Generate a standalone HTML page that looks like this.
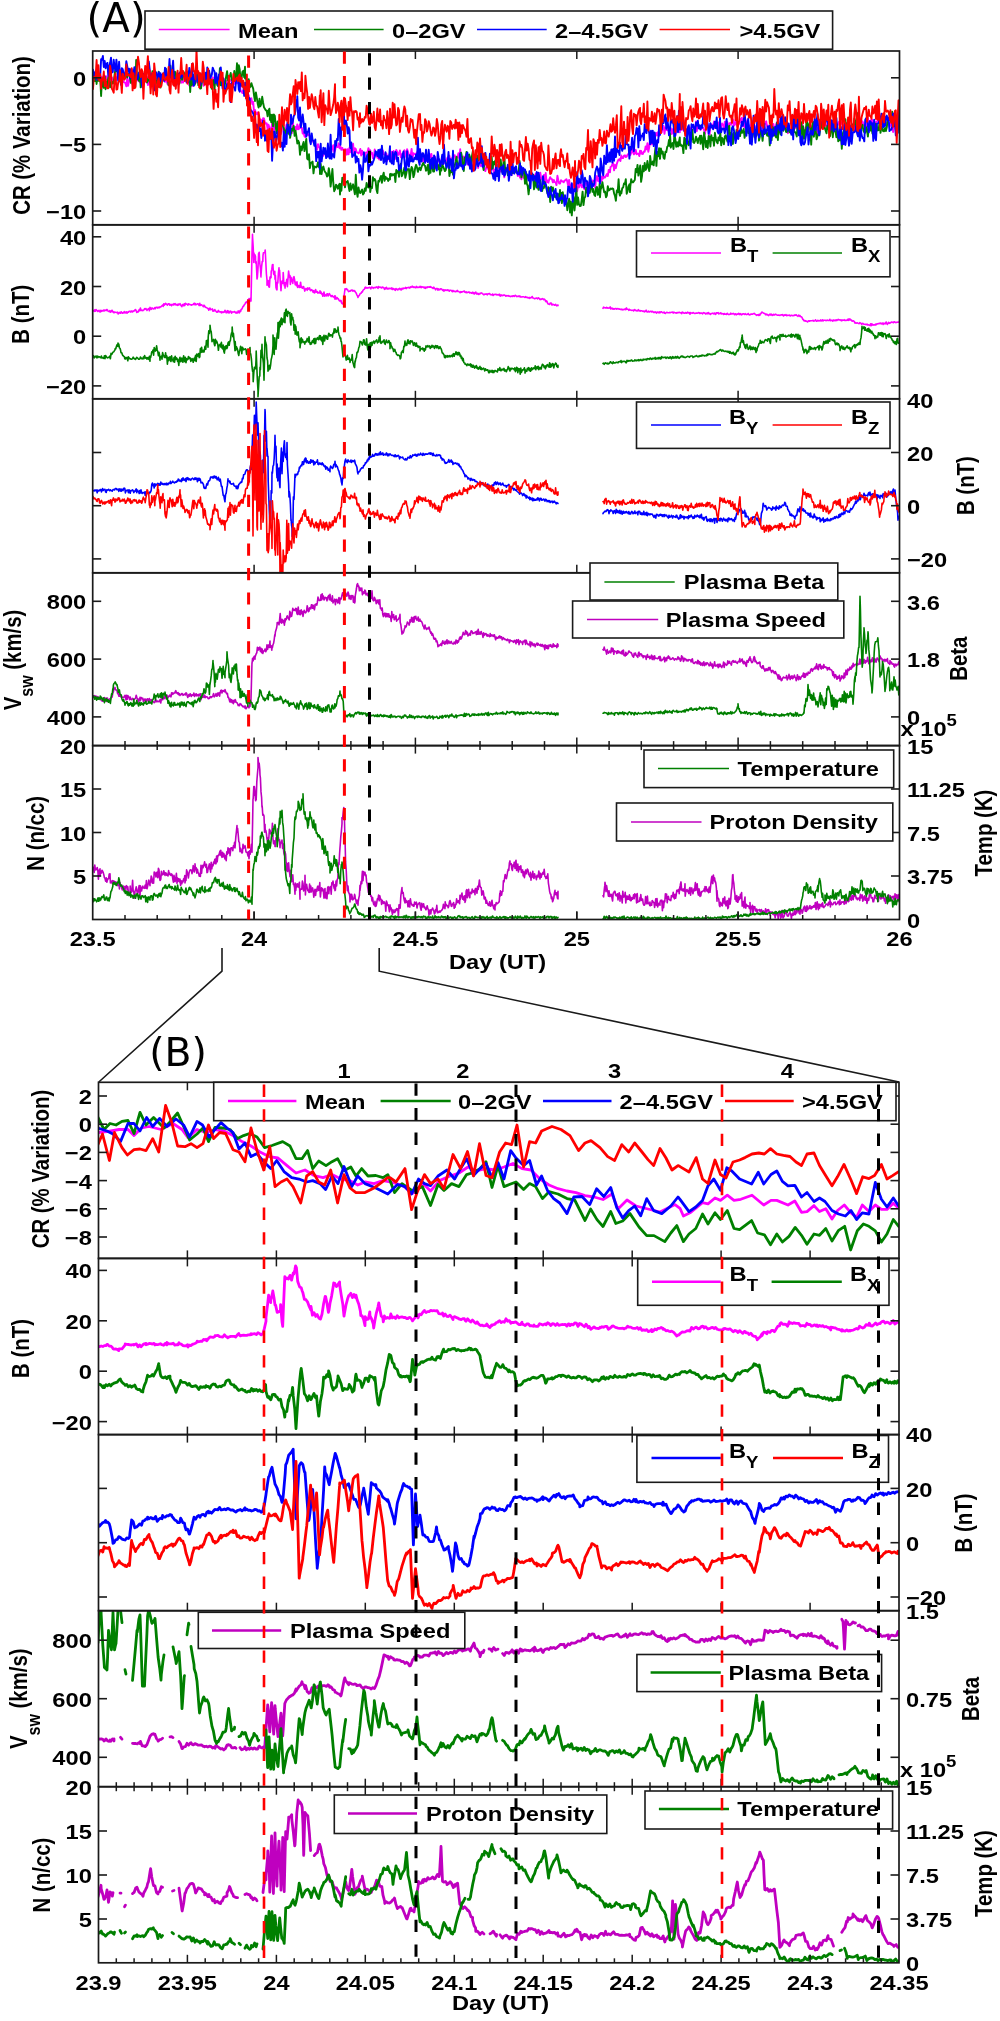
<!DOCTYPE html>
<html><head><meta charset="utf-8"><title>Figure</title><style>html,body{margin:0;padding:0;background:#fff;}svg{display:block;filter:blur(0.4px);}</style></head><body>
<svg width="1000" height="2021" viewBox="0 0 1000 2021">
<rect width="100%" height="100%" fill="#fff"/>
<defs>
<clipPath id="ca0"><rect x="92.7" y="51" width="806.8" height="173.8"/></clipPath>
<clipPath id="cb0"><rect x="98.5" y="1082.3" width="800.5" height="176.1"/></clipPath>
<clipPath id="ca1"><rect x="92.7" y="224.8" width="806.8" height="174"/></clipPath>
<clipPath id="cb1"><rect x="98.5" y="1258.4" width="800.5" height="176.2"/></clipPath>
<clipPath id="ca2"><rect x="92.7" y="398.8" width="806.8" height="174"/></clipPath>
<clipPath id="cb2"><rect x="98.5" y="1434.6" width="800.5" height="176.1"/></clipPath>
<clipPath id="ca3"><rect x="92.7" y="572.8" width="806.8" height="172.8"/></clipPath>
<clipPath id="cb3"><rect x="98.5" y="1610.7" width="800.5" height="176"/></clipPath>
<clipPath id="ca4"><rect x="92.7" y="745.6" width="806.8" height="173.9"/></clipPath>
<clipPath id="cb4"><rect x="98.5" y="1786.7" width="800.5" height="176.1"/></clipPath>
</defs>
<path d="M93 82.2 L93.9 76.8 L94.8 76.4 L95.7 70.6 L96.6 78.2 L97.5 77.8 L98.4 77.6 L99.3 80.2 L100.2 80.7 L101.1 76.6 L102 77.3 L102.9 78.5 L103.8 81.9 L104.7 81.6 L105.6 76.2 L106.5 76.7 L107.4 81.6 L108.3 83.8 L109.2 79 L110.1 76.8 L111 81.5 L111.9 77.4 L112.8 80.2 L113.7 82.4 L114.6 79.9 L115.5 78.2 L116.4 80.1 L117.3 76.6 L118.2 78.3 L119.1 77.7 L120 79 L120.9 78.7 L121.8 80.1 L122.7 80.2 L123.6 82.1 L124.5 82.3 L125.4 83.2 L126.3 86.3 L127.2 78 L128.1 85.9 L129 81.4 L129.9 78.3 L130.8 80.9 L131.7 81.2 L132.6 83.4 L133.5 77 L134.4 80.2 L135.3 79.6 L136.2 74.4 L137.1 75.6 L138 80.7 L138.9 81 L139.8 82.3 L140.7 80.9 L141.6 80.8 L142.5 80.4 L143.4 83.6 L144.3 78.2 L145.2 80.4 L146.1 82.1 L147 76.8 L147.9 85 L148.8 79.3 L149.7 81.5 L150.6 87.7 L151.5 79.3 L152.4 80.1 L153.3 86 L154.2 78.5 L155.1 80.4 L156 82.9 L156.9 82.8 L157.8 83 L158.7 82.3 L159.6 84.9 L160.5 83.8 L161.4 82.5 L162.3 78.7 L163.2 78.4 L164.1 74.8 L165 81.9 L165.9 74.7 L166.8 81.9 L167.7 84.3 L168.6 76 L169.5 76.7 L170.4 77.2 L171.3 80.7 L172.2 75.8 L173.1 77.8 L174 76.8 L174.9 77.6 L175.8 81.8 L176.7 75.9 L177.6 78.9 L178.5 79.8 L179.4 81.4 L180.3 75.9 L181.2 82.7 L182.1 81.1 L183 82.6 L183.9 80.5 L184.8 75.8 L185.7 78.6 L186.6 82.7 L187.5 80.7 L188.4 80.3 L189.3 85.5 L190.2 86.7 L191.1 80.5 L192 86.1 L192.9 75 L193.8 75 L194.7 83.2 L195.6 80.2 L196.5 82.5 L197.4 82.3 L198.3 80.6 L199.2 82.8 L200.1 81.3 L201 76.6 L201.9 81.6 L202.8 81.3 L203.7 85.7 L204.6 77.3 L205.5 80.4 L206.4 79.1 L207.3 79.9 L208.2 84.9 L209.1 81.3 L210 78.9 L210.9 80.7 L211.8 82.4 L212.7 77.2 L213.6 79.1 L214.5 84.2 L215.4 82.3 L216.3 79.8 L217.2 78.7 L218.1 79.8 L219 76 L219.9 83.2 L220.8 81.5 L221.7 81.1 L222.6 77.3 L223.5 79.2 L224.4 83 L225.3 82.6 L226.2 80.9 L227.1 83.9 L228 85.1 L228.9 80.8 L229.8 81.2 L230.7 80.3 L231.6 79.5 L232.5 85 L233.4 84.2 L234.3 83.9 L235.2 79.9 L236.1 80.4 L237 83.2 L237.9 82.5 L238.8 84.1 L239.7 82 L240 86.2 L240.6 90.7 L241.5 91.4 L242.4 93.1 L243.3 90.1 L244.2 93.8 L245.1 91.5 L246 96.4 L246.9 93.9 L247.8 94.7 L248.7 95.2 L249.6 100 L250 99 L250.5 99.8 L251.4 98.3 L252.3 104.2 L253.2 102 L254.1 112.3 L255 109.9 L255.9 113 L256.8 114.3 L257.7 112.5 L258.6 115.3 L259.5 121.3 L260 126.6 L260.4 119.2 L261.3 120.4 L262.2 122.5 L263.1 118.2 L264 118.4 L264.9 122.5 L265.8 123.8 L266.7 123.2 L267.6 129.2 L268.5 124.8 L269.4 126.9 L270.3 130.8 L271.2 131.7 L272.1 122.8 L273 126.6 L273.9 131.2 L274.8 124.2 L275.7 125.9 L276.6 125 L277.5 125.2 L278.4 126.1 L279.3 129.8 L280.2 133.1 L281.1 133.9 L282 129.8 L282.9 124.3 L283.8 129.9 L284.7 129.3 L285 131.2 L285.6 129.7 L286.5 124.7 L287.4 130.7 L288.3 123.5 L289.2 127.2 L290.1 129.9 L291 129.8 L291.9 133.1 L292.8 121.8 L293.7 129.2 L294.6 130.1 L295.5 126.9 L296.4 129.6 L297.3 124.5 L298.2 129.2 L299.1 128.7 L300 124.3 L300 125.5 L300.9 127.9 L301.8 127.7 L302.7 133.6 L303.6 132.3 L304.5 136.4 L305.4 137.1 L306.3 135 L307.2 135.3 L308.1 134.1 L309 135.4 L309.9 136.2 L310.8 140.2 L311.7 137.4 L312.6 140.9 L313.5 142.1 L314.4 141.1 L315.3 142.8 L316.2 148.2 L317.1 149.7 L318 144.1 L318.9 147 L319.8 147.9 L320 148.8 L320.7 154.3 L321.6 152.1 L322.5 154 L323.4 155.7 L324.3 149.6 L325.2 150.4 L326.1 151.2 L327 154 L327.9 150.8 L328.8 152.7 L329.7 154 L330.6 153.7 L331.5 151.4 L332.4 147.6 L333.3 145.2 L334.2 152.5 L335.1 150.2 L336 146 L336.9 147 L337.8 147 L338.7 143.3 L339.6 148.4 L340 145.3 L340.5 146.8 L341.4 149.9 L342.3 147.9 L343.2 150 L344.1 149.9 L345 149.1 L345.9 149.4 L346.8 154.7 L347.7 149.2 L348.6 154.3 L349.5 147.5 L350.4 152.3 L351.3 150.9 L352.2 148.7 L353.1 143.7 L354 155.8 L354.9 148.3 L355.8 149 L356.7 152.4 L357.6 152.6 L358.5 153.4 L359.4 152.1 L360.3 148.9 L361.2 155.6 L362.1 150.8 L363 154 L363.9 155 L364.8 156.6 L365.7 152.6 L366.6 152.4 L367.5 152.7 L368.4 148.1 L369.3 151.1 L370 150.6 L370.2 150.2 L371.1 153.9 L372 152.8 L372.9 158.4 L373.8 158.5 L374.7 149.5 L375.6 155.6 L376.5 152.9 L377.4 157.8 L378.3 157.1 L379.2 159.5 L380.1 158.1 L381 159.6 L381.9 156.6 L382.8 150.5 L383.7 154 L384.6 154.7 L385.5 155.4 L386.4 153.6 L387.3 160.7 L388.2 155.4 L389.1 159.2 L390 154.5 L390.9 159.9 L391.8 151.7 L392.7 156.4 L393.6 150.9 L394.5 155.6 L395.4 158.9 L396.3 149.9 L397.2 151.9 L398.1 155 L399 153.8 L399.9 150.4 L400.8 157.4 L401.7 154.1 L402.6 157.4 L403.5 154.5 L404.4 150.1 L405.3 152 L406.2 157.1 L407.1 149.2 L408 151.9 L408.9 154.8 L409.8 156 L410.7 155.4 L411.6 148.9 L412.5 159.1 L413.4 153.1 L414.3 153.9 L415.2 154.2 L416.1 154 L417 152.3 L417.9 154.4 L418.8 159.3 L419.7 152 L420 149.2 L420.6 157.7 L421.5 157.5 L422.4 158.9 L423.3 162 L424.2 155.3 L425.1 157.9 L426 158.9 L426.9 161.1 L427.8 160.6 L428.7 155.4 L429.6 154 L430.5 157.5 L431.4 153.9 L432.3 161.8 L433.2 157.9 L434.1 158.2 L435 156.7 L435.9 163.7 L436.8 160.5 L437.7 158.6 L438.6 161.5 L439.5 159.8 L440.4 161.8 L441.3 163.8 L442.2 159.5 L443.1 161.7 L444 161.4 L444.9 163 L445.8 161.2 L446.7 159.5 L447.6 157.4 L448.5 159.9 L449.4 155.7 L450.3 160.4 L451.2 158.6 L452.1 159.6 L453 156.3 L453.9 155.4 L454.8 155.2 L455.7 160.9 L456.6 157.3 L457.5 157.4 L458.4 153.3 L459.3 158.5 L460.2 149.3 L461.1 163.3 L462 159 L462.9 160.1 L463.8 156.4 L464.7 157.6 L465.6 162.7 L466.5 160.7 L467.4 162.8 L468.3 165.3 L469.2 163.6 L470 156.5 L470.1 158.9 L471 158.7 L471.9 159.4 L472.8 156.3 L473.7 156.6 L474.6 160.5 L475.5 161.2 L476.4 164.6 L477.3 162.6 L478.2 168 L479.1 159.4 L480 161.1 L480.9 166.2 L481.8 165.1 L482.7 163.5 L483.6 168.8 L484.5 170.2 L485.4 171.1 L486.3 166.6 L487.2 167.9 L488.1 168.7 L489 168.4 L489.9 171.3 L490.8 167.2 L491.7 169.6 L492.6 162.6 L493.5 170.9 L494.4 173.5 L495.3 169.1 L496.2 172.2 L497.1 165 L498 168.8 L498.9 165.6 L499.8 170.9 L500.7 171.6 L501.6 166.4 L502.5 168 L503.4 168.8 L504.3 177.3 L505.2 170.3 L506.1 170.8 L507 171.3 L507.9 171.2 L508.8 169.7 L509.7 166.7 L510.6 168.6 L511.5 175.2 L512.4 171.5 L513.3 170.1 L514.2 167.8 L515.1 171.8 L516 172.6 L516.9 171.2 L517.8 176.1 L518.7 172.6 L519.6 174.3 L520 177.6 L520.5 176.3 L521.4 179.3 L522.3 175.9 L523.2 175.6 L524.1 178.2 L525 177.6 L525.9 180.4 L526.8 178.2 L527.7 176.9 L528.6 178.1 L529.5 178.4 L530.4 173.1 L531.3 175.9 L532.2 175.5 L533.1 179.9 L534 175.3 L534.9 179.7 L535.8 173.4 L536.7 176.9 L537.6 180.3 L538.5 176.9 L539.4 181.2 L540.3 172.6 L541.2 178.6 L542.1 179.2 L543 178.7 L543.9 174.9 L544.8 181.2 L545.7 173 L546.6 182.4 L547.5 180.6 L548.4 182.7 L549.3 179.3 L550.2 177.2 L551.1 178.8 L552 179.2 L552.9 182.4 L553.8 179.9 L554.7 182.1 L555.6 182.4 L556.5 185.1 L557.4 175.8 L558.3 180.3 L559.2 183.5 L560.1 183.6 L561 180.2 L561.9 181 L562.8 181.6 L563.7 182.3 L564.6 180.4 L565.5 180.3 L566.4 179.2 L567.3 181.3 L568.2 186.3 L569.1 179.9 L570 185.6 L570.9 188.7 L571.8 184.2 L572.7 190.7 L573.6 184.2 L574.5 189.7 L575 185.3 L575.4 182.4 L576.3 186.7 L577.2 191.2 L578.1 184.3 L579 187.4 L579.9 183.3 L580.8 183.5 L581.7 187.3 L582.6 185.3 L583.5 187.3 L584.4 189.2 L585.3 181.9 L586.2 182.8 L587.1 184.4 L588 190.4 L588.9 182.7 L589.8 181.8 L590.7 184 L591.6 188.3 L592.5 180.4 L593.4 180.8 L594.3 181.7 L595 183.7 L595.2 187.9 L596.1 177.7 L597 176 L597.9 180.7 L598.8 181.4 L599.7 173.2 L600.6 177.3 L601.5 181.2 L602.4 176.4 L603.3 178.5 L604.2 176.9 L605.1 177.4 L606 175.7 L606.9 174.1 L607.8 176 L608.7 169.9 L609.6 170.5 L610 172.4 L610.5 167 L611.4 166.5 L612.3 164.4 L613.2 163 L614.1 170.3 L615 165 L615.9 168 L616.8 163.9 L617.7 161.2 L618.6 159.5 L619.5 160.1 L620 158.7 L620.4 161.1 L621.3 155.5 L622.2 158 L623.1 158.1 L624 155.6 L624.9 155.3 L625.8 157 L626.7 156.7 L627.6 154.5 L628.5 154.2 L629.4 152.3 L630.3 155.1 L631.2 153 L632.1 148.6 L633 151.9 L633.9 154.3 L634.8 153.2 L635.7 149.8 L636.6 154.2 L637.5 153.7 L638.4 153.7 L639.3 156 L640 150.8 L640.2 153.7 L641.1 151 L642 153.9 L642.9 154 L643.8 151.5 L644.7 151.8 L645.6 146.5 L646.5 149.4 L647.4 143.3 L648.3 151.7 L649.2 147.6 L650.1 138.9 L651 134.5 L651.9 144.3 L652.8 137 L653.7 139.7 L654.6 133.2 L655.5 136 L656.4 132.9 L657.3 135.4 L658.2 131.9 L659.1 136.2 L660 129.1 L660 134.9 L660.9 131 L661.8 132.3 L662.7 126.3 L663.6 125.9 L664.5 133.8 L665.4 127.5 L666.3 129.9 L667.2 130.2 L668.1 128.7 L669 131.9 L669.9 127.3 L670.8 128.1 L671.7 134.1 L672.6 129.1 L673.5 133.1 L674.4 132.7 L675.3 134.9 L676.2 131.7 L677.1 125 L678 127.9 L678.9 128.1 L679.8 132.4 L680 129.7 L680.7 127.4 L681.6 129.8 L682.5 127.5 L683.4 129.9 L684.3 128.8 L685.2 131.4 L686.1 129.3 L687 130.9 L687.9 128 L688.8 129.9 L689.7 127.3 L690.6 129.5 L691.5 128.3 L692.4 127.3 L693.3 126.5 L694.2 127 L695.1 129.1 L696 121.4 L696.9 131.1 L697.8 121.1 L698.7 127.3 L699.6 126.9 L700.5 129.9 L701.4 128.4 L702.3 127.6 L703.2 127.9 L704.1 130.2 L705 133.8 L705.9 128.1 L706.8 120.8 L707.7 125.2 L708.6 127.3 L709.5 135.4 L710.4 123.7 L711.3 124.5 L712.2 127.1 L713.1 126.3 L714 121.5 L714.9 128 L715.8 121.8 L716.7 124.9 L717.6 129.6 L718.5 122.4 L719.4 125.2 L720.3 130.9 L721.2 125.7 L722.1 123.5 L723 124.9 L723.9 128.7 L724.8 121.8 L725.7 124.3 L726.6 121.5 L727.5 122.2 L728.4 128.5 L729.3 124.3 L730.2 122.8 L731.1 124.8 L732 121.1 L732.9 119.4 L733.8 125.8 L734.7 124.8 L735.6 119.8 L736.5 124 L737.4 126 L738.3 123.4 L739.2 123.7 L740.1 119 L741 122.2 L741.9 117.7 L742.8 126.3 L743.7 123 L744.6 127.5 L745.5 121.9 L746.4 126.9 L747.3 120.3 L748.2 123.7 L749.1 126.6 L750 126.4 L750.9 125.5 L751.8 121.3 L752.7 129.8 L753.6 128.2 L754.5 129.8 L755.4 129.9 L756.3 125.9 L757.2 128.2 L758.1 134.9 L759 125.3 L759.9 129.1 L760 126.5 L760.8 133.1 L761.7 129 L762.6 125.8 L763.5 127.1 L764.4 125 L765.3 122.6 L766.2 121.2 L767.1 126.8 L768 125.4 L768.9 128.9 L769.8 126 L770.7 128.9 L771.6 132.9 L772.5 124.3 L773.4 124 L774.3 129.9 L775.2 133.5 L776.1 124.4 L777 122.1 L777.9 126.1 L778.8 125.8 L779.7 129.2 L780.6 124.1 L781.5 126.7 L782.4 126.8 L783.3 123.5 L784.2 123.7 L785.1 129.6 L786 130.1 L786.9 126.3 L787.8 133.2 L788.7 131.5 L789.6 130.2 L790.5 130.6 L791.4 129.9 L792.3 130.9 L793.2 131.1 L794.1 128.9 L795 123 L795.9 128.2 L796.8 126.2 L797.7 125.2 L798.6 130.1 L799.5 123.4 L800.4 130.8 L801.3 126.5 L802.2 124.8 L803.1 125.8 L804 134.8 L804.9 132.2 L805.8 127.1 L806.7 130.8 L807.6 132.7 L808.5 125.2 L809.4 126.7 L810.3 130 L811.2 128.4 L812.1 126.1 L813 131.8 L813.9 128.3 L814.8 129.1 L815.7 133.5 L816.6 128 L817.5 134 L818.4 127.2 L819.3 125.7 L820.2 126.4 L821.1 128.4 L822 127.4 L822.9 126.4 L823.8 121 L824.7 121.7 L825.6 124.1 L826.5 126.8 L827.4 128.9 L828.3 117.9 L829.2 124.3 L830.1 123.5 L831 124.6 L831.9 125.6 L832.8 122.7 L833.7 121.7 L834.6 128.4 L835.5 127.8 L836.4 124.5 L837.3 125.3 L838.2 123.7 L839.1 121.5 L840 127.4 L840.9 123.7 L841.8 122.3 L842.7 123.9 L843.6 130.4 L844.5 127.2 L845.4 126.8 L846.3 126.7 L847.2 129.3 L848.1 129.2 L849 123.9 L849.9 127.2 L850.8 126.3 L851.7 129.1 L852.6 128.5 L853.5 123.1 L854.4 132.1 L855.3 129.5 L856.2 123.5 L857.1 131.5 L858 128.3 L858.9 129.1 L859.8 127.4 L860.7 127.4 L861.6 125.1 L862.5 121.3 L863.4 124 L864.3 126.1 L865.2 125.3 L866.1 126.9 L867 124.5 L867.9 118.2 L868.8 126.5 L869.7 121.8 L870.6 120.2 L871.5 123 L872.4 119.8 L873.3 124.7 L874.2 120.9 L875.1 128.7 L876 122.4 L876.9 121.3 L877.8 120.8 L878.7 116.5 L879.6 120.1 L880.5 120.2 L881.4 121.4 L882.3 116.1 L883.2 122.5 L884.1 126.2 L885 121.5 L885.9 122.7 L886.8 124.4 L887.7 121.3 L888.6 122.7 L889.5 127 L890.4 125.2 L891.3 121.5 L892.2 120.3 L893.1 132 L894 126.9 L894.9 121.2 L895.8 126.1 L896.7 127.4 L897.6 125.6 L898.5 119.5 L899.4 129.7 L900 125.9" stroke="#ff00ff" stroke-width="1.9" fill="none" stroke-linejoin="round" stroke-linecap="round" clip-path="url(#ca0)"/>
<path d="M93 82.2 L93.9 76.2 L94.8 81.1 L95.7 71.5 L96.6 84 L97.5 72.8 L98.4 80.8 L99.3 80.5 L100.2 77.3 L101.1 96 L102 79 L102.9 84.6 L103.8 87.9 L104.7 76.4 L105.6 89.2 L106.5 81.9 L107.4 87.4 L108.3 77.4 L109.2 76.6 L110.1 87.4 L111 83.5 L111.9 81.5 L112.8 83.6 L113.7 82.8 L114.6 74.3 L115.5 68.8 L116.4 71.4 L117.3 70.6 L118.2 68.3 L119.1 76.1 L120 76.7 L120.9 79.1 L121.8 80.3 L122.7 77.2 L123.6 77.6 L124.5 78.7 L125.4 73 L126.3 74.2 L127.2 77.5 L128.1 73.6 L129 73.6 L129.9 75.8 L130.8 82.8 L131.7 77.4 L132.6 74 L133.5 72.6 L134.4 75 L135.3 86.8 L136.2 59.9 L137.1 78.4 L138 77.3 L138.9 80.8 L139.8 71 L140.7 87.4 L141.6 82 L142.5 76.8 L143.4 78.1 L144.3 73.8 L145.2 77.7 L146.1 76.9 L147 82.5 L147.9 79.7 L148.8 77.7 L149.7 81.7 L150.6 81.3 L151.5 79.9 L152.4 71.3 L153.3 84.3 L154.2 73.7 L155.1 74.7 L156 79.4 L156.9 82.6 L157.8 87.1 L158.7 71.6 L159.6 87.1 L160.5 87.5 L161.4 76.6 L162.3 77.7 L163.2 75.6 L164.1 75.1 L165 71 L165.9 68.7 L166.8 75.8 L167.7 77.8 L168.6 85.4 L169.5 71.2 L170.4 65.7 L171.3 77.2 L172.2 74.3 L173.1 78.9 L174 75.4 L174.9 71.6 L175.8 74.7 L176.7 82.5 L177.6 80.3 L178.5 74.3 L179.4 83.7 L180.3 72.1 L181.2 76.5 L182.1 79.8 L183 71.8 L183.9 72.4 L184.8 78 L185.7 77.2 L186.6 75.9 L187.5 74.1 L188.4 71.3 L189.3 73 L190.2 92 L191.1 73.8 L192 85 L192.9 74.7 L193.8 84.9 L194.7 84.7 L195.6 81.2 L196.5 76.3 L197.4 73 L198.3 85.1 L199.2 74.1 L200 74.3 L200.1 88.6 L201 88.3 L201.9 81.3 L202.8 79.9 L203.7 77.8 L204.6 82.9 L205.5 78.5 L206.4 73.1 L207.3 76.8 L208.2 81.7 L209.1 72.6 L210 75.5 L210.9 80.9 L211.8 88.7 L212.7 81.1 L213.6 80.1 L214.5 89.8 L215.4 75.1 L216.3 76.9 L217.2 84.9 L218.1 86.2 L219 83.2 L219.9 68.1 L220.8 85.3 L221.7 85 L222.6 82 L223.5 84.8 L224.4 88.4 L225.3 81.4 L226.2 76.2 L227.1 71.2 L228 80.4 L228.9 76 L229.8 76.3 L230.7 73 L231.6 79.4 L232.5 81.1 L233.4 79.2 L234.3 71 L235.2 80.6 L236.1 77.6 L237 63.2 L237.9 78.2 L238.8 65.1 L239.7 69.5 L240.6 80.5 L241.5 78.5 L242.4 71.9 L243.3 70.8 L244.2 77.3 L245 66.8 L245.1 78.6 L246 77 L246.9 84.4 L247.8 82 L248.7 79.1 L249.6 87.5 L250.5 86.6 L251.4 83.1 L252.3 86.2 L253.2 88.6 L254.1 95.8 L255 101 L255 97.1 L255.9 92.5 L256.8 97.7 L257.7 103.7 L258.6 107.6 L259.5 98.6 L260.4 106.2 L261.3 104.1 L262.2 96.8 L263.1 102.4 L264 107.2 L264.9 108.7 L265.8 110.4 L266.7 110.4 L267.6 116.4 L268.5 110.6 L269.4 108.7 L270 119.9 L270.3 114.4 L271.2 122.2 L272.1 114.7 L273 126.3 L273.9 114.5 L274.8 115.7 L275.7 126.6 L276.6 133.2 L277.5 121.5 L278.4 134.7 L279.3 135.8 L280.2 133.1 L281.1 129.3 L282 120.1 L282.9 123.9 L283.8 128 L284.7 134.9 L285.6 131.7 L286.5 129.3 L287.4 133.1 L288.3 124.2 L289.2 134.4 L290 127.4 L290.1 137.9 L291 132.9 L291.9 128.7 L292.8 130.5 L293.7 125.9 L294.6 135.8 L295.5 130.7 L296.4 136.3 L297.3 143.5 L298.2 140.7 L299.1 142.6 L300 154.8 L300.9 146.5 L301.8 150.3 L302.7 145 L303.6 142 L304.5 151.1 L305.4 146.1 L306.3 138.9 L307.2 158.8 L308.1 159.5 L309 154.3 L309.9 168.1 L310.8 162.8 L311.7 162.5 L312.6 161.6 L313.5 173.4 L314.4 166.5 L315.3 166.8 L316.2 167.4 L317.1 166.3 L318 162.3 L318.9 167.1 L319.8 166.7 L320 174 L320.7 163.8 L321.6 174 L322.5 167.9 L323.4 166.6 L324.3 170.3 L325.2 172.2 L326.1 173.2 L327 176.5 L327.9 175.7 L328.8 168.2 L329.7 173.8 L330.6 186.6 L331.5 178.9 L332.4 169 L333.3 182.7 L334.2 191.2 L335.1 189.3 L336 184.6 L336.9 186 L337.8 188.7 L338.7 185.2 L339.6 183.8 L340 194.5 L340.5 184.1 L341.4 190.8 L342.3 177.6 L343.2 181.2 L344.1 179.4 L345 187.3 L345.9 182 L346.8 182 L347.7 180.9 L348.6 186.5 L349.5 191 L350.4 183.4 L351.3 189.7 L352.2 187 L353.1 184.3 L354 189.4 L354.9 194.3 L355.8 174.8 L356.7 191.5 L357.6 196.9 L358.5 187.4 L359.4 192.1 L360.3 193.1 L361.2 191 L362.1 189.6 L363 194.5 L363.9 193.2 L364.8 188.5 L365.7 190.8 L366.6 182.9 L367.5 186.4 L368.4 187.6 L369.3 186.5 L370 182.8 L370.2 192 L371.1 186.9 L372 188.1 L372.9 177.2 L373.8 180.6 L374.7 179 L375.6 181 L376.5 189.7 L377.4 193.1 L378.3 181 L379.2 181.5 L380.1 178.1 L381 175.9 L381.9 182.8 L382.8 176 L383.7 172.7 L384.6 180.8 L385.5 176.7 L386.4 178.7 L387.3 178.3 L388.2 181 L389.1 178.8 L390 179.5 L390 174.1 L390.9 173.8 L391.8 175.7 L392.7 174.3 L393.6 175 L394.5 173.8 L395.4 182 L396.3 169.9 L397.2 172.7 L398.1 170.9 L399 176.8 L399.9 166.1 L400.8 163.8 L401.7 176.3 L402.6 174.5 L403.5 171.8 L404.4 167.4 L405.3 177.7 L406.2 174 L407.1 169.1 L408 169.6 L408.9 168.9 L409.8 179.1 L410.7 171.3 L411.6 166.9 L412.5 168.8 L413.4 177.1 L414.3 174.3 L415.2 167.5 L416.1 164.8 L417 167.6 L417.9 171.9 L418.8 168.3 L419.7 167.4 L420.6 170.2 L421.5 167.2 L422.4 164.5 L423.3 162.9 L424.2 165.1 L425.1 166 L426 170.8 L426.9 169.6 L427.8 164.9 L428.7 174.2 L429.6 162.3 L430.5 172.9 L431.4 162.1 L432.3 165.9 L433.2 171.5 L434.1 171.5 L435 162.7 L435.9 167.2 L436.8 161.3 L437.7 166 L438.6 169.4 L439.5 164.4 L440 174.7 L440.4 169.9 L441.3 170.6 L442.2 164.3 L443.1 166.4 L444 168.6 L444.9 171.1 L445.8 170 L446.7 164.2 L447.6 161.7 L448.5 159.7 L449.4 176 L450.3 170.8 L451.2 172.3 L452.1 163.9 L453 174.6 L453.9 166.9 L454.8 165.3 L455.7 161.4 L456.6 156.8 L457.5 167.1 L458.4 163.8 L459.3 163 L460.2 156 L461.1 152.6 L462 156.6 L462.9 166.3 L463.8 171 L464.7 157.6 L465.6 158.7 L466.5 151.9 L467.4 154.5 L468.3 160.6 L469.2 154.5 L470.1 158.6 L471 163.8 L471.9 156.5 L472.8 151.5 L473.7 165.3 L474.6 160 L475.5 157.9 L476.4 158.5 L477.3 155.8 L478.2 160.6 L479.1 150.5 L480 157.6 L480 152.3 L480.9 158.6 L481.8 163 L482.7 159.7 L483.6 170 L484.5 161.8 L485.4 158.9 L486.3 164.5 L487.2 164.7 L488.1 165.6 L489 164.4 L489.9 164 L490.8 169.4 L491.7 156.7 L492.6 168.6 L493.5 161.9 L494.4 164.2 L495.3 160.5 L496.2 171.5 L497.1 154.9 L498 159.1 L498.9 163.4 L499.8 169.1 L500.7 159.5 L501.6 169 L502.5 172.4 L503.4 163 L504.3 155.2 L505.2 172.2 L506.1 168.1 L507 168.8 L507.9 175.3 L508.8 173.9 L509.7 167.5 L510.6 171.2 L511.5 166.2 L512.4 173 L513.3 170.4 L514.2 173.3 L515.1 167.6 L516 171.8 L516.9 172.4 L517.8 173.5 L518.7 171.2 L519.6 161 L520 173.8 L520.5 165.7 L521.4 177.2 L522.3 172.5 L523.2 173.4 L524.1 170.9 L525 183.8 L525.9 171.9 L526.8 183.7 L527.7 185.8 L528.6 194.3 L529.5 186.1 L530.4 179.5 L531.3 176.1 L532.2 177.7 L533.1 174.6 L534 189.4 L534.9 184.7 L535.8 177.9 L536.7 187.6 L537.6 184.8 L538.5 189.9 L539.4 187.1 L540.3 180.1 L541.2 186.6 L542.1 191 L543 187.3 L543.9 188 L544.8 181.9 L545.7 185.3 L546.6 189.4 L547.5 193.5 L548.4 187.3 L549.3 188.7 L550.2 202 L551.1 186.8 L552 190.8 L552.9 187.5 L553.8 192.5 L554.7 196.8 L555.6 197.2 L556.5 195.6 L557.4 200.4 L558.3 194.3 L559.2 198 L560 189.9 L560.1 200.2 L561 192.7 L561.9 203.1 L562.8 192.3 L563.7 199.9 L564.6 201 L565.5 201.8 L566.4 200.5 L567.3 210.2 L568.2 205.5 L569.1 198.8 L570 203.2 L570 212.5 L570.9 201.6 L571.8 215.4 L572.7 204.4 L573.6 197 L574.5 210.5 L575.4 201.4 L576.3 186.7 L577.2 204.9 L578.1 197.5 L579 204.3 L579.9 206 L580.8 205.8 L581.7 199.6 L582.6 191.6 L583.5 205.1 L584.4 197.9 L585.3 196.7 L586.2 187.6 L587.1 190.7 L588 194.2 L588.9 191.7 L589.8 192.8 L590.7 186.4 L591.6 182 L592.5 191.8 L593.4 189.1 L594.3 194.9 L595.2 196 L596.1 188.1 L597 186.9 L597.9 194.8 L598.8 192.8 L599.7 183.4 L600 197.3 L600.6 189.6 L601.5 187.7 L602.4 182.2 L603.3 187.4 L604.2 192.4 L605.1 191.6 L606 197.3 L606.9 195.5 L607.8 186.2 L608.7 190.5 L609.6 190.1 L610.5 188.6 L611.4 189 L612.3 188.4 L613.2 188.8 L614.1 193.4 L615 196 L615.9 200.7 L616.8 190.5 L617.7 192.2 L618.6 179.2 L619.5 194 L620 195.6 L620.4 191.5 L621.3 193.5 L622.2 188.3 L623.1 187.6 L624 183.4 L624.9 184 L625.8 179.3 L626.7 193.7 L627.6 191.1 L628.5 186.3 L629.4 184.3 L630 192.1 L630.3 186.6 L631.2 179.2 L632.1 182.2 L633 182.4 L633.9 181.1 L634.8 180 L635.7 168.9 L636.6 172.2 L637.5 164.9 L638.4 175.6 L639.3 170.9 L640.2 165.4 L641.1 181.9 L642 176 L642.9 165.9 L643.8 171.4 L644.7 163 L645.6 170 L646.5 168.4 L647.4 161 L648.3 165.7 L649.2 171 L650 166.6 L650.1 155.9 L651 163.2 L651.9 164.6 L652.8 161.5 L653.7 165.3 L654.6 155.8 L655.5 147 L656.4 165.9 L657.3 151.9 L658.2 156.2 L659.1 148.2 L660 158.8 L660.9 148.4 L661.8 153.5 L662.7 151.5 L663.6 157.8 L664.5 158.8 L665.4 151.8 L666.3 152.1 L667.2 146.9 L668.1 145.9 L669 139.9 L669.9 146.1 L670 133.3 L670.8 147.6 L671.7 143.7 L672.6 143.1 L673.5 149 L674.4 134.2 L675.3 138.9 L676.2 146.7 L677.1 142.1 L678 146.5 L678.9 142.3 L679.8 137.5 L680 145.5 L680.7 144.4 L681.6 145.9 L682.5 145.5 L683.4 153.1 L684.3 137.7 L685.2 139.3 L686.1 149 L687 136.6 L687.9 140.9 L688.8 145.4 L689.7 141.4 L690.6 141.5 L691.5 138.7 L692.4 129.6 L693.3 142.3 L694.2 142.9 L695.1 140.8 L696 136.6 L696.9 140.1 L697.8 143.1 L698.7 138.2 L699.6 138.4 L700 135.7 L700.5 143.8 L701.4 135.6 L702.3 139.8 L703.2 149.2 L704.1 132.4 L705 138.4 L705.9 147 L706.8 140.9 L707.7 148 L708.6 136 L709.5 136.7 L710.4 146.5 L711.3 135.2 L712.2 140.2 L713.1 138 L714 145.7 L714.9 132.8 L715.8 138.2 L716.7 141.8 L717.6 143.3 L718.5 137.4 L719.4 140.3 L720.3 132.9 L721.2 145.3 L722.1 138 L723 139.5 L723.9 144.4 L724.8 136.5 L725.7 135.2 L726.6 138.7 L727.5 141.6 L728.4 127.5 L729.3 125.8 L730.2 137.3 L731.1 133 L732 134.2 L732.9 144 L733.8 132.8 L734.7 133.3 L735.6 140.2 L736.5 130 L737.4 134.9 L738.3 133.4 L739.2 135.5 L740.1 136.1 L741 129 L741.9 132.9 L742.8 132.3 L743.7 128.9 L744.6 137.8 L745.5 132.5 L746.4 129.8 L747.3 127.5 L748.2 133 L749.1 129.3 L750 137.2 L750.9 139.7 L751.8 132.1 L752.7 130.6 L753.6 131.7 L754.5 137.1 L755.4 129.7 L756.3 135.9 L757.2 129.5 L758.1 120.4 L759 140.6 L759.9 136.6 L760 131.1 L760.8 132.9 L761.7 133.2 L762.6 140.8 L763.5 131.1 L764.4 134.1 L765.3 131.5 L766.2 130 L767.1 135.6 L768 135.8 L768.9 130.9 L769.8 145.4 L770.7 118.9 L771.6 140.3 L772.5 126.8 L773.4 128.4 L774.3 134.9 L775.2 135.7 L776.1 137.4 L777 122.7 L777.9 140 L778.8 123.9 L779.7 130 L780.6 134.3 L781.5 127.7 L782.4 126.6 L783.3 130.8 L784.2 126.4 L785.1 120.5 L786 131.8 L786.9 132 L787.8 129.5 L788.7 128.6 L789.6 132.4 L790.5 132.1 L791.4 133.5 L792.3 129.8 L793.2 118.4 L794.1 132 L795 132 L795.9 133.2 L796.8 136.5 L797.7 121.9 L798.6 113.8 L799.5 133.7 L800 132 L800.4 128.6 L801.3 122.1 L802.2 137.2 L803.1 126.4 L804 138.8 L804.9 130.2 L805.8 134.1 L806.7 115.4 L807.6 131.9 L808.5 125.7 L809.4 123 L810.3 128.3 L811.2 144.6 L812.1 127.4 L813 121.7 L813.9 136.7 L814.8 126.4 L815.7 130.4 L816.6 139.2 L817.5 136 L818.4 133.6 L819.3 135.3 L820.2 128.7 L821.1 122.3 L822 127.6 L822.9 125.8 L823.8 128 L824.7 127.4 L825.6 130.5 L826.5 133.3 L827.4 125.4 L828.3 127.3 L829.2 131 L830.1 136.1 L831 129 L831.9 121.5 L832.8 137.2 L833.7 126.3 L834.6 131.4 L835.5 131.3 L836.4 137.3 L837.3 125.1 L838.2 141.3 L839.1 132.2 L840 140.3 L840.9 132.7 L841.8 148.7 L842.7 134.1 L843.6 131.1 L844.5 128.6 L845.4 119.1 L846.3 139.7 L847.2 123.2 L848.1 131.1 L849 133.7 L849.9 132.7 L850.8 128.2 L851.7 124.2 L852.6 130.5 L853.5 126.5 L854.4 118.4 L855.3 121.2 L856.2 129.2 L857.1 130.3 L858 112.9 L858.9 126.8 L859.8 123.9 L860.7 130 L861.6 126.2 L862.5 124.7 L863.4 130.8 L864.3 132.1 L865.2 132.7 L866.1 127.1 L867 130 L867.9 136.6 L868.8 127.2 L869.7 124.2 L870.6 130.6 L871.5 123.7 L872.4 133.5 L873.3 124.4 L874.2 127.1 L875.1 134.3 L876 123.7 L876.9 126.8 L877.8 130.5 L878.7 130 L879.6 120.9 L880.5 132.9 L881.4 127 L882.3 128.4 L883.2 131.1 L884.1 131.3 L885 128 L885.9 131 L886.8 127.3 L887.7 119 L888.6 118.5 L889.5 120 L890.4 119.2 L891.3 121.9 L892.2 111.8 L893.1 123.1 L894 126 L894.9 125.9 L895.8 122 L896.7 115.9 L897.6 132.6 L898.5 118 L899.4 119.5 L900 122.6" stroke="#008000" stroke-width="1.9" fill="none" stroke-linejoin="round" stroke-linecap="round" clip-path="url(#ca0)"/>
<path d="M93 69.6 L93.9 78.5 L94.8 72.5 L95.7 75 L96.6 79.9 L97.5 73.9 L98.4 77.9 L99.3 73.8 L100.2 76.5 L101.1 59.2 L102 59.8 L102.9 56 L103.8 67 L104.7 61 L105.6 68.2 L106.5 64.2 L107.4 62.9 L108.3 76.1 L109.2 66.4 L110.1 63.1 L111 57.6 L111.9 72.6 L112.8 71.9 L113.7 59.8 L114.6 67.1 L115.5 70.7 L116.4 59.6 L117.3 69.1 L118.2 80.6 L119.1 61.7 L120 75.4 L120.9 84.7 L121.8 68.2 L122.7 69.2 L123.6 73.1 L124.5 74.8 L125.4 73.7 L126.3 61.2 L127.2 66 L128.1 71.6 L129 68.7 L129.9 78.4 L130.8 69.2 L131.7 69.5 L132.6 84.3 L133.5 72.5 L134.4 67.1 L135.3 74.1 L136.2 72.9 L137.1 79.4 L138 77.9 L138.9 72.6 L139.8 72.4 L140.7 71.2 L141.6 83.2 L142.5 87.6 L143.4 73.8 L144.3 77.7 L145.2 76.2 L146.1 70.5 L147 70.3 L147.9 70.7 L148.8 61.5 L149.7 69.4 L150 77.6 L150.6 81 L151.5 74.1 L152.4 73.8 L153.3 80.7 L154.2 90.4 L155.1 71.2 L156 72.4 L156.9 74.9 L157.8 81.2 L158.7 72.1 L159.6 81.1 L160.5 73.1 L161.4 81 L162.3 75.1 L163.2 73.6 L164.1 81 L165 67.6 L165.9 69.7 L166.8 79 L167.7 78.8 L168.6 75 L169.5 59 L170.4 77.6 L171.3 75.2 L172.2 70.9 L173.1 60.8 L174 79.2 L174.9 85.6 L175.8 78.4 L176.7 84.7 L177.6 72.9 L178.5 79.5 L179.4 74.7 L180.3 72.4 L181.2 77.8 L182.1 74.4 L183 76.1 L183.9 75.9 L184.8 78.4 L185.7 79.5 L186.6 82 L187.5 72.4 L188.4 82 L189.3 67.9 L190.2 79.6 L191.1 79.3 L192 63.9 L192.9 76.8 L193.8 85.9 L194.7 81.7 L195.6 75.6 L196.5 75.4 L197.4 81 L198.3 80.1 L199.2 84.8 L200 80.4 L200.1 85.4 L201 82.3 L201.9 74.5 L202.8 72.8 L203.7 75.5 L204.6 81.3 L205.5 72.8 L206.4 83.6 L207.3 67.4 L208.2 75.3 L209.1 70.6 L210 78.4 L210.9 76.7 L211.8 74.9 L212.7 67.7 L213.6 69.9 L214.5 71.5 L215.4 83 L216.3 73.1 L217.2 81.4 L218.1 84.9 L219 74.4 L219.9 77.7 L220.8 67.5 L221.7 80.2 L222.6 88.3 L223.5 78.5 L224.4 87.9 L225.3 91.3 L226.2 89 L227.1 83.9 L228 88.4 L228.9 82.4 L229.8 84 L230.7 102.1 L231.6 83.2 L232.5 81.9 L233.4 87 L234.3 87.6 L235.2 90.7 L236.1 80.5 L237 78.5 L237.9 78.7 L238.8 89.6 L239.7 91.7 L240 79.5 L240.6 81.8 L241.5 85.9 L242.4 81.1 L243.3 85.4 L244.2 95.9 L245.1 82.7 L246 94.3 L246.9 100.9 L247.8 87.5 L248 101.8 L248.7 97.8 L249.6 98.4 L250.5 111.5 L251.4 110.4 L252.3 112.1 L253.2 113.6 L254.1 115.9 L255 121.6 L255 123.2 L255.9 130.5 L256.8 124.5 L257.7 128.7 L258.6 125.1 L259.5 131.1 L260.4 128.4 L261.3 138 L262.2 132.4 L263.1 120.8 L264 132 L264.9 131.1 L265 140.7 L265.8 134.8 L266.7 140.7 L267.6 140.2 L268.5 131.6 L269.4 134.6 L270.3 137.5 L271.2 131.1 L272.1 160.8 L273 142.8 L273.9 131.8 L274.8 131.6 L275.7 142 L276.6 139.3 L277.5 132.3 L278.4 131.5 L279.3 143.3 L280.2 140.4 L281.1 146.2 L282 142.8 L282.9 150.5 L283.8 131.4 L284.7 146.8 L285 137.2 L285.6 134.4 L286.5 144 L287.4 122.5 L288.3 131.6 L289.2 127.5 L290.1 134.9 L291 114.8 L291.9 123.7 L292.8 121.8 L293.7 116.2 L294.6 114.7 L295.5 110.7 L296.4 100 L297 104.7 L297.3 96.3 L298.2 117.6 L299.1 120.4 L300 107.5 L300.9 127.2 L301.8 120.8 L302.7 114.5 L303.6 122.1 L304.5 132.8 L305 129.7 L305.4 123.7 L306.3 136.6 L307.2 132.3 L308.1 131.6 L309 128.1 L309.9 140.7 L310.8 144.2 L311.7 133.4 L312.6 139.8 L313.5 141.3 L314.4 145.7 L315.3 139.4 L316.2 161.1 L317.1 151.7 L318 157.4 L318.9 151.6 L319.8 168.8 L320 158.6 L320.7 143.8 L321.6 161.6 L322.5 154.5 L323.4 147.7 L324.3 153.8 L325.2 148.2 L326.1 158.1 L327 157 L327.9 143.5 L328.8 156.4 L329.7 158.5 L330.6 134.8 L331.5 158.9 L332.4 154.1 L333.3 154.3 L334.2 157.5 L335 147 L335.1 140.9 L336 145.8 L336.9 139 L337.8 140.1 L338.7 119 L339.6 128.1 L340.5 144.7 L341.4 127.3 L342.3 128.5 L343.2 121.6 L344 114.7 L344.1 122.8 L345 124.9 L345.9 120.5 L346.8 124.5 L347.7 133.5 L348.6 127.2 L349.5 130.4 L350 146.2 L350.4 148.1 L351.3 142.5 L352.2 157 L353.1 155.3 L354 155.1 L354.9 151.9 L355.8 162.6 L356.7 156.4 L357.6 161.4 L358.5 159 L359.4 172.6 L360 166.4 L360.3 165.2 L361.2 168.9 L362.1 179.7 L363 169.6 L363.9 152.2 L364.8 161.7 L365.7 161.7 L366.6 157 L367.5 154.3 L368.4 171.4 L369.3 164.8 L370.2 165.7 L371.1 161.9 L372 164.7 L372.9 162.2 L373.8 159.8 L374.7 157 L375.6 151.3 L376.5 152.2 L377.4 156 L378.3 149.9 L379.2 157.8 L380.1 149.5 L381 160 L381.9 145.6 L382.8 156.8 L383.7 163 L384.6 160.9 L385.5 152.2 L386.4 164.4 L387.3 156.2 L388.2 158.9 L389.1 156.8 L390 146.2 L390 161.5 L390.9 161.1 L391.8 163.5 L392.7 152.3 L393.6 164.4 L394.5 155 L395.4 151.7 L396.3 152.9 L397.2 161.4 L398.1 157.6 L399 170.3 L399.9 165.8 L400.8 168.4 L401.7 160.1 L402.6 154.5 L403.5 151.5 L404.4 160.4 L405.3 170.2 L406.2 170 L407.1 151.2 L408 163.9 L408.9 166.6 L409.8 155.1 L410.7 161.3 L411.6 156.4 L412.5 161.6 L413.4 161.6 L414.3 157.9 L415.2 159 L416.1 154.5 L417 159.5 L417.9 137.7 L418.8 161.6 L419.7 164.9 L420 149.3 L420.6 156.6 L421.5 161.6 L422.4 153.1 L423.3 153.4 L424.2 157.7 L425.1 162.9 L426 149.6 L426.9 160.4 L427.8 162.2 L428.7 149.8 L429.6 159.9 L430.5 168.7 L431.4 159.3 L432.3 158 L433.2 168.4 L434.1 155.4 L435 158.3 L435.9 167.8 L436.8 170.5 L437.7 152 L438.6 157.4 L439.5 161.5 L440.4 166.4 L441.3 161.4 L442.2 154.8 L443.1 164.1 L444 144.8 L444.9 160.5 L445.8 164.7 L446.7 167.7 L447.6 163.9 L448.5 152 L449.4 168.1 L450.3 159.1 L451.2 160 L452.1 170.9 L453 150.8 L453.9 178.4 L454.8 170.2 L455.7 169.8 L456.6 163.2 L457.5 168.4 L458.4 167.6 L459.3 165 L460.2 153.4 L461.1 166.3 L462 165 L462.9 169.4 L463.8 165.8 L464.7 164.9 L465.6 164.7 L466.5 154.1 L467.4 152.5 L468.3 164.3 L469.2 160.7 L470 168.7 L470.1 158.2 L471 162.9 L471.9 171.5 L472.8 167.2 L473.7 161.2 L474.6 170.4 L475.5 168.3 L476.4 159.3 L477.3 161.5 L478.2 166.2 L479.1 163.3 L480 162.8 L480.9 160.7 L481.8 146.3 L482.7 166.8 L483.6 165.7 L484.5 163.1 L485.4 152.9 L486.3 162.5 L487.2 165.6 L488.1 165.3 L489 166.7 L489.9 153.6 L490.8 172.9 L491.7 173.2 L492.6 174.3 L493.5 178.9 L494.4 172.4 L495.3 180.3 L496.2 163.9 L497.1 176.1 L498 170.5 L498.9 181 L499.8 168.6 L500.7 167.9 L501.6 166.9 L502.5 174 L503.4 165.3 L504.3 175.7 L505.2 174.4 L506.1 169.8 L507 169.9 L507.9 164.6 L508.8 180.8 L509.7 173.9 L510.6 160.9 L511.5 175.1 L512.4 161.7 L513.3 170.7 L514.2 173.5 L515.1 167.6 L516 166.2 L516.9 172.7 L517.8 174.4 L518.7 172.6 L519.6 174.4 L520 163.3 L520.5 172.3 L521.4 166.8 L522.3 174.8 L523.2 167.9 L524.1 169.8 L525 169.4 L525.9 173 L526.8 174.2 L527.7 175.5 L528.6 180.5 L529.5 171.2 L530.4 188.1 L531.3 175.5 L532.2 173.3 L533.1 180.5 L534 176.1 L534.9 176.2 L535.8 180.8 L536.7 172 L537.6 187.3 L538.5 172.6 L539.4 177.7 L540.3 189.9 L541.2 191.1 L542.1 186.9 L543 176.3 L543.9 183.9 L544.8 183.2 L545.7 183.9 L546.6 187.2 L547.5 192.8 L548.4 197 L549.3 194 L550.2 187.6 L551.1 194 L552 195.9 L552.9 200.4 L553.8 191.3 L554.7 192.7 L555 191.6 L555.6 189 L556.5 199 L557.4 193.4 L558.3 203.2 L559.2 202.7 L560.1 197.6 L561 199 L561.9 195 L562.8 199 L563.7 198.7 L564.6 205.9 L565 195.1 L565.5 204.3 L566.4 200.5 L567.3 197.6 L568.2 186.7 L569.1 186.8 L570 192.6 L570.9 192.8 L571.8 183.3 L572.7 201.7 L573.6 191 L574.5 188.4 L575.4 191.6 L576.3 181.8 L577.2 172 L578.1 183.6 L579 178.6 L579.9 182.5 L580.8 182.8 L581.7 170.1 L582.6 174.6 L583.5 184.9 L584.4 187.8 L585 177.8 L585.3 179.6 L586.2 181.1 L587.1 181.1 L588 196.4 L588.9 190.7 L589.8 176 L590.7 178.3 L591.6 187.5 L592.5 183.9 L593.4 185.9 L594.3 183.4 L595.2 172.8 L596.1 169.1 L597 166.6 L597.9 170 L598.8 176.1 L599.7 168.2 L600 183.6 L600.6 158.4 L601.5 164.9 L602.4 171.8 L603.3 175.5 L604.2 155.7 L605.1 162.4 L606 163.9 L606.9 145.3 L607.8 162.2 L608.7 157 L609.6 152.5 L610 161.6 L610.5 155.7 L611.4 149.5 L612.3 162.6 L613.2 148.9 L614.1 160.8 L615 136.5 L615.9 157.1 L616.8 148.6 L617.7 151.8 L618.6 150.7 L619.5 155 L620 142.8 L620.4 147 L621.3 145.8 L622.2 150.9 L623.1 147.3 L624 148.6 L624.9 148.6 L625.8 134.4 L626.7 143.6 L627.6 144.9 L628.5 144.8 L629.4 158.6 L630.3 147 L631.2 149.6 L632.1 137.8 L633 145.6 L633.9 151.3 L634.8 136.2 L635.7 134.4 L636.6 128 L637.5 128.7 L638.4 147.4 L639.3 126.2 L640 134.6 L640.2 140.4 L641.1 136 L642 136.3 L642.9 133.5 L643.8 140.1 L644.7 124.1 L645.6 130.9 L646.5 133.1 L647.4 121.6 L648.3 129 L649.2 132.7 L650.1 144.2 L651 130.8 L651.9 142.9 L652.8 130.7 L653.7 146.1 L654.6 132.4 L655.5 142 L656.4 153.7 L657.3 140.2 L658.2 142.5 L659.1 125.2 L660 134.4 L660 134.8 L660.9 127.7 L661.8 129.6 L662.7 119.7 L663.6 123 L664.5 117.1 L665.4 114.5 L666.3 128.7 L667.2 118.1 L668.1 125.2 L669 135.4 L669.9 130.5 L670.8 119.7 L671.7 122.6 L672.6 119.9 L673.5 124.5 L674.4 136.1 L675.3 135.8 L676.2 122 L677.1 116.3 L678 132.3 L678.9 110.8 L679.8 129.5 L680 111.2 L680.7 129.4 L681.6 128.4 L682.5 124.3 L683.4 120.1 L684.3 131.2 L685.2 130.8 L686.1 129.3 L687 143.8 L687.9 127.1 L688.8 125.2 L689.7 137.9 L690.6 148.5 L691.5 124.3 L692.4 126.9 L693.3 124.7 L694.2 129.7 L695.1 132.6 L696 122.5 L696.9 125.6 L697.8 120.7 L698.7 128.4 L699.6 125.3 L700.5 129.4 L701.4 125.2 L702.3 127.7 L703.2 116 L704.1 122.6 L705 124.4 L705.9 128.3 L706.8 120.3 L707.7 124 L708.6 133.8 L709.5 130.3 L710.4 123.2 L711.3 127.5 L712.2 125.6 L713.1 129.3 L714 125.8 L714.9 121.6 L715.8 128.1 L716.7 117.4 L717.6 131.6 L718.5 133.5 L719.4 132.6 L720 117.7 L720.3 125.6 L721.2 132.2 L722.1 128.4 L723 129.2 L723.9 128.6 L724.8 133.2 L725.7 127.8 L726.6 118.9 L727.5 132.2 L728.4 145.1 L729.3 136.2 L730.2 136.2 L731.1 145.4 L732 128 L732.9 126.3 L733.8 129.7 L734.7 135 L735.6 143.1 L736.5 138 L737.4 130.1 L738.3 139 L739.2 131 L740.1 130.3 L741 126.9 L741.9 121.6 L742.8 125.8 L743.7 120.6 L744.6 113.3 L745.5 121.7 L746.4 135.8 L747.3 125.9 L748.2 118.5 L749.1 129 L750 143.6 L750.9 127.5 L751.8 144.6 L752.7 132.2 L753.6 115.6 L754.5 131.1 L755.4 142.8 L756.3 132.4 L757.2 121.4 L758.1 131.6 L759 137.6 L759.9 119.1 L760.8 130.2 L761.7 131.4 L762.6 136.4 L763.5 126.9 L764.4 123.7 L765.3 133.4 L766.2 131.8 L767.1 129.3 L768 126.3 L768.9 134.8 L769.8 125.7 L770.7 143.2 L771.6 126.1 L772.5 136.6 L773.4 135.2 L774.3 130.7 L775.2 126.8 L776.1 134.7 L777 128.3 L777.9 122 L778.8 128.4 L779.7 130.5 L780.6 116.7 L781.5 135.3 L782.4 115.6 L783.3 129.8 L784.2 127.8 L785.1 117.1 L786 126.9 L786.9 121.6 L787.8 130.8 L788.7 123.5 L789.6 129.3 L790.5 130.1 L791.4 134.8 L792.3 122 L793.2 139.4 L794.1 115.4 L795 121.8 L795.9 126.9 L796.8 119.9 L797.7 120.4 L798.6 135.3 L799.5 122.9 L800 130.2 L800.4 142 L801.3 145.3 L802.2 136.3 L803.1 143.8 L804 144.5 L804.9 142.6 L805.8 136.7 L806.7 131.4 L807.6 127.2 L808.5 144.5 L809.4 137.2 L810.3 131.6 L811.2 130.7 L812.1 134.9 L813 134.3 L813.9 126.7 L814.8 118.8 L815.7 130 L816.6 121.7 L817.5 114 L818.4 132 L819.3 135.2 L820.2 125 L821.1 122.6 L822 122.1 L822.9 120.5 L823.8 119.5 L824.7 117.1 L825.6 117.3 L826.5 119.5 L827.4 122.6 L828.3 124.7 L829.2 127.5 L830.1 118.5 L831 129.9 L831.9 120.3 L832.8 121.2 L833.7 131.2 L834.6 117.8 L835.5 129.5 L836.4 117.9 L837.3 128.6 L838.2 136.8 L839.1 138.6 L840 126.3 L840.9 127 L841.8 144.4 L842.7 137.2 L843.6 144.2 L844.5 125 L845.4 145 L846.3 138.2 L847.2 127.7 L848.1 136.6 L849 145.7 L849.9 140.1 L850 128.7 L850.8 126.1 L851.7 143.7 L852.6 134 L853.5 130.8 L854.4 132.2 L855.3 130.7 L856.2 125.6 L857.1 133.4 L858 136.4 L858.9 124.4 L859.8 140.6 L860.7 127.9 L861.6 135 L862.5 138.1 L863.4 137.9 L864.3 141.4 L865.2 120 L866.1 118.3 L867 120.1 L867.9 126 L868.8 132.4 L869.7 121.2 L870.6 121.4 L871.5 124.7 L872.4 123.3 L873.3 140.9 L874.2 119.7 L875.1 137.5 L876 140.3 L876.9 124.1 L877.8 123.1 L878.7 123.1 L879.6 119.1 L880.5 118.8 L881.4 113.8 L882.3 124.2 L883.2 127.5 L884.1 115.9 L885 126.1 L885.9 117 L886.8 115.6 L887.7 120.5 L888.6 117.5 L889.5 131.1 L890.4 129.6 L891.3 129.8 L892.2 126.8 L893.1 113.4 L894 118.7 L894.9 122.5 L895.8 135.4 L896.7 119.1 L897.6 132.9 L898.5 112.6 L899.4 122.7 L900 123.3" stroke="#0000ff" stroke-width="1.9" fill="none" stroke-linejoin="round" stroke-linecap="round" clip-path="url(#ca0)"/>
<path d="M93 89 L93.9 76.8 L94.8 77.7 L95.7 75.9 L96.6 60 L97.5 78.6 L98.4 65.3 L99.3 80.4 L100.2 74.2 L101.1 88.6 L102 78.4 L102.9 80.4 L103.8 71.5 L104.7 86.2 L105.6 79.4 L106.5 86.6 L107.4 88.2 L108.3 88.2 L109.2 79.7 L110.1 65.8 L111 71.7 L111.9 88.7 L112.8 90.3 L113.7 92.7 L114.6 77.3 L115.5 73.5 L116.4 89.5 L117.3 89.4 L118.2 82.1 L119.1 81.6 L120 70.1 L120.9 80 L121.8 92.9 L122.7 73.8 L123.6 77.4 L124.5 79.7 L125.4 77.7 L126.3 64.5 L127.2 75.3 L128.1 74.3 L129 75.7 L129.9 74.5 L130.8 77.1 L131.7 68.1 L132.6 90.4 L133.5 73.2 L134.4 88.2 L135.3 87.7 L136.2 76.4 L137.1 65 L138 56.8 L138.9 62.6 L139.8 73.1 L140.7 77.1 L141.6 69.2 L142.5 71.5 L143.4 98.7 L144.3 78.3 L145.2 65.9 L146.1 81.5 L147 68.4 L147.9 56.1 L148.8 78.3 L149.7 70.5 L150 77.9 L150.6 93.4 L151.5 79.7 L152.4 72.7 L153.3 94.5 L154.2 63.4 L155.1 72.3 L156 94.6 L156.9 96.2 L157.8 81.4 L158.7 78.2 L159.6 87.2 L160.5 87 L161.4 85.9 L162.3 80.3 L163.2 73.1 L164.1 77.8 L165 80 L165.9 79.5 L166.8 77 L167.7 81.2 L168.6 67 L169.5 89.9 L170.4 93.6 L171.3 76.6 L172.2 70 L173.1 84.4 L174 85.8 L174.9 79.6 L175.8 88.8 L176.7 75.7 L177.6 70.7 L178.5 92.6 L179.4 75 L180.3 74.8 L181.2 58 L182.1 73.8 L183 70.9 L183.9 75.3 L184.8 81 L185.7 76.6 L186.6 64.8 L187.5 83.7 L188.4 78 L189.3 79.5 L190.2 74.5 L191.1 76.4 L192 64.1 L192.9 63.3 L193.8 71.2 L194.7 71.2 L195.6 79.4 L196.5 49.5 L197.4 73.3 L198.3 71.1 L199.2 87.4 L200 73 L200.1 73.3 L201 78.5 L201.9 81.9 L202.8 61.7 L203.7 68.2 L204.6 84.8 L205.5 82.4 L206.4 80.5 L207.3 94.1 L208.2 68.8 L209.1 83.7 L210 79.7 L210.9 87.4 L211.8 79.4 L212.7 88.4 L213.6 108.9 L214.5 92.7 L215.4 89.6 L216.3 101.7 L217.2 94.3 L218.1 107.2 L219 81.2 L219.9 79.8 L220.8 71.4 L221.7 80.9 L222.6 72.6 L223.5 101.8 L224.4 90.2 L225.3 93.7 L226.2 90.5 L227.1 88.8 L228 86.6 L228.9 75.6 L229.8 100.9 L230.7 84.1 L231.6 102.1 L232.5 91.9 L233.4 73.9 L234.3 81.3 L235.2 80.5 L236.1 78.4 L237 77.5 L237.9 81.1 L238.8 76 L239.7 74.5 L240 81.6 L240.6 81.8 L241.5 77.8 L242.4 86.9 L243.3 80.6 L244.2 89.1 L245.1 87 L246 98.3 L246.9 74.4 L247 105.6 L247.8 92.3 L248.7 111.6 L249.6 101.5 L250.5 110.4 L251.4 121 L252 117 L252.3 116.4 L253.2 121.3 L254.1 137.9 L255 111.7 L255.9 127.7 L256.8 142.1 L257.7 129.4 L258 145.2 L258.6 112.2 L259.5 119.2 L260.4 126.1 L261.3 123.1 L262.2 124.3 L263.1 135.8 L264 120.9 L264.9 133.5 L265.8 133.7 L266.7 130.5 L267.6 151 L268 130.1 L268.5 152 L269.4 128.8 L270.3 139 L271.2 138 L272.1 128.8 L273 142.7 L273.9 147.7 L274.8 143.6 L275.7 138.6 L276.6 150.7 L277.5 145.5 L278.4 143.2 L279.3 114.7 L280 138.2 L280.2 147 L281.1 126.4 L282 107.2 L282.9 122.9 L283.8 125.8 L284.7 109.8 L285.6 117.4 L286.5 120.7 L287 107.9 L287.4 109.8 L288.3 123.1 L289.2 106.7 L290.1 94.1 L291 104.3 L291.9 102 L292 97.4 L292.8 94.1 L293.7 86.2 L294.6 114.3 L295.5 80 L296.4 87.2 L297 89.2 L297.3 93.9 L298.2 82.1 L299.1 88.6 L300 82 L300.9 91.1 L301.8 72.4 L302.7 100.4 L303.6 93.6 L304.5 98.2 L305 91.2 L305.4 75.8 L306.3 86.1 L307.2 92.8 L308.1 108.9 L309 96.9 L309.9 108 L310.8 100.5 L311.7 94.1 L312.6 98 L313.5 106.7 L314.4 109.2 L315.3 97 L316.2 105.6 L317.1 106.3 L318 112.3 L318.9 117.6 L319.8 95.5 L320 99.6 L320.7 90.2 L321.6 122.2 L322.5 107.6 L323.4 93.3 L324.3 125.1 L325.2 105.1 L326.1 107.8 L327 109.6 L327.9 113.8 L328.8 90.8 L329.7 106.6 L330.6 115.1 L331.5 112.2 L332.4 108.2 L333.3 104.3 L334.2 97 L335 84.1 L335.1 94.8 L336 113 L336.9 110.3 L337.8 102.6 L338.7 108 L339.6 122.2 L340.5 105.6 L341.4 100.8 L342.3 129.8 L343.2 105.1 L344 97.8 L344.1 115.2 L345 98.4 L345.9 105.8 L346.8 109.1 L347.7 120 L348.6 102 L349.5 115.6 L350.4 97.1 L351.3 109.4 L352 111.7 L352.2 114 L353.1 130.3 L354 111.2 L354.9 112.1 L355.8 110.9 L356.7 111.8 L357.6 119.5 L358.5 117.7 L359.4 126.8 L360 113.2 L360.3 123.4 L361.2 121.9 L362.1 119 L363 121.6 L363.9 120.3 L364.8 117 L365.7 117.5 L366.6 105.6 L367.5 109.9 L368.4 118.5 L369.3 124.3 L370 124.8 L370.2 118.4 L371.1 113.7 L372 123 L372.9 120.5 L373.8 111.8 L374.7 127.1 L375.6 130.2 L376.5 120.9 L377.4 108.5 L378.3 120.6 L379.2 121.7 L380.1 109.5 L381 125.2 L381.9 121.1 L382.8 128.6 L383.7 115.7 L384.6 119.9 L385.5 120.3 L386.4 128.2 L387.3 111.3 L388.2 119.6 L389.1 134.1 L390 117.1 L390 108.8 L390.9 128.3 L391.8 124.6 L392.7 102.7 L393.6 117.6 L394.5 104.2 L395.4 116.4 L396.3 125.4 L397.2 124 L398.1 107.9 L399 110.4 L399.9 132 L400.8 123.4 L401.7 117.6 L402.6 121.9 L403.5 112 L404.4 106.4 L405.3 109.6 L406.2 126.3 L407.1 115.7 L408 129.9 L408.9 132.6 L409.8 127.7 L410.7 118.9 L411.6 121.5 L412.5 120 L413.4 128.4 L414.3 137.7 L415.2 129.6 L416.1 144.2 L417 130.9 L417.9 122.4 L418.8 114.1 L419.7 119.1 L420 114 L420.6 129.7 L421.5 124.9 L422.4 141.9 L423.3 132.1 L424.2 132.8 L425.1 119.1 L426 121.3 L426.9 131.5 L427.8 128.7 L428.7 121.1 L429.6 124 L430.5 130.5 L431.4 135.6 L432.3 133.2 L433.2 127.5 L434.1 128.2 L435 135.9 L435.9 131.5 L436.8 119 L437.7 124.1 L438.6 135.9 L439.5 144 L440.4 138.5 L441.3 124.4 L442.2 120.9 L443.1 148.2 L444 131.8 L444.9 124.8 L445.8 128.7 L446.7 131.7 L447.6 125.8 L448.5 126.8 L449.4 138.8 L450.3 121 L451.2 122.2 L452.1 129 L453 126.5 L453.9 124.8 L454.8 128.6 L455.7 119.7 L456.6 127.8 L457.5 122.8 L458.4 140 L459.3 122.5 L460 128.3 L460.2 136.8 L461.1 125.1 L462 133.1 L462.9 125 L463.8 127.4 L464.7 129.1 L465.6 131.4 L466.5 136.8 L467.4 118.9 L468.3 142.3 L469.2 143.1 L470.1 138.9 L471 138.1 L471.9 148.1 L472.8 147.4 L473.7 170.9 L474.6 163 L475 154.1 L475.5 150.1 L476.4 157.3 L477.3 142.5 L478.2 144.5 L479.1 159.9 L480 138.4 L480.9 152 L481.8 147.9 L482.7 155.2 L483.6 158.9 L484.5 153.4 L485.4 164.6 L486.3 156.8 L487.2 167.1 L488.1 159.6 L489 172.4 L489.9 173.5 L490.8 159.5 L491.7 136.4 L492.6 151.7 L493.5 156.3 L494.4 144.7 L495.3 150.5 L496.2 166.3 L497.1 149.9 L498 154.3 L498.9 166.6 L499.8 144.8 L500 145.7 L500.7 155.9 L501.6 144.1 L502.5 155.6 L503.4 160.9 L504.3 159.9 L505.2 152 L506.1 149.8 L507 158 L507.9 155 L508.8 157.8 L509.7 169.8 L510.6 141.8 L511.5 165.1 L512.4 150.3 L513.3 162.5 L514.2 154.3 L515.1 152.9 L516 152.7 L516.9 164 L517.8 157.7 L518.7 162.9 L519.6 141.3 L520.5 146.6 L521.4 144.9 L522.3 148.4 L523.2 160 L524.1 160.9 L525 149.1 L525.9 137 L526.8 150.6 L527.7 143.7 L528.6 149 L529.5 159.8 L530.4 161 L531.3 174 L532.2 148.6 L533.1 144 L534 140.5 L534.9 170 L535.8 145.3 L536.7 157.6 L537.6 168.3 L538.5 147.1 L539.4 160.5 L540 146.1 L540.3 163.9 L541.2 142.7 L542.1 150.7 L543 151.4 L543.9 154.7 L544.8 165.9 L545.7 167.5 L546.6 169.6 L547.5 170.2 L548.4 145.5 L549.3 160.1 L550.2 174 L551.1 173.5 L552 170 L552.9 158.9 L553.8 168.8 L554.7 159.3 L555.6 153.4 L556.5 168.3 L557.4 160.3 L558.3 159.7 L559.2 164.9 L560 166.1 L560.1 155.7 L561 149.3 L561.9 156.8 L562.8 155 L563.7 161.8 L564.6 167.2 L565.5 160.9 L566.4 161.3 L567.3 153.4 L568.2 168.3 L569.1 164.3 L570 172.8 L570.9 177.8 L571.8 173.4 L572.7 167.4 L573.6 176.5 L574.5 187.3 L575 160.9 L575.4 176.3 L576.3 175.6 L577.2 174.1 L578.1 170.5 L579 160.8 L579.9 163.1 L580.8 173.8 L581.7 156 L582.6 158.5 L583.5 153.9 L584.4 166.9 L585.3 169.2 L586.2 147.9 L587.1 149.7 L588 130 L588.9 161 L589.8 162.5 L590 156.8 L590.7 141.1 L591.6 154.3 L592.5 167.4 L593.4 139.1 L594.3 142.1 L595.2 158.4 L596.1 142.6 L597 154.6 L597.9 140 L598.8 142.9 L599.7 129.9 L600 132.8 L600.6 139.7 L601.5 138.1 L602.4 145.9 L603.3 141.3 L604.2 131.4 L605.1 143.3 L606 143.2 L606.9 130.8 L607.8 134.3 L608.7 136.6 L609.6 131.2 L610.5 124.1 L611.4 131.7 L612.3 130.8 L613.2 118.3 L614.1 128.5 L615 132.8 L615.9 125.9 L616.8 115.2 L617.7 148 L618.6 143.2 L619.5 143.6 L620 136.8 L620.4 128.4 L621.3 106.2 L622.2 142 L623.1 147.2 L624 121.6 L624.9 134.3 L625.8 129.9 L626.7 143.1 L627.6 117 L628.5 140.8 L629.4 130.7 L630.3 112.9 L631.2 110.2 L632.1 127.5 L633 134.1 L633.9 113.7 L634.8 116.3 L635.7 114.8 L636.6 125.3 L637.5 116.3 L638.4 111.5 L639.3 109 L640 107.9 L640.2 120.4 L641.1 124.1 L642 113.3 L642.9 116.8 L643.8 103.8 L644.7 122.1 L645.6 116.4 L646.5 128.3 L647.4 101.5 L648.3 130.5 L649.2 118 L650.1 119.3 L651 120.8 L651.9 111.7 L652.8 121.9 L653.7 121 L654.6 113.3 L655.5 123.9 L656.4 117.4 L657.3 108.6 L658.2 111.3 L659.1 110.1 L660 116.8 L660.9 133.1 L661.8 109.8 L662.7 121.9 L663.6 94.6 L664.5 98.1 L665.4 100.9 L666.3 108.4 L667.2 107.5 L668.1 120.9 L669 109.4 L669.9 110.2 L670.8 119.8 L671.7 103 L672.6 112.8 L673.5 122.7 L674.4 110.7 L675.3 132 L676.2 121.5 L677.1 116.1 L678 118.6 L678.9 122.6 L679.8 93.9 L680 120.6 L680.7 107 L681.6 129.1 L682.5 102 L683.4 116.1 L684.3 127.1 L685.2 135.7 L686.1 118 L687 119.3 L687.9 118.9 L688.8 110.4 L689.7 109.5 L690.6 106.1 L691.5 116.3 L692.4 121.2 L693.3 108.5 L694.2 116.5 L695.1 113.6 L696 98.5 L696.9 117.3 L697.8 104 L698.7 118.5 L699.6 117.9 L700.5 114.3 L701.4 116.6 L702.3 110.3 L703.2 103.5 L704.1 123.7 L705 110.8 L705.9 129.9 L706.8 126.4 L707.7 102.9 L708.6 104 L709.5 121.2 L710.4 114 L711.3 109.3 L712.2 107 L713.1 111.2 L714 111.2 L714.9 102.4 L715.8 108.5 L716.7 103.6 L717.6 108.2 L718.5 100.3 L719.4 117.2 L720.3 108 L721.2 98.1 L722.1 97.2 L723 114.2 L723.9 118.5 L724.8 111.8 L725.7 96.2 L726.6 105.6 L727.5 110.1 L728.4 103.5 L729.3 114.8 L730.2 116.8 L731.1 115.5 L732 122.9 L732.9 113.3 L733.8 110.1 L734.7 104.1 L735.6 120.1 L736.5 98.4 L737.4 130.8 L738.3 124.3 L739.2 120.7 L740.1 108.1 L741 114.5 L741.9 105.3 L742.8 108.7 L743.7 116.5 L744.6 109.3 L745.5 106.6 L746.4 114.5 L747.3 110.1 L748.2 113.6 L749.1 117.7 L750 109.8 L750.9 117.2 L751.8 128.2 L752.7 132.3 L753.6 117.4 L754.5 123.1 L755.4 114.6 L756.3 121.2 L757.2 101 L758.1 117.8 L759 132.8 L759.9 108.6 L760 119.7 L760.8 109.7 L761.7 125.7 L762.6 106.9 L763.5 127.8 L764.4 114 L765.3 99.7 L766.2 111.5 L767.1 102.2 L768 105.4 L768.9 107.5 L769.8 123.5 L770.7 115.8 L771.6 127.7 L772.5 114.5 L773.4 117.4 L774.3 89 L775.2 108.7 L776.1 114.5 L777 110.6 L777.9 123.6 L778.8 103.2 L779.7 117.1 L780.6 116.3 L781.5 109.3 L782.4 114 L783.3 115.1 L784.2 124.4 L785.1 122.8 L786 126.8 L786.9 122.2 L787.8 105.5 L788.7 110.4 L789.6 101.2 L790.5 118.2 L791.4 128.3 L792.3 114.8 L793.2 117.2 L794.1 118 L795 108.6 L795.9 123.2 L796.8 109.9 L797.7 117.6 L798.6 101.9 L799.5 129 L800.4 120.6 L801.3 113.3 L802.2 114.5 L803.1 123.3 L804 103.9 L804.9 118 L805.8 122.3 L806.7 113.6 L807.6 120.9 L808.5 114.6 L809.4 110.9 L810.3 126.9 L811.2 114.2 L812.1 121.7 L813 115 L813.9 111 L814.8 117.9 L815.7 105.7 L816.6 107.2 L817.5 113.1 L818.4 119.5 L819.3 120.2 L820.2 129.7 L821.1 103.8 L822 111.8 L822.9 129.1 L823.8 109.5 L824.7 126.2 L825.6 118 L826.5 110.5 L827.4 120.1 L828.3 104.8 L829.2 137.6 L830.1 120.2 L831 114 L831.9 105.8 L832.8 114.7 L833.7 122.6 L834.6 111.6 L835.5 127.5 L836.4 110 L837.3 110.9 L838.2 103.8 L839.1 99.4 L840 128.2 L840.9 110.7 L841.8 105.1 L842.7 129.1 L843.6 104 L844.5 120.9 L845.4 124 L846.3 130 L847.2 127 L848.1 117.4 L849 135.8 L849.9 112.6 L850 109.6 L850.8 102.5 L851.7 127 L852.6 126.1 L853.5 130.5 L854.4 113.7 L855.3 104.4 L856.2 112.1 L857.1 129.7 L858 131.1 L858.9 96.8 L859.8 128.5 L860.7 125.4 L861.6 117.3 L862.5 113.7 L863.4 110.5 L864.3 107.9 L865.2 109.1 L866.1 106.4 L867 121.8 L867.9 116.2 L868.8 109.6 L869.7 115.8 L870.6 116.2 L871.5 118.8 L872.4 106.5 L873.3 113.6 L874.2 112.2 L875.1 105.8 L876 119 L876.9 101.4 L877.8 119.7 L878.7 99.4 L879.6 118.3 L880.5 129.3 L881.4 121.9 L882.3 115.7 L883.2 113.4 L884.1 122.3 L885 100.9 L885.9 110.9 L886.8 111.7 L887.7 110.6 L888.6 112.1 L889.5 116.7 L890 120.1 L890.4 110.1 L891.3 122.9 L892.2 116.6 L893.1 126.9 L894 120.5 L894.9 111 L895.8 110.3 L896.7 142.9 L897.6 119.5 L898.5 100.5 L899.4 100.3 L900 119" stroke="#ff0000" stroke-width="1.9" fill="none" stroke-linejoin="round" stroke-linecap="round" clip-path="url(#ca0)"/>
<path d="M93 310.6 L93.6 310.5 L94.2 311.4 L94.8 309.8 L95.4 311.2 L96 309.5 L96.6 310.5 L97.2 310.5 L97.8 311.5 L98.4 310.7 L99 310.3 L99.6 311.7 L100.2 311.9 L100.8 310.3 L101.4 311.3 L102 310.5 L102.6 310.9 L103.2 311 L103.8 310 L104.4 310.9 L105 310.1 L105.6 310.2 L106.2 310.6 L106.8 309.5 L107.4 309.9 L108 311.1 L108.6 311.4 L109.2 311.6 L109.8 310.7 L110 311.5 L110.4 312.2 L111 312 L111.6 310.4 L112.2 310.2 L112.8 311.8 L113.4 312.6 L114 311.8 L114.6 312.6 L115.2 312.2 L115.8 312.3 L116.4 312.5 L117 312.6 L117.6 312.2 L118.2 313.9 L118.8 313.4 L119.4 312.5 L120 312.8 L120 312.3 L120.6 313.2 L121.2 311.8 L121.8 312.5 L122.4 313.2 L123 312.9 L123.6 312.9 L124.2 311.5 L124.8 312.8 L125.4 312.1 L126 313 L126.6 311.8 L127.2 313.1 L127.8 312.1 L128.4 312.3 L129 311.4 L129.6 311.3 L130.2 311.2 L130.8 312.1 L131.4 311 L132 311.1 L132.6 311.9 L133.2 311.4 L133.8 310.7 L134.4 311 L135 309.8 L135.6 309.6 L136.2 310.9 L136.8 312.4 L137.4 311.8 L138 312.1 L138.6 310.6 L139.2 309.8 L139.8 310.8 L140 309.2 L140.4 308 L141 310.2 L141.6 310.5 L142.2 310.2 L142.8 310.7 L143.4 310.1 L144 309.8 L144.6 308.7 L145.2 309.3 L145.8 308.5 L146.4 309 L147 310.5 L147.6 309.2 L148.2 309.3 L148.8 308.5 L149.4 310.7 L150 307.4 L150.6 308.1 L151.2 309.3 L151.8 308.1 L152.4 308 L153 308.8 L153.6 308.9 L154.2 308.8 L154.8 307.6 L155.4 308.7 L156 307.2 L156.6 307.4 L157.2 307.2 L157.8 308.1 L158.4 307.5 L159 307.1 L159.6 307.7 L160 306.9 L160.2 307.1 L160.8 306.9 L161.4 306.3 L162 305.7 L162.6 305.1 L163.2 306.4 L163.8 303.8 L164.4 305.1 L165 303.9 L165 304 L165.6 303.3 L166.2 304.5 L166.8 304.1 L167.4 305.2 L168 304.1 L168.6 303.7 L169.2 303.7 L169.8 305.2 L170.4 304.9 L171 304.3 L171.6 305.7 L172.2 304.7 L172.8 304.3 L173.4 304.9 L174 303.7 L174.6 304.6 L175.2 303.7 L175.8 304.9 L176.4 304.9 L177 304.4 L177.6 305.3 L178.2 304 L178.8 304.9 L179.4 304.4 L180 303.7 L180.6 305 L181.2 305.7 L181.8 306.7 L182.4 304.6 L183 304.8 L183.6 305.7 L184.2 303.8 L184.8 305.6 L185.4 303.3 L186 303.7 L186.6 304.3 L187.2 304.2 L187.8 305.2 L188.4 303.8 L189 304.4 L189.6 304.3 L190.2 304.6 L190.8 304.9 L191.4 305.2 L192 304.7 L192.6 304.8 L193.2 304.5 L193.8 303.4 L194.4 303.2 L195 304.8 L195 303.5 L195.6 303.9 L196.2 304.7 L196.8 304.3 L197.4 303.9 L198 303.9 L198.6 304.5 L199.2 305.5 L199.8 303.3 L200 304.3 L200.4 305.4 L201 305.1 L201.6 304.8 L202.2 305.5 L202.8 306 L203.4 306.7 L204 305.2 L204.6 306 L205.2 307 L205.8 307.4 L206.4 307.6 L207 307.9 L207.6 308.5 L208.2 308.5 L208.8 310.3 L209.4 308.3 L210 308.7 L210 308 L210.6 309.6 L211.2 309.5 L211.8 309.4 L212.4 308.9 L213 311.3 L213.6 310.4 L214.2 310.8 L214.8 309.5 L215.4 310.9 L216 311.2 L216.6 312.2 L217.2 311.6 L217.8 312.1 L218.4 310.4 L219 311.6 L219.6 311.9 L220 311.9 L220.2 311.8 L220.8 311.8 L221.4 312.9 L222 311.7 L222.6 312.5 L223.2 312.5 L223.8 311.8 L224.4 312.1 L225 310.3 L225.6 311.6 L226.2 312.8 L226.8 311.6 L227.4 310.6 L228 312.7 L228.6 311.1 L229.2 312.9 L229.8 312 L230.4 311.1 L231 311.5 L231.6 313.1 L232.2 312.1 L232.8 311.9 L233.4 312.1 L234 311.9 L234.6 311.5 L235.2 312.4 L235.8 313 L236.4 312.1 L237 313.1 L237.6 312.8 L238.2 310.9 L238.8 312.5 L239.4 312.9 L240 310.6 L240 311.6 L240.6 311.4 L241.2 309.5 L241.8 309.1 L242.4 307.9 L243 306.5 L243.6 306.1 L244.2 304.9 L244.8 304.2 L245 303.9 L245.4 303 L246 302.2 L246.6 301.8 L247.2 302.9 L247.8 299.8 L248.4 304 L249 298.6 L249 305.1 L249.6 299.8 L250.2 298.8 L250.8 298.1 L251 301.1 L251.4 282.6 L252 252.4 L252.5 234.3 L252.6 237.2 L253.2 247.4 L253.8 262.5 L254 253 L254.4 259.1 L255 254.9 L255.5 256.4 L255.6 263.1 L256.2 261.7 L256.8 273.6 L257 279 L257.4 277.1 L258 268.5 L258.6 253.4 L259 252.9 L259.2 252.2 L259.8 263.5 L260.4 267.8 L261 276.9 L261 275.1 L261.6 266.9 L262.2 261.6 L262.8 261.4 L263 255.6 L263.4 252.9 L264 252.8 L264.6 252.4 L265 251.2 L265.2 250 L265.8 261.7 L266.4 274 L267 279.9 L267 285.2 L267.6 283.4 L268.2 280.5 L268.8 286.8 L269 284.1 L269.4 287.2 L270 277 L270.6 278.1 L271 277.6 L271.2 271.4 L271.8 269.4 L272.4 264.7 L273 264.5 L273 266.8 L273.6 274 L274.2 274.8 L274.8 271.4 L275 279.3 L275.4 275.4 L276 287.6 L276.6 289.5 L277 289.8 L277.2 282.4 L277.8 283 L278.4 273.3 L279 267.7 L279 269.7 L279.6 270.3 L280.2 281.1 L280.8 287.4 L281 290.8 L281.4 283.9 L282 281 L282.6 283.5 L283 281 L283.2 272.5 L283.8 282 L284.4 285.8 L285 282.8 L285 288.1 L285.6 283.6 L286.2 282.6 L286.8 279.4 L287.4 286.8 L288 278.9 L288.6 271.1 L289.2 276.2 L289.8 277.7 L290 275.6 L290.4 284.5 L291 277.3 L291.6 279.2 L292.2 281.2 L292.8 283.4 L293.4 277.5 L294 276.6 L294.6 279.6 L295.2 284.6 L295.8 282.4 L296.4 285.6 L297 281.8 L297.6 287.5 L298.2 285.8 L298.8 285.6 L299.4 287.4 L300 287.2 L300 287 L300.6 282.2 L301.2 287.5 L301.8 286.5 L302.4 288.2 L303 287.9 L303.6 286.6 L304.2 288.7 L304.8 291.1 L305.4 289.2 L306 288.4 L306.6 288.8 L307.2 290.3 L307.8 287.9 L308.4 289.1 L309 288.8 L309.6 287.9 L310.2 290.4 L310.8 290.7 L311.4 289.7 L312 290 L312.6 291 L313.2 292.3 L313.8 290.7 L314.4 292.9 L315 292.5 L315.6 289.5 L316.2 291.4 L316.8 292.2 L317.4 291.6 L318 293.1 L318.6 292.6 L319.2 292.9 L319.8 292.4 L320 290.9 L320.4 293.1 L321 291.9 L321.6 293.9 L322.2 293.5 L322.8 296.3 L323.4 294 L324 292 L324.6 296.2 L325.2 294.7 L325.8 295.5 L326.4 295.9 L327 293.8 L327.6 293.9 L328.2 295.9 L328.8 294.2 L329.4 293.6 L330 294.9 L330.6 295.5 L331.2 296.6 L331.8 295.6 L332.4 295.6 L333 296.8 L333.6 296.7 L334.2 297.6 L334.8 295.7 L335 299.1 L335.4 296.1 L336 298.8 L336.6 299 L337.2 297.7 L337.8 298.8 L338.4 298.8 L339 300.3 L339.6 301 L340.2 300.5 L340.8 301.1 L341 300.4 L341.4 302.5 L342 303.5 L342.6 303.6 L343 303.6 L343.2 304.1 L343.8 297.6 L344.4 293.5 L345 288.8 L345 289.8 L345.6 289.6 L346.2 288.6 L346.8 289.4 L347.4 289.4 L348 290.6 L348.6 291.6 L349.2 291.1 L349.8 291.1 L350.4 291.1 L351 290.2 L351.6 290.4 L352.2 290 L352.8 291.2 L353.4 290.9 L354 290.4 L354.6 291.2 L355 291 L355.2 291.9 L355.8 292.5 L356.4 293.6 L357 295.1 L357.6 296.2 L358 297.5 L358.2 296.6 L358.8 295.8 L359.4 295.3 L360 293.9 L360.6 293.4 L361.2 293.3 L361.8 291.7 L362.4 291.9 L363 290.3 L363.6 289.7 L364.2 289.3 L364.8 288.3 L365 287.4 L365.4 287.2 L366 288.1 L366.6 287.5 L367.2 287.8 L367.8 288.2 L368.4 287.8 L369 287.6 L369.6 287.3 L370.2 287.8 L370.8 288.9 L371.4 287.3 L372 287 L372.6 287.5 L373.2 288.3 L373.8 287.5 L374.4 287.6 L375 287.6 L375.6 287.7 L376.2 287.1 L376.8 286.9 L377.4 287.5 L378 288.4 L378.6 286.6 L379.2 287.3 L379.8 287.3 L380 287.2 L380.4 287.5 L381 287.2 L381.6 288 L382.2 287.2 L382.8 287 L383.4 287.7 L384 288.1 L384.6 289.3 L385.2 287.9 L385.8 288.9 L386.4 287.3 L387 288.6 L387.6 289 L388.2 288.3 L388.8 288.8 L389.4 288.3 L390 288.3 L390.6 288.5 L391.2 289 L391.8 287.8 L392.4 289.5 L393 288.7 L393.6 288.6 L394.2 289.6 L394.8 289.2 L395.4 290.4 L396 288.6 L396.6 289.1 L397.2 289.1 L397.8 290 L398.4 289.1 L399 288.8 L399.6 288.3 L400 288.8 L400.2 289.6 L400.8 289 L401.4 289.9 L402 288.4 L402.6 288.9 L403.2 288.1 L403.8 288.6 L404.4 288.2 L405 288.2 L405.6 287.4 L406.2 288.6 L406.8 287.7 L407.4 287.7 L408 287.5 L408.6 287.4 L409.2 288.1 L409.8 287.9 L410 287.4 L410.4 286.8 L411 287.4 L411.6 287.1 L412.2 286.2 L412.8 287 L413.4 287.4 L414 286.9 L414.6 287.1 L415.2 287.8 L415.8 287.8 L416.4 286.4 L417 287.5 L417.6 287.4 L418.2 287.5 L418.8 287.1 L419.4 287.4 L420 286.3 L420.6 287.1 L421.2 287.7 L421.8 286.7 L422.4 287.1 L423 286.9 L423.6 287.4 L424.2 287.9 L424.8 287.1 L425.4 288.3 L426 287 L426.6 287.7 L427.2 287.6 L427.8 286.7 L428.4 286.9 L429 287.3 L429.6 286.8 L430 286.6 L430.2 287.2 L430.8 286.7 L431.4 287.5 L432 287.5 L432.6 288.1 L433.2 288.5 L433.8 287.2 L434.4 288 L435 288.7 L435.6 289.8 L436.2 288.6 L436.8 288.8 L437.4 288.5 L438 290.2 L438.6 288.9 L439.2 289.5 L439.8 289.8 L440.4 288.8 L441 288.9 L441.6 289 L442.2 289.8 L442.8 290.3 L443.4 289.7 L444 291.1 L444.6 289.9 L445 290.5 L445.2 290.3 L445.8 289.9 L446.4 290.3 L447 290.5 L447.6 289.9 L448.2 290.6 L448.8 290.2 L449.4 291.2 L450 290.2 L450.6 290.3 L451.2 290.4 L451.8 291.1 L452.4 291.7 L453 290.4 L453.6 291.4 L454.2 291.5 L454.8 291 L455.4 291.6 L456 291.6 L456.6 291.1 L457.2 290.4 L457.8 291.5 L458.4 291.3 L459 291.7 L459.6 291.9 L460.2 292.7 L460.8 291.6 L461.4 292.3 L462 292 L462.6 291.7 L463.2 291.5 L463.8 291.3 L464.4 291.1 L465 292.3 L465.6 292.5 L466.2 291.8 L466.8 292.7 L467.4 292.4 L468 292.4 L468.6 292 L469.2 292.1 L469.8 292.9 L470.4 292.8 L471 292.5 L471.6 293.2 L472.2 293 L472.8 292.2 L473.4 293.6 L474 292.9 L474.6 294 L475.2 292.6 L475.8 292 L476.4 293.5 L477 294.1 L477.6 293.2 L478.2 293.4 L478.8 294.5 L479.4 294 L480 293.9 L480 293.3 L480.6 293.2 L481.2 292.9 L481.8 293.1 L482.4 293.6 L483 294 L483.6 294.7 L484.2 294.6 L484.8 294 L485.4 294 L486 294.2 L486.6 293.9 L487.2 294.8 L487.8 293.8 L488.4 294 L489 293.5 L489.6 293.5 L490.2 294.5 L490.8 294.8 L491.4 294.8 L492 294.9 L492.6 294 L493.2 295.4 L493.8 294.8 L494.4 294.4 L495 294.6 L495.6 294.3 L496.2 294.4 L496.8 294.9 L497.4 294.6 L498 295 L498.6 295 L499.2 294.2 L499.8 295.6 L500.4 296.1 L501 294.7 L501.6 295.4 L502.2 295.7 L502.8 295.2 L503.4 295.4 L504 295 L504.6 295.1 L505.2 295.5 L505.8 296.1 L506.4 295.6 L507 296 L507.6 295.7 L508.2 295.6 L508.8 296.1 L509.4 296 L510 296.4 L510.6 296.6 L511.2 296.1 L511.8 296.2 L512.4 296.5 L513 295.8 L513.6 295.9 L514.2 296.5 L514.8 295.6 L515.4 295.3 L516 295.8 L516.6 296.6 L517.2 296.4 L517.8 296.3 L518.4 296.4 L519 295.9 L519.6 296.5 L520 296.2 L520.2 297 L520.8 296.6 L521.4 297 L522 297 L522.6 296.8 L523.2 296.7 L523.8 296.7 L524.4 297.3 L525 297.4 L525.6 296.7 L526.2 297.1 L526.8 297.5 L527.4 297.4 L528 297.9 L528.6 297.6 L529.2 298.3 L529.8 297.4 L530.4 298 L531 297.7 L531.6 297.5 L532.2 296.5 L532.8 297.9 L533.4 298.1 L534 298.4 L534.6 298.8 L535.2 298.5 L535.8 298.2 L536.4 298 L537 298.3 L537.6 298.8 L538.2 297.8 L538.8 298.1 L539.4 298.8 L540 299.6 L540.6 299 L541.2 299.4 L541.8 299 L542.4 298.6 L543 299 L543.6 299.6 L544.2 299.1 L544.8 299.5 L545 299.6 L545.4 301 L546 301.6 L546.6 300.8 L547.2 301.9 L547.8 303.8 L548 303.6 L548.4 304 L549 304.2 L549.6 304.5 L550.2 303 L550.8 303.7 L551.4 303.2 L552 305.1 L552.6 304.5 L553.2 304.4 L553.8 304.7 L554.4 305.2 L555 305 L555.6 304.3 L556.2 305.4 L556.8 305.8 L557.4 305.2 L558 305.6 L558 305" stroke="#ff00ff" stroke-width="1.6" fill="none" stroke-linejoin="round" stroke-linecap="round" clip-path="url(#ca1)"/>
<path d="M603 308.3 L603.6 307.1 L604.2 307.5 L604.8 307.8 L605.4 307.9 L606 308 L606.6 307.3 L607.2 308.1 L607.8 307.7 L608.4 308 L609 308.2 L609.6 307.8 L610.2 306.9 L610.8 308.9 L611.4 308.2 L612 308 L612.6 309 L613.2 309.1 L613.8 308.6 L614.4 309.2 L615 308.8 L615.6 308.5 L616.2 308.5 L616.8 309.2 L617.4 308.8 L618 308.5 L618.6 309 L619.2 309.2 L619.8 308.9 L620.4 309.3 L621 309.7 L621.6 309.2 L622.2 309.8 L622.8 309.4 L623.4 309.7 L624 309.4 L624.6 309.4 L625.2 308.9 L625.8 309.7 L626.4 307.9 L627 309.3 L627.6 309.3 L628.2 309.4 L628.8 310.3 L629.4 309.3 L630 309.9 L630.6 310.1 L631.2 310.4 L631.8 310.3 L632.4 310.3 L633 310.4 L633.6 311 L634.2 309.7 L634.8 309.6 L635.4 310.4 L636 310.5 L636.6 310.9 L637.2 310.5 L637.8 311 L638.4 309.7 L639 310.4 L639.6 311 L640.2 310.6 L640.8 311.1 L641.4 310.7 L642 310.7 L642.6 311.3 L643.2 311.4 L643.8 311 L644.4 311.8 L645 311 L645.6 311.4 L646.2 310.2 L646.8 311.7 L647.4 312 L648 311.7 L648.6 311.2 L649.2 312 L649.8 311.7 L650.4 311.3 L651 311.3 L651.6 312 L652.2 311.4 L652.8 311.5 L653.4 312.4 L654 312.3 L654.6 312.5 L655.2 311.8 L655.8 312.3 L656.4 313.1 L657 312.1 L657.6 312 L658.2 312.7 L658.8 312.7 L659.4 311.8 L660 312.7 L660 312.9 L660.6 311.9 L661.2 311.7 L661.8 312.2 L662.4 312.6 L663 312.6 L663.6 312.8 L664.2 312.1 L664.8 313.3 L665.4 313.4 L666 312.8 L666.6 312.4 L667.2 312.4 L667.8 312.8 L668.4 312.7 L669 312.7 L669.6 312.4 L670.2 312.7 L670.8 312.4 L671.4 312.2 L672 312.2 L672.6 312.1 L673.2 313.1 L673.8 312.1 L674.4 312.6 L675 312.8 L675.6 313 L676.2 312.6 L676.8 313.1 L677.4 312.6 L678 312.6 L678.6 312.6 L679.2 312.3 L679.8 312.6 L680.4 312.7 L681 312.9 L681.6 313.6 L682.2 312.1 L682.8 312.6 L683.4 312.5 L684 313.2 L684.6 313.3 L685.2 312.8 L685.8 312.6 L686.4 313.3 L687 313 L687.6 312.2 L688.2 312.7 L688.8 313 L689.4 312.6 L690 314.2 L690.6 312.6 L691.2 312.9 L691.8 313.1 L692.4 313.1 L693 312.6 L693.6 312.8 L694.2 313.2 L694.8 313.4 L695.4 313.4 L696 313.1 L696.6 313 L697.2 313.2 L697.8 313 L698.4 312.6 L699 312.7 L699.6 313.4 L700 312.9 L700.2 313 L700.8 313.5 L701.4 313 L702 313 L702.6 313.8 L703.2 313 L703.8 312.5 L704.4 313 L705 313.3 L705.6 314 L706.2 313.4 L706.8 313.7 L707.4 312.8 L708 313.7 L708.6 312.5 L709.2 313.8 L709.8 313.7 L710.4 314.4 L711 313.5 L711.6 313.7 L712.2 313.4 L712.8 313.1 L713.4 313.6 L714 314 L714.6 313 L715.2 313.8 L715.8 314.3 L716.4 312.9 L717 312.8 L717.6 313.1 L718.2 312.7 L718.8 314 L719.4 313.5 L720 313.2 L720.6 312.8 L721.2 314 L721.8 313.4 L722.4 313.7 L723 313.8 L723.6 314.5 L724.2 313.5 L724.8 314.3 L725.4 314.3 L726 313.9 L726.6 314.5 L727.2 313.3 L727.8 313.9 L728.4 314.4 L729 314.6 L729.6 314.3 L730.2 314.3 L730.8 313.1 L731.4 314 L732 314 L732.6 313.7 L733.2 313.4 L733.8 313.7 L734.4 314.7 L735 313.9 L735.6 313.7 L736.2 314.8 L736.8 314.4 L737.4 314 L738 314.3 L738.6 313.3 L739.2 313.7 L739.8 314.7 L740.4 313.7 L741 314 L741.6 314.8 L742.2 314.4 L742.8 313.9 L743.4 313.8 L744 314 L744.6 314.5 L745.2 313.7 L745.8 314.3 L746.4 314.6 L747 314.4 L747.6 314.3 L748.2 313.5 L748.8 314.6 L749.4 314.9 L750 314.8 L750.6 314.3 L751.2 314 L751.8 314 L752.4 314.2 L753 313.9 L753.6 313.6 L754.2 313.4 L754.8 314 L755.4 314.4 L756 314.8 L756.6 315.3 L757.2 314.7 L757.8 314.7 L758.4 315.4 L759 314.3 L759.6 315.3 L760 315.1 L760.2 314.2 L760.8 313.7 L761.4 312.8 L762 312 L762 312.4 L762.6 312.5 L763.2 313 L763.8 313.2 L764.4 313.5 L765 313.5 L765.6 314.8 L766 314.8 L766.2 314.8 L766.8 314.1 L767.4 314.9 L768 314.9 L768.6 315.6 L769.2 314.8 L769.8 314.2 L770.4 315 L771 314 L771.6 315 L772.2 315.5 L772.8 314.9 L773.4 314.3 L774 315.1 L774.6 314.5 L775.2 314.6 L775.8 314.2 L776.4 314.8 L777 315 L777.6 315.3 L778.2 315.3 L778.8 315 L779.4 315.2 L780 315.5 L780.6 315 L781.2 314.9 L781.8 315 L782.4 314.6 L783 315.4 L783.6 316 L784.2 314.8 L784.8 315.3 L785.4 315.3 L786 314.6 L786.6 315.7 L787.2 315.2 L787.8 315.5 L788.4 315.2 L789 315.2 L789.6 315.1 L790.2 316 L790.8 315.4 L791.4 315.2 L792 315.5 L792.6 315.6 L793.2 315.7 L793.8 315.4 L794.4 315.5 L795 314.9 L795.6 315.2 L796.2 314.8 L796.8 315.6 L797.4 315.9 L798 316.3 L798.6 315.1 L799.2 315.4 L799.8 316.4 L800 315.5 L800.4 316.3 L801 316.8 L801.6 316.8 L802.2 317.9 L802.8 319.4 L803.4 319.6 L804 320.8 L804.6 320.7 L805 320.6 L805.2 321.2 L805.8 320.9 L806.4 321.1 L807 321.5 L807.6 322 L808.2 321.1 L808.8 320.7 L809.4 321.2 L810 321 L810.6 320.8 L811.2 320.7 L811.8 320.7 L812.4 320.7 L813 320.3 L813.6 321.1 L814.2 321 L814.8 320.8 L815.4 319.8 L816 320.6 L816.6 321.3 L817.2 321 L817.8 320.3 L818.4 320.6 L819 321 L819.6 320.5 L820.2 320.9 L820.8 319.9 L821.4 320.7 L822 320.9 L822.6 319.8 L823.2 320.9 L823.8 320.2 L824.4 320.3 L825 320.3 L825.6 320.4 L826.2 320.7 L826.8 320.3 L827.4 320.1 L828 320.5 L828.6 320.5 L829.2 320.5 L829.8 319.3 L830.4 320.8 L831 320.6 L831.6 320.2 L832.2 320.5 L832.8 321.1 L833.4 320 L834 320.3 L834.6 320.6 L835.2 320 L835.8 320.6 L836.4 319.8 L837 320.5 L837.6 319.8 L838.2 319.4 L838.8 319.9 L839.4 320 L840 319.7 L840.6 320.3 L841.2 319.9 L841.8 320.9 L842.4 320 L843 320.3 L843.6 320.3 L844.2 319.7 L844.8 320.4 L845.4 320.5 L846 320.1 L846.6 320.4 L847.2 320.2 L847.8 319.3 L848.4 320.4 L849 318.8 L849.6 320 L850 319.5 L850.2 319.2 L850.8 320 L851.4 320 L852 321.1 L852.6 321.1 L853.2 320.8 L853.8 321.1 L854.4 321.8 L855 323.1 L855 322.3 L855.6 322.9 L856.2 323.2 L856.8 322.9 L857.4 322.8 L858 323.2 L858.6 323.5 L859.2 323.6 L859.8 322.6 L860.4 323 L861 323.3 L861.6 324.3 L862.2 323.9 L862.8 323.3 L863.4 323.9 L864 324.3 L864.6 324.3 L865.2 324.4 L865.8 324.4 L866.4 324.6 L867 324 L867.6 325 L868.2 324.8 L868.8 325 L869.4 325.2 L870 325.4 L870 325.5 L870.6 323.8 L871.2 325.7 L871.8 323.8 L872.4 324.3 L873 325.2 L873.6 324.7 L874.2 324.9 L874.8 325 L875.4 324.1 L876 324.9 L876.6 324 L877.2 323.8 L877.8 323.9 L878.4 323.5 L879 323.6 L879.6 323.3 L880 323.6 L880.2 323.3 L880.8 323.1 L881.4 323.9 L882 323.6 L882.6 323 L883.2 324.5 L883.8 323.2 L884.4 323.5 L885 324 L885.6 323 L886.2 322 L886.8 323.8 L887.4 324.4 L888 323.4 L888.6 322.3 L889.2 323.4 L889.8 322.9 L890.4 323 L891 322.4 L891.6 322 L892.2 322.3 L892.8 322.4 L893.4 322.7 L894 321.8 L894.6 321.8 L895.2 322.3 L895.8 322.6 L896.4 322.5 L897 322 L897.6 322.2 L898.2 322.3 L898.8 322 L899.4 321.2 L900 322 L900 322" stroke="#ff00ff" stroke-width="1.6" fill="none" stroke-linejoin="round" stroke-linecap="round" clip-path="url(#ca1)"/>
<path d="M93 356.9 L93.6 355.7 L94.2 358 L94.8 356.8 L95.4 356.6 L96 356.1 L96.6 357.8 L97.2 356 L97.8 357.6 L98.4 356.5 L99 357 L99.6 356.8 L100.2 357.5 L100.8 357.7 L101.4 356 L102 358 L102.6 357.7 L103.2 358 L103.8 358.4 L104.4 355.7 L105 358.7 L105.6 355.6 L106.2 356.4 L106.8 357.3 L107.4 357.9 L108 357.6 L108.6 357.3 L109.2 357.5 L109.8 356 L110 357 L110.4 358.7 L111 353.4 L111.6 354.5 L112.2 353.8 L112.8 352.3 L113.4 352.1 L114 351.5 L114.6 350.3 L115 349.9 L115.2 348.6 L115.8 348.8 L116.4 346.4 L117 344.7 L117.6 346.3 L118 343.1 L118.2 343.7 L118.8 344.1 L119.4 347.9 L120 348.3 L120.6 350.3 L121 352.7 L121.2 352.8 L121.8 352.7 L122.4 354.8 L123 355.7 L123.6 356.2 L124.2 356.4 L124.8 358.7 L125 357.2 L125.4 359 L126 358.6 L126.6 357.5 L127.2 357.6 L127.8 360.8 L128.4 356.7 L129 358.6 L129.6 358.2 L130.2 358.9 L130.8 358.8 L131.4 359.3 L132 359.1 L132.6 358.4 L133.2 357.2 L133.8 358.1 L134.4 358.9 L135 358.8 L135.6 359.4 L136.2 358.2 L136.8 357.3 L137.4 357.8 L138 358.5 L138.6 359.2 L139.2 359.2 L139.8 358.9 L140.4 357.1 L141 357.8 L141.6 358.7 L142.2 358.5 L142.8 358.9 L143.4 357.1 L144 358.7 L144.6 355.6 L145.2 357.6 L145.8 358.2 L146.4 357.6 L147 359.3 L147.6 357.7 L148.2 358.1 L148.8 359.3 L149.4 356.2 L150 361.3 L150 356.6 L150.6 357.5 L151.2 354.9 L151.8 351.7 L152 352.2 L152.4 352.3 L153 350 L153.6 355.2 L154.2 347.6 L154.8 349.2 L155.4 351.1 L156 349.1 L156 350.4 L156.6 345.8 L157.2 349.9 L157.8 351.7 L158.4 355.6 L159 352.2 L159.6 355.1 L160 360.1 L160.2 356.9 L160.8 357.2 L161.4 356.2 L162 359.1 L162.6 352.6 L163.2 355 L163.8 355.7 L164.4 357.4 L165 357.3 L165.6 352.8 L166.2 357.9 L166.8 355.9 L167.4 364.1 L168 357.5 L168.6 360.6 L169.2 357.2 L169.8 358 L170 356.7 L170.4 360.5 L171 361.5 L171.6 355.8 L172.2 359.7 L172.8 360.3 L173.4 361.7 L174 357.6 L174.6 362.1 L175.2 356.2 L175.8 359.4 L176.4 357.9 L177 358.3 L177.6 361.4 L178.2 360.1 L178.8 365.4 L179.4 358.8 L180 357.3 L180.6 361.6 L181.2 359.5 L181.8 358 L182.4 361.9 L183 362.2 L183.6 355.7 L184.2 358.1 L184.8 361.6 L185.4 357.3 L186 362.7 L186.6 358.7 L187.2 359.9 L187.8 359.4 L188.4 356.6 L189 358.6 L189.6 357.4 L190.2 358.1 L190.8 361.4 L191.4 360.4 L192 358.5 L192.6 359.6 L193.2 362.3 L193.8 358.9 L194.4 358.1 L195 360.6 L195 357.7 L195.6 355.4 L196.2 361.5 L196.8 354.1 L197.4 356.1 L198 356 L198.6 353.5 L199.2 357.6 L199.8 356.9 L200 353.3 L200.4 348.6 L201 352.4 L201.6 347.2 L202.2 351.9 L202.8 352 L203.4 350.3 L204 352 L204.6 349.1 L205 346.3 L205.2 346.9 L205.8 349.2 L206.4 340.5 L207 344.8 L207.6 340.1 L208 347.2 L208.2 337.1 L208.8 330.8 L209.4 333.5 L210 328.9 L210 325.2 L210.6 330.3 L211.2 331.5 L211.8 338 L212 341.6 L212.4 340.6 L213 340.2 L213.6 339.4 L214.2 343.7 L214.8 345.8 L215 345.2 L215.4 339.2 L216 343 L216.6 341.1 L217.2 342.6 L217.8 344.7 L218.4 350.3 L219 345.3 L219.6 345 L220.2 344.2 L220.8 347 L221.4 342.3 L222 348 L222.6 348.8 L223.2 345 L223.8 351.2 L224.4 353.1 L225 346.5 L225 350.1 L225.6 346.7 L226.2 345.7 L226.8 348.7 L227.4 347.1 L228 342.9 L228.6 341.9 L229.2 345.3 L229.8 341.1 L230 341.3 L230.4 340.5 L231 335.4 L231.6 332.8 L232 333.4 L232.2 327 L232.8 336.6 L233.4 333.3 L234 339.9 L234.6 345.5 L235 350.7 L235.2 341.6 L235.8 350.1 L236.4 346.7 L237 348 L237.6 349.6 L238.2 353.4 L238.8 355.4 L239.4 351.5 L240 349.9 L240 349.5 L240.6 346.2 L241.2 347.6 L241.8 353.6 L242.4 347.2 L243 348.3 L243.6 349.8 L244.2 349.5 L244.8 349.1 L245.4 348.8 L246 349.7 L246.6 354.4 L247 352.8 L247.2 351.4 L247.8 349.3 L248.4 351 L249 351.1 L249.6 348.3 L250 347.5 L250.2 352.4 L250.8 354.5 L251.4 358.8 L252 366.7 L252.6 371.5 L253 370.5 L253.2 381.7 L253.8 372.6 L254.4 367.3 L255 368.5 L255.6 368.6 L256 360.2 L256.2 351.1 L256.8 366.4 L257.4 380.8 L258 390.7 L258 396.7 L258.6 386.5 L259.2 376.8 L259.8 376 L260 367.2 L260.4 369.7 L261 350.4 L261.6 357.4 L262 344.4 L262.2 352.7 L262.8 358.1 L263.4 363.2 L264 379.1 L264 380.3 L264.6 354.9 L265 336.7 L265.2 340.5 L265.8 343.1 L266.4 345 L267 358 L267.6 360.9 L268 371.2 L268.2 370.2 L268.8 370 L269.4 365.4 L270 369 L270 368.9 L270.6 365.1 L271.2 359.5 L271.8 357.1 L272.4 353.7 L273 345.6 L273 335 L273.6 343.2 L274.2 354.4 L274.8 337.9 L275 348.8 L275.4 343.1 L276 349.1 L276.6 340.5 L277.2 333.9 L277.8 331.6 L278 322.6 L278.4 338.3 L279 330.7 L279.6 321.4 L280 321.7 L280.2 326.6 L280.8 319.8 L281.4 318 L282 324.7 L282.6 319.1 L283.2 320.5 L283.8 321.9 L284.4 312.7 L285 322.7 L285 319.8 L285.6 310.5 L286.2 309.2 L286.8 315.6 L287.4 316.3 L288 311.3 L288.6 313.3 L289.2 313.3 L289.8 312.5 L290 315.8 L290.4 322.1 L291 325 L291.6 313.9 L292.2 318.6 L292.8 317.4 L293 320.3 L293.4 320.1 L294 330.3 L294.6 330.6 L295 324.9 L295.2 334.3 L295.8 326.4 L296.4 331.6 L297 335.1 L297.6 332.2 L298.2 331.9 L298.8 338.2 L299.4 341.9 L300 339 L300 347.8 L300.6 342.8 L301.2 337.8 L301.8 342.7 L302.4 339.2 L303 341.7 L303.6 342.3 L304.2 341.9 L304.8 344.1 L305.4 341.3 L306 342.1 L306.6 340.7 L307.2 338.4 L307.8 340.5 L308.4 342 L309 336.7 L309.6 342.8 L310 343 L310.2 344.4 L310.8 342.8 L311.4 344 L312 341.6 L312.6 340.5 L313.2 342.3 L313.8 338.9 L314.4 343.6 L315 338.3 L315.6 343.4 L316.2 339.1 L316.8 339.1 L317.4 337.7 L318 339.3 L318.6 339.7 L319.2 336.3 L319.8 335.6 L320 339 L320.4 335.9 L321 339.9 L321.6 340.8 L322.2 337.1 L322.8 344.4 L323.4 337.6 L324 335.2 L324.6 340.9 L325.2 337.8 L325.8 335.6 L326.4 336.3 L327 339 L327.6 339.2 L328.2 335.6 L328.8 333.2 L329.4 334.1 L330 336.3 L330.6 334.8 L331.2 335.1 L331.8 334.9 L332.4 337.1 L333 333 L333.6 333.2 L334.2 328.9 L334.8 332.6 L335.4 329.1 L336 330.9 L336.6 332.3 L337.2 330.7 L337.8 331.4 L338 327 L338.4 331.9 L339 334.7 L339.6 336.1 L340.2 338.6 L340.8 338 L341 341.4 L341.4 341.7 L342 346.5 L342.6 353.2 L343 356.9 L343.2 355.9 L343.8 352.5 L344.4 354.6 L345 354.8 L345.6 356.4 L346.2 360 L346.8 359.6 L347.4 355.4 L348 359 L348.6 359.4 L349.2 358 L349.8 359.1 L350 362.4 L350.4 360 L351 360.3 L351.6 360.1 L352.2 354.5 L352.8 362 L353.4 364 L354 366.6 L354.6 367.6 L355 361.1 L355.2 362.2 L355.8 358.6 L356.4 357.6 L357 352.3 L357.6 352.4 L358 351.4 L358.2 350.6 L358.8 347.7 L359.4 346.6 L360 341.7 L360 341.2 L360.6 342.2 L361.2 341.9 L361.8 343.4 L362.4 345 L363 342.8 L363.6 339.7 L364.2 340 L364.8 344.4 L365.4 344.9 L366 345 L366.6 338.7 L367.2 345.8 L367.8 350 L368.4 344.6 L369 344.3 L369.6 347.2 L370 343.6 L370.2 342.8 L370.8 347 L371.4 342.3 L372 345.3 L372.6 342.4 L373.2 342.5 L373.8 341 L374.4 343.5 L375 342 L375.6 341.4 L376.2 340.5 L376.8 339.8 L377.4 342.9 L378 341.9 L378.6 341.9 L379.2 337.2 L379.8 340.1 L380 335.7 L380.4 342.5 L381 343.3 L381.6 342.9 L382.2 341.4 L382.8 341.9 L383.4 340.8 L384 339.8 L384.6 343.6 L385.2 344.3 L385.8 341.7 L386.4 340 L387 342.1 L387.6 342.7 L388.2 342.5 L388.8 340.5 L389.4 341.6 L390 345 L390 348.7 L390.6 342.7 L391.2 346.7 L391.8 346.4 L392.4 348.4 L393 348.6 L393.6 351.5 L394.2 350 L394.8 349.3 L395.4 351.8 L396 352.3 L396.6 354.5 L397.2 354.7 L397.8 355.5 L398.4 355 L399 355.4 L399.6 355.9 L400 357.3 L400.2 358.9 L400.8 358 L401.4 352.4 L402 351.8 L402.6 350.7 L403.2 352.6 L403.8 346.3 L404.4 346.6 L405 341.1 L405 345.6 L405.6 343.1 L406.2 344.2 L406.8 345.3 L407.4 341.5 L408 339.8 L408.6 343.4 L409.2 341.6 L409.8 342.8 L410 343.9 L410.4 340.9 L411 340.8 L411.6 341.8 L412.2 341 L412.8 342.6 L413.4 345.4 L414 343.3 L414.6 342.7 L415.2 345.6 L415.8 346.1 L416.4 343 L417 346.3 L417.6 345.9 L418.2 347.4 L418.8 346.2 L419.4 347 L420 346.5 L420 350.9 L420.6 348.7 L421.2 348.9 L421.8 348.9 L422.4 348 L423 349.6 L423.6 348.5 L424.2 351.2 L424.8 348.9 L425.4 349.8 L426 345.9 L426.6 346.9 L427.2 347 L427.8 345.6 L428.4 346.8 L429 346.8 L429.6 345.9 L430.2 348.4 L430.8 346.5 L431.4 347.4 L432 345.2 L432.6 346.9 L433.2 346.1 L433.8 346.1 L434.4 348.4 L435 347.5 L435.6 345.6 L436.2 345.7 L436.8 347.9 L437.4 345.8 L438 346.5 L438.6 348.6 L439.2 348.4 L439.8 346.7 L440 346.6 L440.4 347.8 L441 348.5 L441.6 350.1 L442.2 352.9 L442.8 353 L443.4 354.1 L444 354.8 L444.6 357.5 L445 356.5 L445.2 357.7 L445.8 355.5 L446.4 356.4 L447 357.1 L447.6 355.7 L448.2 356.8 L448.8 356.4 L449.4 355.6 L450 356.9 L450.6 356.3 L451.2 355.3 L451.8 355.9 L452.4 356.7 L453 354.1 L453.6 353.7 L454.2 356.3 L454.8 353.8 L455.4 354.1 L456 351.8 L456.6 354.2 L457.2 354.8 L457.8 352.5 L458.4 354.7 L459 352.4 L459.6 353.4 L460 355.4 L460.2 356.4 L460.8 355.4 L461.4 358.5 L462 357.3 L462.6 360.6 L463.2 358.6 L463.8 362.5 L464.4 362.9 L465 363.2 L465 364.2 L465.6 364.2 L466.2 364.5 L466.8 365.7 L467.4 364 L468 364.1 L468.6 365.1 L469.2 364.6 L469.8 365.3 L470.4 363.9 L471 366.7 L471.6 364.5 L472.2 367.1 L472.8 367.1 L473.4 365.2 L474 367.1 L474.6 368.2 L475.2 366.2 L475.8 367.2 L476.4 365.6 L477 368.3 L477.6 367.3 L478.2 369.2 L478.8 368.5 L479.4 367.4 L480 366.4 L480 368.7 L480.6 369.3 L481.2 367.7 L481.8 369.6 L482.4 369.2 L483 368.5 L483.6 368.2 L484.2 369.3 L484.8 370.9 L485.4 368.7 L486 370 L486.6 370.3 L487.2 369.8 L487.8 369.7 L488.4 371.8 L489 372.9 L489.6 371.4 L490 370.4 L490.2 371.9 L490.8 371.3 L491.4 372 L492 370.2 L492.6 372.5 L493.2 370.7 L493.8 372.6 L494.4 371.1 L495 370.4 L495.6 370.7 L496.2 371.5 L496.8 371.4 L497.4 371.9 L498 368.9 L498.6 369.7 L499.2 370.2 L499.8 367.6 L500.4 369.8 L501 370.8 L501.6 369.3 L502.2 370 L502.8 369.2 L503.4 369.8 L504 368.4 L504.6 371 L505.2 370.7 L505.8 369.9 L506.4 371.8 L507 370 L507.6 369.1 L508.2 366.6 L508.8 367.8 L509.4 369.9 L510 371 L510 368.3 L510.6 370.1 L511.2 368.2 L511.8 368.8 L512.4 368.4 L513 368.8 L513.6 368.7 L514.2 369.8 L514.8 367.9 L515.4 371.7 L516 370.5 L516.6 367.2 L517.2 367.8 L517.8 372.7 L518.4 368.5 L519 370.7 L519.6 368.7 L520.2 374.1 L520.8 368.1 L521.4 372.4 L522 370.9 L522.6 369.8 L523.2 370 L523.8 369.2 L524.4 367.8 L525 371.3 L525 373.1 L525.6 370.1 L526.2 371 L526.8 371.4 L527.4 368.2 L528 369.3 L528.6 367.7 L529.2 370.5 L529.8 368.2 L530.4 371.3 L531 370.5 L531.6 367.9 L532.2 369.6 L532.8 369.1 L533.4 367.9 L534 368.4 L534.6 368.6 L535.2 365.9 L535.8 369.7 L536.4 367.2 L537 366.8 L537.6 368.6 L538.2 366.3 L538.8 369.6 L539.4 368.8 L540 367.3 L540.6 368.9 L541.2 369 L541.8 366.3 L542.4 364.3 L543 364.6 L543.6 365.5 L544.2 367.4 L544.8 367 L545 366.1 L545.4 368.8 L546 365.8 L546.6 366.9 L547.2 364.5 L547.8 365.1 L548.4 365.9 L549 367.1 L549.6 362.7 L550.2 367.3 L550.8 364.1 L551.4 366.8 L552 365.2 L552.6 363.5 L553.2 364.1 L553.8 367.9 L554.4 364.9 L555 364.4 L555.6 363 L556.2 363.5 L556.8 366.5 L557.4 366.8 L558 367.3 L558 365.4" stroke="#008000" stroke-width="1.6" fill="none" stroke-linejoin="round" stroke-linecap="round" clip-path="url(#ca1)"/>
<path d="M603 363.5 L603.6 363.1 L604.2 364.3 L604.8 363.3 L605.4 362.8 L606 363.3 L606.6 363.3 L607.2 363.9 L607.8 363.2 L608.4 363.9 L609 363.5 L609.6 363.2 L610.2 361.8 L610.8 361.8 L611.4 362.9 L612 363.2 L612.6 363.6 L613.2 361.8 L613.8 363 L614.4 362.9 L615 363 L615.6 362.6 L616.2 362.3 L616.8 362.3 L617.4 362.5 L618 362.8 L618.6 361.7 L619.2 361.8 L619.8 361.6 L620.4 362 L621 360.6 L621.6 362.6 L622.2 361.8 L622.8 361.2 L623.4 361.5 L624 361.4 L624.6 361.2 L625.2 361.4 L625.8 362.7 L626.4 362.8 L627 360.2 L627.6 361.3 L628.2 361.3 L628.8 360.5 L629.4 360.9 L630 360.8 L630.6 360.9 L631.2 360 L631.8 360.1 L632.4 361.2 L633 361 L633.6 361 L634.2 360.9 L634.8 359.9 L635.4 360.7 L636 360.2 L636.6 360.8 L637.2 360.1 L637.8 360.5 L638.4 359.7 L639 360.8 L639.6 359.9 L640.2 360.1 L640.8 359.4 L641.4 360.5 L642 360.2 L642.6 360.5 L643.2 359.2 L643.8 359.9 L644.4 359.5 L645 359.3 L645.6 359.6 L646.2 359.1 L646.8 359.9 L647.4 358.6 L648 358.7 L648.6 358.7 L649.2 359.4 L649.8 358.4 L650.4 358 L651 359 L651.6 359.3 L652.2 358.3 L652.8 358.8 L653.4 358.3 L654 358.6 L654.6 358.7 L655.2 357.4 L655.8 359.2 L656.4 358.2 L657 358.7 L657.6 358.6 L658.2 357.5 L658.8 358.8 L659.4 357.7 L660 357.4 L660 358.2 L660.6 359 L661.2 358.6 L661.8 356.6 L662.4 357.6 L663 357.8 L663.6 357.5 L664.2 357.2 L664.8 357.4 L665.4 357.1 L666 358.4 L666.6 357.7 L667.2 357 L667.8 357.7 L668.4 358.3 L669 357.3 L669.6 358.1 L670.2 356.8 L670.8 357.2 L671.4 358.8 L672 357.4 L672.6 356.7 L673.2 358.1 L673.8 357.2 L674.4 357.9 L675 357.2 L675.6 356.5 L676.2 358.1 L676.8 357.2 L677.4 356.4 L678 357.8 L678.6 357.2 L679.2 358.3 L679.8 357.7 L680.4 357.2 L681 356.2 L681.6 356.1 L682.2 356.9 L682.8 356.1 L683.4 357 L684 357.4 L684.6 357.1 L685.2 357.6 L685.8 357.3 L686.4 357 L687 356.6 L687.6 356.3 L688.2 356.5 L688.8 356.7 L689.4 357.3 L690 356.5 L690.6 356.1 L691.2 356 L691.8 356 L692.4 356 L693 357.5 L693.6 357 L694.2 356.5 L694.8 356.7 L695.4 356.2 L696 355.8 L696.6 355.6 L697.2 356.4 L697.8 356.7 L698.4 356.8 L699 355.9 L699.6 356.5 L700 355.6 L700.2 356.3 L700.8 355.9 L701.4 356.1 L702 355 L702.6 355.8 L703.2 355.6 L703.8 355.3 L704.4 356 L705 355.6 L705.6 355.6 L706.2 355.9 L706.8 354.6 L707.4 355.4 L708 353.9 L708.6 354.7 L709.2 354 L709.8 354.1 L710.4 354.6 L711 354.8 L711.6 354.5 L712.2 354.6 L712.8 354.5 L713.4 353.9 L714 354.1 L714.6 353.6 L715 353.2 L715.2 354 L715.8 352.9 L716.4 351.8 L717 351.4 L717.6 351.9 L718.2 351.3 L718.8 350.7 L719.4 350.6 L720 349.8 L720 349.7 L720.6 349.5 L721.2 350.5 L721.8 351.1 L722.4 350.1 L723 350.3 L723.6 351.1 L724.2 351.3 L724.8 351.5 L725.4 351 L726 351.5 L726.6 351.3 L727.2 351.9 L727.8 351.3 L728.4 352.2 L729 351.4 L729.6 353.3 L730.2 351.7 L730.8 352.7 L731.4 353.6 L732 352.8 L732.6 353.5 L733.2 352.2 L733.8 354.2 L734.4 354.7 L735 354.9 L735 353.2 L735.6 354.5 L736.2 352.6 L736.8 351.5 L737.4 349.8 L738 351 L738.6 349.9 L739.2 347.6 L739.8 346.4 L740 347.4 L740.4 342.6 L741 342.7 L741.6 338.8 L742 336.7 L742.2 335.1 L742.8 342.5 L743.4 340.8 L744 344.7 L744.6 345.7 L745 347.7 L745.2 344.8 L745.8 348.5 L746.4 345.7 L747 344.2 L747.6 346.6 L748.2 349.4 L748.8 348.5 L749.4 348 L750 345.9 L750.6 349.7 L751.2 348.6 L751.8 347 L752.4 349.5 L753 347.8 L753.6 347.2 L754.2 349.3 L754.8 349.7 L755.4 347.6 L756 352.5 L756.6 348.8 L757 350.6 L757.2 348.5 L757.8 346.9 L758.4 345.8 L759 343.6 L759.6 343.1 L760 342.9 L760.2 340.3 L760.8 343.1 L761.4 343.1 L762 341.3 L762.6 342.5 L763.2 342.2 L763.8 342.7 L764.4 341.3 L765 340.1 L765.6 339.6 L766.2 340.1 L766.8 340 L767.4 341.2 L768 338.7 L768.6 338.8 L769.2 338.8 L769.8 341.6 L770.4 343.5 L771 337.3 L771.6 336.6 L772.2 336.1 L772.8 338.3 L773.4 338.5 L774 338.3 L774.6 337.3 L775.2 337.8 L775.8 338 L776.4 341.6 L777 337 L777.6 337.8 L778.2 335.9 L778.8 336.6 L779.4 336.6 L780 340 L780 334.6 L780.6 335.5 L781.2 334.6 L781.8 336.5 L782.4 336.1 L783 334.2 L783.6 336.3 L784.2 336.3 L784.8 336 L785.4 335.4 L786 337.1 L786.6 336.2 L787.2 336.2 L787.8 336.1 L788.4 335.1 L789 335.7 L789.6 336 L790.2 334.9 L790.8 337 L791.4 334.1 L792 337 L792.6 335 L793.2 334.7 L793.8 335.8 L794.4 335.5 L795 337.1 L795.6 334.5 L796.2 334.3 L796.8 336.1 L797.4 338.6 L798 334.2 L798.6 337.8 L799.2 339.4 L799.8 335.2 L800 337.9 L800.4 337.7 L801 339.9 L801.6 342.9 L802.2 345.7 L802.8 347.5 L803 349.9 L803.4 349 L804 352.8 L804.6 351.9 L805.2 349.6 L805.8 349.4 L806.4 351 L807 353.6 L807.6 351.9 L808.2 350.4 L808.8 351.9 L809.4 346.5 L810 346.5 L810.6 349.5 L811.2 347.5 L811.8 348.8 L812.4 348.3 L813 348.9 L813.6 349 L814.2 347.8 L814.8 347.6 L815.4 349.6 L816 348 L816.6 347.5 L817.2 347.4 L817.8 346.6 L818.4 346 L819 349.9 L819.6 345.5 L820 347.8 L820.2 347.2 L820.8 346.5 L821.4 346.9 L822 350 L822.6 348 L823.2 344.3 L823.8 341.6 L824.4 344 L825 342.8 L825.6 341.2 L826.2 343.3 L826.8 341 L827.4 340.2 L828 343.3 L828.6 341.5 L829.2 339 L829.8 341.3 L830 339.1 L830.4 338.3 L831 338.7 L831.6 339.5 L832.2 340.1 L832.8 339.7 L833.4 340.9 L834 340 L834.6 340.4 L835.2 343.8 L835.8 344.7 L836.4 344 L837 342.9 L837.6 344.8 L838.2 343.6 L838.8 344.3 L839.4 345.7 L840 348 L840 350.6 L840.6 348.4 L841.2 346.7 L841.8 345.9 L842.4 348.4 L843 349.1 L843.6 347.1 L844.2 349.3 L844.8 349.6 L845.4 347.8 L846 347.9 L846.6 346.7 L847.2 345.8 L847.8 347.9 L848.4 348.3 L849 347.3 L849.6 347.5 L850 349.7 L850.2 347.9 L850.8 351.8 L851.4 348.3 L852 349 L852.6 346.6 L853.2 346.2 L853.8 345.6 L854.4 344.7 L855 347.9 L855.6 347 L856.2 344.5 L856.8 345.4 L857.4 345.1 L858 343.5 L858.6 344.3 L859.2 342.5 L859.8 343.7 L860 344.5 L860.4 340.1 L861 337.9 L861.6 332.5 L862 326.2 L862.2 329 L862.8 328.3 L863.4 328.2 L864 326.7 L864.6 330.1 L865.2 327.5 L865.8 330.3 L866.4 330.1 L867 331.1 L867.6 328.7 L868.2 331.2 L868.8 328.3 L869.4 332.1 L870 330.4 L870 329.8 L870.6 330.9 L871.2 332.9 L871.8 331.2 L872.4 333.6 L873 333.4 L873.6 335.3 L874.2 335 L874.8 337.1 L875 338.7 L875.4 335.7 L876 336.5 L876.6 337.8 L877.2 336.3 L877.8 337 L878.4 332.8 L879 333 L879.6 334 L880 335.3 L880.2 332.8 L880.8 335.3 L881.4 332.5 L882 336.4 L882.6 332.7 L883.2 336.8 L883.8 333.7 L884.4 334.1 L885 333.5 L885.6 334.7 L886.2 338.5 L886.8 336.1 L887.4 335 L888 334.8 L888.6 336.9 L889.2 333.8 L889.8 336.9 L890 336.9 L890.4 336.2 L891 337.9 L891.6 338.3 L892.2 340.2 L892.8 340.3 L893.4 342.4 L894 341.4 L894.6 343.5 L895 343.6 L895.2 342.2 L895.8 341.6 L896.4 344.5 L897 339.1 L897.6 338.3 L898.2 343.1 L898.8 343.1 L899.4 342.8 L900 343.6 L900 342" stroke="#008000" stroke-width="1.6" fill="none" stroke-linejoin="round" stroke-linecap="round" clip-path="url(#ca1)"/>
<path d="M93 490.5 L93.6 490.6 L94.2 491 L94.8 490 L95.4 490.6 L96 490 L96.6 490 L97.2 492.8 L97.8 490 L98.4 490.6 L99 491 L99.6 490.5 L100.2 489.5 L100.8 489.6 L101.4 491.9 L102 490.2 L102.6 488.6 L103.2 490.5 L103.8 489.8 L104.4 489.6 L105 489.3 L105.6 492 L106.2 492.5 L106.8 489.8 L107.4 490.1 L108 490 L108.6 489.3 L109.2 490.2 L109.8 490.8 L110.4 489.8 L111 490.6 L111.6 490.8 L112.2 491.2 L112.8 489.9 L113.4 489.5 L114 489.7 L114.6 489.9 L115.2 488.5 L115.8 488.6 L116.4 488.6 L117 489.8 L117.6 489.6 L118.2 489 L118.8 491.4 L119.4 489.1 L120 489 L120 488.8 L120.6 491.1 L121.2 491.3 L121.8 489.1 L122.4 490.3 L123 490.6 L123.6 488.5 L124.2 488.1 L124.8 488.5 L125.4 492.9 L126 490.6 L126.6 490.7 L127.2 490.2 L127.8 490 L128.4 492.6 L129 489.7 L129.6 491 L130.2 493.3 L130.8 490.5 L131.4 490.8 L132 490.6 L132.6 489.8 L133.2 490.9 L133.8 492.6 L134.4 491 L135 491.4 L135.6 490.1 L136.2 488.9 L136.8 492.7 L137.4 490 L138 491.1 L138.6 491.4 L139.2 493.5 L139.8 490.5 L140.4 492.9 L141 489.9 L141.6 492.9 L142.2 493.4 L142.8 492.5 L143.4 492.7 L144 492.6 L144.6 493.5 L145 491.8 L145.2 495.5 L145.8 492.3 L146.4 492.9 L147 493.1 L147.6 493.5 L148.2 493 L148.8 493.6 L149.4 492.3 L150 492.1 L150 492.9 L150.6 491.9 L151.2 490.4 L151.8 484 L152 484.7 L152.4 483.1 L153 485.6 L153.6 484.3 L154.2 488 L154.8 483.8 L155.4 486 L156 484.3 L156.6 484.2 L157.2 485.2 L157.8 483.2 L158.4 485.3 L159 483.8 L159.6 485.1 L160.2 485.1 L160.8 482 L161.4 483.5 L162 484.2 L162.6 483.4 L163.2 484.6 L163.8 484.4 L164.4 483.6 L165 484.7 L165.6 483.9 L166.2 483.2 L166.8 484.8 L167.4 483.5 L168 484.6 L168.6 483 L169.2 483 L169.8 483 L170 483.6 L170.4 481.3 L171 483.5 L171.6 482.7 L172.2 482.4 L172.8 481.2 L173.4 482.5 L174 482.5 L174.6 483 L175.2 481.8 L175.8 482.3 L176.4 482.2 L177 480.9 L177.6 481.3 L178.2 479.1 L178.8 479.5 L179.4 481 L180 480.9 L180 480.2 L180.6 480.4 L181.2 481.7 L181.8 478.9 L182.4 480.6 L183 477.9 L183.6 479.2 L184.2 480.3 L184.8 479.7 L185.4 478.5 L186 481.5 L186.6 478.1 L187.2 477.7 L187.8 479.4 L188.4 478.2 L189 479.9 L189.6 478.9 L190 479.2 L190.2 479.5 L190.8 480.1 L191.4 479.1 L192 478.6 L192.6 478.2 L193.2 478.8 L193.8 479.6 L194.4 479.5 L195 477.7 L195.6 479.3 L196.2 478.1 L196.8 478.4 L197.4 481.6 L198 478.3 L198.6 480.5 L199.2 478.2 L199.8 480.2 L200 478.9 L200.4 479.9 L201 482.9 L201.6 482.5 L202.2 482.4 L202.8 483.3 L203.4 484.4 L204 487.8 L204.6 488.3 L205 487.4 L205.2 487.7 L205.8 488.4 L206.4 485.3 L207 483.6 L207.6 485 L208.2 481.9 L208.8 480.7 L209.4 480.8 L210 479.7 L210 479.3 L210.6 477.1 L211.2 477 L211.8 477.1 L212.4 477.9 L213 476.5 L213.6 478 L214.2 476 L214.8 476.9 L215 477 L215.4 478 L216 476.4 L216.6 478 L217.2 479.8 L217.8 479.5 L218.4 477.3 L219 480.3 L219.6 481.1 L220 479.1 L220.2 479 L220.8 482.7 L221.4 486.4 L222 486.2 L222.6 490.8 L223.2 495.4 L223.8 495.3 L224.4 499.1 L225 501.7 L225 500.6 L225.6 494.5 L226.2 493.1 L226.8 488.4 L227.4 485.4 L228 478.9 L228 481.1 L228.6 481.3 L229.2 480.9 L229.8 482.5 L230 481.2 L230.4 483.6 L231 483.6 L231.6 484.1 L232.2 484 L232.8 483.9 L233.4 483.3 L234 485.5 L234.6 486.1 L235.2 486.4 L235.8 486.1 L236.4 488.5 L237 486 L237.6 488.7 L238 488.1 L238.2 487 L238.8 484.4 L239.4 483.9 L240 483.3 L240.6 482.1 L241.2 482.5 L241.8 482.1 L242.4 478.2 L243 478.8 L243.6 474.8 L244.2 474.5 L244.8 474.1 L245 473.9 L245.4 472.1 L246 470.7 L246.6 469.8 L247.2 469.8 L247.8 470.7 L248.4 471.6 L249 472 L249.6 470.5 L250 472 L250.2 467.5 L250.8 464.7 L251.4 469.5 L252 462.1 L252 453.8 L252.6 435.1 L253.2 443.7 L253.8 430.6 L254 430.3 L254.4 415.4 L255 429.1 L255.6 421 L256 412.2 L256.2 402.1 L256.8 418 L257.4 434.8 L258 435.6 L258 422.9 L258.6 441.2 L259.2 455 L259.8 458.4 L260 452 L260.4 455.3 L261 478.9 L261.6 489.4 L262 508.7 L262.2 479.8 L262.8 460 L263.4 472.6 L264 435.6 L264 439.1 L264.6 433.3 L265 409.5 L265.2 412.1 L265.8 441.2 L266.4 431.2 L267 456.1 L267 448 L267.6 456 L268 456.5 L268.2 481 L268.8 497.1 L269.4 512.8 L270 527 L270 518.5 L270.6 520.2 L271.2 490.6 L271.8 493 L272 472 L272.4 473.1 L273 466.2 L273.6 465.2 L274.2 458.2 L274.8 445.4 L275 435.2 L275.4 451.4 L276 446.4 L276.6 470.7 L277 477.8 L277.2 464 L277.8 480.9 L278.4 469.5 L279 468 L279.6 484.3 L280 487.6 L280.2 473.1 L280.8 459.6 L281.4 448 L282 473.7 L282.6 452.3 L283 453.9 L283.2 461.5 L283.8 446.6 L284.4 440.8 L285 454.3 L285 454.7 L285.6 457.4 L286.2 453.9 L286.8 459.7 L287 442.5 L287.4 464.3 L288 473.7 L288.6 483.8 L289 497 L289.2 491.4 L289.8 494.5 L290.4 504.3 L291 520.6 L291 518.8 L291.6 525.7 L292 528.1 L292.2 536.5 L292.8 531.6 L293.4 496.9 L294 496.9 L294 499.5 L294.6 484.9 L295 474.3 L295.2 477.6 L295.8 475.4 L296.4 474.2 L297 474.8 L297.6 474.5 L298.2 471.8 L298.8 471.3 L299.4 467.2 L300 467.9 L300 467 L300.6 466.1 L301.2 465.2 L301.8 465.8 L302.4 461.7 L303 462.2 L303.6 464.5 L304.2 460.6 L304.8 458.9 L305 461.7 L305.4 458 L306 458.4 L306.6 462.8 L307.2 460.8 L307.8 461.5 L308.4 463.3 L309 462.5 L309.6 461.7 L310 462.2 L310.2 463.3 L310.8 459.7 L311.4 462.3 L312 460.3 L312.6 461.9 L313.2 460.5 L313.8 464.9 L314.4 461.8 L315 463.9 L315.6 462.3 L316.2 462.2 L316.8 462.3 L317.4 459.9 L318 464.3 L318.6 464.6 L319.2 463.1 L319.8 463.3 L320 463.1 L320.4 464.1 L321 463.7 L321.6 464.7 L322.2 462.8 L322.8 464.6 L323.4 464.2 L324 466.1 L324.6 466.6 L325.2 465.9 L325.8 469.2 L326.4 466.9 L327 467.2 L327.6 468 L328.2 470.2 L328.8 469.3 L329.4 470 L330 471.7 L330 468.6 L330.6 466.1 L331.2 467.5 L331.8 467.4 L332.4 468.5 L333 467.6 L333.6 464.9 L334.2 464 L334.8 464.5 L335 461.2 L335.4 466.9 L336 464.5 L336.6 466.5 L337.2 466.3 L337.8 468.3 L338.4 470.1 L339 471.4 L339.6 474.4 L340 474.9 L340.2 476.1 L340.8 477.9 L341.4 482.1 L342 484.2 L342 485 L342.6 477.9 L343.2 478.5 L343.8 469.8 L344.4 465.7 L345 461.1 L345 461.2 L345.6 459.1 L346.2 461.7 L346.8 461.1 L347.4 462.6 L348 459.8 L348.6 461.2 L349.2 461.6 L349.8 461.3 L350.4 461.8 L351 460.1 L351.6 462.4 L352.2 461.4 L352.8 460.6 L353.4 461.1 L354 461.7 L354.6 460.2 L355 461.9 L355.2 463.6 L355.8 464.6 L356.4 465.8 L357 467.6 L357.6 472.3 L358 473.9 L358.2 471.8 L358.8 472.1 L359.4 471.5 L360 470.8 L360.6 468.9 L361.2 468.7 L361.8 467.8 L362.4 467.7 L363 467.9 L363.6 465.5 L364.2 465.7 L364.8 464.4 L365 464.4 L365.4 462.6 L366 463 L366.6 462.4 L367.2 460.1 L367.8 461 L368.4 458.4 L369 459.5 L369.6 456 L370 457 L370.2 457.6 L370.8 456.6 L371.4 457 L372 456.2 L372.6 454.4 L373.2 456.2 L373.8 455.5 L374.4 456 L375 454.2 L375.6 453.6 L376.2 454.9 L376.8 453.8 L377.4 455.1 L378 454.1 L378.6 454.8 L379.2 453.1 L379.8 453 L380 454.8 L380.4 451.9 L381 453.6 L381.6 454.4 L382.2 453.8 L382.8 452.9 L383.4 455.3 L384 454.3 L384.6 454.6 L385.2 454.3 L385.8 455 L386.4 452.9 L387 453.6 L387.6 455.7 L388.2 454.1 L388.8 455.8 L389.4 454.4 L390 453.8 L390.6 454.6 L391.2 455 L391.8 455.5 L392.4 455.3 L393 455.3 L393.6 455.7 L394.2 456.6 L394.8 455.1 L395.4 454.9 L396 456.7 L396.6 455.9 L397.2 456.2 L397.8 455.5 L398.4 455.4 L399 456.4 L399.6 458.9 L400 457.5 L400.2 456.8 L400.8 457.4 L401.4 457.5 L402 457.5 L402.6 457 L403.2 458.4 L403.8 459.1 L404.4 459.4 L405 459.9 L405 459.9 L405.6 458.7 L406.2 459.8 L406.8 459.9 L407.4 458.5 L408 457.2 L408.6 457.4 L409.2 458.1 L409.8 456.9 L410.4 455.7 L411 457.9 L411.6 456.9 L412.2 456.4 L412.8 454.9 L413.4 455.5 L414 455.3 L414.6 455.3 L415 454.2 L415.2 454.3 L415.8 455.7 L416.4 456.1 L417 454.5 L417.6 455.8 L418.2 454.1 L418.8 454.2 L419.4 454.9 L420 454.7 L420.6 453.2 L421.2 454.5 L421.8 454.5 L422.4 455.4 L423 453.4 L423.6 453.6 L424.2 455.1 L424.8 454.8 L425.4 454 L426 453.8 L426.6 454.3 L427.2 454 L427.8 454.1 L428.4 453.6 L429 453.1 L429.6 453.5 L430 454.2 L430.2 452.8 L430.8 454.1 L431.4 453.2 L432 453.6 L432.6 455.4 L433.2 453.2 L433.8 455.5 L434.4 455.4 L435 455.3 L435.6 455.9 L436.2 455.9 L436.8 454.6 L437.4 455.6 L438 455.6 L438.6 454.9 L439.2 454.8 L439.8 455.6 L440 455.2 L440.4 455.2 L441 458.1 L441.6 457.9 L442.2 460.1 L442.8 458.9 L443.4 459.3 L444 460.1 L444.6 462.1 L445 462 L445.2 463.4 L445.8 462.4 L446.4 463.2 L447 462.6 L447.6 462.3 L448.2 461.4 L448.8 459.6 L449.4 462.1 L450 461.9 L450 461.2 L450.6 461.1 L451.2 460 L451.8 462.2 L452.4 461.3 L453 464.5 L453.6 463 L454.2 463.4 L454.8 463.4 L455.4 462.9 L456 463.2 L456.6 464 L457.2 463.4 L457.8 463.6 L458.4 465.2 L459 464.1 L459.6 466.7 L460 465.9 L460.2 466.3 L460.8 466.9 L461.4 468.9 L462 469.3 L462.6 470.5 L463.2 471.4 L463.8 473.2 L464.4 473.9 L465 476.2 L465 476.8 L465.6 475.2 L466.2 475.6 L466.8 476.7 L467.4 477.1 L468 479.1 L468.6 477.9 L469.2 478.6 L469.8 478.9 L470 479.3 L470.4 480.5 L471 478.3 L471.6 479.8 L472.2 479.3 L472.8 480.4 L473.4 479.6 L474 479.8 L474.6 479.8 L475 481.4 L475.2 481.1 L475.8 481.2 L476.4 481.5 L477 481.8 L477.6 482.8 L478.2 483.7 L478.8 483.2 L479.4 483.1 L480 485.5 L480 483.5 L480.6 482.8 L481.2 483.2 L481.8 482.5 L482.4 483.1 L483 484.8 L483.6 484.3 L484.2 485.1 L484.8 485.8 L485.4 483.9 L486 486.6 L486.6 486.4 L487.2 486.6 L487.8 484 L488.4 486.1 L489 486.5 L489.6 485.4 L490 486.1 L490.2 486.2 L490.8 486.7 L491.4 487.4 L492 485.2 L492.6 486 L493.2 484.6 L493.8 485.3 L494.4 482.8 L495 482.6 L495 483.6 L495.6 481.9 L496.2 484.5 L496.8 483.8 L497.4 482.2 L498 483.3 L498.6 484.6 L499.2 483.2 L499.8 484 L500 483.9 L500.4 483 L501 485.1 L501.6 484.7 L502.2 484 L502.8 483.2 L503.4 484.9 L504 485.6 L504.6 485.6 L505.2 485.6 L505.8 485.6 L506.4 487.3 L507 485.7 L507.6 485.3 L508.2 485.4 L508.8 484.4 L509.4 485.9 L510 486.7 L510 486.2 L510.6 487.4 L511.2 488.8 L511.8 487.4 L512.4 488.2 L513 488 L513.6 489.9 L514.2 488.5 L514.8 489.4 L515.4 490.4 L516 489.5 L516.6 490.6 L517.2 491.5 L517.8 492 L518.4 492.5 L519 493 L519.6 494.2 L520 492.8 L520.2 492.3 L520.8 492.7 L521.4 493.4 L522 493.8 L522.6 495.6 L523.2 494.9 L523.8 493.6 L524.4 495.1 L525 495.9 L525.6 495 L526.2 498 L526.8 495.7 L527.4 497.2 L528 497.6 L528.6 498.1 L529.2 497 L529.8 499.7 L530 498.2 L530.4 497.7 L531 499 L531.6 499.7 L532.2 498.1 L532.8 500.7 L533.4 498.5 L534 500.4 L534.6 499.3 L535.2 500.2 L535.8 500.2 L536.4 499.2 L537 500 L537.6 497.9 L538.2 499.3 L538.8 498.1 L539.4 500.9 L540 499.6 L540.6 498.2 L541.2 498.4 L541.8 500.3 L542.4 500.1 L543 499.8 L543.6 499 L544.2 499.5 L544.8 501 L545 501.1 L545.4 499.2 L546 499.5 L546.6 500.1 L547.2 501.6 L547.8 501.2 L548.4 500.5 L549 501.8 L549.6 500.6 L550.2 502.5 L550.8 501.6 L551.4 501.6 L552 501.1 L552.6 502.6 L553.2 501.5 L553.8 502.4 L554.4 501.2 L555 502 L555.6 502.7 L556.2 503.8 L556.8 502.5 L557.4 503.1 L558 503.5 L558 503.4" stroke="#0000ff" stroke-width="1.6" fill="none" stroke-linejoin="round" stroke-linecap="round" clip-path="url(#ca2)"/>
<path d="M603 513.7 L603.6 512.4 L604.2 512.1 L604.8 511.2 L605.4 511.1 L606 511.6 L606.6 510.8 L607.2 509.6 L607.8 510.1 L608.4 510.3 L609 513.6 L609.6 510.8 L610 511 L610.2 511.3 L610.8 509.9 L611.4 510.4 L612 511 L612.6 511.4 L613.2 513.5 L613.8 511 L614.4 510.7 L615 512 L615.6 513.4 L616.2 509.3 L616.8 512.1 L617.4 510.6 L618 512.6 L618.6 511 L619.2 512.9 L619.8 510.4 L620 512.8 L620.4 513.5 L621 511.8 L621.6 511.1 L622.2 514.3 L622.8 512.3 L623.4 511.3 L624 513.2 L624.6 512.5 L625.2 511.8 L625.8 512.9 L626.4 511.6 L627 512.4 L627.6 512.6 L628.2 513.7 L628.8 511.5 L629.4 513.9 L630 513.1 L630.6 514 L631.2 512.3 L631.8 511.4 L632.4 512 L633 513.6 L633.6 513.5 L634.2 512.5 L634.8 511 L635.4 513.5 L636 512.8 L636.6 512.7 L637.2 512.2 L637.8 514.8 L638.4 511.4 L639 511.8 L639.6 511.3 L640 512.1 L640.2 514 L640.8 514.2 L641.4 512.9 L642 514.7 L642.6 513.2 L643.2 514.5 L643.8 511.4 L644.4 514.7 L645 514.1 L645.6 512.9 L646.2 515.1 L646.8 512.4 L647.4 515.6 L648 513.2 L648.6 514.2 L649.2 514.8 L649.8 513.8 L650 514.8 L650.4 514.2 L651 514 L651.6 514.2 L652.2 514.1 L652.8 515.2 L653.4 516.4 L654 517.3 L654.6 515.4 L655.2 516.1 L655.8 518.1 L656.4 514.3 L657 514.7 L657.6 514.5 L658.2 515.9 L658.8 516.1 L659.4 514.8 L660 514.5 L660 515.4 L660.6 514.3 L661.2 515.3 L661.8 514.7 L662.4 516.5 L663 514.7 L663.6 515 L664.2 516.6 L664.8 514.6 L665.4 515.7 L666 515.4 L666.6 515.1 L667.2 516.7 L667.8 517.1 L668.4 518.1 L669 515.2 L669.6 517.1 L670.2 517 L670.8 516.6 L671.4 515.3 L672 516.4 L672.6 518 L673.2 515.8 L673.8 516.4 L674.4 516.7 L675 517.1 L675.6 517.4 L676.2 515.3 L676.8 515.2 L677.4 517.7 L678 517.4 L678.6 519.1 L679.2 518.2 L679.8 518.4 L680 515.8 L680.4 514.8 L681 517.8 L681.6 515.6 L682.2 517 L682.8 517.3 L683.4 516.4 L684 519 L684.6 516.6 L685.2 517 L685.8 517.6 L686.4 517.8 L687 516.7 L687.6 516.8 L688.2 518.7 L688.8 515.6 L689.4 517.5 L690 516.1 L690.6 516.7 L691.2 515.1 L691.8 516.7 L692.4 516.7 L693 518.4 L693.6 516.9 L694.2 518.2 L694.8 515.4 L695.4 516.4 L696 517 L696.6 516.2 L697.2 515 L697.8 516.3 L698.4 515.9 L699 517.1 L699.6 517.7 L700 515.4 L700.2 517.6 L700.8 516.2 L701.4 514.3 L702 518.5 L702.6 518.8 L703.2 517.5 L703.8 520.1 L704.4 518.6 L705 517.2 L705.6 517.3 L706.2 516.6 L706.8 520.3 L707.4 521.4 L708 519.3 L708.6 520.5 L709.2 519.8 L709.8 521.3 L710 518.8 L710.4 521.4 L711 519 L711.6 519.3 L712.2 521.7 L712.8 519.7 L713.4 519.6 L714 518.4 L714.6 523.2 L715.2 518.6 L715.8 519.3 L716.4 518.4 L717 522.5 L717.6 519.4 L718.2 519.8 L718.8 520.5 L719.4 518.8 L720 520.9 L720.6 518.3 L721.2 518.5 L721.8 519.6 L722.4 521.3 L723 519.6 L723.6 518.2 L724.2 519.5 L724.8 520.4 L725.4 519.4 L726 521 L726.6 520.5 L727.2 519.2 L727.8 521.7 L728.4 518.1 L729 518 L729.6 519.7 L730.2 519 L730.8 519.4 L731.4 518.6 L732 519.3 L732.6 520.8 L733.2 520.6 L733.8 519.5 L734.4 521.4 L735 517.5 L735 518.8 L735.6 519.1 L736.2 515.6 L736.8 513 L737.4 514.1 L738 511.4 L738.6 512.5 L739.2 509.8 L739.8 510.6 L740 510.1 L740.4 508.9 L741 508.7 L741.6 510.3 L742.2 511.1 L742.8 513.2 L743.4 512.2 L744 512.9 L744.6 510.4 L745 512.2 L745.2 516.7 L745.8 513 L746.4 516.9 L747 516.4 L747.6 516.2 L748.2 517.3 L748.8 520 L749.4 519.9 L750 519.1 L750 520.5 L750.6 519.4 L751.2 520 L751.8 518.1 L752.4 519.3 L753 516.8 L753.6 517.2 L754.2 517.1 L754.8 516.7 L755 516.8 L755.4 517 L756 517.9 L756.6 518.6 L757.2 520.2 L757.8 518.1 L758.4 521.2 L759 521.6 L759.6 524.7 L760 523 L760.2 524.7 L760.8 520 L761.4 513.4 L762 511.9 L762.6 509.9 L763 504.7 L763.2 503.3 L763.8 505.6 L764.4 505.9 L765 506.7 L765.6 505.6 L766.2 507.1 L766.8 510 L767.4 508.4 L768 508.2 L768.6 507.3 L769.2 507.6 L769.8 508.1 L770 508.3 L770.4 508.3 L771 508.9 L771.6 510.2 L772.2 509.5 L772.8 506.9 L773.4 508.1 L774 508.6 L774.6 508.1 L775.2 507.4 L775.8 510.1 L776.4 506.1 L777 508.4 L777.6 507.6 L778.2 507.6 L778.8 509.1 L779.4 505.8 L780 507.6 L780 508 L780.6 506.6 L781.2 507.4 L781.8 506.1 L782.4 505.1 L783 505.2 L783.6 505.6 L784.2 504.9 L784.8 502.2 L785 504.1 L785.4 502.9 L786 506.2 L786.6 506.3 L787.2 506.4 L787.8 509.7 L788.4 509.9 L789 511.8 L789.6 512 L790 515.2 L790.2 514.1 L790.8 515.4 L791.4 514.1 L792 515.9 L792.6 515.3 L793.2 515.9 L793.8 516.1 L794.4 517.7 L795 519 L795 517.1 L795.6 516.5 L796.2 515 L796.8 515.2 L797.4 511 L798 508.8 L798.6 509.8 L799.2 511.8 L799.8 509 L800 506.9 L800.4 509.4 L801 509.1 L801.6 507.8 L802.2 510.5 L802.8 509.5 L803.4 508.9 L804 511.4 L804.6 510.3 L805.2 510.6 L805.8 512.8 L806.4 513.1 L807 513.3 L807.6 513.1 L808.2 515.3 L808.8 513.4 L809.4 513.7 L810 516.9 L810 516.4 L810.6 513.1 L811.2 516.8 L811.8 516.8 L812.4 516.4 L813 518 L813.6 517.3 L814.2 514 L814.8 517 L815.4 516.6 L816 517.1 L816.6 519.7 L817.2 517.5 L817.8 518.6 L818.4 518.1 L819 518.1 L819.6 517.7 L820 519.6 L820.2 521.8 L820.8 519 L821.4 520.8 L822 520.2 L822.6 519.3 L823.2 517.9 L823.8 522.2 L824.4 521 L825 519.6 L825.6 521.1 L826.2 519.3 L826.8 520.5 L827.4 518.3 L828 520.8 L828.6 519.9 L829.2 520.1 L829.8 520.5 L830 520.9 L830.4 519.2 L831 518.7 L831.6 519.9 L832.2 518.6 L832.8 518.3 L833.4 518.9 L834 518 L834.6 516.8 L835.2 518.4 L835.8 517 L836.4 516.4 L837 517.6 L837.6 517.5 L838.2 517.7 L838.8 514.9 L839.4 517.1 L840 514.3 L840 514.1 L840.6 516.4 L841.2 514.1 L841.8 513.1 L842.4 514.3 L843 514.6 L843.6 512 L844.2 512.8 L844.8 513.7 L845.4 509.9 L846 510.6 L846.6 510.8 L847.2 511.1 L847.8 511.9 L848.4 511.1 L849 512.2 L849.6 512.1 L850 510 L850.2 510.3 L850.8 508.4 L851.4 509.6 L852 509 L852.6 508.1 L853.2 506.8 L853.8 505.7 L854.4 504.4 L855 503.8 L855.6 501.3 L856.2 503.1 L856.8 501.9 L857.4 499.7 L858 501 L858.6 497.4 L859.2 499.7 L859.8 498.3 L860 496.3 L860.4 499.6 L861 496.6 L861.6 495.2 L862.2 496 L862.8 497.4 L863.4 496.2 L864 493.3 L864.6 495.5 L865.2 495.3 L865.8 495.3 L866.4 495.5 L867 495.5 L867.6 496 L868.2 493.7 L868.8 492.6 L869.4 494.9 L870 493.4 L870 492.1 L870.6 495.6 L871.2 494.8 L871.8 494.6 L872.4 493.8 L873 497.2 L873.6 494.5 L874.2 494.7 L874.8 495.2 L875.4 496.6 L876 494.6 L876.6 495.3 L877.2 499 L877.8 494.8 L878.4 495.9 L879 497.3 L879.6 497.1 L880 498.5 L880.2 495.3 L880.8 496.4 L881.4 495.7 L882 495.3 L882.6 497.8 L883.2 493.5 L883.8 494.7 L884.4 495.2 L885 494 L885.6 496 L886.2 493.6 L886.8 497.3 L887.4 495.9 L888 495.8 L888.6 495.1 L889.2 493.3 L889.8 492.3 L890 492.4 L890.4 493.3 L891 491.6 L891.6 492.9 L892.2 494.8 L892.8 490.6 L893.4 489.1 L894 492.7 L894.6 491.3 L895 490 L895.2 492 L895.8 499 L896.4 503.9 L897 507.6 L897.6 512.5 L898 520.2 L898.2 518.5 L898.8 518.3 L899.4 516 L900 515.1 L900 517" stroke="#0000ff" stroke-width="1.6" fill="none" stroke-linejoin="round" stroke-linecap="round" clip-path="url(#ca2)"/>
<path d="M93 496.5 L93.6 498.7 L94.2 498.4 L94.8 498 L95.4 499.3 L96 499.3 L96.6 500.9 L97.2 501.4 L97.8 499 L98.4 498.7 L99 499 L99.6 503 L100.2 503.1 L100.8 501.5 L101.4 500.4 L102 501.7 L102.6 503.9 L103.2 502.6 L103.8 502.3 L104.4 504 L105 503.7 L105 501.9 L105.6 503.4 L106.2 502 L106.8 502.5 L107.4 501.5 L108 501.4 L108.6 500.7 L109.2 503.3 L109.8 502.5 L110.4 499.9 L111 502.9 L111.6 505.7 L112.2 499.7 L112.8 500.2 L113.4 497.9 L114 500.3 L114.6 500.6 L115 502.1 L115.2 499.1 L115.8 501.4 L116.4 499.2 L117 499.9 L117.6 500.3 L118.2 497.8 L118.8 499.2 L119.4 498.2 L120 501.9 L120.6 500.7 L121.2 501.1 L121.8 500.8 L122.4 499.3 L123 501 L123.6 500.7 L124.2 499.1 L124.8 500.6 L125.4 503.2 L126 503 L126.6 500.4 L127.2 500.8 L127.8 498 L128.4 500.6 L129 499.1 L129.6 499.7 L130 502.2 L130.2 499.1 L130.8 503.5 L131.4 501 L132 502.8 L132.6 502.3 L133.2 500 L133.8 500.2 L134.4 499.6 L135 501.1 L135.6 500.3 L136.2 500 L136.8 502.9 L137.4 502.7 L138 503.1 L138.6 501 L139.2 500 L139.8 502.2 L140.4 500.9 L141 500.7 L141.6 503.3 L142.2 502 L142.8 498.7 L143.4 497.2 L144 499.5 L144.6 499.2 L145 501 L145.2 502.7 L145.8 498.3 L146.4 495.6 L147 489.8 L147.6 490.1 L148 493.4 L148.2 492.3 L148.8 494.6 L149.4 505.2 L150 505.6 L150 507.6 L150.6 503 L151.2 504.8 L151.8 495.9 L152 499.8 L152.4 502.5 L153 498.3 L153.6 497.8 L154.2 495.7 L154.8 505.8 L155 500 L155.4 500.2 L156 496.3 L156.6 492.7 L157.2 492.4 L157.8 484.9 L158 493.6 L158.4 489.6 L159 496.3 L159.6 501.6 L160 504.3 L160.2 508.3 L160.8 496.7 L161.4 501.5 L162 502.7 L162.6 495.3 L163 493.6 L163.2 500.5 L163.8 499.9 L164.4 499.8 L165 513.6 L165.6 516.7 L166 512 L166.2 518 L166.8 513.6 L167.4 508.2 L168 500.4 L168.6 506.3 L169.2 507.5 L169.8 499 L170 497.9 L170.4 499.3 L171 499.6 L171.6 502.7 L172.2 506.6 L172.8 499.3 L173.4 503.6 L174 506 L174.6 502.5 L175 506.1 L175.2 503.1 L175.8 504.1 L176.4 499.5 L177 497.2 L177.6 502.8 L178.2 501.5 L178.8 496.1 L179.4 497.4 L180 489.8 L180 493.6 L180.6 495.3 L181.2 506.8 L181.8 499.8 L182.4 504 L183 508.5 L183.6 506.1 L184.2 507.9 L184.8 510.1 L185 512.5 L185.4 511.7 L186 510.2 L186.6 509.4 L187.2 509.7 L187.8 512.7 L188.4 513 L189 510.6 L189.6 517.7 L190 517.1 L190.2 515.1 L190.8 515.4 L191.4 511.8 L192 507.4 L192.6 502.5 L193 500.3 L193.2 501.2 L193.8 508.7 L194.4 500.6 L195 503.5 L195.6 503.2 L196.2 504.7 L196.8 508.2 L197 505.9 L197.4 505.2 L198 501 L198.6 500 L199.2 502.1 L199.8 501.3 L200 503.3 L200.4 497 L201 505.1 L201.6 507 L202.2 503.2 L202.8 508.6 L203.4 517.9 L204 510.9 L204.6 508.7 L205 515.3 L205.2 510.2 L205.8 516.7 L206.4 518.7 L207 521 L207.6 524.2 L208.2 523.9 L208.8 525 L209.4 525.2 L210 524.3 L210 529.7 L210.6 523.6 L211.2 518.9 L211.8 524.4 L212.4 516 L213 510.1 L213.6 513.9 L214.2 508.1 L214.8 504.5 L215 509.9 L215.4 509.6 L216 509 L216.6 511.1 L217.2 509.4 L217.8 510.9 L218.4 518 L219 518.5 L219.6 521.3 L220 518.2 L220.2 522.4 L220.8 521 L221.4 524.5 L222 520.1 L222.6 523.8 L223.2 520.6 L223.8 524.8 L224.4 520.7 L225 530.3 L225 525.5 L225.6 521 L226.2 521.7 L226.8 520.6 L227.4 519.8 L228 508.3 L228.6 517.3 L229.2 506.6 L229.8 506.6 L230 502.5 L230.4 515.2 L231 506.6 L231.6 504.6 L232.2 505.8 L232.8 505.7 L233.4 512.5 L234 513.1 L234.6 508.6 L235 505.4 L235.2 511.2 L235.8 509 L236.4 511.5 L237 506.3 L237.6 506.4 L238.2 505.4 L238.8 502.2 L239.4 506.1 L240 504 L240 502.2 L240.6 500.6 L241.2 502.9 L241.8 499.6 L242.4 500.4 L243 503.3 L243.6 498.1 L244.2 494.7 L244.8 496.1 L245 496.8 L245.4 490 L246 488.6 L246.6 488 L247.2 488.2 L247.8 482.5 L248.4 485 L249 481.7 L249.6 473.8 L250 473.4 L250.2 471.7 L250.8 464 L251.4 452.9 L252 446.4 L252 454 L252.6 488 L253 535.9 L253.2 503.5 L253.8 429.5 L254 425 L254.4 456.5 L255 499.9 L255 469.2 L255.6 447.1 L256 424.3 L256.2 445.3 L256.8 506.6 L257 526.6 L257.4 530 L258 440.3 L258 442.4 L258.6 484.9 L259 511.1 L259.2 503.4 L259.8 463.1 L260 433.6 L260.4 495.7 L261 529.2 L261 520.8 L261.6 508.7 L262 460.6 L262.2 475.5 L262.8 500.9 L263 522.2 L263.4 518.1 L264 500.1 L264.6 430.5 L265 444 L265.2 459.4 L265.8 475 L266 503.6 L266.4 504.7 L267 550.6 L267.6 538.8 L268 533.7 L268.2 552.7 L268.8 548.7 L269.4 526.3 L270 509.3 L270 501 L270.6 525.2 L271.2 530 L271.8 535.5 L272 548.4 L272.4 500.9 L273 510.7 L273.6 511.9 L274 519.8 L274.2 518 L274.8 550 L275 545.3 L275.4 555.2 L276 540.3 L276.6 519.1 L277.2 513.2 L277.8 554.9 L278 529.9 L278.4 519.7 L279 524 L279.6 535.8 L280 573 L280.2 542.6 L280.8 560.4 L281.4 582.5 L282 565 L282.6 586.4 L283.2 550 L283.8 563 L284.4 559 L285 557.2 L285 555.9 L285.6 561.6 L286.2 557.6 L286.8 520.3 L287.4 553.2 L288 548.4 L288.6 523.5 L289.2 550.2 L289.8 540.8 L290 543.1 L290.4 543.7 L291 541.6 L291.6 548.3 L292.2 534.5 L292.8 523.8 L293.4 536.7 L294 542.9 L294.6 528.1 L295 531 L295.2 534.3 L295.8 530.9 L296.4 537.4 L297 530.2 L297.6 524 L298.2 529.8 L298.8 524.6 L299.4 520.5 L300 523.5 L300 522.8 L300.6 520.1 L301.2 518.1 L301.8 521.2 L302.4 515.9 L303 513.8 L303.6 513.9 L304.2 510.6 L304.8 516.1 L305 511.6 L305.4 509.8 L306 516.2 L306.6 516.6 L307.2 520.2 L307.8 520.3 L308.4 516.8 L309 523.2 L309.6 520.6 L310 523.7 L310.2 525.3 L310.8 526.6 L311.4 523.7 L312 518.8 L312.6 523.8 L313.2 523.5 L313.8 526.3 L314.4 527.7 L315 525.4 L315.6 522.6 L316.2 522 L316.8 527.6 L317.4 524.6 L318 523.3 L318.6 531 L319.2 526.5 L319.8 524.3 L320 521.5 L320.4 519.9 L321 522.6 L321.6 525.4 L322.2 528 L322.8 526.6 L323.4 522.1 L324 525.9 L324.6 529.7 L325.2 523 L325.8 526.9 L326.4 522.3 L327 524.7 L327.6 527.4 L328.2 530.3 L328.8 528.2 L329.4 522.3 L330 522.9 L330 525.3 L330.6 527.6 L331.2 524.6 L331.8 525.7 L332.4 521.1 L333 525.6 L333.6 520.9 L334.2 522.1 L334.8 516.7 L335.4 521.2 L336 522.4 L336.6 518.7 L337.2 517.4 L337.8 514.9 L338.4 513.7 L339 512.5 L339.6 513.2 L340 518.6 L340.2 517.4 L340.8 507.8 L341.4 507 L342 496.9 L342.6 496.6 L343 493.3 L343.2 490.1 L343.8 493.6 L344.4 489.6 L345 488.5 L345.6 491.6 L346.2 492.9 L346.8 496.2 L347.4 496.8 L348 496.9 L348.6 497.9 L349.2 498.4 L349.8 498.9 L350 496.7 L350.4 498.4 L351 495 L351.6 496.3 L352.2 496 L352.8 497.8 L353.4 497.2 L354 497.8 L354.6 493.3 L355 497.1 L355.2 497.8 L355.8 498.8 L356.4 497.3 L357 504.7 L357.6 503.2 L358.2 505.8 L358.8 504 L359.4 507.2 L360 509.3 L360 511.1 L360.6 508.1 L361.2 511 L361.8 511.8 L362.4 513.9 L363 509.8 L363.6 516.5 L364.2 514.8 L364.8 516.4 L365 516.7 L365.4 519 L366 516.4 L366.6 514.2 L367.2 513.8 L367.8 512.5 L368.4 509.7 L369 508.6 L369.6 513.1 L370 514 L370.2 511.6 L370.8 514.8 L371.4 513.3 L372 514.2 L372.6 513.6 L373.2 511.5 L373.8 512.1 L374.4 517.1 L375 513.9 L375.6 513.1 L376.2 514.7 L376.8 515.4 L377.4 510.3 L378 514.9 L378.6 515.5 L379.2 517.5 L379.8 519.5 L380 518.9 L380.4 514.3 L381 519.1 L381.6 515.9 L382.2 513.8 L382.8 515 L383.4 516.3 L384 516.5 L384.6 518 L385.2 517 L385.8 518.3 L386.4 517.2 L387 518.8 L387.6 519 L388.2 517.4 L388.8 516.2 L389.4 517.3 L390 519.3 L390 521.6 L390.6 518.8 L391.2 521 L391.8 516.5 L392.4 518.9 L393 520.2 L393.6 519.4 L394.2 519.9 L394.8 522.6 L395 522.8 L395.4 518.4 L396 518.2 L396.6 516.6 L397.2 518.3 L397.8 519.1 L398.4 513.3 L399 516 L399.6 512.3 L400 514 L400.2 510.2 L400.8 513.6 L401.4 508.1 L402 507.3 L402.6 505.1 L403.2 503.8 L403.8 503.3 L404.4 504.2 L405 502.5 L405 500.8 L405.6 502.6 L406.2 501.3 L406.8 505.4 L407.4 506.8 L408 511.4 L408.6 513.4 L409.2 516.2 L409.8 516.4 L410 518.3 L410.4 514 L411 509.4 L411.6 512.4 L412.2 508.5 L412.8 509 L413.4 507.4 L414 506.1 L414.6 500.7 L415 504 L415.2 502.3 L415.8 501.5 L416.4 500.7 L417 497.3 L417.6 501.7 L418.2 502.8 L418.8 496 L419.4 499.3 L420 496.7 L420 499.8 L420.6 499.8 L421.2 497.7 L421.8 499.9 L422.4 501.3 L423 497.9 L423.6 499 L424.2 499.5 L424.8 500.7 L425.4 497.2 L426 501.3 L426.6 501 L427.2 501.3 L427.8 500.7 L428.4 499.9 L429 501.7 L429.6 504.1 L430 500.9 L430.2 506.1 L430.8 500.6 L431.4 503.4 L432 503.6 L432.6 507.6 L433.2 504.9 L433.8 505.6 L434.4 503.3 L435 508.9 L435.6 505.4 L436.2 508.4 L436.8 508.9 L437.4 507.6 L438 511.2 L438.6 505.7 L439.2 509.1 L439.8 512.1 L440 507.8 L440.4 507.2 L441 510 L441.6 505.9 L442.2 500.7 L442.8 501.7 L443.4 501.9 L444 497.9 L444.6 499.3 L445 496.4 L445.2 498.2 L445.8 497.7 L446.4 496 L447 500.7 L447.6 494.8 L448.2 495.3 L448.8 497 L449.4 497.8 L450 496.2 L450 494.8 L450.6 495.7 L451.2 494 L451.8 498.6 L452.4 493.2 L453 493.8 L453.6 496.1 L454.2 495.1 L454.8 492.8 L455.4 492.6 L456 495.1 L456.6 493.6 L457.2 495.6 L457.8 494.2 L458.4 492.4 L459 492.4 L459.6 490.3 L460 492.8 L460.2 494.5 L460.8 492.8 L461.4 493.2 L462 494.6 L462.6 494.2 L463.2 490.2 L463.8 487.7 L464.4 491.2 L465 489.3 L465.6 490.9 L466.2 489.6 L466.8 490 L467.4 493.4 L468 488.1 L468.6 489.1 L469.2 489.5 L469.8 487.9 L470 485.4 L470.4 488.5 L471 488.8 L471.6 487.8 L472.2 485.7 L472.8 486.2 L473.4 487 L474 487.5 L474.6 488.4 L475.2 487.3 L475.8 485.5 L476.4 486.4 L477 485.5 L477.6 483.1 L478.2 484.5 L478.8 484.5 L479.4 483.2 L480 487 L480 481.2 L480.6 485.1 L481.2 484.2 L481.8 483.1 L482.4 483.7 L483 482.6 L483.6 484.7 L484.2 485.8 L484.8 485.6 L485.4 482.9 L486 486.6 L486.6 484.9 L487.2 488.3 L487.8 485.7 L488.4 489.2 L489 485.2 L489.6 490.5 L490 488.7 L490.2 487 L490.8 487.3 L491.4 485.6 L492 490.9 L492.6 491 L493.2 487.2 L493.8 488.1 L494.4 493.4 L495 490.9 L495.6 492.3 L496.2 489.7 L496.8 492.9 L497.4 490.6 L498 488.2 L498.6 489.5 L499.2 492.1 L499.8 492.7 L500 492.8 L500.4 492.2 L501 493 L501.6 493.1 L502.2 489.8 L502.8 492.5 L503.4 493 L504 492.9 L504.6 492.3 L505.2 492.3 L505.8 490.7 L506.4 494 L507 490.3 L507.6 491.8 L508.2 491.6 L508.8 491.3 L509.4 485.5 L510 492.5 L510 489.4 L510.6 492.5 L511.2 489.4 L511.8 486.2 L512.4 486.3 L513 485.9 L513.6 483 L514.2 483.9 L514.8 482.3 L515 483.2 L515.4 484.7 L516 481.6 L516.6 487.9 L517.2 485.8 L517.8 489.5 L518.4 486.1 L519 491 L519.6 491 L520 492.5 L520.2 487.7 L520.8 487.1 L521.4 488.4 L522 486.8 L522.6 484.2 L523.2 483.1 L523.8 482.4 L524.4 481.4 L525 480.3 L525 479.8 L525.6 480.4 L526.2 483.5 L526.8 485.3 L527.4 485.4 L528 485.2 L528.6 484 L529.2 488.3 L529.8 490.6 L530 488 L530.4 488.4 L531 488.6 L531.6 492.8 L532.2 487.6 L532.8 489 L533.4 484.7 L534 488.5 L534.6 484 L535.2 486.8 L535.8 487.1 L536.4 484.9 L537 489.1 L537.6 484.6 L538.2 489.7 L538.8 487.6 L539.4 487.2 L540 487.4 L540 490 L540.6 483.1 L541.2 486.9 L541.8 485.3 L542.4 485.6 L543 482.8 L543.6 486.5 L544.2 484.1 L544.8 481.7 L545 481.5 L545.4 483.9 L546 480.3 L546.6 488.4 L547.2 483.7 L547.8 487.9 L548.4 487.9 L549 489.6 L549.6 489.4 L550 488.2 L550.2 490.4 L550.8 488.6 L551.4 491.4 L552 490.4 L552.6 489.7 L553.2 490.6 L553.8 493.1 L554.4 493.9 L555 493.9 L555.6 487.9 L556.2 493.7 L556.8 492.5 L557.4 495.3 L558 494.8 L558 491.9" stroke="#ff0000" stroke-width="1.6" fill="none" stroke-linejoin="round" stroke-linecap="round" clip-path="url(#ca2)"/>
<path d="M603 501.7 L603.6 501.4 L604.2 503.6 L604.8 499.4 L605.4 499.9 L606 498.4 L606.6 504.2 L607.2 501.4 L607.8 501.7 L608.4 500.6 L609 501.9 L609.6 501.3 L610.2 504.2 L610.8 502 L611.4 502 L612 501.9 L612.6 501.3 L613.2 500.7 L613.8 503.1 L614.4 502.3 L615 504.2 L615.6 506 L616.2 502.1 L616.8 503.1 L617.4 502 L618 501.1 L618.6 503.5 L619.2 501.2 L619.8 504.8 L620 502.3 L620.4 503.8 L621 501.2 L621.6 502.4 L622.2 505 L622.8 500.4 L623.4 499.9 L624 502.4 L624.6 503.8 L625.2 503.3 L625.8 504.3 L626.4 504.3 L627 503.5 L627.6 502.5 L628.2 503.2 L628.8 502.8 L629.4 502.2 L630 501 L630.6 503.3 L631.2 503.1 L631.8 499.4 L632.4 503.1 L633 501.6 L633.6 499.7 L634.2 501.8 L634.8 503.9 L635.4 503.4 L636 502.6 L636.6 503 L637.2 502.3 L637.8 501.1 L638.4 503.1 L639 500.3 L639.6 500.1 L640 500.2 L640.2 500.9 L640.8 501.7 L641.4 503.1 L642 502.8 L642.6 501.1 L643.2 503.5 L643.8 501.6 L644.4 502.8 L645 503.2 L645.6 500.5 L646.2 502.1 L646.8 501.6 L647.4 502.7 L648 502.3 L648.6 502.8 L649.2 502.8 L649.8 502.3 L650.4 503.5 L651 503 L651.6 502.1 L652.2 503.9 L652.8 505.4 L653.4 502.5 L654 502.9 L654.6 505.4 L655.2 501.2 L655.8 504.3 L656.4 501.9 L657 503.9 L657.6 503.6 L658.2 505.8 L658.8 504.4 L659.4 506.6 L660 506.1 L660 506.2 L660.6 504.3 L661.2 502.4 L661.8 505.6 L662.4 502.8 L663 505.7 L663.6 503.4 L664.2 505.7 L664.8 504 L665.4 505.3 L666 506.3 L666.6 503.9 L667.2 505.3 L667.8 503.1 L668.4 505.9 L669 504.5 L669.6 503.8 L670.2 507.4 L670.8 506.3 L671.4 506.6 L672 505.8 L672.6 502.7 L673.2 507.9 L673.8 507.1 L674.4 505.8 L675 506.7 L675.6 504.8 L676.2 508.2 L676.8 505.2 L677.4 505.4 L678 505.9 L678.6 508.3 L679.2 507.8 L679.8 508.3 L680 505.7 L680.4 506.4 L681 507.2 L681.6 505.6 L682.2 506 L682.8 510.2 L683.4 506.9 L684 506.7 L684.6 504.9 L685.2 504.9 L685.8 507.6 L686.4 506.7 L687 505.7 L687.6 510.3 L688.2 510.6 L688.8 506.4 L689.4 505.7 L690 506.1 L690.6 507.2 L691.2 503.3 L691.8 506.5 L692.4 507.3 L693 506.6 L693.6 508.1 L694.2 507.8 L694.8 507.4 L695.4 504.9 L696 507.1 L696.6 503.3 L697.2 505 L697.8 506.6 L698.4 504.3 L699 503.5 L699.6 506.4 L700 503.2 L700.2 504.3 L700.8 505.2 L701.4 506 L702 503.1 L702.6 504.9 L703.2 506.2 L703.8 504.6 L704.4 504.9 L705 505.1 L705.6 506.5 L706.2 503.3 L706.8 506.4 L707.4 502.3 L708 505.7 L708.6 502.8 L709.2 503.6 L709.8 502.6 L710 504.9 L710.4 507.4 L711 506.9 L711.6 505.5 L712.2 504.5 L712.8 505.3 L713.4 507.6 L714 508 L714.6 506.4 L715 509.1 L715.2 505.6 L715.8 509.1 L716.4 511.1 L717 515.7 L717.6 516.8 L718 519.8 L718.2 517.8 L718.8 510.7 L719.4 507.5 L720 497.6 L720 499.3 L720.6 501.2 L721.2 499.3 L721.8 498.3 L722.4 500.8 L723 502.3 L723.6 500.4 L724.2 498.3 L724.8 502.3 L725 500.8 L725.4 501.4 L726 503.1 L726.6 502.1 L727.2 502 L727.8 500.4 L728.4 501.9 L729 503.6 L729.6 501 L730.2 500.6 L730.8 506.5 L731.4 506.2 L732 504.6 L732.6 501.9 L733.2 506 L733.8 509 L734.4 504.8 L735 504 L735 508.9 L735.6 507.8 L736.2 510.9 L736.8 508.7 L737.4 510.9 L738 514.6 L738 513.1 L738.6 506.2 L739.2 501.6 L739.8 496.8 L740 497.1 L740.4 506.5 L741 510.5 L741.6 518.6 L742 525 L742.2 526.8 L742.8 523.6 L743.4 522.7 L744 524.9 L744.6 525.6 L745 526.9 L745.2 525.5 L745.8 526.9 L746.4 525.4 L747 524.4 L747.6 523.6 L748.2 523.9 L748.8 523.6 L749.4 521 L750 520 L750 522.7 L750.6 520 L751.2 517.5 L751.8 520.7 L752.4 523.4 L753 521.8 L753.6 522.4 L754.2 520.1 L754.8 524.4 L755 518 L755.4 516.7 L756 514.3 L756.6 514.8 L757 512.2 L757.2 513.5 L757.8 515.2 L758.4 517.7 L759 519 L759.6 521.4 L760 522.5 L760.2 518.9 L760.8 526 L761.4 528.8 L762 527.5 L762 527.7 L762.6 529.2 L763.2 526.7 L763.8 525.5 L764.4 532.1 L765 528.2 L765.6 527.2 L766.2 531 L766.8 525.4 L767.4 528 L768 526.1 L768.6 531.7 L769.2 525.4 L769.8 527.4 L770 525.5 L770.4 530.8 L771 526.4 L771.6 527.1 L772.2 529.5 L772.8 528.3 L773.4 528 L774 526.2 L774.6 527.4 L775.2 525.4 L775.8 526.8 L776.4 527.7 L777 525.7 L777.6 525.4 L778.2 526.8 L778.8 530.3 L779.4 523.7 L780 526.5 L780.6 528.2 L781.2 523.8 L781.8 523.1 L782.4 526.6 L783 525.6 L783.6 527.8 L784.2 525.7 L784.8 530 L785.4 528.4 L786 527.4 L786.6 526.9 L787.2 527.4 L787.8 526.7 L788.4 526.7 L789 527 L789.6 527.3 L790 525.4 L790.2 524.1 L790.8 523.1 L791.4 525.4 L792 526 L792.6 526.9 L793.2 524.9 L793.8 524.9 L794.4 520.8 L795 526.3 L795.6 526.4 L796.2 527.3 L796.8 525.4 L797.4 525.4 L798 524.4 L798.6 525 L799.2 524.4 L799.8 524 L800 524.2 L800.4 521.8 L801 510.6 L801.6 506.6 L802.2 498.1 L802.8 494.7 L803 489.1 L803.4 491.4 L804 494.3 L804.6 494.4 L805.2 492.1 L805.8 494.3 L806.4 498.2 L807 493.5 L807.6 493.8 L808.2 496.4 L808.8 493.8 L809.4 497.1 L810 495.2 L810 496 L810.6 494.7 L811.2 498 L811.8 499.6 L812.4 502.1 L813 501.8 L813.6 502.7 L814.2 507.6 L814.8 506.6 L815 506.8 L815.4 505.1 L816 507.3 L816.6 507.5 L817.2 506.3 L817.8 504.8 L818.4 506.3 L819 507.7 L819.6 503.5 L820 505.6 L820.2 500.4 L820.8 508.1 L821.4 507.6 L822 505.2 L822.6 506.4 L823.2 511.3 L823.8 508.6 L824.4 505.3 L825 509.1 L825.6 508.1 L826.2 512 L826.8 510.7 L827.4 506.3 L828 510.7 L828.6 513.7 L829.2 511.4 L829.8 512.6 L830 510.6 L830.4 511.7 L831 510.4 L831.6 509.6 L832.2 509.1 L832.8 507 L833.4 502.3 L834 501.9 L834.6 503.2 L835 501 L835.2 501.7 L835.8 500.9 L836.4 505 L837 503.9 L837.6 501.3 L838.2 504.3 L838.8 500.1 L839.4 505.6 L840 499.2 L840.6 504.9 L841.2 508.2 L841.8 506.4 L842.4 506.9 L843 506 L843.6 510.3 L844.2 510.3 L844.8 509.7 L845 510.1 L845.4 508.6 L846 507.1 L846.6 506.6 L847.2 505.4 L847.8 498.5 L848.4 502.4 L849 502.9 L849.6 502 L850 500.9 L850.2 497.8 L850.8 497.5 L851.4 500.1 L852 499 L852.6 497 L853.2 498.6 L853.8 498.5 L854.4 496 L855 497.6 L855.6 499.7 L856.2 495.8 L856.8 498.8 L857.4 497.7 L858 498.8 L858.6 496 L859.2 494.8 L859.8 492.5 L860 494.3 L860.4 496.2 L861 496.5 L861.6 495.3 L862.2 497.1 L862.8 496.2 L863.4 496.9 L864 498.1 L864.6 502.5 L865.2 496.8 L865.8 499.6 L866.4 499.5 L867 497.8 L867.6 500.3 L868.2 501.8 L868.8 502.6 L869.4 502.9 L870 499.2 L870 505.1 L870.6 503.2 L871.2 496.9 L871.8 496 L872.4 498.9 L873 496.3 L873.6 493.9 L874.2 497.4 L874.8 490.3 L875 493 L875.4 496.6 L876 496.6 L876.6 497.9 L877.2 501.6 L877.8 502.8 L878.4 507.3 L879 510.9 L879.6 517.1 L880 513.3 L880.2 514.3 L880.8 512 L881.4 509.9 L882 503.4 L882.6 504.3 L883.2 502.8 L883.8 501.7 L884.4 493.5 L885 493.3 L885 491.8 L885.6 492.9 L886.2 497.2 L886.8 495.5 L887.4 494 L888 495.3 L888.6 491.1 L889.2 493.3 L889.8 494.4 L890.4 494.5 L891 494.2 L891.6 494.2 L892.2 495 L892.8 496.4 L893.4 495 L894 492.6 L894.6 496.7 L895 497.4 L895.2 495.4 L895.8 500.3 L896.4 501.1 L897 509.3 L897.6 504 L898.2 510 L898.8 511.9 L899.4 511 L900 513.8 L900 511.7" stroke="#ff0000" stroke-width="1.6" fill="none" stroke-linejoin="round" stroke-linecap="round" clip-path="url(#ca2)"/>
<path d="M93 695.7 L93.6 696.4 L94.2 696.8 L94.8 695.7 L95.4 697.7 L96 696 L96.6 697.4 L97.2 698.7 L97.8 696.6 L98.4 697.2 L99 697.9 L99.6 697.7 L100 698.1 L100.2 699 L100.8 697.9 L101.4 700.6 L102 698.6 L102.6 701.2 L103.2 701.3 L103.8 700.5 L104.4 697.5 L105 698.2 L105.6 699.5 L106.2 698.2 L106.8 701.5 L107.4 698 L108 700.6 L108.6 699.8 L109.2 701.8 L109.8 698.9 L110 701.8 L110.4 699.9 L111 697.4 L111.6 697.6 L112.2 696.9 L112.8 692.8 L113.4 691.8 L114 688.5 L114.6 688.6 L115 687.4 L115.2 689 L115.8 689.9 L116.4 690.1 L117 690.7 L117.6 693.6 L118.2 693.4 L118.8 696.2 L119.4 696.1 L120 694.8 L120 694.8 L120.6 696.7 L121.2 695.3 L121.8 696.8 L122.4 697.2 L123 697.5 L123.6 697.7 L124.2 696.5 L124.8 695.8 L125 695.2 L125.4 697.4 L126 699.9 L126.6 695.4 L127.2 699.4 L127.8 695.6 L128.4 696.4 L129 697.4 L129.6 699.7 L130.2 697 L130.8 699.2 L131.4 699.6 L132 699.7 L132.6 698.4 L133.2 699 L133.8 699.2 L134.4 699.5 L135 698.6 L135.6 698.2 L136.2 695.2 L136.8 697.3 L137.4 698.7 L138 700.3 L138.6 701.9 L139.2 698.7 L139.8 698.4 L140 697.4 L140.4 700.6 L141 697.5 L141.6 697.9 L142.2 698.8 L142.8 698.2 L143.4 701.7 L144 700.3 L144.6 699.1 L145.2 701.1 L145.8 699 L146.4 701.4 L147 701 L147.6 698.7 L148.2 699.4 L148.8 700.2 L149.4 698.6 L150 701.4 L150 699.8 L150.6 700 L151.2 699.5 L151.8 700.5 L152.4 701.4 L153 701.6 L153.6 702 L154.2 702.6 L154.8 701.6 L155.4 700.5 L156 701.8 L156.6 700.2 L157.2 701.7 L157.8 701.3 L158.4 701.5 L159 701.7 L159.6 700.7 L160 699.7 L160.2 701.3 L160.8 703 L161.4 698.5 L162 699.6 L162.6 699.8 L163.2 698.8 L163.8 697.5 L164.4 696.3 L165 698.8 L165 696.7 L165.6 697.3 L166.2 697.1 L166.8 694.9 L167.4 696.4 L168 697.6 L168.6 696.3 L169.2 695.8 L169.8 695.1 L170 696.5 L170.4 695.7 L171 696.9 L171.6 692.7 L172.2 694.4 L172.8 692.9 L173.4 693.9 L174 693 L174.6 693 L175 692.9 L175.2 691.7 L175.8 690.7 L176.4 692.9 L177 692.6 L177.6 693.9 L178.2 692.7 L178.8 694.7 L179.4 693.6 L180 695.4 L180 694.5 L180.6 694.6 L181.2 694.6 L181.8 693.5 L182.4 693.8 L183 695.3 L183.6 695 L184.2 694.3 L184.8 694.1 L185.4 694.9 L186 692.8 L186.6 693.3 L187.2 695.9 L187.8 697.4 L188.4 695.5 L189 694.5 L189.6 696.1 L190.2 693.7 L190.8 695 L191.4 696.4 L192 694.8 L192.6 695.3 L193.2 695.2 L193.8 693.1 L194.4 696.4 L195 694.2 L195 695.1 L195.6 695.6 L196.2 693.8 L196.8 695.9 L197.4 695.3 L198 694.5 L198.6 696 L199.2 694.3 L199.8 694.5 L200 695.7 L200.4 693.7 L201 699.7 L201.6 697.4 L202.2 697.5 L202.8 695.6 L203.4 696.9 L204 697.3 L204.6 695 L205.2 697.6 L205.8 696.6 L206.4 697 L207 696.7 L207.6 697.4 L208.2 698.7 L208.8 698.5 L209.4 698.4 L210 696.8 L210 697.6 L210.6 696.5 L211.2 697.6 L211.8 696.7 L212.4 696.6 L213 695.3 L213.6 693.6 L214.2 696.9 L214.8 695.5 L215 695.9 L215.4 695.8 L216 693.6 L216.6 696.1 L217.2 696 L217.8 693 L218.4 694.9 L219 692.7 L219.6 696.1 L220 693.6 L220.2 692.6 L220.8 690.4 L221.4 690.1 L222 693 L222.6 690.9 L223.2 690.5 L223.8 691.4 L224.4 691.7 L225 690.8 L225 689.5 L225.6 691.6 L226.2 692.8 L226.8 694 L227.4 693.4 L228 697.5 L228.6 697.4 L229.2 699.6 L229.8 701.8 L230 702 L230.4 699 L231 702 L231.6 699.7 L232.2 702.7 L232.8 700.5 L233.4 703.7 L234 700.2 L234.6 701.9 L235 701.9 L235.2 699.6 L235.8 701.3 L236.4 702.4 L237 702.7 L237.6 703.8 L238.2 705.6 L238.8 704.9 L239.4 705.7 L240 703.6 L240 704.8 L240.6 704 L241.2 704.2 L241.8 705.7 L242.4 705.8 L243 707 L243.6 706.3 L244.2 706.9 L244.8 706.1 L245 708.1 L245.4 706.1 L246 708.8 L246.6 707.8 L247.2 707.2 L247.8 706.2 L248.4 706.7 L249 707.8 L249.6 704.4 L250 706.4 L250.2 703.8 L250.8 704 L251 698.8 L251.4 684.2 L252 662.6 L252 663.6 L252.6 658.2 L253.2 660.8 L253.8 657.2 L254.4 656.2 L255 659.2 L255 657.5 L255.6 655.4 L256.2 653.7 L256.8 652.8 L257.4 647.4 L258 650 L258 650.2 L258.6 647.7 L259.2 649.5 L259.8 647.1 L260.4 651.5 L261 648.2 L261.6 652.7 L262.2 649.1 L262.8 653.4 L263.4 651.4 L264 650.7 L264.6 651 L265 649 L265.2 649.6 L265.8 651.8 L266.4 649.7 L267 644.9 L267.6 649.5 L268.2 645.6 L268.8 644.9 L269.4 647.5 L270 641.1 L270 643.7 L270.6 647.3 L271.2 645.8 L271.8 650.1 L272 647.1 L272.4 647.6 L273 644.7 L273.6 643.3 L274.2 639.6 L274.8 634.7 L275 636.3 L275.4 632 L276 630 L276.6 628.1 L277 625.5 L277.2 622.6 L277.8 622.6 L278.4 622.6 L279 624.8 L279.6 619.8 L280 615.6 L280.2 613.6 L280.8 622.3 L281.4 623.1 L282 619.2 L282.6 620.3 L283.2 622.7 L283.8 620.4 L284.4 625.2 L285 618.7 L285 622 L285.6 618.9 L286.2 619.6 L286.8 616.7 L287.4 615.8 L288 618 L288.6 618.7 L289.2 619.9 L289.8 611.2 L290 617.3 L290.4 612.2 L291 615.3 L291.6 616.3 L292.2 613.2 L292.8 608.2 L293.4 609.9 L294 610.3 L294.6 609.5 L295 610.3 L295.2 610.7 L295.8 608.3 L296.4 608.7 L297 614 L297.6 614.5 L298.2 607 L298.8 612.1 L299.4 614.5 L300 611.7 L300 610.8 L300.6 614.6 L301.2 609.9 L301.8 613.4 L302.4 611.6 L303 616.4 L303.6 612.8 L304.2 610.3 L304.8 612.2 L305.4 612.8 L306 612.3 L306.6 610.9 L307.2 605.7 L307.8 608.2 L308.4 611.7 L309 611.1 L309.6 607.9 L310 607.9 L310.2 607.7 L310.8 608.9 L311.4 604.8 L312 604.9 L312.6 608.3 L313.2 605.3 L313.8 607.5 L314.4 609.8 L315 606.4 L315 604.6 L315.6 604.8 L316.2 603.9 L316.8 605.2 L317.4 602.2 L318 597.1 L318.6 599.3 L319.2 600.3 L319.8 599.9 L320 600.4 L320.4 600.3 L321 594.8 L321.6 599.9 L322.2 593.9 L322.8 598.8 L323.4 596.1 L324 600 L324.6 599.1 L325.2 597.3 L325.8 597.7 L326.4 597.8 L327 600.8 L327.6 597.4 L328.2 596.4 L328.8 595.4 L329.4 599.8 L330 595.9 L330 594.4 L330.6 599.6 L331.2 600.7 L331.8 601.2 L332.4 595.7 L333 602.9 L333.6 601.3 L334.2 600.8 L334.8 599.2 L335 601.3 L335.4 604.7 L336 599.7 L336.6 599.3 L337.2 601.3 L337.8 602.9 L338.4 600.3 L339 597.5 L339.6 603.7 L340 599.4 L340.2 598.4 L340.8 599.3 L341.4 598.1 L342 595.1 L342.6 592.8 L343.2 593.4 L343.8 597.5 L344.4 594 L345 593.9 L345 595.2 L345.6 592.7 L346.2 594.7 L346.8 596.2 L347.4 594.4 L348 592.1 L348.6 593.8 L349.2 598.8 L349.8 595.8 L350 595.7 L350.4 598.9 L351 599.3 L351.6 595.6 L352.2 596.8 L352.8 595.5 L353.4 602.1 L354 597 L354.6 602.9 L355 601.7 L355.2 596.2 L355.8 592.6 L356.4 589 L357 584.7 L357 584.7 L357.6 583.7 L358.2 586.4 L358.8 586.1 L359.4 590.8 L360 590 L360 587.7 L360.6 589.2 L361.2 590.6 L361.8 588 L362.4 594.8 L363 593 L363.6 591.8 L364.2 593.4 L364.8 590.1 L365.4 590.7 L366 594.9 L366.6 594.3 L367.2 593.3 L367.8 595.6 L368.4 594.3 L369 599.4 L369.6 594.9 L370 593.5 L370.2 595.9 L370.8 598.4 L371.4 598.1 L372 590.8 L372.6 599.5 L373.2 600.3 L373.8 600.8 L374.4 597.2 L375 598.8 L375 600.1 L375.6 599.3 L376.2 603.7 L376.8 600.7 L377.4 602.6 L378 599.9 L378.6 603.2 L379.2 604.3 L379.8 599.8 L380 604 L380.4 608.4 L381 607.9 L381.6 610.3 L382.2 608 L382.8 614.6 L383.4 616.6 L384 613.8 L384.6 613.3 L385 613.1 L385.2 615.9 L385.8 616.8 L386.4 613.5 L387 616.4 L387.6 613.8 L388.2 616.8 L388.8 613.9 L389.4 617.2 L390 616 L390.6 616.8 L391.2 621.5 L391.8 611.5 L392.4 617.8 L393 616.4 L393.6 614.6 L394.2 619.7 L394.8 617.2 L395 618.3 L395.4 618.8 L396 615.7 L396.6 621.2 L397.2 619.7 L397.8 619.7 L398.4 619.1 L399 618 L399.6 617 L400 614.4 L400.2 622.2 L400.8 624.5 L401.4 628.8 L402 634.1 L402 630.9 L402.6 632.4 L403.2 633 L403.8 631.2 L404.4 628.9 L405 627.7 L405 625.9 L405.6 627.2 L406.2 626.6 L406.8 624.6 L407.4 622 L408 622.8 L408.6 623.5 L409.2 625.1 L409.8 622.1 L410 619.7 L410.4 622.1 L411 621.7 L411.6 617.4 L412.2 619.4 L412.8 622.1 L413.4 617.2 L414 622 L414.6 616.5 L415 618.3 L415.2 618 L415.8 616.3 L416.4 619.6 L417 620.3 L417.6 619.6 L418.2 617 L418.8 621.2 L419.4 620.7 L420 619.2 L420 621.1 L420.6 621.1 L421.2 621.1 L421.8 622 L422.4 623.5 L423 626 L423.6 626.5 L424.2 628.9 L424.8 625.8 L425 625 L425.4 627 L426 628.5 L426.6 629.5 L427.2 628 L427.8 628.6 L428.4 628.9 L429 627 L429.6 629.2 L430 631.2 L430.2 631.3 L430.8 633.4 L431.4 632.2 L432 635.3 L432.6 633.8 L433.2 635.7 L433.8 638.8 L434.4 639.2 L435 638.2 L435 638.7 L435.6 638.6 L436.2 641.8 L436.8 640.6 L437.4 642.8 L438 646.8 L438.6 645.2 L439.2 645.8 L439.8 644.9 L440 645.1 L440.4 645 L441 643.6 L441.6 645.6 L442.2 642.6 L442.8 640.8 L443.4 643.3 L444 643.2 L444.6 644.2 L445 641.3 L445.2 643.5 L445.8 643.7 L446.4 641.4 L447 639.8 L447.6 643.7 L448.2 642.9 L448.8 640.9 L449.4 642.3 L450 643.4 L450.6 642.3 L451.2 641.4 L451.8 643 L452.4 643.6 L453 643.7 L453.6 643.9 L454.2 642 L454.8 643.2 L455 643.3 L455.4 643.9 L456 640.1 L456.6 640.5 L457.2 643.1 L457.8 640.7 L458.4 642.1 L459 639.9 L459.6 637.7 L460 639.2 L460.2 636.7 L460.8 639 L461.4 638.6 L462 636.6 L462.6 635.1 L463.2 632.4 L463.8 634.1 L464.4 634.8 L465 634.6 L465 633.7 L465.6 630.6 L466.2 631.5 L466.8 634.1 L467.4 632.3 L468 636 L468.6 634.5 L469.2 635 L469.8 633.2 L470.4 635.1 L471 631 L471.6 630.9 L472.2 631.8 L472.8 633.6 L473.4 632.9 L474 633.3 L474.6 632.7 L475.2 632 L475.8 631.9 L476.4 634.5 L477 631.1 L477.6 634.2 L478.2 629.3 L478.8 634.2 L479.4 632.4 L480 632.4 L480 633.9 L480.6 634.1 L481.2 631.5 L481.8 633.8 L482.4 634 L483 637.4 L483.6 632.8 L484.2 635.4 L484.8 634.1 L485.4 633.7 L486 633.5 L486.6 635.5 L487.2 636.1 L487.8 634.6 L488.4 635.4 L489 636.2 L489.6 636.7 L490 636 L490.2 633.6 L490.8 636.2 L491.4 635.6 L492 634.8 L492.6 635.8 L493.2 636.4 L493.8 634.9 L494.4 634.7 L495 637.4 L495.6 639.7 L496.2 637.1 L496.8 638.5 L497.4 637.9 L498 638.2 L498.6 636.6 L499.2 637.6 L499.8 635.9 L500 637.8 L500.4 638 L501 636.9 L501.6 636.8 L502.2 639.8 L502.8 638.9 L503.4 637.7 L504 639 L504.6 638.8 L505.2 639.7 L505.8 639.6 L506.4 639.8 L507 640.6 L507.6 639.2 L508.2 640 L508.8 640.1 L509.4 642.7 L510 639.7 L510 640.4 L510.6 640.9 L511.2 640.8 L511.8 640.7 L512.4 641.4 L513 641.4 L513.6 642.4 L514.2 640.6 L514.8 640.4 L515.4 641.8 L516 643.8 L516.6 639.8 L517.2 642.3 L517.8 641.3 L518.4 639.7 L519 644.6 L519.6 642.5 L520 641.8 L520.2 640.7 L520.8 641.7 L521.4 641.9 L522 642.3 L522.6 644.4 L523.2 641.1 L523.8 641.4 L524.4 641.8 L525 640 L525.6 644.4 L526.2 640.4 L526.8 642.2 L527.4 643.7 L528 644.7 L528.6 644.2 L529.2 645 L529.8 644.9 L530 641.6 L530.4 646.7 L531 645 L531.6 642.3 L532.2 643.2 L532.8 645.1 L533.4 645.6 L534 643.8 L534.6 644.7 L535.2 646.8 L535.8 644.3 L536.4 644.5 L537 643 L537.6 645.2 L538.2 643.6 L538.8 644.6 L539.4 645.1 L540 645.5 L540.6 644.3 L541.2 646.2 L541.8 645.6 L542.4 644.5 L543 646.6 L543.6 645.7 L544.2 646.8 L544.8 649.7 L545 644.9 L545.4 647.4 L546 645.5 L546.6 648.3 L547.2 645.6 L547.8 648.8 L548.4 648.5 L549 645 L549.6 645.3 L550.2 646.1 L550.8 644.7 L551.4 646.5 L552 647.4 L552.6 646.5 L553.2 643.9 L553.8 646.6 L554.4 645 L555 646.3 L555.6 646.1 L556.2 645.5 L556.8 647.6 L557.4 643.9 L558 644.5 L558 646.4" stroke="#bf00bf" stroke-width="1.6" fill="none" stroke-linejoin="round" stroke-linecap="round" clip-path="url(#ca3)"/>
<path d="M603 649.6 L603.6 650.1 L604.2 647.1 L604.8 649.7 L605.4 650.4 L606 651.2 L606.6 654.2 L607.2 649.6 L607.8 652 L608.4 653.2 L609 652.5 L609.6 651 L610.2 651.8 L610.8 652.9 L611.4 648 L612 651.4 L612.6 648.3 L613.2 649.1 L613.8 654.3 L614.4 650.9 L615 651.4 L615.6 651.6 L616.2 651.6 L616.8 653.4 L617.4 650.9 L618 653 L618.6 651 L619.2 651.7 L619.8 652.9 L620 652.2 L620.4 652.9 L621 653.5 L621.6 651.2 L622.2 654 L622.8 650.4 L623.4 650.1 L624 655.4 L624.6 655.2 L625.2 656 L625.8 652.4 L626.4 655.3 L627 653.4 L627.6 653.9 L628.2 652.8 L628.8 651 L629.4 651.3 L630 652.3 L630.6 652.6 L631.2 652.6 L631.8 653.8 L632.4 655.8 L633 656.5 L633.6 657.2 L634.2 653.2 L634.8 655 L635.4 653 L636 654.9 L636.6 655.5 L637.2 656.6 L637.8 657.3 L638.4 653.2 L639 652.2 L639.6 656 L640 653.8 L640.2 654.6 L640.8 653.9 L641.4 654.1 L642 656.1 L642.6 655.6 L643.2 657.7 L643.8 655.7 L644.4 656.6 L645 656 L645.6 656.2 L646.2 659.4 L646.8 656 L647.4 654.5 L648 657.3 L648.6 657.2 L649.2 656.4 L649.8 658.8 L650.4 658.2 L651 656.3 L651.6 655.1 L652.2 659.5 L652.8 656.2 L653.4 656.4 L654 659.7 L654.6 655.7 L655.2 658.5 L655.8 658.3 L656.4 658.3 L657 658.5 L657.6 658.8 L658.2 658.4 L658.8 656.8 L659.4 656.7 L660 660.5 L660 656.4 L660.6 658 L661.2 660.8 L661.8 660.3 L662.4 659.9 L663 659.2 L663.6 658.1 L664.2 657.1 L664.8 661.8 L665.4 658.4 L666 658 L666.6 660.6 L667.2 657.2 L667.8 658.2 L668.4 655.9 L669 658.1 L669.6 657.2 L670.2 659.5 L670.8 659.3 L671.4 659.1 L672 659 L672.6 657.8 L673.2 658.1 L673.8 658.9 L674.4 660.1 L675 659 L675.6 658.8 L676.2 659 L676.8 659.6 L677.4 658.6 L678 656.7 L678.6 659 L679.2 658 L679.8 658.7 L680 659.5 L680.4 661.1 L681 660.7 L681.6 655.7 L682.2 658.6 L682.8 657.2 L683.4 661.5 L684 660.4 L684.6 658.2 L685.2 659.4 L685.8 659.1 L686.4 660.8 L687 659.7 L687.6 660.7 L688.2 661 L688.8 659.6 L689.4 659.7 L690 659.7 L690.6 660.4 L691.2 661.9 L691.8 659.5 L692.4 658.8 L693 662.6 L693.6 663.3 L694.2 663.5 L694.8 662.6 L695.4 661.9 L696 662.7 L696.6 662 L697.2 663.7 L697.8 660.3 L698.4 660.8 L699 663.9 L699.6 661.7 L700 664.1 L700.2 662.3 L700.8 665.1 L701.4 663.8 L702 663 L702.6 665.5 L703.2 664 L703.8 661.7 L704.4 665.6 L705 664.7 L705.6 663.1 L706.2 664.8 L706.8 662.9 L707.4 662.9 L708 663.7 L708.6 664.7 L709.2 665.9 L709.8 664.9 L710 665 L710.4 662.2 L711 665.5 L711.6 666 L712.2 663.9 L712.8 668.1 L713.4 665.8 L714 664.8 L714.6 661.9 L715.2 666.2 L715.8 665.8 L716.4 665.2 L717 666.1 L717.6 664.4 L718.2 667.6 L718.8 664.4 L719.4 666.6 L720 666.2 L720 664.1 L720.6 665.3 L721.2 666.7 L721.8 667.6 L722.4 665.8 L723 665.7 L723.6 662 L724.2 667.4 L724.8 663.1 L725 663.9 L725.4 664.2 L726 664.7 L726.6 665.3 L727.2 664.3 L727.8 660.8 L728.4 663.5 L729 662.4 L729.6 661.4 L730 663 L730.2 663.3 L730.8 663.7 L731.4 665.1 L732 661.6 L732.6 661.2 L733.2 660.5 L733.8 662.3 L734.4 661.3 L735 662.1 L735.6 661.2 L736.2 662.3 L736.8 662.8 L737.4 663.3 L738 661.9 L738.6 661.3 L739.2 661.6 L739.8 658.6 L740 662.1 L740.4 661.5 L741 661.3 L741.6 659.8 L742.2 659 L742.8 662.4 L743.4 663.7 L744 661.2 L744.6 663.2 L745 663.8 L745.2 662.3 L745.8 665.1 L746.4 666.3 L747 660.6 L747.6 661.5 L748.2 662.2 L748.8 659.2 L749.4 658.7 L750 656.7 L750 660.2 L750.6 658.6 L751.2 661.3 L751.8 662.6 L752.4 662.4 L753 661 L753.6 658.6 L754.2 656.6 L754.8 657.8 L755 661.8 L755.4 660.1 L756 661.5 L756.6 662.4 L757.2 663.7 L757.8 663.2 L758.4 662.6 L759 663.5 L759.6 662 L760 662.3 L760.2 665.8 L760.8 667 L761.4 667.2 L762 668.3 L762.6 665.8 L763.2 665.7 L763.8 668.9 L764.4 669.5 L765 671.1 L765 669.1 L765.6 670.5 L766.2 668.7 L766.8 670.5 L767.4 669 L768 670.4 L768.6 667.5 L769.2 669.6 L769.8 669.9 L770 667.4 L770.4 669.7 L771 670.7 L771.6 672.5 L772.2 670.7 L772.8 670.4 L773.4 671.2 L774 672.9 L774.6 672.3 L775 673.6 L775.2 671.5 L775.8 672.5 L776.4 674 L777 674.4 L777.6 676.3 L778.2 678.8 L778.8 674.7 L779.4 679.1 L780 677.2 L780 676.3 L780.6 678.2 L781.2 680.6 L781.8 680.5 L782.4 678.6 L783 677.8 L783.6 677 L784.2 677.7 L784.8 677.7 L785.4 677.9 L786 677.6 L786.6 675.5 L787.2 679.9 L787.8 678.5 L788.4 677.7 L789 674.4 L789.6 677.3 L790.2 679.5 L790.8 676.4 L791.4 678.3 L792 675.7 L792.6 678.8 L793.2 678 L793.8 676.5 L794.4 675.2 L795 677.5 L795.6 677.6 L796.2 680.7 L796.8 679 L797.4 674.7 L798 677.6 L798.6 679.7 L799.2 676.5 L799.8 678.3 L800 677.3 L800.4 679.3 L801 677.4 L801.6 676.5 L802.2 675.7 L802.8 676.3 L803.4 673.1 L804 677.5 L804.6 673.5 L805 677.3 L805.2 677 L805.8 675.9 L806.4 673.3 L807 673.9 L807.6 675 L808.2 672.1 L808.8 673.2 L809.4 673.2 L810 672.9 L810.6 670 L811.2 669 L811.8 668.7 L812.4 671.3 L813 669.6 L813.6 669.5 L814.2 668.1 L814.8 667.8 L815 668.8 L815.4 666.5 L816 668.7 L816.6 663.9 L817.2 666.4 L817.8 668.9 L818.4 669.7 L819 664.6 L819.6 665 L820 666.4 L820.2 664.3 L820.8 668.4 L821.4 668.9 L822 666 L822.6 667.4 L823.2 668.4 L823.8 664.5 L824.4 667.3 L825 667.4 L825.6 666.8 L826.2 667.8 L826.8 667.4 L827.4 670 L828 667.7 L828.6 668.9 L829.2 667.5 L829.8 669.6 L830 669.5 L830.4 669.4 L831 669.9 L831.6 670 L832.2 671.5 L832.8 675.5 L833.4 671.9 L834 676.2 L834.6 677.8 L835 675 L835.2 674.6 L835.8 674.9 L836.4 677 L837 679.2 L837.6 676.6 L838.2 678.3 L838.8 677.7 L839.4 675.2 L840 679.6 L840 681.1 L840.6 679.2 L841.2 678.8 L841.8 675.8 L842.4 676.6 L843 677.8 L843.6 678.6 L844.2 673 L844.8 677.5 L845 674.5 L845.4 675.1 L846 670 L846.6 674.8 L847.2 674.6 L847.8 669 L848.4 670.5 L849 670.4 L849.6 668.2 L850 667 L850.2 667.4 L850.8 669.3 L851.4 668.9 L852 665.6 L852.6 667.5 L853.2 663.2 L853.8 666.3 L854.4 665 L855 664.5 L855.6 664.7 L856.2 664 L856.8 665.5 L857.4 663.6 L858 664.6 L858.6 664 L859.2 663.9 L859.8 659 L860 664.3 L860.4 659.9 L861 663.5 L861.6 659.2 L862.2 661.4 L862.8 660.3 L863.4 663.2 L864 659.2 L864.6 660.7 L865.2 663.1 L865.8 660.6 L866.4 661.9 L867 661.3 L867.6 657.4 L868.2 660.5 L868.8 663.7 L869.4 662.3 L870 662.3 L870 662.5 L870.6 660.8 L871.2 659.7 L871.8 661.8 L872.4 657.9 L873 659.4 L873.6 661.4 L874.2 662.1 L874.8 658.8 L875.4 659.5 L876 662.2 L876.6 659.8 L877.2 657.9 L877.8 659.4 L878.4 659.5 L879 661.4 L879.6 658.4 L880 658.8 L880.2 656.1 L880.8 658.8 L881.4 658.2 L882 658.8 L882.6 662 L883.2 660.4 L883.8 659.7 L884.4 659.4 L885 661.6 L885.6 659.6 L886.2 660.1 L886.8 661.1 L887.4 658.6 L888 662.6 L888.6 663.2 L889.2 663.4 L889.8 664.4 L890 660.5 L890.4 661.4 L891 663 L891.6 662.4 L892.2 664.2 L892.8 664.2 L893.4 663.9 L894 666.2 L894.6 667.1 L895 664 L895.2 664.4 L895.8 664.3 L896.4 665.8 L897 664.4 L897.6 664.7 L898.2 663.6 L898.8 661.9 L899.4 665.3 L900 662.6 L900 665" stroke="#bf00bf" stroke-width="1.6" fill="none" stroke-linejoin="round" stroke-linecap="round" clip-path="url(#ca3)"/>
<path d="M93 696.8 L93.6 696 L94.2 697.6 L94.8 699.2 L95.4 696.7 L96 696.9 L96.6 700.1 L97.2 699 L97.8 697.3 L98.4 699.2 L99 697.8 L99.6 698.1 L100 699.4 L100.2 696 L100.8 696.5 L101.4 698.5 L102 698 L102.6 700.3 L103.2 698.5 L103.8 697.9 L104.4 702.7 L105 700.1 L105.6 700.8 L106.2 698.6 L106.8 700.2 L107.4 701.4 L108 699.6 L108.6 702.2 L109.2 700.8 L109.8 701.5 L110 701 L110.4 703.4 L111 698 L111.6 693.9 L112.2 694.5 L112.8 688.8 L113 690.3 L113.4 685.1 L114 683.4 L114.6 683.1 L115 682.2 L115.2 681.9 L115.8 683.2 L116.4 684.7 L117 684.6 L117.6 687.6 L118 689.3 L118.2 692.1 L118.8 692.1 L119.4 689.9 L120 694.4 L120.6 694.4 L121.2 695.1 L121.8 698.4 L122.4 700.2 L123 701.2 L123.6 699.5 L124.2 701.6 L124.8 703.7 L125 705.2 L125.4 702.8 L126 703.3 L126.6 701.8 L127.2 701.7 L127.8 704.9 L128.4 705.8 L129 703.5 L129.6 705.2 L130.2 704.2 L130.8 702.6 L131.4 704.2 L132 706.1 L132.6 703.5 L133.2 706.1 L133.8 699.4 L134.4 704.9 L135 703.7 L135.6 703.1 L136.2 703.7 L136.8 700.4 L137.4 703.2 L138 704.2 L138.6 706 L139.2 702.8 L139.8 702.3 L140 702.8 L140.4 705.1 L141 704.1 L141.6 702.8 L142.2 704.4 L142.8 703.8 L143.4 705.1 L144 702.5 L144.6 703.1 L145.2 703 L145.8 701.3 L146.4 704.1 L147 704 L147.6 703.6 L148.2 703.2 L148.8 701.3 L149.4 702.9 L150 703.1 L150 702.3 L150.6 702.4 L151.2 702.4 L151.8 703.9 L152.4 700.2 L153 699.5 L153.6 698 L154.2 694.1 L154.8 696.3 L155 696.1 L155.4 699.9 L156 695.6 L156.6 696.3 L157.2 695.6 L157.8 693.7 L158.4 697.4 L159 696.6 L159.6 696.6 L160.2 693.8 L160.8 697.4 L161.4 692.9 L162 696 L162.6 698.4 L163.2 693.3 L163.8 693.9 L164.4 694.8 L165 693.8 L165 692.1 L165.6 696 L166.2 695.4 L166.8 699.1 L167.4 698.1 L168 703.3 L168.6 700.8 L169.2 702.8 L169.8 705.9 L170 703 L170.4 705.3 L171 707 L171.6 702.3 L172.2 705.1 L172.8 705.2 L173.4 705.9 L174 702.6 L174.6 702.5 L175.2 705.3 L175.8 704.9 L176.4 704.8 L177 704.9 L177.6 703.2 L178.2 704.6 L178.8 704.6 L179.4 703 L180 707.1 L180.6 704.8 L181.2 702 L181.8 704.9 L182.4 702.3 L183 705 L183.6 705.6 L184.2 702.4 L184.8 705.2 L185 704.3 L185.4 704.9 L186 706.5 L186.6 703 L187.2 702 L187.8 701.7 L188.4 701.8 L189 702.8 L189.6 703.4 L190.2 703.2 L190.8 704 L191.4 702.6 L192 704.8 L192.6 702 L193.2 706.6 L193.8 703.2 L194.4 700.7 L195 700.3 L195 702.8 L195.6 701.4 L196.2 702.7 L196.8 702 L197.4 700.9 L198 699.4 L198.6 698.1 L199.2 699.6 L199.8 701.5 L200 700.3 L200.4 697 L201 698.3 L201.6 697.6 L202.2 693.6 L202.8 694.8 L203.4 693.4 L204 688.7 L204.6 691.9 L205 691.8 L205.2 693.1 L205.8 691.9 L206.4 683.1 L207 683.4 L207.6 687 L208.2 685.9 L208.8 684.8 L209.4 694.4 L210 682.8 L210 684.6 L210.6 680.5 L211.2 675.9 L211.8 669.2 L212.4 669 L213 660.5 L213 662.2 L213.6 666.8 L214.2 674.1 L214.8 686.6 L215 675 L215.4 682.2 L216 673.4 L216.6 675.6 L217.2 679.2 L217.8 674.5 L218.4 669.4 L219 669.1 L219.6 672.1 L220 666.7 L220.2 669.9 L220.8 670.1 L221.4 668.6 L222 678.3 L222.6 674.1 L223.2 666.4 L223.8 674.2 L224.4 672.2 L225 677.7 L225 672.5 L225.6 668.8 L226.2 665 L226.8 660.3 L227 651.8 L227.4 657.5 L228 661.5 L228.6 665.5 L229.2 677.7 L229.8 677.8 L230 674 L230.4 680 L231 682.4 L231.6 677.5 L232.2 667.9 L232.8 669.7 L233.4 673.9 L234 666.1 L234.6 668.4 L235 668.5 L235.2 664.2 L235.8 670.6 L236.4 664 L237 674.7 L237.6 680.8 L238 680 L238.2 690.1 L238.8 683 L239.4 688.9 L240 693.4 L240 697.6 L240.6 688.8 L241.2 697.4 L241.8 694.1 L242.4 691.3 L243 696.3 L243.6 695.8 L244.2 693.6 L244.8 696.1 L245 694.8 L245.4 696.8 L246 699.3 L246.6 703 L247.2 694.7 L247.8 706.2 L248.4 693.8 L249 700.3 L249.6 703.4 L250 702.9 L250.2 700.3 L250.8 702.3 L251.4 702.3 L252 702.8 L252.6 707.3 L253.2 706.7 L253.8 705 L254.4 709.2 L255 708.6 L255 709.6 L255.6 707.7 L256.2 703.1 L256.8 702.1 L257.4 703.1 L258 701.2 L258 700 L258.6 697.2 L259.2 696.6 L259.8 689.8 L260 691.1 L260.4 690.4 L261 691.6 L261.6 695.4 L262.2 696.1 L262.8 697.2 L263.4 699.4 L264 698 L264.6 700.6 L265 699.4 L265.2 700.4 L265.8 698.6 L266.4 698.2 L267 698.4 L267.6 694.7 L268.2 699.7 L268.8 692.7 L269.4 691.4 L270 695.3 L270 694.6 L270.6 695.1 L271.2 695.9 L271.8 695.5 L272.4 694.6 L273 697.4 L273.6 696.7 L274.2 700.8 L274.8 699.4 L275 698.3 L275.4 699.3 L276 700.6 L276.6 698.6 L277.2 697.9 L277.8 699.9 L278.4 699.8 L279 698.2 L279.6 698.1 L280 699.5 L280.2 696.2 L280.8 696.6 L281.4 698.2 L282 699.5 L282.6 700.8 L283.2 703.4 L283.8 702.5 L284.4 700.7 L285 701.3 L285.6 699.6 L286.2 701.8 L286.8 701.6 L287.4 703 L288 701 L288.6 704 L289.2 706.3 L289.8 703.3 L290 704.4 L290.4 705 L291 702.9 L291.6 704.3 L292.2 703.9 L292.8 704.2 L293.4 702.5 L294 704.2 L294.6 705.2 L295.2 707.2 L295.8 706.3 L296.4 708.8 L297 703 L297.6 706.4 L298.2 705.1 L298.8 709.2 L299.4 703.3 L300 703.3 L300 703.8 L300.6 700.8 L301.2 704.1 L301.8 703.7 L302.4 705.5 L303 706 L303.6 709.1 L304.2 707.3 L304.8 704.3 L305.4 703.7 L306 706.6 L306.6 703 L307.2 709.4 L307.8 708.1 L308.4 704.9 L309 702.5 L309.6 708.7 L310 705.8 L310.2 708.5 L310.8 703 L311.4 705.1 L312 706.4 L312.6 706.6 L313.2 705.7 L313.8 708 L314.4 704.7 L315 706.7 L315.6 707.4 L316.2 708.3 L316.8 708.8 L317.4 705.2 L318 704.5 L318.6 710.3 L319.2 708.5 L319.8 706.5 L320 711.1 L320.4 708.3 L321 710.5 L321.6 708.3 L322.2 712.3 L322.8 711.8 L323.4 707.8 L324 710.3 L324.6 709.8 L325.2 711.3 L325.8 706.7 L326.4 710 L327 710.8 L327.6 705.2 L328.2 706.5 L328.8 704.8 L329.4 708.4 L330 710.4 L330 712 L330.6 709 L331.2 712 L331.8 705.9 L332.4 705.1 L333 708.3 L333.6 709 L334.2 708.1 L334.8 703.9 L335 707.8 L335.4 704.2 L336 706.3 L336.6 703.9 L337.2 699.5 L337.8 698.6 L338.4 695.7 L339 695.9 L339.6 696.1 L340 691 L340.2 694.6 L340.8 694.3 L341.4 695.6 L342 698.8 L342.6 698.7 L343 700.9 L343.2 701 L343.8 711.4 L344.4 711.6 L345 714.2 L345 716 L345.6 715.4 L346.2 715.2 L346.8 716.6 L347.4 716.7 L348 714.9 L348.6 714.9 L349.2 715.3 L349.8 713.6 L350 714.4 L350.4 716.6 L351 716.6 L351.6 714.9 L352.2 715.4 L352.8 715 L353.4 717 L354 715.3 L354.6 714.1 L355.2 713.3 L355.8 712.6 L356.4 713.8 L357 712.9 L357.6 712.2 L358.2 712.6 L358.8 712.1 L359.4 714.1 L360 713.3 L360 712.6 L360.6 714 L361.2 713 L361.8 712.5 L362.4 714.5 L363 713.9 L363.6 712.9 L364.2 713.7 L364.8 713.3 L365.4 713.1 L366 715.1 L366.6 716.1 L367.2 713.6 L367.8 715.4 L368.4 714.6 L369 714.9 L369.6 715 L370 714.9 L370.2 715.6 L370.8 715 L371.4 715.9 L372 715.6 L372.6 715.5 L373.2 715 L373.8 715.3 L374.4 716.4 L375 716.2 L375.6 715.1 L376.2 716 L376.8 716.5 L377.4 714.6 L378 716.4 L378.6 715.5 L379.2 716.5 L379.8 715.4 L380.4 714.6 L381 714.8 L381.6 716.2 L382.2 716.4 L382.8 715.5 L383.4 716.7 L384 714.9 L384.6 716.2 L385.2 715.3 L385.8 715.8 L386.4 716.4 L387 715.7 L387.6 716.1 L388.2 717.2 L388.8 716 L389.4 717.1 L390 715.6 L390 716.9 L390.6 717.7 L391.2 714.5 L391.8 715.9 L392.4 717 L393 716.4 L393.6 716.8 L394.2 716.1 L394.8 716.6 L395.4 716.4 L396 717.5 L396.6 716.8 L397.2 716.8 L397.8 716.2 L398.4 716.2 L399 716.2 L399.6 716.9 L400.2 716.3 L400.8 716.8 L401.4 718.3 L402 717.3 L402.6 716.4 L403.2 717.6 L403.8 716.3 L404.4 715 L405 715.8 L405.6 715.2 L406.2 716.4 L406.8 716.7 L407.4 718 L408 716.9 L408.6 716.5 L409.2 717.4 L409.8 714.9 L410.4 716.9 L411 717.3 L411.6 715.5 L412.2 717.6 L412.8 717 L413.4 716.4 L414 717.2 L414.6 718.6 L415.2 716.9 L415.8 717 L416.4 716.4 L417 716.1 L417.6 717.4 L418.2 716.1 L418.8 716.8 L419.4 716.4 L420 717.2 L420.6 717.1 L421.2 717.6 L421.8 716.4 L422.4 716.6 L423 716 L423.6 716.5 L424.2 717.1 L424.8 717.5 L425.4 716.1 L426 717.6 L426.6 718 L427.2 717.2 L427.8 718.4 L428.4 716.3 L429 715.9 L429.6 715.5 L430.2 718.1 L430.8 717.4 L431.4 716.9 L432 717.1 L432.6 716 L433.2 718.9 L433.8 717 L434.4 717 L435 717.5 L435.6 717.3 L436.2 717.1 L436.8 716.3 L437.4 717.4 L438 718.5 L438.6 718.1 L439.2 718.3 L439.8 716.6 L440 716.2 L440.4 716.9 L441 717 L441.6 717.8 L442.2 715.5 L442.8 718 L443.4 716.6 L444 716.4 L444.6 715.8 L445.2 715.3 L445.8 717.2 L446.4 716.6 L447 715.4 L447.6 715.4 L448.2 716.1 L448.8 717.7 L449.4 716.1 L450 715 L450.6 716 L451.2 715.9 L451.8 714 L452.4 716 L453 715.8 L453.6 716.5 L454.2 717.4 L454.8 716.8 L455.4 715.6 L456 714.9 L456.6 717.8 L457.2 715.8 L457.8 715.7 L458.4 715.6 L459 715.7 L459.6 715.4 L460 715 L460.2 715.1 L460.8 715.4 L461.4 715 L462 714.8 L462.6 715.5 L463.2 715.1 L463.8 716.5 L464.4 713.2 L465 716.1 L465.6 716.2 L466.2 713.5 L466.8 714.9 L467.4 714.8 L468 714 L468.6 714.4 L469.2 714.2 L469.8 716.4 L470.4 715.7 L471 716 L471.6 715.5 L472.2 714 L472.8 714.4 L473.4 715.2 L474 713.8 L474.6 715.3 L475.2 714.5 L475.8 714.4 L476.4 715.2 L477 715 L477.6 714.3 L478.2 715.5 L478.8 713.7 L479.4 715 L480 715 L480.6 714.2 L481.2 714.7 L481.8 713.4 L482.4 715.1 L483 714.2 L483.6 713.9 L484.2 715.1 L484.8 713.7 L485.4 713.1 L486 713 L486.6 714.7 L487.2 713.1 L487.8 715.5 L488.4 712.4 L489 715.4 L489.6 714.2 L490.2 713.9 L490.8 713.5 L491.4 714.2 L492 713.9 L492.6 714.8 L493.2 713.9 L493.8 713.9 L494.4 713.5 L495 713.7 L495.6 714 L496.2 712.3 L496.8 712.6 L497.4 714.2 L498 713.7 L498.6 713.4 L499.2 713.6 L499.8 713.8 L500 713.1 L500.4 712.8 L501 713.6 L501.6 712.6 L502.2 713.6 L502.8 711.9 L503.4 714 L504 713.5 L504.6 713.3 L505.2 713.8 L505.8 714.3 L506.4 713.7 L507 711.4 L507.6 711.8 L508.2 712.3 L508.8 712.7 L509.4 713.1 L510 712 L510 712.7 L510.6 712 L511.2 712.1 L511.8 711.5 L512.4 711.9 L513 711.6 L513.6 711.9 L514.2 713.5 L514.8 711.9 L515.4 714.8 L516 713.1 L516.6 712.9 L517.2 712 L517.8 713.3 L518.4 712.3 L519 712.9 L519.6 714.8 L520.2 712.7 L520.8 713.7 L521.4 712.3 L522 712.8 L522.6 714.3 L523.2 712.3 L523.8 714.3 L524.4 713.4 L525 712.4 L525.6 713.4 L526.2 713.7 L526.8 713.4 L527.4 711.7 L528 712.4 L528.6 712.8 L529.2 712.9 L529.8 713.5 L530.4 713.1 L531 711.9 L531.6 713.3 L532.2 713.5 L532.8 713.5 L533.4 713.9 L534 713.7 L534.6 713.4 L535.2 713 L535.8 711.8 L536.4 713.4 L537 713.3 L537.6 713.3 L538.2 712.1 L538.8 712.3 L539.4 714 L540 713.1 L540.6 713.7 L541.2 713.2 L541.8 713.2 L542.4 714 L543 712.8 L543.6 713.3 L544.2 712.9 L544.8 712.9 L545.4 713 L546 713.5 L546.6 712.9 L547.2 714.3 L547.8 712.6 L548.4 713.2 L549 713 L549.6 714.5 L550.2 713.5 L550.8 714.2 L551.4 712.2 L552 713.6 L552.6 714.1 L553.2 713.5 L553.8 714.3 L554.4 713 L555 714.6 L555.6 715.3 L556.2 713.2 L556.8 713.1 L557.4 714.7 L558 714.8 L558 713.1" stroke="#008000" stroke-width="1.6" fill="none" stroke-linejoin="round" stroke-linecap="round" clip-path="url(#ca3)"/>
<path d="M603 713.2 L603.6 713.3 L604.2 712.4 L604.8 712.7 L605.4 712.7 L606 712.8 L606.6 713.4 L607.2 713.6 L607.8 714.7 L608.4 712.6 L609 714.2 L609.6 713.2 L610.2 713.3 L610.8 713.9 L611.4 712.5 L612 713.6 L612.6 713.5 L613.2 713.7 L613.8 713.5 L614.4 715.3 L615 712.8 L615.6 712.9 L616.2 712.8 L616.8 712.8 L617.4 712.7 L618 714.2 L618.6 714.4 L619.2 712.8 L619.8 712.5 L620.4 713.6 L621 712.7 L621.6 713.7 L622.2 713.3 L622.8 711.9 L623.4 714.4 L624 714.6 L624.6 712.6 L625.2 712.8 L625.8 713.3 L626.4 713.4 L627 713.6 L627.6 714.7 L628.2 712.9 L628.8 712.4 L629.4 711.9 L630 712.4 L630.6 713 L631.2 714.4 L631.8 712.6 L632.4 713.2 L633 713 L633.6 713.9 L634.2 715 L634.8 712.5 L635.4 712.5 L636 713.8 L636.6 713.5 L637.2 714.4 L637.8 713.4 L638.4 712.6 L639 713.3 L639.6 713.7 L640.2 713.5 L640.8 713.2 L641.4 713.7 L642 713.8 L642.6 713.9 L643.2 713.3 L643.8 712.7 L644.4 712.9 L645 713.7 L645.6 712.1 L646.2 713 L646.8 712.4 L647.4 712.7 L648 713.7 L648.6 712.9 L649.2 712.7 L649.8 711.6 L650.4 713.3 L651 713.2 L651.6 714.4 L652.2 712.4 L652.8 712.8 L653.4 712.8 L654 713.9 L654.6 712.5 L655.2 712.8 L655.8 713.1 L656.4 712.7 L657 712.2 L657.6 712.7 L658.2 713.4 L658.8 711.7 L659.4 712.6 L660 711.9 L660 713.5 L660.6 711.2 L661.2 712 L661.8 712.7 L662.4 713.6 L663 712.3 L663.6 711.8 L664.2 713.7 L664.8 711 L665.4 710.4 L666 712.5 L666.6 711.7 L667.2 711.2 L667.8 712.6 L668.4 712.1 L669 711.5 L669.6 710.9 L670.2 712.5 L670.8 712.3 L671.4 711.7 L672 713.2 L672.6 710.8 L673.2 710.4 L673.8 711 L674.4 711.5 L675 711.7 L675.6 711.3 L676.2 711.7 L676.8 710.4 L677.4 712.5 L678 711.3 L678.6 712.2 L679.2 711.5 L679.8 711.6 L680 711.7 L680.4 711.5 L681 711.6 L681.6 712.1 L682.2 711.1 L682.8 711.4 L683.4 710.7 L684 711.9 L684.6 710.1 L685.2 712 L685.8 710.4 L686.4 709.3 L687 710.4 L687.6 709.7 L688.2 710.8 L688.8 709.6 L689.4 709.7 L690 708.4 L690.6 709.5 L691.2 707.9 L691.8 708.5 L692.4 710.3 L693 710.2 L693.6 709.8 L694.2 708.7 L694.8 709.3 L695.4 709.3 L696 708.3 L696.6 710.3 L697.2 709.8 L697.8 708.8 L698.4 708.9 L699 709 L699.6 707.1 L700 708.5 L700.2 708.1 L700.8 707.8 L701.4 708.3 L702 709.9 L702.6 708.9 L703.2 707.9 L703.8 708.7 L704.4 709.3 L705 708.8 L705.6 708.1 L706.2 707.4 L706.8 708.4 L707.4 708.1 L708 708.5 L708.6 708.2 L709.2 708.4 L709.8 707.1 L710 708.6 L710.4 707.7 L711 709.3 L711.6 707.2 L712.2 709.3 L712.8 708.1 L713.4 707.6 L714 707.8 L714.6 708 L715.2 708.7 L715.8 708.9 L716.4 708.1 L717 708.7 L717 710.4 L717.6 713.1 L718 714 L718.2 713.7 L718.8 713.7 L719.4 714.1 L720 712.7 L720.6 713.3 L721.2 712.1 L721.8 713.8 L722.4 713.9 L723 713 L723.6 714.6 L724.2 712.3 L724.8 712 L725.4 713.4 L726 714 L726.6 714.4 L727.2 712.7 L727.8 713.9 L728.4 712.9 L729 712.8 L729.6 713.6 L730.2 713.4 L730.8 711.5 L731.4 713.9 L732 713.8 L732.6 712.2 L733.2 712.9 L733.8 713 L734.4 712.8 L735 712.1 L735 712 L735.6 711.2 L736.2 710.8 L736.8 709 L737.4 707 L738 706.6 L738 703.7 L738.6 708.9 L739.2 708.5 L739.8 711.6 L740 711.6 L740.4 711.5 L741 713.5 L741.6 712.2 L742.2 712.9 L742.8 712.6 L743.4 713.1 L744 712.8 L744.6 711.7 L745.2 713.6 L745.8 712.5 L746.4 711.6 L747 712.6 L747.6 714.2 L748.2 713.7 L748.8 712.7 L749.4 712.8 L750 712.8 L750.6 714.8 L751.2 713.5 L751.8 713.6 L752.4 714.1 L753 713.5 L753.6 713.1 L754.2 713.2 L754.8 713.3 L755.4 713.4 L756 714 L756.6 713.5 L757.2 714.1 L757.8 713.5 L758.4 713.7 L759 712 L759.6 714.4 L760 714 L760.2 714.5 L760.8 711.4 L761.4 715.5 L762 713.7 L762.6 714.8 L763.2 713.1 L763.8 714.4 L764.4 713.1 L765 713.5 L765.6 715.6 L766.2 714 L766.8 714.3 L767.4 714.9 L768 714.6 L768.6 714.4 L769.2 714.6 L769.8 716.3 L770.4 714.3 L771 714.6 L771.6 715.3 L772.2 715.4 L772.8 715.5 L773.4 715.1 L774 713.7 L774.6 716 L775.2 713.8 L775.8 715 L776.4 714.2 L777 714.8 L777.6 715.1 L778.2 715.1 L778.8 715.3 L779.4 716.3 L780 715.4 L780 714.8 L780.6 715.7 L781.2 715.9 L781.8 713.9 L782.4 715.4 L783 715.4 L783.6 714.6 L784.2 715.9 L784.8 714.7 L785.4 714.9 L786 714.6 L786.6 714.7 L787.2 713.8 L787.8 713.5 L788.4 715.9 L789 713.9 L789.6 713.8 L790.2 712.9 L790.8 714 L791.4 713.5 L792 715.8 L792.6 715.3 L793.2 713.9 L793.8 716.2 L794.4 715.2 L795 714.1 L795.6 712.4 L796.2 716.2 L796.8 713.2 L797.4 713 L798 715.1 L798.6 716.2 L799.2 715.3 L799.8 714.6 L800.4 714.8 L801 715.3 L801.6 715.4 L802.2 714.6 L802.8 714.3 L803.4 713.9 L804 711.8 L804 713.2 L804.6 705 L805.2 706.8 L805.8 700.2 L806 698.6 L806.4 700.6 L807 701.1 L807.6 695.7 L808 684.5 L808.2 687 L808.8 695.3 L809.4 690.1 L810 694.2 L810.6 698.4 L811.2 694.6 L811.8 699.9 L812 695.3 L812.4 697.6 L813 700.3 L813.6 693.1 L814.2 699.7 L814.8 697.6 L815 699.4 L815.4 699.3 L816 704.8 L816.6 701.9 L817.2 701.5 L817.8 704.9 L818 706.9 L818.4 703.7 L819 701.4 L819.6 696.5 L820 695.2 L820.2 692.9 L820.8 704.8 L821.4 695.2 L822 698.1 L822.6 698.9 L823.2 705.4 L823.8 702.2 L824.4 708.5 L825 702.6 L825 706 L825.6 698.1 L826.2 704.5 L826.8 688.8 L827.4 690.1 L828 687.2 L828 686.4 L828.6 686.6 L829.2 689 L829.8 691.9 L830.4 693.5 L831 699.6 L831.6 706.2 L832 698 L832.2 695.3 L832.8 699.9 L833.4 709.5 L834 697.8 L834.6 706.5 L835.2 706.9 L835.8 699.2 L836.4 703.4 L837 707.3 L837.6 700.4 L838.2 701.2 L838.8 700.1 L839.4 698.8 L840 700.2 L840 698.2 L840.6 702 L841.2 698.6 L841.8 701.5 L842.4 694.7 L843 700.7 L843.6 701.8 L844.2 691.3 L844.8 699 L845 701.8 L845.4 693.1 L846 702.9 L846.6 698.2 L847.2 693.9 L847.8 695.9 L848.4 697.8 L849 695.8 L849.6 697.1 L850 691.8 L850.2 695.9 L850.8 691.4 L851.4 696.9 L852 695.2 L852.6 696.8 L853 704.3 L853.2 701.6 L853.8 693.1 L854.4 680.4 L855 676.4 L855 681.7 L855.6 672.7 L856.2 675.1 L856.8 663.1 L857 660.7 L857.4 655.9 L858 653 L858.6 647.5 L859 647.5 L859.2 639.5 L859.8 607 L860 596.3 L860.4 608.4 L861 637.3 L861.6 652.3 L862 662.5 L862.2 667.1 L862.8 661.7 L863.4 640.2 L864 630.4 L864 627.8 L864.6 634.7 L865.2 645.7 L865.8 649 L866 653.4 L866.4 649.6 L867 640.2 L867.6 640 L868 631.9 L868.2 633.6 L868.8 649.4 L869.4 655.6 L870 670.1 L870 670 L870.6 679.8 L871.2 683.7 L871.8 687.9 L872 692.9 L872.4 688.9 L873 677 L873.6 666 L874.2 652.4 L874.8 644.3 L875 643.9 L875.4 641.9 L876 641.8 L876.6 641.2 L877.2 641.4 L877.8 637.8 L878 639.2 L878.4 645.7 L879 650.6 L879.6 666.2 L880 677 L880.2 672.1 L880.8 674.9 L881.4 674.7 L882 670.1 L882.6 661.6 L883 665.2 L883.2 663.8 L883.8 671.8 L884.4 680.6 L885 691.4 L885 691.1 L885.6 687.6 L886.2 682.1 L886.8 676 L887.4 672 L888 669.2 L888 668.3 L888.6 667.3 L889.2 671.1 L889.8 690.8 L890 685.2 L890.4 688.8 L891 684.9 L891.6 682.1 L892.2 689.7 L892.8 689.9 L893.4 684.6 L894 676.9 L894.6 683.5 L895 686.4 L895.2 680.1 L895.8 686.8 L896.4 687 L897 690 L897.6 689.3 L898.2 686.4 L898.8 694.9 L899.4 691 L900 692.4 L900 689.2" stroke="#008000" stroke-width="1.6" fill="none" stroke-linejoin="round" stroke-linecap="round" clip-path="url(#ca3)"/>
<path d="M93 867.1 L93.6 868.7 L94.2 872.5 L94.8 865.1 L95.4 869.9 L96 869.8 L96.6 869.3 L97.2 867.5 L97.8 870.1 L98.4 879.3 L99 870.4 L99.6 870.6 L100 868.8 L100.2 875 L100.8 871.4 L101.4 873.1 L102 870.2 L102.6 871.1 L103.2 872.5 L103.8 874.6 L104.4 877.7 L105 878.3 L105.6 881.1 L106.2 877.9 L106.8 882.2 L107.4 880.3 L108 878.5 L108.6 878.6 L109.2 874.1 L109.8 875.3 L110 873.7 L110.4 882.9 L111 880.7 L111.6 882.2 L112.2 883.5 L112.8 880.5 L113.4 881.5 L114 881 L114.6 883.6 L115 882.1 L115.2 884.2 L115.8 881.8 L116.4 882.9 L117 885.2 L117.6 885.6 L118.2 884.3 L118.8 881.3 L119.4 888.9 L120 882.5 L120 885.1 L120.6 884.7 L121.2 885.1 L121.8 888.4 L122.4 889.9 L123 886.9 L123.6 886.1 L124.2 887.9 L124.8 889 L125 891.1 L125.4 886.3 L126 887.3 L126.6 885.7 L127.2 889.9 L127.8 886.8 L128.4 892.7 L129 894.7 L129.6 892.5 L130 894.3 L130.2 886.1 L130.8 892.9 L131.4 892.6 L132 889.2 L132.6 880.2 L133.2 891.3 L133.8 892 L134.4 898.2 L135 891.3 L135.6 889.8 L136.2 886.8 L136.8 890.3 L137.4 893.8 L138 892.9 L138.6 888.2 L139.2 885.5 L139.8 891 L140 896.1 L140.4 885.8 L141 890.4 L141.6 890.9 L142.2 887.3 L142.8 886.1 L143.4 888 L144 887.7 L144.6 888.3 L145 885.6 L145.2 885 L145.8 888.1 L146.4 880.5 L147 888.8 L147.6 886.3 L148.2 884.1 L148.8 880.1 L149.4 881.7 L150 885.7 L150 881.7 L150.6 882.5 L151.2 876.1 L151.8 877.6 L152.4 883.1 L153 879.3 L153.6 883.2 L154.2 872.1 L154.8 872.2 L155 873.4 L155.4 873.7 L156 877 L156.6 872.7 L157.2 872.2 L157.8 877.7 L158.4 868.2 L159 869.8 L159.6 877.9 L160 880.4 L160.2 880.4 L160.8 879.1 L161.4 871.2 L162 874.9 L162.6 874.1 L163.2 874.4 L163.8 870.7 L164.4 873.2 L165 875.3 L165 875.5 L165.6 872.8 L166.2 873.1 L166.8 875.3 L167.4 874.4 L168 876 L168.6 870.6 L169.2 874.5 L169.8 873.2 L170.4 874.7 L171 875.4 L171.6 873.9 L172.2 875 L172.8 879 L173.4 882.2 L174 875.3 L174.6 878.9 L175 881.7 L175.2 881.2 L175.8 878.9 L176.4 873.3 L177 883.5 L177.6 878.1 L178.2 881.4 L178.8 878.9 L179.4 879.9 L180 882.5 L180 879 L180.6 885.5 L181.2 880.7 L181.8 883.8 L182.4 881.1 L183 881.9 L183.6 878.9 L184.2 879.9 L184.8 875.5 L185 882.9 L185.4 879.7 L186 880.4 L186.6 869.9 L187.2 871.7 L187.8 874.7 L188.4 878 L189 873.1 L189.6 871 L190.2 869.8 L190.8 870.3 L191.4 870 L192 873.6 L192.6 871.1 L193.2 865.5 L193.8 869.6 L194.4 872 L195 865.7 L195 863.8 L195.6 869.7 L196.2 867.8 L196.8 873.2 L197.4 869.2 L198 872.7 L198.6 873 L199.2 876.2 L199.8 874.2 L200 876.3 L200.4 876.4 L201 865.4 L201.6 873.1 L202.2 866.4 L202.8 865.3 L203 867.7 L203.4 866.2 L204 864.8 L204.6 861.9 L205.2 865.6 L205.8 867.2 L206.4 864.3 L207 872.6 L207.6 872.2 L208.2 868.2 L208.8 866.1 L209.4 863.9 L210 869.7 L210 865.8 L210.6 872.1 L211.2 862.3 L211.8 868.8 L212.4 864.7 L213 865.8 L213.6 862 L214.2 862.4 L214.8 859.3 L215 863.7 L215.4 859.1 L216 863.7 L216.6 856.1 L217.2 861.8 L217.8 855.6 L218.4 855.7 L219 854.8 L219.6 852.5 L220 851 L220.2 855 L220.8 850.4 L221.4 855.7 L222 857.3 L222.6 852.3 L223.2 856.7 L223.8 853.5 L224.4 857 L225 858.9 L225 855.2 L225.6 856 L226.2 860.6 L226.8 851.8 L227.4 854.3 L228 847.7 L228.6 852.9 L229.2 849 L229.8 848.9 L230 855.7 L230.4 852.3 L231 847.8 L231.6 847.7 L232.2 848.1 L232.8 850.6 L233.4 845.9 L234 847.2 L234.6 842.2 L235 847.9 L235.2 845.2 L235.8 837.1 L236.4 831.7 L237 825.6 L237 828.3 L237.6 828.3 L238.2 834.4 L238.8 841.6 L239.4 842.5 L240 851.8 L240 847.9 L240.6 848.4 L241.2 850.7 L241.8 852.9 L242.4 852.7 L243 844.2 L243.6 848.5 L244.2 846.7 L244.8 847.3 L245 845.6 L245.4 847.4 L246 852 L246.6 852.2 L247.2 852.5 L247.8 855 L248 856 L248.4 851.9 L249 858.8 L249.6 850.9 L250.2 854.2 L250.8 849.4 L251.4 844.3 L252 852.3 L252 851.5 L252.6 822.4 L253 799.2 L253.2 798.6 L253.8 786.6 L254 795.1 L254.4 786.5 L255 791.9 L255.6 800.8 L256 798.6 L256.2 799.8 L256.8 781.9 L257.4 774.3 L258 767.6 L258 757.5 L258.6 764.4 L259.2 763.2 L259.8 769.9 L260 775 L260.4 777.8 L261 791.9 L261.6 797.5 L262 807.1 L262.2 806.1 L262.8 815.2 L263.4 814.4 L264 816.1 L264.6 832.3 L265 824.3 L265.2 829.7 L265.8 830.4 L266.4 833.6 L267 839.1 L267.6 841.8 L268 840.5 L268.2 837.8 L268.8 838.7 L269.4 829.3 L270 831.7 L270 830.2 L270.6 833.6 L271.2 834 L271.8 834 L272.4 823.4 L273 839.1 L273.6 843.8 L274.2 840.7 L274.8 842.2 L275 846.4 L275.4 846.5 L276 837.8 L276.6 838.9 L277.2 834.7 L277.8 828.7 L278 838.5 L278.4 837.4 L279 840.8 L279.6 840 L280 847.6 L280.2 844.6 L280.8 842.4 L281.4 843 L282 840 L282.6 848.4 L283 843.9 L283.2 843.9 L283.8 852.8 L284.4 855.1 L285 851.7 L285 852 L285.6 854.3 L286.2 864.2 L286.8 870.7 L287 863.4 L287.4 871.5 L288 870.7 L288.6 862.7 L289.2 871 L289.8 874.2 L290 876.7 L290.4 870.2 L291 881.4 L291.6 881.7 L292.2 879.3 L292.8 874.8 L293.4 884.4 L294 884.5 L294.6 887.9 L295 894.2 L295.2 883.1 L295.8 890.5 L296.4 884.1 L297 887 L297.6 883.8 L298.2 885.9 L298.8 887.3 L299.4 882.2 L300 899.2 L300 891 L300.6 889.3 L301.2 889 L301.8 889.2 L302.4 881.1 L303 883.4 L303.6 890.9 L304.2 888.3 L304.8 889.6 L305 875.2 L305.4 894.9 L306 885.5 L306.6 884.3 L307.2 888.1 L307.8 890.5 L308.4 891.1 L309 892.4 L309.6 884.1 L310 892.1 L310.2 888.9 L310.8 886.1 L311.4 891.9 L312 888.8 L312.6 887.9 L313.2 891.2 L313.8 897.1 L314.4 893.1 L315 889.2 L315.6 895.4 L316.2 889.6 L316.8 891.3 L317.4 886.9 L318 886.1 L318.6 890.4 L319.2 890 L319.8 882.5 L320 889.5 L320.4 896.9 L321 890.9 L321.6 887.7 L322.2 890.6 L322.8 888.9 L323.4 891.5 L324 898.3 L324.6 889.9 L325 888.6 L325.2 897.1 L325.8 898 L326.4 892.5 L327 898.8 L327.6 887.9 L328.2 886.7 L328.8 893.6 L329.4 887.2 L330 888.3 L330 889.4 L330.6 886.6 L331.2 894.3 L331.8 882.9 L332.4 883.9 L333 881.1 L333.6 885.8 L334.2 888.7 L334.8 884.8 L335 890.6 L335.4 890.1 L336 881 L336.6 885.9 L337.2 879.4 L337.8 878.5 L338 872.3 L338.4 862.9 L339 864.5 L339.6 853.5 L340 847.6 L340.2 845.3 L340.8 836.6 L341.4 831.1 L342 823.9 L342 817.5 L342.6 818.6 L343.2 812.4 L343.8 807.6 L344 816.3 L344.4 816.9 L345 841.7 L345 838 L345.6 861.9 L346.2 869.7 L346.8 883 L347 885.4 L347.4 890.7 L348 886 L348.6 892.8 L349.2 893.2 L349.8 896.2 L350 901.9 L350.4 894.3 L351 899.4 L351.6 894.3 L352.2 896.7 L352.8 899.9 L353.4 899 L354 898.7 L354.6 894.4 L355 895.7 L355.2 898.2 L355.8 899.7 L356.4 903.5 L357 900.3 L357.6 900.6 L358 905.1 L358.2 901.5 L358.8 898.1 L359.4 895.6 L360 885.3 L360 890.6 L360.6 885.4 L361.2 881.2 L361.8 883.6 L362 876.4 L362.4 871.3 L363 880.7 L363.6 871.6 L364.2 874.5 L364.8 874.8 L365 872.4 L365.4 875.6 L366 874.8 L366.6 881.9 L367.2 883.6 L367.8 888.1 L368 889.1 L368.4 892.4 L369 888.4 L369.6 894 L370 894.7 L370.2 893.9 L370.8 896.2 L371.4 896 L372 901 L372.6 897.5 L373.2 902.3 L373.8 904.8 L374.4 902.9 L375 906 L375 901.3 L375.6 906.4 L376.2 905.9 L376.8 902.5 L377.4 898.7 L378 899.1 L378.6 895.1 L379.2 900.8 L379.8 895.8 L380 896.5 L380.4 899.1 L381 899.1 L381.6 904.4 L382.2 900.4 L382.8 902 L383.4 903.5 L384 901.7 L384.6 903 L385 903.5 L385.2 904 L385.8 911.3 L386.4 901 L387 902.7 L387.6 905.4 L388.2 904.8 L388.8 907.6 L389.4 911.7 L390 909.5 L390 904.8 L390.6 908.7 L391.2 907.8 L391.8 910.9 L392.4 914.3 L393 909.9 L393.6 912.4 L394.2 912.2 L394.8 912.4 L395 909.7 L395.4 911.5 L396 910 L396.6 908.6 L397.2 910 L397.8 908.8 L398.4 916.3 L399 904.7 L399.6 904.8 L400 908.3 L400.2 907.6 L400.8 896.1 L401.4 891.6 L402 887.6 L402 889.7 L402.6 893.3 L403.2 892.6 L403.8 898 L404.4 900.8 L405 902.9 L405 898 L405.6 900 L406.2 902.2 L406.8 900.9 L407.4 902.4 L408 906.8 L408.6 900.7 L409.2 905.6 L409.8 907 L410 900.6 L410.4 898.9 L411 902.9 L411.6 904.3 L412.2 905.4 L412.8 904.7 L413.4 906.1 L414 906.2 L414.6 902 L415.2 904.3 L415.8 903.5 L416.4 902.2 L417 908 L417.6 904.9 L418.2 904 L418.8 903.7 L419.4 902.6 L420 903.1 L420 904.7 L420.6 908 L421.2 910.3 L421.8 903.3 L422.4 906.9 L423 906.1 L423.6 903.8 L424.2 907.6 L424.8 907.1 L425.4 908.7 L426 909.8 L426.6 908.3 L427.2 905.7 L427.8 908.8 L428.4 909.3 L429 915.1 L429.6 911.7 L430 911.1 L430.2 909.9 L430.8 913.9 L431.4 909.7 L432 909.8 L432.6 908 L433.2 909.6 L433.8 910.9 L434.4 913.9 L435 913.1 L435.6 909.5 L436.2 910.9 L436.8 905.4 L437.4 912.8 L438 911.6 L438.6 912.5 L439.2 911.1 L439.8 912.1 L440 911.4 L440.4 911.9 L441 910.7 L441.6 910.4 L442.2 909.6 L442.8 908.3 L443.4 904.4 L444 907.8 L444.6 905.3 L445 908.6 L445.2 901.8 L445.8 905.9 L446.4 904.7 L447 905.8 L447.6 905.9 L448.2 907.7 L448.8 906.2 L449.4 902 L450 900.6 L450.6 902.5 L451.2 906 L451.8 906.4 L452.4 904.1 L453 904.3 L453.6 902.6 L454.2 908.3 L454.8 905.8 L455 907.3 L455.4 904.4 L456 904.7 L456.6 898.8 L457.2 902.6 L457.8 901.5 L458.4 900.7 L459 902.6 L459.6 903.7 L460 895.4 L460.2 899.6 L460.8 896.7 L461.4 895 L462 893.1 L462.6 899.1 L463.2 897 L463.8 900 L464.4 895.7 L465 897 L465 902.4 L465.6 900.3 L466.2 890.9 L466.8 889.7 L467.4 897.6 L468 893.8 L468.6 889.2 L469.2 895.1 L469.8 897.8 L470 893.1 L470.4 892.3 L471 892.8 L471.6 893.6 L472.2 889.1 L472.8 891.9 L473.4 890.7 L474 892.3 L474.6 890.4 L475 894.8 L475.2 889.1 L475.8 888.4 L476.4 890 L477 893.3 L477.6 886.4 L478.2 889.5 L478.8 885.2 L479.4 880.1 L480 886.3 L480 885.7 L480.6 887.3 L481.2 887.7 L481.8 895.2 L482.4 894 L483 890.8 L483.6 893.3 L484.2 898.9 L484.8 898.9 L485 897.1 L485.4 897.9 L486 903.3 L486.6 900.4 L487.2 903.1 L487.8 904.1 L488.4 905.5 L489 904.3 L489.6 901.9 L490 906 L490.2 903.8 L490.8 906.2 L491.4 902.4 L492 900.3 L492.6 905.7 L493.2 906.1 L493.8 908.8 L494.4 904.9 L495 910 L495 906.6 L495.6 905.6 L496.2 902.6 L496.8 903.5 L497.4 903.6 L498 903.2 L498.6 902 L499.2 901.9 L499.8 893.2 L500 896.4 L500.4 890.8 L501 894.5 L501.6 895.2 L502.2 891.2 L502.8 891.3 L503 888.6 L503.4 880.9 L504 881.8 L504.6 878.3 L505 875.4 L505.2 874.5 L505.8 877.8 L506.4 878.6 L507 875.6 L507.6 871.5 L508 870.2 L508.2 869.4 L508.8 870.4 L509.4 862.9 L510 860.9 L510 862.7 L510.6 864.5 L511.2 863.6 L511.8 869.2 L512 868.7 L512.4 870.5 L513 864.9 L513.6 866.6 L514.2 862.4 L514.8 863 L515 868.5 L515.4 862.4 L516 860.3 L516.6 870.5 L517.2 868.9 L517.8 864.1 L518.4 871.9 L519 866.9 L519.6 866.8 L520 869.5 L520.2 866.5 L520.8 865.9 L521.4 872.5 L522 870.6 L522.6 869.9 L523.2 876 L523.8 871.8 L524.4 877.6 L525 874.1 L525 874.3 L525.6 870.1 L526.2 873.8 L526.8 871 L527.4 869.1 L528 870 L528.6 874.7 L529.2 874.5 L529.8 876.8 L530 876.5 L530.4 872.2 L531 880.1 L531.6 874.3 L532.2 876.9 L532.8 871.3 L533.4 877.6 L534 878.4 L534.6 873.9 L535.2 876.6 L535.8 876.7 L536.4 879.6 L537 875.3 L537.6 875.9 L538.2 877 L538.8 871 L539.4 874.2 L540 878.9 L540 875.7 L540.6 873.2 L541.2 877.3 L541.8 874.9 L542.4 874 L543 872.4 L543.6 874.1 L544.2 869.2 L544.8 875.9 L545 876.6 L545.4 876.6 L546 878.6 L546.6 876.3 L547.2 878.1 L547.8 873.8 L548 877 L548.4 883.1 L549 886.9 L549.6 891.2 L550 892.8 L550.2 893.8 L550.8 894.2 L551.4 898.7 L552 896.9 L552.6 901.8 L553 900.8 L553.2 899.8 L553.8 897.9 L554.4 893.1 L555 890.4 L555 894.5 L555.6 892.4 L556.2 894.7 L556.8 892.8 L557.4 898.2 L558 891.2 L558 898.9" stroke="#bf00bf" stroke-width="1.6" fill="none" stroke-linejoin="round" stroke-linecap="round" clip-path="url(#ca4)"/>
<path d="M603 895.7 L603.6 896.9 L604.2 890.3 L604.8 885.4 L605 882.3 L605.4 885.1 L606 891.7 L606.6 885.5 L607.2 889.6 L607.8 891.7 L608.4 896.1 L609 890.8 L609.6 896.4 L610 896.5 L610.2 896.4 L610.8 894.2 L611.4 894.4 L612 898.1 L612.6 901 L613.2 893.2 L613.8 892.8 L614.4 891.3 L615 891.3 L615.6 895 L616.2 895.9 L616.8 895.1 L617.4 893.8 L618 899.9 L618.6 896.5 L619.2 892.7 L619.8 895.4 L620 901.3 L620.4 896 L621 895.9 L621.6 896.8 L622.2 903 L622.8 891.3 L623.4 897.2 L624 895.8 L624.6 896.8 L625.2 892.3 L625.8 902.9 L626.4 897 L627 895.9 L627.6 899.4 L628.2 896.5 L628.8 899.2 L629.4 894.8 L630 900.1 L630 896.1 L630.6 900.7 L631.2 900.5 L631.8 897.6 L632.4 899.3 L633 898.3 L633.6 894.7 L634.2 898.6 L634.8 893.9 L635.4 895.9 L636 894.5 L636.6 903 L637.2 893.6 L637.8 902.1 L638.4 901.7 L639 901 L639.6 901.3 L640 897.6 L640.2 900 L640.8 894.6 L641.4 900.4 L642 899 L642.6 899.1 L643.2 903.4 L643.8 905.1 L644.4 905.2 L645 903.9 L645.6 896.6 L646.2 900.1 L646.8 903.8 L647.4 896.1 L648 903.6 L648.6 902.8 L649.2 903.5 L649.8 905.5 L650 902 L650.4 905.8 L651 905.2 L651.6 905.3 L652.2 900.6 L652.8 901.3 L653.4 902.3 L654 902.9 L654.6 907.5 L655.2 903 L655.8 898.7 L656.4 905.2 L657 898.5 L657.6 906.9 L658.2 905.2 L658.8 903.2 L659.4 903.6 L660 905.3 L660 902.1 L660.6 900.4 L661.2 901.3 L661.8 900.1 L662.4 910.8 L663 901.2 L663.6 907.6 L664.2 900.8 L664.8 901.8 L665.4 893.7 L666 898.3 L666.6 894.1 L667.2 902.8 L667.8 897.2 L668.4 896.4 L669 899.3 L669.6 899.7 L670 900.1 L670.2 900.4 L670.8 900.6 L671.4 895.6 L672 896.9 L672.6 896.6 L673.2 892.3 L673.8 897.4 L674.4 898.8 L675 895.9 L675 894.4 L675.6 898.3 L676.2 895.2 L676.8 890.2 L677.4 891.6 L678 889.9 L678.6 889.5 L679.2 893.7 L679.8 886.8 L680 890.3 L680.4 884.1 L681 881.9 L681.6 889.7 L682.2 890.6 L682.8 889.2 L683.4 891 L684 888.8 L684.6 891.6 L685 883.7 L685.2 896.2 L685.8 891.9 L686.4 890.6 L687 889.5 L687.6 891.6 L688.2 890.7 L688.8 893.5 L689.4 888.6 L690 887.5 L690 890.5 L690.6 895.1 L691.2 889.7 L691.8 887.9 L692.4 891.4 L693 893.7 L693.6 890.3 L694.2 888.6 L694.8 890.7 L695 885.8 L695.4 882.5 L696 890.1 L696.6 887.2 L697.2 883.7 L697.8 892.9 L698.4 895.1 L699 888.9 L699.6 891.5 L700 896.4 L700.2 892.6 L700.8 895.8 L701.4 891.9 L702 891.5 L702.6 891.6 L703.2 890.7 L703.8 890.6 L704.4 888.4 L705 891.7 L705 886.6 L705.6 889.3 L706.2 886.9 L706.8 890.9 L707.4 891.4 L708 889.2 L708.6 892.7 L709.2 887.3 L709.8 887 L710 892.3 L710.4 888.6 L711 882.3 L711.6 877.6 L712 876.2 L712.2 882.4 L712.8 883.6 L713.4 875.1 L714 880.1 L714.6 877.9 L715 881.8 L715.2 881 L715.8 883 L716.4 888.4 L717 901.3 L717 890.5 L717.6 898 L718.2 898.1 L718.8 899.2 L719.4 905.5 L720 906.6 L720 905 L720.6 902.4 L721.2 903.6 L721.8 905.4 L722.4 905.8 L723 898.5 L723.6 902.9 L724.2 898.8 L724.8 896.9 L725 904.1 L725.4 901.4 L726 905.9 L726.6 903.2 L727.2 900.5 L727.8 908.7 L728.4 907.5 L729 898.2 L729.6 904 L730 904.1 L730.2 903.7 L730.8 898.6 L731.4 890.4 L732 887.3 L732.6 874.9 L733 874.7 L733.2 879.8 L733.8 883.1 L734.4 890.4 L735 895 L735 899.3 L735.6 896.1 L736.2 901.1 L736.8 895.6 L737.4 902.1 L738 902.1 L738.6 896.8 L739.2 899.7 L739.8 898.1 L740 898.6 L740.4 894.2 L741 898 L741.6 892.6 L742.2 906.2 L742.8 902.1 L743.4 901.5 L744 907.8 L744.6 899.7 L745 897 L745.2 904.8 L745.8 908.2 L746.4 904.4 L747 905.6 L747.6 906.2 L748.2 905.9 L748.8 906.5 L749.4 908.4 L750 905.3 L750 902.6 L750.6 912.8 L751.2 906.9 L751.8 907.8 L752.4 905.3 L753 914.4 L753.6 906.6 L754.2 907.3 L754.8 906.7 L755.4 910.9 L756 910.7 L756.6 909 L757.2 912.5 L757.8 910.1 L758.4 910 L759 909.9 L759.6 909.5 L760 911.5 L760.2 911.8 L760.8 911.1 L761.4 909.5 L762 912.7 L762.6 912.3 L763.2 910.8 L763.8 911.3 L764.4 913.4 L765 913.7 L765.6 908.7 L766.2 913.9 L766.8 911.7 L767.4 909.8 L768 910.7 L768.6 909.7 L769.2 911.9 L769.8 911.8 L770 915 L770.4 912.8 L771 911.9 L771.6 912.7 L772.2 912.1 L772.8 914.2 L773.4 914.6 L774 913.2 L774.6 914.6 L775.2 917.8 L775.8 912.6 L776.4 913.9 L777 914.8 L777.6 913.8 L778.2 918.8 L778.8 911.5 L779.4 914.5 L780 914.3 L780 913.9 L780.6 918.2 L781.2 917.1 L781.8 910.5 L782.4 914.1 L783 918 L783.6 916.9 L784.2 916.2 L784.8 912.9 L785.4 913.4 L786 910.5 L786.6 913.2 L787.2 915.8 L787.8 916.2 L788.4 916 L789 914 L789.6 913 L790 912.3 L790.2 912.8 L790.8 914.3 L791.4 918.5 L792 914.7 L792.6 913.2 L793.2 915.3 L793.8 913.8 L794.4 910.7 L795 914.7 L795.6 914.1 L796.2 908.8 L796.8 912.9 L797.4 910.5 L798 908.8 L798.6 910.6 L799.2 913.3 L799.8 909.5 L800 914.2 L800.4 909.2 L801 909.5 L801.6 910.1 L802.2 913.3 L802.8 911.4 L803.4 908.5 L804 907.2 L804.6 906.2 L805.2 911.1 L805.8 907.4 L806.4 911.4 L807 905.7 L807.6 909.9 L808.2 908.6 L808.8 908.8 L809.4 906.2 L810 905.6 L810 907.2 L810.6 908.6 L811.2 908.9 L811.8 906.5 L812.4 907.8 L813 907 L813.6 905.7 L814.2 907.2 L814.8 905.8 L815.4 902.5 L816 909.5 L816.6 906.9 L817.2 901.7 L817.8 907 L818.4 909.6 L819 904 L819.6 908.2 L820 904.9 L820.2 906.3 L820.8 905.7 L821.4 904 L822 906.7 L822.6 902.9 L823.2 906.8 L823.8 907.6 L824.4 906.4 L825 906.2 L825.6 905 L826.2 904.2 L826.8 904.1 L827.4 904.3 L828 905.6 L828.6 902.4 L829.2 904.3 L829.8 902.3 L830 900.1 L830.4 906.9 L831 902.3 L831.6 903.8 L832.2 904.6 L832.8 904.7 L833.4 903.6 L834 902.4 L834.6 902.6 L835.2 902 L835.8 904.7 L836.4 904 L837 903.6 L837.6 903 L838.2 901.2 L838.8 901.9 L839.4 904.8 L840 899.7 L840 904.3 L840.6 904.3 L841.2 903.4 L841.8 901.7 L842.4 902.1 L843 902.1 L843.6 901.8 L844.2 904.2 L844.8 899.1 L845.4 900.5 L846 903.6 L846.6 901.7 L847.2 899.8 L847.8 898.9 L848.4 901.7 L849 901 L849.6 895.4 L850 898.3 L850.2 897.6 L850.8 899.6 L851.4 900.2 L852 895.4 L852.6 896 L853.2 899.6 L853.8 894.7 L854.4 895.9 L855 896.3 L855 894.8 L855.6 895.3 L856.2 898.6 L856.8 897.7 L857.4 899.8 L858 898.6 L858.6 898.8 L859.2 897.6 L859.8 900.5 L860 897.2 L860.4 894.2 L861 898 L861.6 896.4 L862.2 894.9 L862.8 901.1 L863.4 899.5 L864 896.9 L864.6 895.8 L865.2 900.3 L865.8 897.1 L866.4 897.1 L867 903.4 L867.6 900.7 L868.2 898.2 L868.8 900.1 L869.4 894.9 L870 895.4 L870.6 894 L871.2 897.9 L871.8 898 L872.4 897.5 L873 901.8 L873.6 901.8 L874.2 898.9 L874.8 895.4 L875.4 896.4 L876 898.2 L876.6 898.6 L877.2 898.5 L877.8 899.8 L878.4 901.3 L879 896 L879.6 896.7 L880 896.2 L880.2 897.7 L880.8 899 L881.4 898.6 L882 894.1 L882.6 894.7 L883.2 898.3 L883.8 896.9 L884.4 901 L885 898.8 L885.6 903.3 L886.2 898.9 L886.8 900.5 L887.4 899.8 L888 896 L888.6 894.8 L889.2 899.9 L889.8 900.6 L890 895.9 L890.4 895.9 L891 898.1 L891.6 899 L892.2 896.7 L892.8 896.4 L893.4 896.2 L894 900.2 L894.6 898.6 L895 893.7 L895.2 895.5 L895.8 897.7 L896.4 894.9 L897 897.7 L897.6 901.1 L898.2 894.5 L898.8 895.8 L899.4 898.5 L900 897.9 L900 899.2" stroke="#bf00bf" stroke-width="1.6" fill="none" stroke-linejoin="round" stroke-linecap="round" clip-path="url(#ca4)"/>
<path d="M93 901.9 L93.6 898.5 L94.2 900.9 L94.8 898.8 L95.4 900 L96 900.4 L96.6 901.8 L97.2 900.4 L97.8 898.1 L98.4 901.3 L99 897.7 L99.6 900.8 L100 898.4 L100.2 898.9 L100.8 899.8 L101.4 897.4 L102 896.6 L102.6 897.6 L103.2 896.5 L103.8 894.9 L104.4 899.5 L105 900.2 L105.6 899 L106.2 897 L106.8 897.1 L107.4 900.4 L108 900.6 L108.6 898.1 L109.2 900.9 L109.8 897.3 L110 898 L110.4 894.9 L111 891.2 L111.6 890.9 L112 888.9 L112.2 888.5 L112.8 886.5 L113 883 L113.4 884.2 L114 882.3 L114.6 883.8 L115.2 884.6 L115.8 883 L116.4 885.5 L117 883.9 L117.6 882 L118.2 882.9 L118.8 877.7 L119.4 880.5 L120 884.7 L120 883.7 L120.6 886 L121.2 885.6 L121.8 885.2 L122.4 886.9 L123 888 L123.6 888.5 L124.2 891.6 L124.8 890.9 L125 892.3 L125.4 893.4 L126 891 L126.6 891.5 L127.2 895.2 L127.8 891.7 L128.4 893 L129 895.7 L129.6 894.6 L130 894 L130.2 892 L130.8 897.2 L131.4 895 L132 895.3 L132.6 896 L133.2 898.2 L133.8 896 L134.4 895.1 L135 896.4 L135.6 898.2 L136.2 894.1 L136.8 895.7 L137.4 893.8 L138 896.4 L138.6 899.4 L139.2 895.1 L139.8 896.6 L140 897.5 L140.4 897.4 L141 899.1 L141.6 896 L142.2 895.8 L142.8 895.7 L143.4 897.4 L144 896.6 L144.6 896.9 L145.2 895.7 L145.8 901.8 L146.4 897.7 L147 897.2 L147.6 902.5 L148.2 898.5 L148.8 896.9 L149.4 898.9 L150 900 L150 898.4 L150.6 896 L151.2 895.9 L151.8 895.9 L152.4 900.1 L153 899.6 L153.6 894.7 L154.2 893.4 L154.8 894.5 L155.4 895.6 L156 896.1 L156.6 895.1 L157.2 895 L157.8 897.5 L158.4 894.8 L159 893.7 L159.6 896 L160 894.8 L160.2 893 L160.8 896.7 L161.4 894.5 L162 893.2 L162.6 889.1 L163.2 887.7 L163.8 887.3 L164.4 887.9 L165 885.2 L165 886.5 L165.6 885 L166.2 888.5 L166.8 887 L167.4 888.5 L168 886.8 L168.6 885.6 L169.2 884.5 L169.8 887.6 L170.4 887.5 L171 886.5 L171.6 888.9 L172.2 886.8 L172.8 888.4 L173.4 888.7 L174 889 L174.6 890.1 L175 886 L175.2 886.5 L175.8 888.6 L176.4 890.6 L177 889.5 L177.6 885.1 L178.2 888.9 L178.8 890.1 L179.4 889.5 L180 890.8 L180.6 894.4 L181.2 887.2 L181.8 889.2 L182.4 889.7 L183 890.6 L183.6 891.6 L184.2 892.5 L184.8 891.3 L185 892.9 L185.4 890.7 L186 888 L186.6 894.4 L187.2 894 L187.8 891.1 L188.4 890.5 L189 888.1 L189.6 887.3 L190 888.5 L190.2 889.5 L190.8 888.2 L191.4 890.2 L192 891.5 L192.6 892.2 L193.2 895.3 L193.8 893.1 L194.4 896.5 L195 897.1 L195 897.9 L195.6 895.6 L196.2 893.4 L196.8 889.2 L197.4 889.2 L198 891.4 L198.6 892.5 L199.2 891.8 L199.8 888.6 L200 887.7 L200.4 892.9 L201 889.1 L201.6 887.9 L202.2 886.3 L202.8 890.6 L203.4 891.2 L204 891 L204.6 892.4 L205 886.9 L205.2 891.2 L205.8 891.7 L206.4 890.2 L207 890.5 L207.6 890 L208.2 891.4 L208.8 888.9 L209.4 888.4 L210 891.3 L210 887.9 L210.6 887.5 L211.2 887.9 L211.8 885.9 L212.4 882.5 L213 882.7 L213.6 882.6 L214.2 879.9 L214.8 878.1 L215 878.5 L215.4 877.4 L216 881.8 L216.6 879.5 L217.2 883.2 L217.8 879.6 L218.4 881 L219 879.6 L219.6 885.7 L220 884.9 L220.2 885.6 L220.8 886.1 L221.4 883.4 L222 883.5 L222.6 886.4 L223.2 882.4 L223.8 886.6 L224.4 889.1 L225 888.3 L225 886 L225.6 886.4 L226.2 888.4 L226.8 888.1 L227.4 884.6 L228 889.3 L228.6 886.4 L229.2 890.5 L229.8 884.6 L230.4 889.8 L231 887.6 L231.6 889.7 L232.2 891 L232.8 888.7 L233.4 888.8 L234 887.7 L234.6 891.3 L235 887.7 L235.2 891.6 L235.8 890.8 L236.4 890.5 L237 888.2 L237.6 891.4 L238.2 891.4 L238.8 894.7 L239.4 891.9 L240 894.1 L240 894.5 L240.6 896.1 L241.2 896.7 L241.8 896.3 L242.4 892.4 L243 896.3 L243.6 897.6 L244.2 898.5 L244.8 899.2 L245 898.1 L245.4 896.5 L246 900.8 L246.6 899.4 L247.2 899.1 L247.8 900.2 L248 901 L248.4 902.7 L249 900.2 L249.6 900.5 L250.2 902 L250.8 901.6 L251.4 897 L252 904.3 L252 901.9 L252.6 887.3 L253 869.4 L253.2 870.7 L253.8 864.8 L254.4 862.7 L255 857.1 L255 856.5 L255.6 857.7 L256.2 861.4 L256.8 852.4 L257.4 855.2 L258 852.2 L258 850.2 L258.6 846.6 L259.2 848.2 L259.8 843.8 L260 846.3 L260.4 836.1 L261 838.1 L261.6 832.9 L262 832.2 L262.2 833.6 L262.8 836 L263.4 837.1 L264 847.3 L264.6 843.9 L265 855.7 L265.2 847.2 L265.8 844.2 L266.4 851.7 L267 848.2 L267.6 840.8 L268 840.8 L268.2 849.9 L268.8 840 L269.4 842.9 L270 843.1 L270 848.3 L270.6 845.5 L271.2 839.2 L271.8 832.5 L272 834.9 L272.4 836 L273 828.7 L273.6 833.3 L274.2 826.1 L274.8 827.3 L275 824.6 L275.4 827.3 L276 832.6 L276.6 836.5 L277 841.3 L277.2 846.7 L277.8 840.3 L278.4 830.3 L279 824.8 L279.6 818.1 L280 823.9 L280.2 811.4 L280.8 817.7 L281.4 811.9 L282 811 L282 810.4 L282.6 822.4 L283.2 826 L283.8 835.5 L284 838.2 L284.4 845.5 L285 870.2 L285 864 L285.6 872.3 L286.2 878 L286.8 880.9 L287 881.4 L287.4 882.9 L288 885.7 L288.6 883.7 L289.2 887.2 L289.8 893.4 L290 886.1 L290.4 881.4 L291 879.4 L291.6 864.5 L292 867.2 L292.2 859.6 L292.8 851.6 L293.4 842.6 L294 838.2 L294.6 821.9 L295 817.1 L295.2 819.6 L295.8 818.1 L296.4 811.3 L297 811.6 L297.6 809.6 L298 808.8 L298.2 801.3 L298.8 803 L299.4 805.9 L300 810.5 L300 807.8 L300.6 809.8 L301.2 809.6 L301.8 799.2 L302.4 803.8 L303 801.1 L303 793.7 L303.6 807.2 L304.2 814.2 L304.8 812 L305 811.9 L305.4 819 L306 817.4 L306.6 820.2 L307.2 821.6 L307.8 828.1 L308 817.8 L308.4 825.7 L309 818 L309.6 819.4 L310 811.8 L310.2 814.5 L310.8 817.8 L311.4 817.6 L312 821.9 L312.6 826.4 L313 827.8 L313.2 826.5 L313.8 820.1 L314.4 827.9 L315 829.9 L315 826.3 L315.6 824 L316.2 833.1 L316.8 832.3 L317.4 834.2 L318 836.8 L318.6 834.7 L319.2 835.5 L319.8 837.9 L320 836.5 L320.4 838.2 L321 839.4 L321.6 842.2 L322.2 849.3 L322.8 838.6 L323.4 844.7 L324 853.7 L324.6 851.5 L325 852.5 L325.2 846.1 L325.8 850.7 L326.4 855.3 L327 852.9 L327.6 851.5 L328.2 861.3 L328.8 865.5 L329.4 861.7 L330 864.3 L330 873 L330.6 866.8 L331.2 863.2 L331.8 870.4 L332 869.6 L332.4 867.3 L333 866 L333.6 863.6 L334.2 855.9 L334.8 863.3 L335 859.5 L335.4 859.3 L336 866 L336.6 859.9 L337.2 864.4 L337.8 872.4 L338 868.3 L338.4 871.2 L339 878 L339.6 878.9 L340 878.4 L340.2 883.6 L340.8 870.7 L341.4 864.5 L342 864.2 L342 862.1 L342.6 866.1 L343.2 871.9 L343.8 880.4 L344 884.7 L344.4 891 L345 895.7 L345.6 901.5 L346 908.9 L346.2 905.9 L346.8 907.9 L347.4 906.2 L348 907.4 L348.6 910.7 L349.2 911.2 L349.8 913.7 L350 912.5 L350.4 912.4 L351 911.3 L351.6 909.4 L352.2 908 L352.8 908.1 L353.4 907.4 L354 906.6 L354.6 904.1 L355 904.3 L355.2 905.6 L355.8 907.5 L356.4 909.1 L357 909.2 L357.6 911.9 L358 913.2 L358.2 911.7 L358.8 914 L359.4 914.4 L360 912.9 L360.6 914.2 L361.2 913.8 L361.8 915.1 L362.4 915.1 L363 914.1 L363.6 914.7 L364.2 917.4 L364.8 917 L365 916.4 L365.4 916.6 L366 915.7 L366.6 915.7 L367.2 915.6 L367.8 915.9 L368.4 916.6 L369 915.9 L369.6 916.2 L370.2 915.2 L370.8 916.3 L371.4 917 L372 916.6 L372.6 916.2 L373.2 917.4 L373.8 915.5 L374.4 915.8 L375 915.1 L375.6 916.7 L376.2 918 L376.8 916.5 L377.4 917.5 L378 917.2 L378.6 918.6 L379.2 917 L379.8 918.8 L380 918.2 L380.4 916.6 L381 917.4 L381.6 916.7 L382.2 917 L382.8 917.3 L383.4 917.6 L384 916.6 L384.6 916.9 L385.2 916.5 L385.8 916.3 L386.4 917.2 L387 916.9 L387.6 917.2 L388.2 917.3 L388.8 918 L389.4 917.7 L390 916.6 L390.6 918.2 L391.2 915.9 L391.8 916.4 L392.4 916.2 L393 917 L393.6 917.6 L394.2 916.4 L394.8 918.5 L395.4 916.1 L396 917.1 L396.6 917.6 L397.2 916.5 L397.8 916.8 L398.4 917.1 L399 917.6 L399.6 916.8 L400.2 917.2 L400.8 917 L401.4 916.9 L402 917.3 L402.6 917.5 L403.2 916.3 L403.8 917.8 L404.4 916 L405 916.3 L405.6 917.9 L406.2 915.3 L406.8 916 L407.4 917.8 L408 917.9 L408.6 916.6 L409.2 916.8 L409.8 916.9 L410.4 917.4 L411 918.8 L411.6 917.1 L412.2 916.9 L412.8 918 L413.4 916.7 L414 918 L414.6 917.8 L415.2 916.4 L415.8 916.9 L416.4 917.5 L417 916.9 L417.6 917.5 L418.2 916.3 L418.8 917 L419.4 917 L420 916.6 L420.6 917.5 L421.2 917.2 L421.8 916.7 L422.4 917.9 L423 916.8 L423.6 916.1 L424.2 916.9 L424.8 916.5 L425.4 916.6 L426 918.5 L426.6 918.3 L427.2 917.1 L427.8 917.8 L428.4 916.4 L429 917.3 L429.6 917.8 L430.2 916.9 L430.8 917.5 L431.4 917.8 L432 917.4 L432.6 916 L433.2 918.8 L433.8 918 L434.4 917.7 L435 915.7 L435.6 916.7 L436.2 917.9 L436.8 916.8 L437.4 917.3 L438 917.6 L438.6 916.6 L439.2 917.4 L439.8 917.4 L440.4 917.8 L441 916.8 L441.6 916.1 L442.2 917.1 L442.8 916.6 L443.4 917.7 L444 916.7 L444.6 916.8 L445.2 917.8 L445.8 916.6 L446.4 918.7 L447 917.4 L447.6 917.1 L448.2 916.9 L448.8 918.3 L449.4 917.4 L450 917.1 L450 917.3 L450.6 917 L451.2 917.4 L451.8 918.5 L452.4 917.4 L453 918.4 L453.6 917.8 L454.2 917 L454.8 916.9 L455.4 917.9 L456 918.3 L456.6 917.9 L457.2 918 L457.8 916.4 L458.4 915.9 L459 915.6 L459.6 917 L460.2 916.4 L460.8 917.6 L461.4 917.4 L462 916.9 L462.6 916.9 L463.2 918.9 L463.8 917.3 L464.4 917.1 L465 917.4 L465.6 916.8 L466.2 916.6 L466.8 917.3 L467.4 918.3 L468 917.4 L468.6 917.8 L469.2 917.4 L469.8 918.4 L470.4 918.5 L471 917.9 L471.6 917.1 L472.2 916.7 L472.8 917.7 L473.4 919.1 L474 919.6 L474.6 917.2 L475.2 916.3 L475.8 917.4 L476.4 917 L477 917.3 L477.6 917.6 L478.2 917.6 L478.8 917.3 L479.4 917.4 L480 917.5 L480.6 918.9 L481.2 916.7 L481.8 918.3 L482.4 917.1 L483 916.6 L483.6 917.6 L484.2 918.1 L484.8 917.2 L485.4 918.5 L486 917.7 L486.6 917.1 L487.2 916.3 L487.8 918.5 L488.4 917.9 L489 918 L489.6 917.3 L490.2 917.9 L490.8 917.1 L491.4 918.1 L492 916.8 L492.6 916 L493.2 917.3 L493.8 917.4 L494.4 917.9 L495 917.6 L495.6 917.8 L496.2 918.3 L496.8 916.7 L497.4 917.3 L498 918.3 L498.6 918.1 L499.2 918 L499.8 916.5 L500.4 917.3 L501 918.5 L501.6 917.5 L502.2 917.6 L502.8 917.1 L503.4 916.6 L504 917.6 L504.6 916.6 L505.2 919.3 L505.8 916.8 L506.4 917.7 L507 918.1 L507.6 917.6 L508.2 918.1 L508.8 917.7 L509.4 917.4 L510 916.7 L510.6 917.1 L511.2 918 L511.8 917.2 L512.4 917.8 L513 916.8 L513.6 918.2 L514.2 918.2 L514.8 917.2 L515.4 916.1 L516 917.8 L516.6 917.4 L517.2 918.9 L517.8 916.1 L518.4 917 L519 917.9 L519.6 917.4 L520.2 916.1 L520.8 917.3 L521.4 918.4 L522 917.3 L522.6 918 L523.2 918.3 L523.8 917.6 L524.4 917.9 L525 915.9 L525.6 917.3 L526.2 918.4 L526.8 916 L527.4 917.1 L528 917.8 L528.6 917.5 L529.2 918.5 L529.8 917.6 L530.4 917.2 L531 916.4 L531.6 916.8 L532.2 917.7 L532.8 917.6 L533.4 916.7 L534 918.3 L534.6 917.2 L535.2 917.9 L535.8 916.6 L536.4 917.1 L537 917.2 L537.6 917.3 L538.2 916.5 L538.8 916.7 L539.4 917.4 L540 918.5 L540.6 916.8 L541.2 917.4 L541.8 917.5 L542.4 917 L543 916.5 L543.6 918.6 L544.2 917.3 L544.8 917.9 L545.4 917.5 L546 917.8 L546.6 916.6 L547.2 916.9 L547.8 916.2 L548.4 916.4 L549 917.9 L549.6 917.5 L550.2 916.4 L550.8 916.8 L551.4 916.6 L552 918.6 L552.6 917 L553.2 917.8 L553.8 917.1 L554.4 916.5 L555 918.8 L555.6 918.4 L556.2 916.9 L556.8 917.6 L557.4 918.1 L558 917.4 L558 917.6" stroke="#008000" stroke-width="1.6" fill="none" stroke-linejoin="round" stroke-linecap="round" clip-path="url(#ca4)"/>
<path d="M603 919.1 L603.6 918.1 L604.2 916.3 L604.8 917.9 L605.4 919.2 L606 916.8 L606.6 916.4 L607.2 917.3 L607.8 918.3 L608.4 917.3 L609 918.5 L609.6 917.2 L610.2 917.2 L610.8 918.5 L611.4 918.2 L612 917.6 L612.6 918.7 L613.2 917.9 L613.8 917 L614.4 917.8 L615 917.1 L615.6 917.3 L616.2 917.7 L616.8 918.2 L617.4 918.2 L618 917.8 L618.6 919 L619.2 918.6 L619.8 917.1 L620.4 918.3 L621 918.2 L621.6 917.4 L622.2 916.5 L622.8 918.3 L623.4 918.1 L624 916 L624.6 918.6 L625.2 919.1 L625.8 918.1 L626.4 917.9 L627 917.3 L627.6 917 L628.2 917.4 L628.8 917.6 L629.4 918.5 L630 917.8 L630.6 918.3 L631.2 916.8 L631.8 918.3 L632.4 918.6 L633 918.2 L633.6 917.1 L634.2 917.1 L634.8 918.5 L635.4 917 L636 918.1 L636.6 918.5 L637.2 917.2 L637.8 917.8 L638.4 918.7 L639 918.3 L639.6 919.1 L640.2 917.3 L640.8 917.7 L641.4 917.3 L642 917.9 L642.6 919 L643.2 916.3 L643.8 918.6 L644.4 917.3 L645 918.2 L645.6 918.5 L646.2 918.8 L646.8 918.2 L647.4 917.2 L648 918.3 L648.6 917.1 L649.2 917.7 L649.8 918.2 L650.4 918.2 L651 919.2 L651.6 917.9 L652.2 917.6 L652.8 918.7 L653.4 917.9 L654 917.7 L654.6 917.4 L655.2 917.5 L655.8 918.2 L656.4 918.4 L657 917.5 L657.6 918.6 L658.2 917.5 L658.8 918 L659.4 919 L660 917.4 L660.6 917 L661.2 918.3 L661.8 918.3 L662.4 917.9 L663 918.1 L663.6 917.9 L664.2 917.9 L664.8 917.8 L665.4 918.2 L666 916 L666.6 918.1 L667.2 918.4 L667.8 918.1 L668.4 917.3 L669 918.6 L669.6 918.2 L670.2 917.7 L670.8 918 L671.4 918.6 L672 918.4 L672.6 918.4 L673.2 918.1 L673.8 919.8 L674.4 918.5 L675 918.5 L675.6 918.7 L676.2 918.9 L676.8 917.8 L677.4 916.5 L678 918.5 L678.6 919.1 L679.2 918.9 L679.8 917.4 L680.4 918.3 L681 918.3 L681.6 917.8 L682.2 918.7 L682.8 918.5 L683.4 918.2 L684 917.7 L684.6 919 L685.2 917.6 L685.8 918.9 L686.4 917.1 L687 918.6 L687.6 917.9 L688.2 919.5 L688.8 918.9 L689.4 918.3 L690 918.4 L690.6 918.9 L691.2 918.4 L691.8 918.4 L692.4 918.6 L693 919.4 L693.6 918.5 L694.2 918.8 L694.8 917.1 L695.4 918.7 L696 918.8 L696.6 918 L697.2 917.8 L697.8 918.2 L698.4 917.1 L699 919.2 L699.6 917.9 L700 918.6 L700.2 918.6 L700.8 918.6 L701.4 918.6 L702 919.2 L702.6 917.1 L703.2 919.5 L703.8 919.4 L704.4 917.9 L705 919.8 L705.6 918.4 L706.2 919.2 L706.8 917.9 L707.4 917.6 L708 917.1 L708.6 917.6 L709.2 918.8 L709.8 918.3 L710.4 917.3 L711 918.7 L711.6 918.7 L712.2 917.8 L712.8 918.4 L713.4 918.3 L714 918.1 L714.6 917.3 L715.2 917.5 L715.8 917.7 L716.4 918.4 L717 917.8 L717.6 917.3 L718.2 917.1 L718.8 918 L719.4 917.7 L720 917.6 L720 916.9 L720.6 918.2 L721.2 918.4 L721.8 918.1 L722.4 916.1 L723 917.8 L723.6 916.7 L724.2 917 L724.8 917.4 L725.4 916.7 L726 916.8 L726.6 917 L727.2 918.3 L727.8 917.4 L728.4 916.8 L729 916.6 L729.6 917.5 L730.2 917 L730.8 916.9 L731.4 915.8 L732 916.2 L732.6 917.1 L733.2 915.8 L733.8 917.1 L734.4 915.5 L735 916.6 L735.6 915.9 L736.2 915.2 L736.8 914.6 L737.4 916.1 L738 917.9 L738.6 916.3 L739.2 916.1 L739.8 915.8 L740 916.3 L740.4 915.2 L741 914.8 L741.6 916.1 L742.2 916.5 L742.8 915.6 L743.4 915.6 L744 914 L744.6 915.2 L745.2 915.2 L745.8 914.2 L746.4 915.9 L747 914.5 L747.6 916 L748.2 915.5 L748.8 916.4 L749.4 914.2 L750 915.2 L750.6 913.2 L751.2 914.8 L751.8 914.3 L752.4 914.2 L753 913.7 L753.6 913.8 L754.2 914.6 L754.8 913.6 L755.4 914.5 L756 913.9 L756.6 913.5 L757.2 913.5 L757.8 913.9 L758.4 913.2 L759 914.3 L759.6 914.1 L760 914.6 L760.2 913.2 L760.8 914.4 L761.4 913.3 L762 913.9 L762.6 912.1 L763.2 914.4 L763.8 912.9 L764.4 912.9 L765 914.2 L765.6 913.5 L766.2 914.1 L766.8 913.8 L767.4 914.3 L768 913.2 L768.6 913 L769.2 912.6 L769.8 913.3 L770.4 914 L771 913.4 L771.6 913.3 L772.2 912.7 L772.8 912.3 L773.4 913.1 L774 913 L774.6 913.1 L775.2 911.5 L775.8 913.6 L776.4 911.8 L777 913.6 L777.6 913.1 L778.2 912.5 L778.8 912 L779.4 911.2 L780 912.9 L780 911.6 L780.6 912.8 L781.2 911.2 L781.8 912.4 L782.4 911.5 L783 910.4 L783.6 911.7 L784.2 913.2 L784.8 909.9 L785.4 910.9 L786 911.3 L786.6 910.9 L787.2 912.3 L787.8 910.5 L788.4 910.3 L789 909.3 L789.6 909.1 L790 911.1 L790.2 909.4 L790.8 909.3 L791.4 910.2 L792 908.8 L792.6 910.8 L793.2 908.6 L793.8 909.1 L794.4 909.5 L795 909.3 L795.6 909.1 L796.2 908.6 L796.8 909.7 L797.4 909.4 L798 907.6 L798.6 909.8 L799.2 908.7 L799.8 907.7 L800 907.7 L800.4 908.6 L801 903.6 L801.6 900.2 L802.2 898.2 L802.8 895.6 L803 892.7 L803.4 891.8 L804 887.1 L804.6 886.8 L805 886.7 L805.2 888.4 L805.8 890.4 L806.4 882.9 L807 885.4 L807.6 884.5 L808.2 893.3 L808.8 890.5 L809.4 890.1 L810 887.5 L810 892.6 L810.6 886.7 L811.2 893.4 L811.8 891.3 L812.4 891.8 L813 891.3 L813.6 895 L814.2 894 L814.8 895.3 L815 897.9 L815.4 891.8 L816 891.1 L816.6 890.6 L817.2 888.9 L817.8 885.6 L818 891.7 L818.4 886.6 L819 881.7 L819.6 878.6 L820 880.6 L820.2 880.7 L820.8 885.5 L821.4 892.1 L822 895.6 L822 897.3 L822.6 893.4 L823.2 899.9 L823.8 900.3 L824.4 901.3 L825 903.1 L825 895.1 L825.6 899.5 L826.2 900.3 L826.8 893.3 L827.4 897.2 L828 898.4 L828.6 896.4 L829.2 898.5 L829.8 899.1 L830 897.1 L830.4 895.8 L831 896.2 L831.6 897.9 L832.2 897.9 L832.8 889.8 L833.4 892 L834 899.3 L834.6 898.1 L835 895.3 L835.2 894.9 L835.8 893.1 L836.4 899.1 L837 894.7 L837.6 892.7 L838.2 893.5 L838.8 895.9 L839.4 891.3 L840 891.7 L840 892.2 L840.6 889.7 L841.2 894 L841.8 898.5 L842.4 897.4 L843 895.9 L843.6 897.8 L844.2 895.7 L844.8 900.6 L845 900.2 L845.4 895.3 L846 894.3 L846.6 897.3 L847.2 900.1 L847.8 900.5 L848.4 898.1 L849 896.3 L849.6 891.5 L850 896.3 L850.2 894.4 L850.8 891.9 L851.4 893.9 L852 886.9 L852.6 892.4 L853.2 893.7 L853.8 888.1 L854.4 894.3 L855 895 L855 892.2 L855.6 888.7 L856.2 891 L856.8 892.1 L857.4 889 L858 893 L858.6 893 L859.2 890.5 L859.8 890.3 L860 890 L860.4 886 L861 880.4 L861.6 880.2 L862 882.4 L862.2 881.4 L862.8 890.6 L863.4 889.6 L864 888.2 L864.6 888.6 L865 890.2 L865.2 892.2 L865.8 894.1 L866.4 896.1 L867 888.2 L867.6 893.8 L868.2 888.7 L868.8 889.9 L869.4 890.9 L870 893.4 L870 891.9 L870.6 888.3 L871.2 888.8 L871.8 893.2 L872.4 892.7 L873 892.2 L873.6 889.9 L874.2 887.9 L874.8 889.6 L875.4 889.8 L876 892.1 L876.6 896 L877.2 891.6 L877.8 901.7 L878.4 893.5 L879 894.2 L879.6 893.9 L880 893.4 L880.2 895.6 L880.8 896 L881.4 896.7 L882 893.9 L882.6 891.4 L883.2 896.7 L883.8 894.1 L884.4 894.1 L885 893.9 L885.6 896.8 L886.2 897.6 L886.8 899.6 L887.4 903.6 L888 895.3 L888.6 901.6 L889.2 900 L889.8 900.8 L890 900.9 L890.4 897.2 L891 900.7 L891.6 900.6 L892.2 900.1 L892.8 907 L893.4 901.6 L894 901.3 L894.6 904.6 L895.2 898.5 L895.8 903.6 L896.4 904.7 L897 900.9 L897.6 900 L898.2 899.6 L898.8 900.2 L899.4 901.9 L900 900.5 L900 902.3" stroke="#008000" stroke-width="1.6" fill="none" stroke-linejoin="round" stroke-linecap="round" clip-path="url(#ca4)"/>
<path d="M98 1132.5 L107 1131.6 L119 1129.5 L128 1129.5 L134 1135.6 L141.5 1128 L149 1126.5 L161 1129.5 L173 1123.5 L182 1129.5 L188 1137.6 L197 1129.5 L206 1132.5 L215 1129.5 L224 1131 L233 1135.6 L242 1141.6 L251 1146 L260 1152 L269 1156.6 L278 1158 L287 1165.6 L296 1173 L305 1170 L314 1175.5 L323 1177.6 L332 1174.6 L341 1179 L350 1180.6 L357.7 1185 L365 1182 L374 1183.6 L383 1180.6 L390 1182 L402 1185 L412.5 1193.5 L423 1183.6 L430.5 1191 L439.5 1180.6 L450 1176 L459 1173 L468 1167 L477 1170.7 L486 1168.6 L495 1170 L504 1167 L513 1163.5 L522 1168.6 L531 1170 L540 1179 L549 1185 L558 1188.7 L567 1191 L576 1192.6 L585 1195.6 L594 1197 L603 1199.5 L612 1194 L618 1209 L627 1200 L636 1206 L648 1209 L660 1212 L675 1204.6 L680 1208.3 L683.4 1216 L690 1212.8 L702.5 1202.6 L708 1203.8 L715 1198 L720.5 1200.4 L727.3 1195.2 L734 1200.4 L740.8 1199.3 L752 1195.2 L763.7 1205 L771 1200.4 L776.8 1200.4 L788 1205 L794.8 1201 L801.5 1212.3 L807 1211.6 L814 1205.6 L819.5 1211.6 L825.8 1208.7 L832 1219 L837.5 1210.5 L844.3 1205 L851 1212.8 L856.6 1217.3 L862.3 1205 L869 1211.6 L875.3 1205 L881.4 1209.4 L887 1209.4 L893.3 1203.3 L898.7 1208.3" stroke="#ff00ff" stroke-width="2.8" fill="none" stroke-linejoin="round" stroke-linecap="round" clip-path="url(#cb0)"/>
<path d="M98 1117.5 L104 1129.5 L110 1123.5 L116 1125 L122 1121.4 L128 1120.5 L134 1133.5 L140 1112.4 L146 1125 L153.6 1117.5 L164 1128 L170 1122 L177.6 1113 L185 1129.5 L189.6 1140 L197 1134 L203 1128 L208.5 1141.6 L215 1127.4 L222.6 1128 L230 1129.5 L237.6 1138.6 L243.6 1135.6 L249.6 1133.5 L257 1137 L264.7 1147.6 L272 1145.5 L282.7 1141.6 L290 1146 L296 1158.7 L302 1158.7 L307.6 1150.6 L312.7 1168.6 L318.7 1161 L326 1165.6 L332 1161.7 L337.6 1158.7 L344 1170.7 L350.8 1167 L356 1176 L361.7 1168.6 L368 1176 L375.8 1175.5 L383 1177.6 L387.8 1174.6 L394.5 1192.6 L402 1183.6 L412.5 1191 L422.4 1186.6 L430.5 1205.5 L438 1184.5 L444 1190.5 L451.6 1183.6 L459 1186.6 L466.6 1174.6 L473.5 1172.5 L480 1168.6 L486 1161.7 L492 1187.5 L498 1165.6 L504 1186.6 L516 1182 L523.6 1189.6 L529.6 1183.6 L535.6 1186.6 L542.5 1198.6 L549 1191.7 L558 1194 L567 1198.6 L574.7 1200 L585 1220.5 L590.6 1209 L597 1219.6 L603 1226.5 L610.7 1211.5 L615.8 1223.5 L622.7 1221 L630 1213.6 L639 1227 L646.7 1235.6 L654 1235.6 L664.8 1241.6 L670.8 1233 L676.8 1225.6 L683.4 1241.6 L689 1234 L695.8 1228.5 L702.5 1214 L708 1224 L715 1212.8 L720.5 1219.5 L727.3 1210.5 L734 1228.5 L739.6 1229.6 L751.6 1220.6 L757.6 1233 L764.4 1234.8 L770.5 1244.7 L776.8 1234 L782.4 1242 L789 1236.4 L795.2 1227.4 L801.5 1235.3 L807 1244.3 L814 1234 L819.5 1235.3 L825.8 1228.5 L832 1241 L838.6 1230.3 L844.7 1226.3 L850.6 1250 L857.3 1230.8 L863.4 1224 L869 1226.3 L875.3 1230.8 L881.4 1242 L887 1234 L893.3 1219.5 L898.7 1226.3" stroke="#008000" stroke-width="2.8" fill="none" stroke-linejoin="round" stroke-linecap="round" clip-path="url(#cb0)"/>
<path d="M98 1128 L107 1131 L113 1134 L120.5 1141.6 L128 1123.5 L134 1123.5 L140 1131 L146.6 1117.5 L152.7 1126.5 L159.6 1118.4 L167 1126.5 L176 1119 L183.6 1125 L189.6 1137 L197 1121.4 L202.5 1125 L209 1137 L215 1129.5 L221 1122.6 L227 1128 L233 1132.5 L239 1149 L245 1143 L251 1156.6 L257 1153.6 L263 1161 L270.7 1168.6 L276.7 1160.5 L284 1171.6 L291.7 1177.6 L299 1179 L306.7 1182 L312.7 1180.6 L320 1183.6 L325.6 1189.6 L332 1176 L338 1183.6 L344 1166.5 L351.7 1186.6 L357.7 1176 L365 1183.6 L375.8 1188 L387.8 1194 L397.5 1184.5 L405 1186.6 L411.6 1194 L418.5 1179 L424.5 1183.6 L430.5 1185.7 L438 1176 L447 1170 L454.6 1179 L459.7 1170 L466.6 1158.7 L473.5 1175.5 L480 1168.6 L486 1163.5 L492 1177.6 L498 1162.6 L504 1179 L510.7 1150.6 L516 1158 L523.6 1165.6 L529.6 1160.5 L536.5 1185 L541.6 1176 L547.7 1191 L553.7 1198.6 L559.7 1203 L567 1213.6 L573.8 1197 L582 1196.5 L589.7 1204.6 L596.6 1188.7 L603.8 1196.5 L610.7 1187.5 L616.7 1207.6 L622.7 1218 L628.7 1210.6 L634.7 1206 L640.7 1215.7 L646.7 1198.6 L653.7 1210.6 L661.8 1213.6 L670.8 1206 L678 1197 L680 1199.3 L689 1211.6 L695.8 1207 L702.5 1200.4 L708 1185.8 L713.8 1179 L720.5 1190.3 L726.8 1167.8 L731.8 1171 L739.6 1179 L751.6 1184 L758.3 1172.3 L763.7 1184 L771 1174.5 L776.8 1171 L782.4 1181.3 L788 1185.8 L794.8 1185.3 L801.5 1197 L807 1192.5 L814 1201.5 L819.5 1198 L825 1201.5 L832 1210.5 L838.6 1214 L845.4 1216 L851 1210.5 L856.6 1219.5 L862.3 1212.8 L869 1214 L875.3 1182.4 L881.4 1199.3 L887 1207 L893.3 1198 L898.7 1206" stroke="#0000ff" stroke-width="2.8" fill="none" stroke-linejoin="round" stroke-linecap="round" clip-path="url(#cb0)"/>
<path d="M98 1144.5 L102.5 1134 L109.4 1160.5 L114.5 1132.5 L122 1147.6 L127.4 1155 L134 1149.7 L140 1149 L146 1150.6 L152.7 1138.6 L158.7 1152 L165.6 1105.5 L171.6 1122 L177.6 1146 L185 1146.7 L191 1143.7 L197 1147.6 L203 1143.7 L208.5 1125 L213.6 1138.6 L219.6 1132.5 L225.6 1133.5 L233 1149.7 L239 1152 L245 1161.7 L251 1128 L257 1150.6 L263.8 1170 L269.8 1146.7 L275 1186.6 L281 1182 L287 1179 L293 1186.6 L300.7 1203 L306.7 1176 L312.7 1171.6 L318.7 1182 L324.7 1185 L330.7 1170 L337.6 1203 L344 1174.6 L350 1188 L356 1192.6 L365 1192.6 L374 1188 L380 1183.6 L387.7 1177.6 L390 1177.6 L396 1182 L405 1168.6 L411.6 1209.7 L417 1192.6 L424.5 1174.6 L430.5 1183.6 L438 1179 L444 1188.7 L453 1154.5 L460.6 1168.6 L467.5 1151.5 L473.5 1176 L479.5 1143.7 L486 1175.5 L492 1177.6 L499.6 1152 L505.6 1143 L511.6 1144.6 L517 1125 L523.6 1167 L529.6 1141.6 L535.6 1143 L541.6 1131 L552 1126.5 L561 1129.5 L570 1135.6 L578.6 1150.6 L585 1143 L591 1140.6 L600 1147.6 L607.7 1156.6 L614.6 1160.5 L621.8 1144.6 L628.7 1152 L634.7 1143 L642 1152 L648 1159.6 L653.7 1165.6 L660 1148.5 L666 1158 L672 1170 L678 1165.6 L680 1166.6 L689 1172 L696.2 1157.6 L702.5 1179 L708 1183.5 L715 1160 L720.5 1174.5 L726 1178 L733 1162 L739.6 1160 L745 1157.6 L752 1154 L758.8 1153 L764.4 1154 L770.5 1148.6 L776.8 1154 L783.5 1155.4 L790 1156.5 L796 1162 L801.5 1165.5 L807 1154 L814 1153 L819.5 1165.5 L825 1174.5 L832 1185.8 L837.5 1176.8 L844 1164.4 L851 1180 L856.6 1193.6 L862.7 1176.8 L869 1178.6 L874.6 1175.6 L881.4 1164.4 L887 1179 L892.6 1175.6 L898.3 1171.8" stroke="#ff0000" stroke-width="2.8" fill="none" stroke-linejoin="round" stroke-linecap="round" clip-path="url(#cb0)"/>
<path d="M98 1346.3 L99.6 1346.6 L101.2 1346 L102.8 1346.5 L104.4 1345.6 L106 1345.6 L107 1344.3 L107.6 1344.4 L109.2 1346.1 L110.8 1346.1 L112.4 1347.6 L113 1348.7 L114 1349.1 L115.6 1349 L117.2 1349.3 L118.8 1350.6 L119 1349 L120.4 1348.8 L122 1348.8 L123.6 1346.8 L125 1345.1 L125.2 1344 L126.8 1344.4 L128.4 1344.5 L130 1344.8 L131.6 1345 L133.2 1344.5 L134 1345.1 L134.8 1344.3 L136.4 1344 L138 1346.9 L139.6 1344.9 L140 1346 L141.2 1346.7 L142.8 1344.8 L144.4 1343.8 L146 1343.4 L146 1344.8 L147.6 1344.2 L149.2 1343.4 L150.8 1343.7 L152.4 1344 L154 1343.4 L155 1344.9 L155.6 1344.4 L157.2 1344.6 L158.8 1344.3 L160.4 1343.7 L162 1344.7 L163.6 1345.3 L165.2 1343.5 L166.8 1344.8 L167 1342.5 L168.4 1343.6 L170 1343.9 L171.6 1343.9 L173.2 1343.2 L174.8 1345.1 L176.4 1344.7 L178 1344.8 L179 1342.7 L179.6 1343.9 L181.2 1344.1 L182.8 1345.5 L184.4 1345.8 L186 1345.8 L187.6 1344.8 L188 1347 L189.2 1345.1 L190.8 1345.6 L192.4 1344.3 L194 1343.8 L195.6 1343.2 L197 1342.2 L197.2 1341.2 L198.8 1341.8 L200.4 1341.2 L202 1341.3 L203.6 1339.4 L205.2 1340 L206 1339.3 L206.8 1340.7 L208.4 1338.6 L210 1337 L211.6 1337.2 L213.2 1337.4 L214.8 1336.6 L215 1335.7 L216.4 1335.6 L218 1335.4 L219.6 1336.7 L221.2 1336.8 L222.8 1337 L224.4 1334.8 L226 1336.6 L227 1336.8 L227.6 1337.9 L229.2 1336.8 L230.8 1336.3 L232.4 1336.4 L234 1336.3 L235.6 1337.1 L237.2 1335.1 L238.8 1333.5 L239 1334.7 L240.4 1335.9 L242 1335.3 L243.6 1335.1 L245.2 1335.3 L246.8 1335.4 L248.4 1334.8 L250 1334.9 L251 1333.7 L251.6 1334.6 L253.2 1333.8 L254.8 1333.6 L256.4 1334.6 L258 1332.7 L259.6 1333.6 L261.2 1334.9 L262.8 1333.6 L263 1333.6 L264.4 1328.4 L266 1321.2 L266 1317.3 L267.6 1304.3 L268.6 1295.1 L269.2 1298.8 L270.7 1302.6 L270.8 1300 L272.4 1293.4 L272.8 1290.9 L274 1297.7 L275 1305 L275.6 1305.1 L277.2 1312.4 L278 1312.1 L278.8 1311.7 L280.4 1310.7 L280.6 1304.6 L282 1321.7 L282.7 1326.4 L283.6 1303.8 L284.8 1276.7 L285.2 1279.4 L286.8 1278 L288.4 1279 L290 1275.4 L290 1276.3 L291.6 1280.1 L293.2 1273 L293.8 1274.1 L294.8 1270.1 L295.6 1265.8 L296.4 1267.5 L297.7 1281.3 L298 1282.3 L299.6 1286.9 L301.2 1287.7 L302 1290.4 L302.8 1292.4 L304.4 1299.4 L306 1299.7 L306.7 1300.9 L307.6 1302 L309.2 1306.4 L310.8 1309.8 L311 1306.5 L312.4 1315.2 L314 1312.6 L315.6 1316 L315.7 1316.5 L317.2 1314.6 L318.8 1318 L320.4 1319.1 L320.8 1318.2 L322 1314.1 L323.6 1303.8 L325.2 1296.4 L325.6 1296.6 L326.8 1302.3 L328.4 1312.3 L329 1310.4 L330 1303.2 L331.6 1296.1 L333.2 1286.6 L333.7 1283 L334.8 1283.4 L336.4 1286.5 L338 1284.6 L339.6 1282 L339.7 1285.3 L341.2 1294.9 L342.8 1304.2 L344 1316.2 L344.4 1313.8 L346 1305 L347.6 1298.8 L348.7 1295.7 L349.2 1295.3 L350.8 1293.3 L352.4 1297.6 L354 1294.4 L355.6 1297.6 L356 1295.1 L357.2 1300.1 L358.8 1304.3 L360.4 1311.3 L360.8 1315.7 L362 1315.6 L363.6 1319.4 L365 1325.6 L365.2 1316.6 L366.8 1319.5 L368.4 1319.1 L369.8 1311.8 L370 1315.8 L371.6 1319 L373.2 1323.7 L373.7 1328 L374.8 1321 L376.4 1312.8 L378 1306.8 L378.8 1302.9 L379.6 1308.1 L381.2 1315.9 L382.8 1317.5 L383.3 1321.8 L384.4 1316 L386 1318.4 L387.6 1317.5 L389.2 1318.2 L389.3 1317.7 L390 1318 L390.8 1313.9 L392.4 1317.9 L394 1317 L395.6 1318.6 L397.2 1315.8 L398.8 1317.4 L399 1317.9 L400.4 1317.1 L402 1316.9 L403.6 1317.5 L405.2 1317.4 L406.8 1318.6 L408 1318.5 L408.4 1317.8 L410 1317.4 L411.6 1319.1 L412.5 1320.9 L413.2 1320 L414.8 1318 L416.4 1314.4 L417 1315.6 L418 1317.9 L419.6 1314.1 L421.2 1314.8 L422.8 1312.2 L424.4 1310.4 L424.5 1311.1 L426 1312.5 L427.6 1311.6 L429.2 1311.5 L430.8 1310.4 L432.4 1310.8 L433.5 1310.7 L434 1310.7 L435.6 1310.9 L437.2 1310.6 L438.8 1313.6 L440.4 1313.9 L442 1314.1 L442.5 1313 L443.6 1316.1 L445.2 1314.1 L446.8 1316.3 L448.4 1316.5 L450 1315.2 L451.6 1317.1 L453 1319.5 L453.2 1317.4 L454.8 1316.6 L456.4 1317.7 L458 1318.2 L459.6 1319.2 L461.2 1319.6 L462.8 1318.6 L464.4 1318.7 L465 1320.2 L466 1321.2 L467.6 1318.8 L469.2 1320.6 L470.8 1322 L472.4 1320 L474 1321.7 L475.6 1323.4 L477 1323 L477.2 1321.9 L478.8 1324.2 L480.4 1325.5 L482 1325.1 L483.6 1325.9 L485.2 1325.7 L486 1325.6 L486.8 1324 L488.4 1326.4 L490 1327.5 L491.6 1324.9 L492 1325.5 L493.2 1324.7 L494.8 1324.3 L496.4 1322.5 L498 1322.1 L498 1321.6 L499.6 1320.6 L501.2 1322.5 L502.8 1321.6 L504.4 1322.2 L506 1318.8 L507.6 1321.2 L509.2 1320.6 L510 1321.4 L510.8 1323.2 L512.4 1322.3 L514 1322.5 L515.6 1321.8 L517.2 1323.1 L518.8 1324.5 L520.4 1324.6 L522 1322.2 L522 1323.9 L523.6 1324.6 L525.2 1325.6 L526.8 1324 L528.4 1323.8 L530 1325.9 L531.6 1325.7 L533.2 1326.3 L534 1325 L534.8 1326.2 L536.4 1326.4 L538 1326.3 L539.6 1323.7 L541.2 1324.3 L542.8 1325.1 L544.4 1324.1 L546 1323.8 L546 1324.8 L547.6 1322.8 L549.2 1323.8 L550.8 1325.5 L552.4 1323.7 L554 1323.9 L555.6 1325.4 L557.2 1323.6 L558 1324.4 L558.8 1325.3 L560.4 1324.9 L562 1324.5 L563.6 1324.6 L565.2 1324.3 L566.8 1326.1 L568.4 1323.9 L570 1324.3 L570 1325.7 L571.6 1324.2 L573.2 1324.9 L574.8 1322.9 L576.4 1323.1 L578 1326.4 L579 1324.7 L579.6 1323.5 L581.2 1324.1 L582.8 1325.5 L584.4 1326.7 L586 1324.2 L587.6 1326.3 L588 1327.7 L589.2 1326.4 L590.8 1329.3 L592.4 1328.1 L594 1326.9 L595.6 1328.2 L597.2 1328.4 L598.8 1328.7 L600 1327.3 L600.4 1327.7 L602 1326.7 L603.6 1327.3 L605.2 1326.4 L606.8 1326.3 L608.4 1329.2 L610 1328.2 L611.6 1326.9 L612 1326.1 L613.2 1326 L614.8 1326.9 L616.4 1327.7 L618 1328.1 L619.6 1328.4 L621.2 1328.3 L622.8 1328.1 L624 1328.9 L624.4 1328.5 L626 1328.1 L627.6 1326.3 L629.2 1327.2 L630 1327.2 L630.8 1327.1 L632.4 1328.1 L634 1328.3 L635.6 1328.4 L637.2 1327.5 L638.8 1329.3 L640.4 1327.7 L641 1328.9 L642 1330.4 L643.6 1329.9 L645.2 1330.4 L646.8 1329.6 L648.4 1331.6 L650 1331 L651.6 1329.4 L652 1331.7 L653.2 1331.1 L654.8 1329 L656.4 1329.9 L658 1328.3 L659.6 1328.4 L661.2 1327.5 L662.8 1328.2 L663 1329.3 L664.4 1329.1 L666 1330.9 L667.6 1330.5 L669.2 1331.4 L670.8 1331.6 L671.3 1331.1 L672.4 1331.5 L674 1332.7 L675.6 1334.6 L676.8 1336 L677.2 1335.2 L678.8 1335 L680.4 1333.3 L682 1332.1 L682.3 1331.9 L683.6 1332.1 L685.2 1331.9 L686.8 1330.9 L688.4 1330.6 L690 1331.1 L691.6 1327.4 L693.2 1329.1 L693.3 1329.1 L694.8 1327.8 L696.4 1327.1 L698 1328.8 L699.6 1328.5 L701.2 1326.7 L702.8 1326.2 L704.3 1328 L704.4 1326.8 L706 1327 L707.6 1329 L709.2 1328.7 L710.8 1327.9 L712.4 1327.3 L712.5 1327.3 L714 1328.5 L715.6 1327.4 L717.2 1329.2 L718.8 1329.8 L720.4 1329.8 L722 1329.7 L723.5 1329.5 L723.6 1328.7 L725.2 1328.5 L726.8 1329.2 L728.4 1329.4 L730 1328.8 L731.6 1330.2 L733.2 1331.8 L734.5 1331.1 L734.8 1330.5 L736.4 1330.8 L738 1332.5 L739.6 1330.7 L741.2 1332 L742.8 1333.3 L744.4 1331.4 L745.5 1331.8 L746 1332.8 L747.6 1332.8 L749.2 1334.5 L750.8 1333.3 L752.4 1335.1 L752.4 1335.5 L754 1336.3 L755.6 1336.4 L757 1338.7 L757.2 1339.8 L758.8 1338.1 L760.4 1336.7 L762 1333.8 L762 1335.8 L763.6 1332.2 L765.2 1332.3 L766.8 1333.8 L767.5 1331.7 L768.4 1331.9 L770 1332.4 L771.6 1330.4 L773.2 1330.5 L774.4 1331.7 L774.8 1331.4 L776.4 1328.6 L778 1326.1 L779.6 1325.8 L780 1323.6 L781.2 1322.7 L782.8 1324.4 L784.4 1324.2 L786 1324.5 L787.6 1326.2 L789.2 1321.7 L789.5 1323.5 L790.8 1322.8 L792.4 1323.6 L794 1322.7 L795.6 1323.4 L797.2 1323.3 L798.8 1323.5 L800.4 1326.1 L800.5 1325.8 L802 1325.6 L803.6 1325.6 L805.2 1326.4 L806.8 1323.3 L808.4 1324.6 L810 1324.4 L811.6 1326.2 L813.2 1325.6 L814.8 1324.8 L816.4 1326.1 L817 1324.9 L818 1326.5 L819.6 1325.5 L821.2 1326.3 L822.8 1325.6 L824.4 1327 L826 1326.5 L827.6 1327.4 L829.2 1327.9 L830.8 1329.9 L830.8 1327.1 L832.4 1327.4 L834 1327.9 L835.6 1328 L837.2 1329.2 L838.8 1329.4 L840.4 1330 L841.8 1331.1 L842 1329.7 L843.6 1330.9 L845.2 1331 L846.8 1329.9 L848.4 1331 L850 1330.4 L850 1331.1 L851.6 1330.3 L853.2 1330.1 L854.8 1329.2 L856.4 1328.5 L858 1329.1 L858.3 1328.8 L859.6 1326.2 L861.2 1327.3 L862.8 1328.1 L864.4 1327.3 L866 1324.7 L867.6 1325 L869.2 1325.3 L869.3 1323.1 L870.8 1325.8 L872.4 1326.1 L874 1324.6 L875.6 1322.9 L877.2 1324.7 L878.8 1323.6 L880.3 1323.5 L880.4 1322.8 L882 1321.6 L883.6 1321.1 L885.2 1323.1 L886.8 1322.1 L888.4 1322.5 L890 1323.8 L891.6 1322.8 L893.2 1320.5 L894.8 1324 L896.4 1323 L898 1321.8 L898 1322.3" stroke="#ff00ff" stroke-width="2.8" fill="none" stroke-linejoin="round" stroke-linecap="round" clip-path="url(#cb1)"/>
<path d="M98 1384 L99.6 1384.3 L101.2 1385.3 L102.8 1387.5 L104 1385.6 L104.4 1387.7 L106 1384.7 L107.6 1385.8 L109.2 1384.3 L110.8 1385.9 L112.4 1383.8 L113 1383.9 L114 1383.1 L115.6 1382.6 L117.2 1382.1 L118.8 1380 L120.4 1379 L120.5 1379.7 L122 1382.2 L123.6 1383.6 L125 1384.6 L125.2 1385.4 L126.8 1384.4 L128.4 1386.9 L130 1385.6 L131.6 1387.2 L133.2 1385.9 L134 1386 L134.8 1385 L136.4 1388.6 L138 1389.7 L139.6 1389.3 L141.2 1391.5 L142.8 1392 L143 1390.2 L144.4 1385.4 L146 1381.7 L147.6 1375.2 L147.6 1375.6 L149.2 1376.5 L150.8 1376.1 L152.4 1374.4 L153.6 1376.1 L154 1375.1 L155.6 1371.8 L157.2 1369.1 L158.7 1363.6 L158.8 1364.5 L160.4 1374.4 L161 1376.2 L162 1377.4 L163.6 1377.9 L165.2 1376.8 L166.8 1378.6 L168.4 1376.3 L170 1376.2 L170 1378.6 L171.6 1381.9 L173.2 1385.4 L174.8 1388.7 L176 1392.4 L176.4 1391.1 L178 1387 L179.6 1384.1 L180.6 1380.4 L181.2 1381.6 L182.8 1382.4 L184.4 1382.3 L186 1383.1 L187.6 1385.1 L188 1384.5 L189.2 1383.4 L190.8 1385.9 L192.4 1386.7 L194 1386.2 L195.6 1385.6 L197 1386.9 L197.2 1387.3 L198.8 1389.5 L200.4 1386.6 L202 1387.4 L203.6 1386.7 L205.2 1387.4 L206 1385.6 L206.8 1386.7 L208.4 1386.4 L210 1388.2 L211.6 1385.2 L213.2 1384 L214.8 1384.9 L215 1384.1 L216.4 1386.7 L218 1387 L219.6 1386.1 L221 1386.8 L221.2 1386.8 L222.8 1385.4 L224.4 1385.2 L226 1381.2 L227.6 1380.1 L228.6 1380 L229.2 1380.1 L230.8 1384 L232.4 1384.8 L234 1385 L234.6 1387.1 L235.6 1386.4 L237.2 1388.7 L238.8 1390.5 L240.4 1389.8 L242 1389 L243.6 1390.4 L245 1390.5 L245.2 1391.5 L246.8 1392.2 L248.4 1391.2 L250 1391.7 L251.6 1388.4 L253.2 1391 L254 1389.4 L254.8 1390.6 L256.4 1389.4 L258 1391.3 L259.6 1389.8 L261.2 1391.4 L262.8 1391.8 L263 1391.2 L264.4 1389.5 L265.6 1384.5 L266 1391.4 L267.6 1397.2 L269 1396.8 L269.2 1398 L270.8 1399.7 L272.4 1394.7 L274 1394.3 L275 1394.6 L275.6 1396.2 L277.2 1397.2 L278.8 1400.1 L280.4 1399.2 L280.6 1399.3 L282 1406.7 L283.6 1410 L284.8 1417.2 L285.2 1411.8 L286.8 1411.6 L288.4 1399.7 L288.7 1401.1 L290 1395.3 L291.6 1394.9 L292.6 1387.3 L293.2 1395.7 L294.8 1409.3 L296 1428.6 L296.4 1422.5 L298 1398.6 L299.6 1381.1 L300.7 1371.2 L301.2 1368.3 L302.8 1380.1 L304.4 1393.8 L305 1394.4 L306 1396.1 L307.6 1400.8 L309.2 1395.8 L310.8 1399.7 L311 1399.7 L312.4 1396.6 L314 1393.5 L315.6 1397.7 L316.6 1396 L317.2 1403.4 L318.7 1416.1 L318.8 1416.1 L320.4 1401.4 L322 1393.4 L323 1385.6 L323.6 1377.1 L325.2 1378.1 L326.8 1374.6 L328.4 1376.6 L328.6 1370.8 L330 1375.4 L331.6 1385.5 L333.2 1390.1 L333.7 1387.8 L334.8 1388.2 L336.4 1386.7 L338 1377.4 L338 1375.9 L339.6 1380 L341.2 1384 L342.7 1390.7 L342.8 1390.6 L344.4 1388.4 L346 1389.2 L347.6 1389.3 L348.7 1387.6 L349.2 1384.5 L350.8 1386.7 L352.4 1392.1 L353 1391.4 L354 1390.5 L355.6 1375.8 L356 1374.2 L357.2 1380.4 L358.8 1380 L360.4 1381.2 L362 1387.5 L362 1386.8 L363.6 1383.3 L365.2 1378.2 L366.8 1378.2 L368.4 1381.6 L369.8 1375.6 L370 1376.1 L371.6 1376.6 L373.2 1377.7 L374.8 1380.7 L375 1377.4 L376.4 1391.9 L378 1403.7 L378.8 1405.1 L379.6 1400.9 L381.2 1391 L382.8 1387.5 L383.3 1386 L384.4 1380.3 L386 1369.9 L387.6 1363.2 L389.2 1354.4 L389.3 1354.5 L390.8 1355.4 L392.4 1362.4 L394 1364 L394.5 1367.2 L395.6 1368.3 L397.2 1369.5 L398.8 1374.8 L400.4 1376.8 L400.5 1375.3 L402 1377.1 L403.6 1376.3 L405.2 1376.8 L406.8 1375.9 L408 1377.5 L408.4 1376.2 L410 1381.7 L410.4 1381 L411.6 1369.2 L412.5 1359.5 L413.2 1364.2 L414.6 1373 L414.8 1375.2 L416.4 1367 L417 1364.4 L418 1364.9 L419.6 1364.3 L421.2 1361.8 L422.8 1361.7 L423 1362.5 L424.4 1361.4 L426 1360.5 L427.6 1359.5 L429.2 1359.1 L430.8 1359.3 L432 1357.2 L432.4 1358.5 L434 1359.6 L435.6 1360.1 L437.2 1356.6 L438 1357.6 L438.8 1356.4 L440.4 1358.4 L442 1352.9 L443.6 1349.1 L444 1351.8 L445.2 1351.6 L446.8 1351.5 L448.4 1349.4 L450 1349.9 L451.6 1349.1 L453 1348.4 L453.2 1348.8 L454.8 1348.5 L456.4 1350.6 L458 1349.4 L459.6 1350.4 L461.2 1351 L462 1350.5 L462.8 1350.7 L464.4 1350.5 L466 1349.8 L467.6 1349.8 L469.2 1348 L470.8 1349.7 L471 1348.5 L472.4 1349.9 L474 1349.6 L475.6 1349.2 L477 1350.3 L477.2 1351.2 L478.8 1353.5 L480 1355.7 L480.4 1358.4 L482 1366.8 L483 1371.8 L483.6 1373.5 L485.2 1376.9 L486 1377.3 L486.8 1377.3 L488.4 1377.2 L490 1377.9 L491.6 1375.4 L492 1377.8 L493.2 1373.5 L494.8 1368.3 L496.4 1364.1 L496.6 1363.3 L498 1364.9 L499.6 1367 L501.2 1367.3 L502.6 1365.3 L502.8 1364.6 L504.4 1368 L506 1368.4 L507.6 1370.1 L508.6 1371.8 L509.2 1370 L510.8 1372 L512.4 1371.6 L514 1372.7 L514.6 1373.9 L515.6 1379.6 L517.2 1385.9 L517.6 1385.7 L518.8 1385.1 L520.4 1385 L522 1383.9 L523.6 1381.2 L525 1380.5 L525.2 1381 L526.8 1380.2 L528.4 1379 L530 1379.6 L531.6 1378 L533.2 1377.1 L534 1377.8 L534.8 1377.6 L536.4 1378.3 L538 1377.7 L539.6 1376.5 L541.2 1375.3 L542.8 1375.3 L543 1375.4 L544.4 1378.3 L545.6 1383.2 L546 1383.1 L547.6 1378.9 L549.2 1378.8 L550.8 1378.7 L552 1377.7 L552.4 1379.1 L554 1378.3 L555.6 1376.7 L557.2 1376.5 L558.8 1375.3 L560.4 1375.4 L561 1376.5 L562 1375.1 L563.6 1375.4 L565.2 1376.2 L566.8 1377.2 L568.4 1375.9 L570 1377.3 L570 1377.5 L571.6 1378 L573.2 1377.2 L574.8 1377.9 L576.4 1377.8 L578 1376.2 L579.6 1376.3 L581.2 1377.5 L582 1378.4 L582.8 1377.5 L584.4 1376.9 L586 1377.2 L587.6 1379.9 L589.2 1378.7 L590.8 1379.8 L592.4 1381.7 L594 1380.1 L594 1380 L595.6 1379.9 L597.2 1379.9 L598.8 1381 L600.4 1379.6 L602 1377.1 L603 1378.5 L603.6 1376.7 L605.2 1379.3 L606.8 1377.5 L608.4 1378.7 L610 1376.4 L611.6 1377 L613.2 1377.6 L614.8 1375.3 L615 1375.9 L616.4 1376.9 L618 1377.4 L619.6 1376.2 L621.2 1377.1 L622.8 1377.1 L624.4 1376.4 L626 1377.2 L627.6 1374.5 L629.2 1375.1 L630 1375.8 L630.8 1375 L632.4 1373.9 L634 1375.1 L635.6 1375.2 L637.2 1374 L638.8 1373.6 L640.4 1373.4 L642 1373.8 L643.6 1374.5 L643.8 1373.3 L645.2 1373.7 L646.8 1375.1 L648.4 1374.5 L650 1374.7 L651.6 1377.1 L653.2 1374.8 L654.8 1376.7 L656.4 1376.4 L657.5 1376.1 L658 1376.6 L659.6 1375.5 L661.2 1378.7 L662.8 1378.1 L664.4 1379.3 L665.8 1379.3 L666 1379.3 L667.6 1378.4 L669.2 1375.1 L670.8 1376.8 L672.4 1376.6 L674 1375.5 L675.6 1374.1 L677.2 1374.9 L678.8 1373.9 L679.5 1374.4 L680.4 1372.9 L682 1371.7 L683.6 1371.8 L685.2 1371.5 L686.8 1372.9 L688.4 1371.9 L690 1370.4 L691.6 1372.4 L693.2 1372.6 L693.3 1372.9 L694.8 1373 L696.4 1374.7 L698 1374.4 L699.6 1376.9 L701.2 1378.2 L701.5 1378.9 L702.8 1377.8 L704.4 1376.7 L706 1375.6 L707.6 1377.9 L709.2 1377.3 L710.8 1378.5 L712.4 1378 L712.5 1377.6 L714 1379.1 L715.6 1377.8 L717.2 1376.2 L718.8 1376.6 L720.4 1376.1 L722 1376 L723.5 1373.9 L723.6 1375.3 L725.2 1375.4 L726.8 1378.5 L728.4 1379.5 L730 1380 L731.6 1380.8 L731.8 1380.9 L733.2 1379.8 L734.8 1377.2 L735.9 1374.3 L736.4 1374.7 L738 1372.7 L739.6 1374.3 L741.2 1372.2 L742.8 1370.8 L744.4 1370.7 L745.5 1370.4 L746 1370.4 L747.6 1371.2 L749.2 1369.3 L750.8 1368.2 L752.4 1367 L754 1363.8 L755 1365.3 L755.6 1364.2 L757.2 1365.6 L758.8 1367 L759.3 1365 L760.4 1371.3 L762 1378.1 L762 1377.7 L763.6 1386.7 L764.8 1392.1 L765.2 1390.7 L766.8 1392.6 L768.4 1390 L770 1393.1 L771.6 1391.5 L773 1391 L773.2 1391.7 L774.8 1391.7 L776.4 1392.6 L778 1395.7 L779.6 1394.5 L780 1396.9 L781.2 1396.2 L782.8 1397.6 L784.4 1397 L786 1397.8 L786.8 1397 L787.6 1397.4 L789.2 1396.6 L790.8 1394.2 L792.4 1391.9 L794 1392.4 L795 1389.2 L795.6 1392 L797.2 1389 L798.8 1389.1 L800.4 1388.5 L801.9 1389.3 L802 1388.6 L803.6 1390.8 L805.2 1395.4 L806 1395.3 L806.8 1394.4 L808.4 1394.5 L810 1396.2 L811.6 1395.8 L813.2 1396.3 L814.8 1396.2 L816.4 1397 L817 1396.6 L818 1395.5 L819.6 1397.2 L821.2 1397.4 L822.8 1398.6 L824.4 1397.2 L826 1399.1 L827.6 1398 L828 1398.9 L829.2 1400.3 L830.8 1398 L832.4 1400.7 L834 1399.4 L835.6 1399.7 L837.2 1399.4 L837.6 1397.2 L838.8 1399.7 L840.4 1396.2 L840.4 1399.7 L842 1386.3 L843.1 1376.9 L843.6 1377 L845.2 1375.8 L846.8 1377.5 L847.3 1375.8 L848.4 1376.1 L850 1377 L851.6 1377.8 L852.8 1378.2 L853.2 1377.7 L854.8 1379.5 L856.4 1382.9 L858 1385.7 L858.3 1386.3 L859.6 1385.4 L861.2 1386.8 L862.8 1390.3 L863.8 1392 L864.4 1392.7 L866 1390 L867.6 1386.9 L869.2 1383.9 L869.3 1386.5 L870.8 1383.2 L872.4 1385.1 L874 1382.7 L875.6 1384.2 L877.2 1381.6 L877.5 1382.4 L878.8 1382.2 L880.4 1379 L882 1380 L883.6 1380.3 L885.2 1382.5 L886.8 1379.8 L887.2 1382.2 L888.4 1383.1 L890 1381.8 L891.6 1383.2 L893.2 1381.9 L894 1383.2 L894.8 1381.2 L896.4 1383.2 L898 1380.6 L898 1382.3" stroke="#008000" stroke-width="2.8" fill="none" stroke-linejoin="round" stroke-linecap="round" clip-path="url(#cb1)"/>
<path d="M98 1523.9 L99.6 1526.2 L101.2 1524.2 L102.8 1522.6 L104.4 1522.2 L105.5 1520.4 L106 1522.4 L107.6 1522 L109.2 1523.7 L110 1526.3 L110.8 1530.3 L112.4 1538.4 L113 1543.3 L114 1542.7 L115.6 1539.9 L117.2 1539.5 L118.8 1536.7 L119 1536.6 L120.4 1537.5 L122 1539.1 L123.6 1539.6 L125 1539.9 L125.2 1540 L126.8 1537.9 L128.4 1538.5 L129.5 1537.4 L130 1532.6 L131.6 1520.4 L131.6 1519.9 L133.2 1521.7 L134.8 1527.8 L135.5 1527.2 L136.4 1527.1 L138 1525.7 L139.6 1523.9 L141.2 1524.6 L141.5 1525.3 L142.8 1521.1 L144.4 1520.7 L146 1518.8 L147.6 1519.2 L147.6 1517.1 L149.2 1518.7 L150.8 1517.5 L152 1518 L152.4 1518.8 L154 1518.9 L155.6 1516.5 L157.2 1521.3 L158 1520.4 L158.8 1519.3 L160.4 1518.1 L162 1518.7 L162.6 1515.3 L163.6 1517.2 L165.2 1517.1 L166.8 1515.7 L168.4 1515.9 L170 1514.5 L171.6 1515.1 L171.6 1515.8 L173.2 1517.9 L174.8 1520 L176.4 1520.8 L177.6 1522.5 L178 1522.7 L179.6 1522.5 L180.6 1518.2 L181.2 1519 L182.8 1522.6 L184.4 1523.1 L185 1526.5 L186 1529.9 L187.6 1529.1 L189.2 1534 L189.6 1534 L190.8 1530.2 L192.4 1524.1 L194 1517.2 L194 1518.1 L195.6 1519.2 L197.2 1516.4 L198.8 1515.4 L200 1517.3 L200.4 1516 L202 1514.7 L203.6 1514.4 L205.2 1516 L206.8 1512.2 L208.4 1511.3 L209 1512.9 L210 1511.9 L211.6 1513.2 L213.2 1511.3 L214.8 1509.5 L216.4 1509.6 L218 1509.8 L218 1509.3 L219.6 1507.4 L221.2 1510 L222.8 1509.6 L224.4 1509 L226 1509.8 L227 1508.7 L227.6 1508.4 L229.2 1509.1 L230.8 1510.2 L232.4 1509.8 L234 1510.8 L235.6 1512 L236 1512 L237.2 1510.7 L238.8 1510.2 L240.4 1509.5 L242 1510.8 L243.6 1509.7 L245 1507.8 L245.2 1510.1 L246.8 1509.2 L248.4 1510.3 L250 1510.2 L251.6 1511 L253.2 1510.5 L254 1510 L254.8 1509.4 L256.4 1509.6 L258 1511 L259.6 1510.7 L261.2 1512.3 L262.6 1511.8 L262.8 1510.6 L264.4 1504.7 L266 1494.5 L266 1494.3 L267.6 1483.1 L268.6 1477 L269.2 1476.3 L270.8 1470.2 L272 1467.2 L272.4 1469.5 L274 1478.4 L275 1484 L275.6 1485.1 L277.2 1488.3 L278.8 1493.8 L278.8 1494.4 L280.4 1496.3 L282 1502.4 L282.7 1501 L283.6 1491.8 L285.2 1473.3 L285.7 1464.9 L286.8 1462.6 L288.4 1456.3 L288.7 1455.1 L290 1453.7 L291.6 1452 L293.2 1449.2 L293.2 1450.7 L294.8 1490.6 L296 1518.8 L296.4 1512 L298 1485.8 L299.2 1465.9 L299.6 1465.1 L301.2 1462.6 L302.2 1463.7 L302.8 1464.4 L304.4 1471.8 L305 1472.3 L306 1486 L307.6 1507.5 L308.8 1520.5 L309.2 1518.9 L310.8 1506.2 L312.4 1491.8 L312.7 1489.5 L314 1511.1 L315.6 1541.8 L317.2 1566.9 L317.2 1568.3 L318.8 1554.1 L320.4 1540.8 L320.8 1538.7 L322 1516.6 L323.6 1490.1 L324.7 1466.9 L325.2 1472.5 L326.8 1475.5 L328.4 1481.9 L329.2 1484.7 L330 1479.9 L331.6 1471.7 L333.2 1462.7 L334.8 1455.2 L335.2 1453.4 L336.4 1456.3 L338 1462.4 L339.6 1468 L339.7 1467.7 L341.2 1475.5 L342.8 1480.4 L344.2 1487.6 L344.4 1487.8 L346 1485.8 L347.6 1484.4 L348.7 1483.8 L349.2 1486.1 L350.8 1490.4 L352.4 1495 L353.2 1497.4 L354 1499.4 L355.6 1499.3 L357.2 1503.6 L358.8 1507.4 L359.2 1507.7 L360.4 1504.4 L362 1495.9 L363.6 1489.3 L363.7 1488.2 L365.2 1496.7 L366.8 1506.2 L368.3 1514.3 L368.4 1513.2 L370 1496.9 L371.3 1482.6 L371.6 1484.5 L373.2 1484 L374.8 1485.5 L375.8 1484.6 L376.4 1488.1 L378 1489.6 L379.6 1490.9 L381.2 1493.2 L381.8 1495 L382.8 1497.2 L384.4 1498.4 L386 1499.5 L387.6 1501.3 L387.8 1499.6 L389.2 1503.5 L390 1506.7 L390.8 1508.8 L392.4 1514.7 L394 1520 L394.5 1524 L395.6 1516.3 L397.2 1504 L397.5 1502.5 L398.8 1498.1 L400.4 1492.9 L402 1489.1 L402.6 1486.3 L403.6 1483.5 L405.2 1485.8 L406.8 1486.1 L408.4 1487.3 L409.5 1487.2 L410 1488.6 L411.6 1489 L411.6 1489.9 L413.2 1539.7 L413.4 1544.9 L414.8 1513.3 L415.5 1494 L416.4 1507.7 L417.6 1526.6 L418 1524.5 L419.6 1517.9 L420 1515.2 L421.2 1522.7 L422.8 1534.9 L423 1535 L424.4 1535 L426 1537.2 L427.6 1537.5 L429 1540.8 L429.2 1541.3 L430.8 1541.6 L432.4 1541.5 L433.5 1541.3 L434 1539.2 L435.6 1532.8 L436.5 1527 L437.2 1532.6 L438.8 1535.8 L439.5 1539.9 L440.4 1539.9 L442 1545 L443.6 1548.7 L444 1550.1 L445.2 1549.7 L446.8 1548 L448.4 1546.5 L448.5 1549 L450 1555.3 L451.6 1564.3 L452.5 1571.4 L453.2 1565.5 L454.8 1549.4 L455.5 1542.9 L456.4 1545.6 L458 1555.3 L459 1558.4 L459.6 1559.2 L461.2 1558.4 L462.8 1562 L463.6 1561.8 L464.4 1563.9 L466 1564.3 L467.6 1566.1 L468.7 1565.4 L469.2 1563.7 L470.8 1556.3 L472.4 1547.5 L474 1536.1 L474 1538.6 L475.6 1533 L477.2 1526.7 L478.8 1522.5 L480 1518.3 L480.4 1513.7 L482 1513.4 L483.6 1509.9 L484.6 1508.6 L485.2 1508.7 L486.8 1507.7 L488.4 1507.9 L490 1509.4 L491.6 1507.6 L492 1507 L493.2 1508.2 L494.8 1507.7 L496.4 1510.4 L498 1510.6 L498 1509.9 L499.6 1508.7 L501.2 1509.6 L502.8 1509.5 L504.4 1510.8 L505.6 1509.8 L506 1509.4 L507.6 1505.7 L509.2 1505.6 L510 1506.3 L510.8 1502.9 L512.4 1500.9 L514 1497.3 L515.5 1496.9 L515.6 1497.5 L517.2 1497.6 L518.8 1496.8 L520.4 1496.5 L522 1497.6 L522 1497.9 L523.6 1499 L525.2 1498 L526.8 1499.6 L528.4 1498.4 L530 1498.1 L531 1498.2 L531.6 1497.9 L533.2 1498.5 L534.8 1499.9 L536.4 1500 L537 1501.3 L538 1500 L539.6 1500.1 L541.2 1498.5 L542.8 1496.8 L543 1499.7 L544.4 1497.8 L546 1498.4 L547.6 1499.7 L549 1501.1 L549.2 1501.1 L550.8 1498.6 L552.4 1496.9 L554 1495.2 L555.6 1497.1 L556.7 1494.4 L557.2 1495.4 L558.8 1493.6 L560.4 1496.7 L562 1497.9 L563.6 1496.7 L564 1496.7 L565.2 1498.7 L566.8 1496.7 L568.4 1496.2 L570 1496 L571.6 1496.1 L573 1495 L573.2 1494.9 L574.8 1498.8 L576.4 1500.4 L578 1503 L579.6 1504.8 L579.8 1506.9 L581.2 1505.9 L582.8 1505.6 L584.4 1500.6 L586 1500.2 L587.6 1499.8 L588 1497 L589.2 1498.9 L590.8 1498.9 L592.4 1497.2 L594 1497 L595.6 1497.4 L597 1497.2 L597.2 1497.4 L598.8 1499.8 L600.4 1500.8 L602 1501.2 L603 1503.9 L603.6 1503.2 L605.2 1501.7 L606.8 1504.6 L608.4 1504.3 L610 1505.7 L611.6 1504.7 L613.2 1505.6 L614.8 1504.5 L615 1504.7 L616.4 1503.2 L618 1502.3 L619.6 1503.5 L621.2 1502.3 L622.8 1500.9 L624 1499.8 L624.4 1499.8 L626 1500.6 L627.6 1501.1 L629.2 1500.2 L630.8 1501.8 L632.4 1501.7 L634 1499.3 L635.6 1501.7 L636 1499.4 L637.2 1502 L638.8 1502.3 L640.4 1501.3 L642 1502 L643.6 1501.2 L645 1502.8 L645.2 1502.5 L646.8 1503.1 L648.4 1503.4 L650 1502.4 L651.6 1504.5 L653.2 1504.6 L654 1506.5 L654.8 1504.9 L656.4 1503.8 L658 1503.7 L659.6 1503.7 L661.2 1503.6 L662.8 1505.2 L663 1502.1 L664.4 1505.1 L666 1504.1 L667.6 1508.2 L669.2 1511 L670.8 1513.6 L671.3 1513.6 L672.4 1511.8 L674 1509.1 L675.6 1508.6 L677.2 1506.7 L678 1504.9 L678.8 1505.7 L680.4 1507.8 L682 1510.4 L683.6 1511.2 L683.6 1512.1 L685.2 1511 L686.8 1506.2 L688.4 1504.5 L690 1502.1 L690.5 1502.4 L691.6 1500.7 L693.2 1501.2 L694.8 1500.1 L696.4 1499.8 L698 1499.1 L699.6 1499.2 L701.2 1500.7 L701.5 1499.8 L702.8 1501.4 L704.4 1501 L706 1500.9 L707.6 1500.6 L709.2 1500.7 L710.8 1502.2 L712.4 1501.1 L712.5 1501.3 L714 1500 L715.6 1501.5 L717.2 1501.3 L718.8 1501.1 L720.4 1500.7 L722 1501.4 L723.5 1500.7 L723.6 1500.7 L725.2 1500.5 L726.8 1499.1 L728.4 1503.5 L730 1499.8 L731.6 1499.9 L733.2 1502.7 L734.5 1503.9 L734.8 1503 L736.4 1500.9 L738 1504.2 L739.6 1501.6 L741.2 1500.9 L742.8 1503.2 L744.4 1503.7 L745.5 1503.8 L746 1503.8 L747.6 1506.7 L749.2 1509.6 L750.8 1511.7 L751 1513 L752.4 1517.6 L754 1519.9 L755 1523.4 L755.6 1519.9 L757.2 1513.9 L758.8 1507.4 L759.3 1503.5 L760.4 1504.8 L762 1510.1 L763.4 1511.2 L763.6 1511.5 L765.2 1508.6 L766.8 1508.3 L767.5 1508.2 L768.4 1508 L770 1508.3 L771.6 1505.9 L773.2 1505.5 L774.8 1504.4 L775.8 1505 L776.4 1505.2 L778 1503.9 L779.6 1501.6 L781.2 1497.9 L782.8 1499 L784 1497.1 L784.4 1499.1 L786 1496.1 L787.6 1496.9 L789.2 1494.9 L790.8 1496 L792.4 1496.2 L794 1497.9 L795 1496.5 L795.6 1495.1 L797.2 1496.5 L798.8 1498.9 L800.4 1497.7 L800.5 1498.1 L802 1498.6 L803.6 1499 L805.2 1501.5 L806.8 1500.4 L808.4 1502.8 L808.8 1503 L810 1501.7 L811.6 1502.4 L813.2 1502.3 L814.8 1501.1 L816.4 1499.4 L818 1503.3 L819.6 1500.7 L821.2 1502 L822.5 1501.6 L822.8 1502.2 L824.4 1504.2 L826 1504.1 L827.6 1505.1 L829.2 1506 L830.8 1506.5 L832.4 1507.8 L833.5 1507.2 L834 1507.7 L835.6 1512.2 L837.2 1509.2 L838.8 1510.3 L840.4 1511.2 L840.4 1511.4 L842 1507.8 L843.6 1502 L844.5 1500.9 L845.2 1500.3 L846.8 1500.2 L848.4 1499.3 L850 1499.4 L851.6 1501.3 L852.8 1501.2 L853.2 1500 L854.8 1500.3 L856.4 1499.1 L858 1497.2 L858.3 1498 L859.6 1497.7 L861.2 1500.4 L862.8 1500.1 L864.4 1501.3 L865 1503.6 L866 1502.4 L867.6 1499.7 L869.2 1497.7 L870.8 1497.5 L872 1495 L872.4 1496.2 L874 1496.8 L875.6 1493.6 L877.2 1495.1 L878.8 1493.8 L880.4 1492.9 L882 1494.2 L883 1493 L883.6 1495.2 L885.2 1493.6 L886.8 1494.5 L888.4 1492.4 L890 1493.7 L891.6 1492.9 L893.2 1492.2 L894.8 1493.2 L896.4 1491.9 L898 1491.8 L898 1491.7" stroke="#0000ff" stroke-width="2.8" fill="none" stroke-linejoin="round" stroke-linecap="round" clip-path="url(#cb2)"/>
<path d="M98 1555.7 L99.6 1551 L101.2 1550.2 L102.8 1552 L104 1546.7 L104.4 1548.3 L106 1547.9 L107.6 1548.4 L109.2 1547.4 L110 1550.7 L110.8 1553.3 L112.4 1560.6 L114 1563.6 L114.5 1566.9 L115.6 1565.5 L117.2 1563.7 L118.8 1561.7 L119 1560.6 L120.4 1563 L122 1563.9 L123.6 1565.1 L125 1565.2 L125.2 1566.1 L126.8 1566.6 L128.4 1564 L129.5 1565.5 L130 1558.7 L131.6 1540.5 L131.6 1541.3 L133.2 1546.1 L134.8 1549.6 L135.5 1551.6 L136.4 1549.2 L138 1547.6 L139.6 1544.8 L141.2 1543.4 L142.8 1544.7 L143 1544.3 L144.4 1539.5 L146 1539.5 L147.6 1536.4 L149 1534.5 L149.2 1536.5 L150.8 1540.3 L152.4 1542.6 L154 1547.6 L155 1550.1 L155.6 1552.5 L157.2 1553.2 L158.8 1558.7 L159.6 1558.7 L160.4 1556.6 L162 1552.8 L163.6 1550.5 L164 1548.2 L165.2 1546.7 L166.8 1547.7 L168.4 1546.1 L170 1545.3 L171.6 1544 L173 1546.4 L173.2 1544.1 L174.8 1545 L176.4 1542.3 L178 1539.4 L179 1538.3 L179.6 1538.1 L181.2 1540.6 L182.8 1541 L183.6 1543.7 L184.4 1544.9 L186 1553 L187.6 1557.9 L189.2 1562.8 L189.6 1564.9 L190.8 1561.6 L192.4 1553.8 L194 1548.8 L194 1548 L195.6 1548.1 L197.2 1547.6 L198.8 1548.7 L200.4 1546 L202 1547.1 L203 1544.4 L203.6 1544.5 L205.2 1539.6 L206.8 1535 L208.4 1534.4 L209 1533.1 L210 1534 L211.6 1536.6 L213.2 1541.5 L214.8 1541.5 L215 1543 L216.4 1542.3 L218 1540.9 L219.6 1537.1 L221 1535.2 L221.2 1538 L222.8 1535.9 L224.4 1535.2 L226 1535.8 L227 1534.2 L227.6 1534.9 L229.2 1533.1 L230.8 1531.4 L232.4 1532.2 L233 1530.2 L234 1532.6 L235.6 1530.8 L237.2 1536.6 L238.8 1535.7 L239 1536.8 L240.4 1538.2 L242 1537.9 L243.6 1536.1 L245.2 1537 L246.8 1537.5 L248 1537.1 L248.4 1537.2 L250 1539.7 L251.6 1537.2 L253.2 1539.6 L254.8 1540.7 L256.4 1539.4 L257 1539.8 L258 1536.3 L259.6 1532.9 L260 1532.3 L261.2 1533.6 L262.8 1532.1 L264.4 1532.3 L264.6 1531.1 L266 1525.5 L267.6 1518.9 L269 1513.8 L269.2 1514.7 L270.8 1515.9 L272.4 1515.5 L274 1514.3 L275 1515.8 L275.6 1514 L277.2 1516.8 L278.8 1519.6 L280.4 1520.9 L281 1520.9 L282 1516.4 L283.6 1506.1 L285.2 1500.9 L285.7 1499.9 L286.8 1503.2 L288.4 1506.9 L290 1511 L290 1510.4 L291.6 1522.4 L292.6 1529.5 L293.2 1513.7 L294.8 1482.9 L296 1461.4 L296.4 1474 L298 1531 L299.2 1578.2 L299.6 1575.5 L301.2 1567.1 L302.8 1558.8 L302.8 1557.7 L304.4 1545.2 L306 1531.5 L306.7 1526 L307.6 1516 L309.2 1500 L310.6 1485.2 L310.8 1487.6 L312.4 1499 L314 1510.3 L314.2 1510.3 L315.6 1500.4 L316.6 1492.8 L317.2 1504.5 L318.8 1539 L319.6 1554.9 L320.4 1547.4 L322 1537.8 L323.2 1527.2 L323.6 1527.5 L325.2 1519.1 L326.8 1512.9 L327.7 1510.1 L328.4 1517.7 L330 1530.7 L331.6 1545.2 L333.2 1558.5 L333.7 1562.4 L334.8 1548.5 L336.4 1526 L338 1507.7 L339.6 1485.4 L339.7 1483 L341.2 1483.3 L342.8 1481.9 L344.2 1480.2 L344.4 1480.1 L346 1491.5 L347.6 1501.5 L348.7 1510.8 L349.2 1506.1 L350.8 1497.6 L352.4 1484.8 L353.2 1479.2 L354 1477.7 L355.6 1476 L357.2 1475.7 L357.7 1474.6 L358.8 1490.7 L360.4 1515.3 L362 1540.9 L362.3 1543.3 L363.6 1557.3 L365.2 1569.8 L366.8 1586.6 L366.8 1587.7 L368.4 1576 L370 1562.3 L371.3 1554.1 L371.6 1553.5 L373.2 1538.5 L374.8 1525.3 L376.4 1512.7 L378 1501.6 L378.8 1495.8 L379.6 1503.7 L381.2 1513.9 L382.8 1524.2 L383.3 1527.8 L384.4 1541.1 L386 1561.6 L387.6 1580 L387.8 1581 L389.2 1586 L390 1586.4 L390.8 1587.3 L392.4 1591.1 L394 1593.3 L394.5 1595.3 L395.6 1591.5 L397.2 1581.6 L398.8 1578.7 L400.4 1572.3 L400.5 1572 L402 1566.1 L403.6 1561.1 L405.2 1556.1 L406.5 1553 L406.8 1554.1 L408.4 1551.7 L410 1550.5 L410.4 1549.6 L411.6 1578 L412.5 1598.4 L413.2 1591.8 L414.8 1575.5 L415.5 1568.7 L416.4 1576 L418 1588.3 L418.5 1594.2 L419.6 1596.7 L421.2 1597.8 L422.8 1601.1 L423 1602 L424.4 1605.2 L426 1604 L427.6 1605.7 L429.2 1603.4 L430.8 1606.2 L432 1608.4 L432.4 1606.2 L434 1603.1 L435.6 1603.7 L437.2 1602 L438.8 1600.3 L440.4 1600.7 L441 1600.3 L442 1599.6 L443.6 1597.5 L445.2 1598 L446.8 1597.5 L448.4 1598 L450 1596 L450 1593.9 L451.6 1590.7 L453 1588.5 L453.2 1585.4 L454.8 1593.3 L456 1598.4 L456.4 1597.3 L458 1593.2 L459.6 1595.5 L461.2 1595.1 L462.8 1590.7 L463.6 1591.6 L464.4 1592.2 L466 1592.1 L467.6 1590.3 L469.2 1591.5 L470.8 1589.6 L471 1588 L472.4 1588.6 L474 1586.6 L475.6 1588.5 L477.2 1587.9 L478.8 1588 L480 1587.5 L480.4 1587 L482 1579.6 L483 1576.6 L483.6 1575.9 L485.2 1575.9 L486.8 1574.8 L488.4 1575.6 L489 1575.3 L490 1574.8 L491.6 1574.1 L493.2 1574.3 L493.6 1572.6 L494.8 1574.8 L496.4 1580.9 L497.5 1581.1 L498 1583.4 L499.6 1582.1 L501.2 1581.5 L502.8 1580.2 L504 1581.9 L504.4 1580.3 L506 1579.9 L507.6 1578.3 L509.2 1578.7 L510.8 1578.1 L512.4 1577.7 L513 1576.1 L514 1570.6 L515.5 1560.5 L515.6 1558.6 L517.2 1559.9 L518.8 1561.3 L520.4 1562.5 L522 1561.7 L522 1562.2 L523.6 1562.8 L525.2 1561.4 L526.8 1560.6 L528.4 1560.3 L529.6 1559.3 L530 1560.9 L531.6 1558.8 L533.2 1561.4 L534.8 1563.9 L536.4 1563 L537 1566 L538 1564.1 L539.6 1564.9 L541.2 1566.4 L542.8 1564.4 L544.4 1565.1 L546 1565.8 L546 1565 L547.6 1562.8 L549.2 1560.1 L550.8 1558.1 L552 1556.3 L552.4 1553.1 L554 1552.6 L555.6 1551.2 L557.2 1546.6 L558 1545.3 L558.8 1546.9 L560.4 1553.9 L562 1561.8 L562.6 1561.2 L563.6 1562.4 L565.2 1561.6 L566.8 1560.5 L568.4 1560.2 L570 1561.7 L570 1559.3 L571.6 1562.8 L573.2 1565.2 L574.8 1568 L575.6 1568.2 L576.4 1570.5 L578 1574.3 L579.6 1577.5 L579.8 1577.8 L581.2 1574 L582.8 1564.4 L584.4 1561.2 L585 1557.6 L586 1555.6 L587.6 1552.5 L589.2 1548.8 L590.8 1547 L591.8 1543.6 L592.4 1543.7 L594 1544.6 L595.6 1546.2 L597 1546.1 L597.2 1547.7 L598.8 1556.2 L600.4 1562.3 L601.7 1567.9 L602 1565.9 L603.6 1565.8 L605.2 1566.2 L606.8 1568.8 L608.4 1567.7 L610 1567.7 L611.6 1570 L612 1567.3 L613.2 1565.8 L614.8 1565.1 L616.4 1563.6 L618 1565.7 L619.6 1564 L621 1561.9 L621.2 1562.7 L622.8 1562.1 L624.4 1562.5 L626 1563 L627.6 1562.7 L629.2 1561.7 L630 1563.4 L630.8 1562.1 L632.4 1561.8 L634 1562.1 L635.6 1563.2 L637.2 1563.4 L638.8 1561.9 L640.4 1560.9 L641 1562.4 L642 1562.7 L643.6 1564.5 L645.2 1563.1 L646.8 1564.5 L648.4 1563.4 L649.3 1565.9 L650 1567.5 L651.6 1564.6 L653.2 1564.5 L654.8 1566.5 L656.4 1564.2 L657.5 1563.7 L658 1564.7 L659.6 1565 L661.2 1567.5 L662.8 1568 L664.4 1568.8 L666 1569.8 L667.6 1570.7 L668.5 1569.9 L669.2 1568.7 L670.8 1567.2 L672.4 1566.3 L674 1564 L675.6 1563.5 L677.2 1561.9 L678 1561.8 L678.8 1561.9 L680.4 1559.8 L682 1561.5 L683.6 1562.6 L685 1561.2 L685.2 1560.4 L686.8 1561.1 L688.4 1559.6 L690 1560.2 L691.6 1559.7 L693.2 1559.7 L694.8 1557.3 L696 1559 L696.4 1558.8 L698 1559.7 L699.6 1561.5 L701.2 1564.4 L702.8 1564.1 L704.4 1568 L706 1569.5 L707 1571.4 L707.6 1570.2 L709.2 1568.3 L710.8 1564.1 L712.4 1560.7 L712.5 1561.4 L714 1561.5 L715.6 1561 L717.2 1560.3 L718.8 1558.7 L720.4 1559.4 L722 1561 L723.5 1558.2 L723.6 1558.3 L725.2 1558.4 L726.8 1558.1 L728.4 1557.7 L730 1557.7 L731.6 1557.1 L733.2 1555.9 L734.5 1555.1 L734.8 1554.6 L736.4 1556.5 L738 1556.5 L739.6 1556.1 L741.2 1555.1 L742.8 1555.3 L744.4 1558.1 L745.5 1556.1 L746 1558.2 L747.6 1561.1 L749.2 1561.3 L750.8 1565.2 L751 1563.9 L752.4 1568.1 L754 1571.4 L754.3 1572.5 L755.6 1567 L757.2 1561.1 L758.8 1551.3 L759.3 1552.3 L760.4 1544.4 L762 1535.8 L763.6 1531.9 L764.2 1527.5 L765.2 1528.8 L766.8 1532.7 L768.4 1533.2 L770 1536.5 L770.3 1538.8 L771.6 1532.6 L773.2 1530.2 L774.4 1527.6 L774.8 1527.9 L776.4 1530.8 L778 1535.1 L779.6 1537.9 L780 1537.5 L781.2 1538.3 L782.8 1535.8 L784.4 1534.7 L786 1535.8 L786.8 1533.2 L787.6 1533.6 L789.2 1535.9 L790.8 1537.4 L792.4 1539.3 L794 1541.5 L795 1540.5 L795.6 1541.9 L797.2 1542.7 L798.8 1545.4 L800.4 1545.7 L800.5 1546.2 L802 1541.6 L803.6 1536.8 L805.2 1531.5 L806 1532 L806.8 1531.7 L808.4 1533 L810 1530.2 L811.6 1531.7 L813.2 1534.3 L814.8 1532.9 L816.4 1533.1 L817 1534.5 L818 1530 L819.6 1530.2 L821.2 1530.9 L822.8 1531.7 L824.4 1530.5 L826 1528.3 L827.6 1528.5 L828 1528.8 L829.2 1527.3 L830.8 1530.3 L832.4 1530.5 L834 1532.5 L835.6 1535.1 L836.3 1533.9 L837.2 1536.6 L838.8 1536 L840.4 1543 L842 1542.9 L843.1 1544.5 L843.6 1546.1 L845.2 1546.4 L846.8 1546.7 L848.4 1544.1 L850 1545.7 L851.6 1544.9 L852.8 1542.6 L853.2 1543.7 L854.8 1546.3 L856.4 1546 L858 1545.9 L859.6 1545.3 L861 1548.4 L861.2 1545.7 L862.8 1545.9 L864.4 1543.9 L866 1542.6 L866.5 1542 L867.6 1544.3 L869.2 1544.9 L870.8 1548.4 L872 1549.8 L872.4 1550.4 L874 1550.3 L875.6 1547.5 L877.2 1545.1 L877.5 1545.7 L878.8 1556.2 L879 1558.8 L880.4 1557 L882 1556 L883.6 1553.8 L885.2 1552.8 L885.8 1551.7 L886.8 1552 L888.4 1551.5 L890 1551.6 L891.6 1553 L893.2 1552.2 L894.8 1552 L896.4 1553.2 L898 1553.5 L898 1551.1" stroke="#ff0000" stroke-width="2.8" fill="none" stroke-linejoin="round" stroke-linecap="round" clip-path="url(#cb2)"/>
<path d="M98 1738.7 L99.6 1739.1 L101.2 1738.9 L102.8 1739.4 L104 1741 L104.4 1740.9 L106 1738.9 L107.6 1741 L109.2 1741.4 L110 1740 L110.8 1741.3 L112.4 1739 L114 1741 L114 1738.8" stroke="#bf00bf" stroke-width="2.8" fill="none" stroke-linejoin="round" stroke-linecap="round" clip-path="url(#cb3)"/>
<path d="M120.5 1737.3 L122 1739.1" stroke="#bf00bf" stroke-width="2.8" fill="none" stroke-linejoin="round" stroke-linecap="round" clip-path="url(#cb3)"/>
<path d="M132.5 1743.4 L134.1 1743.5 L135.7 1743.5 L137.3 1743.9 L138.9 1742.7 L140 1743.6 L140.5 1741.4 L142.1 1745.8 L143.7 1745.9 L145.3 1746.6 L146.6 1745 L146.9 1744.8 L148.5 1740.5 L150.1 1736.1 L150.6 1735.7 L151.7 1734.4 L153.3 1733.7 L154.5 1734.7 L154.9 1734.2 L156.5 1738.6 L158 1740.2 L158.1 1741.1 L159.7 1739.7 L161.3 1739.3 L162.6 1738.2" stroke="#bf00bf" stroke-width="2.8" fill="none" stroke-linejoin="round" stroke-linecap="round" clip-path="url(#cb3)"/>
<path d="M170 1736.8 L171.6 1736.7 L173 1737.6" stroke="#bf00bf" stroke-width="2.8" fill="none" stroke-linejoin="round" stroke-linecap="round" clip-path="url(#cb3)"/>
<path d="M179 1741.5 L180.6 1744.1 L182 1748.7 L182.2 1748.7 L183.8 1746.9 L185.4 1746.7 L187 1743.3 L188.6 1745.2 L190.2 1743 L191 1742.7 L191.8 1744.2 L193.4 1744.9 L195 1743.6 L196.6 1744.3 L198.2 1745.2 L199.8 1745.1 L201.4 1744.8 L203 1746.3 L203 1745.9 L204.6 1746.8 L206.2 1746.2 L207.8 1747 L209.4 1746.2 L211 1746.5 L212.6 1748 L214.2 1747.2 L215 1748.3 L215.8 1745.6 L217.4 1746.5 L219 1747.7 L220.6 1749 L222.2 1748.5 L223.8 1749.9 L224 1749.6 L225.4 1748.6 L227 1745.1 L228.6 1744.6 L228.6 1745 L230.2 1745.1 L231.8 1747.8 L233.4 1747.9 L235 1747.4 L236 1748.3" stroke="#bf00bf" stroke-width="2.8" fill="none" stroke-linejoin="round" stroke-linecap="round" clip-path="url(#cb3)"/>
<path d="M240 1747.6 L241.6 1749.8 L243.2 1749.1 L244.8 1748.3 L245 1746.9 L246.4 1749.8 L248 1748.2 L249.6 1749.2 L251.2 1748 L252.8 1749.1 L254 1748.1 L254.4 1747.9 L256 1749 L257.6 1749 L259.2 1746.1 L260.8 1747.5 L261.7 1747.8 L262.4 1747.9 L264 1746.5 L264.7 1747.8 L265.6 1734.5 L267.2 1711.6 L267.7 1704.8 L268.8 1716.7 L269.8 1731.9 L270.4 1720.6 L271.6 1702.7 L272 1706.4 L273.6 1733.1 L273.7 1734.2 L275 1705.7 L275.2 1708.5 L276.8 1725.5 L278 1736.7 L278.4 1733.4 L280 1720.9 L281 1713.1 L281.6 1722 L282.7 1735.9 L283.2 1729.4 L284.8 1703.5 L284.8 1703.5 L286.4 1700 L288 1698.3 L289.6 1696.5 L290 1696.7 L291.2 1695.6 L292.8 1694.9 L294.4 1693.3 L296 1689 L296 1691.3 L297.6 1688.6 L299.2 1686.2 L300.8 1685 L302 1681.8 L302.4 1684.1 L304 1684.9 L305 1688.6 L305.6 1685.6 L307.2 1691.7 L308.2 1692.2 L308.8 1693.3 L310.4 1692.5 L312 1687.6 L313.6 1689.9 L314.2 1688.6 L315.2 1686.6 L316.8 1687.7 L318.4 1686 L320 1686.2 L321.6 1686.1 L323.2 1685.6 L323.2 1685.7 L324.8 1685.7 L326.4 1686.4 L328 1684.8 L329.2 1685.6 L329.6 1687.3 L331.2 1687 L332.8 1689.6 L334.4 1690 L335.2 1692.2 L336 1692.3 L337.6 1693.5 L339.2 1694 L340.8 1695.9 L341.2 1694.9 L342.4 1689.1 L344 1680.7 L344.8 1677.9 L345.6 1680.6 L347.2 1682.6 L348.7 1684.8 L348.8 1682.6 L350.4 1683.1 L352 1684.2 L353.6 1684.3 L355.2 1683.9 L356.3 1684.4 L356.8 1685.7 L358.4 1685.3 L360 1684.9 L361.6 1687.2 L362.3 1687.5 L363.2 1688.6 L364.8 1687 L366.4 1687 L368 1687.7 L369.6 1687.9 L371.2 1689 L372.8 1687.7 L374.3 1688.5 L374.4 1688.5 L376 1685.4 L377.6 1680.3 L378.8 1677.4 L379.2 1676.5 L380.8 1669.8 L382.4 1662.4 L383.3 1658 L384 1654.9 L385.6 1655.5 L387.2 1657.1 L387.8 1656.2 L388.8 1659.4 L390.4 1656.7 L392 1657.8 L393.6 1658.7 L393.8 1659.8 L395.2 1660.2 L396 1659.9 L396.8 1659.7 L398.4 1660.2 L400 1660.2 L401.6 1661.6 L403.2 1661.5 L404.8 1663.1 L405 1663.4 L406.4 1662.3 L408 1663.3 L409.6 1665.9 L410.4 1665.6 L411.2 1663.9 L412.8 1659.4 L414 1658.8 L414.4 1657.1 L416 1656.6 L417.6 1655.4 L419.2 1656 L420 1657.4 L420.8 1656.8 L422.4 1657 L424 1655.2 L425.6 1655.1 L427.2 1655.2 L428.8 1656 L430.4 1653.2 L432 1653.1 L433.6 1652.6 L435 1653.1 L435.2 1652 L436.8 1654.7 L438.4 1651.4 L440 1653.3 L441.6 1653.2 L443.2 1655.6 L444.8 1654.2 L446.4 1652.4 L448 1653.8 L449.6 1652.9 L450 1652.5 L451.2 1652.5 L452.8 1653.4 L454.4 1651 L456 1652.8 L457.6 1650.9 L459.2 1649.5 L460.8 1650 L462 1650 L462.4 1651.1 L464 1650.3 L465.6 1650.2 L467.2 1649.1 L468.8 1648.8 L470.4 1651.2 L471 1648.5 L472 1646.8 L473.6 1643.7 L474 1643.1 L475.2 1647.8 L476.8 1648.9 L478.4 1651.4 L480 1654.6 L480 1656.7 L481.6 1652.2 L483.2 1652.5 L484 1650.2" stroke="#bf00bf" stroke-width="2.8" fill="none" stroke-linejoin="round" stroke-linecap="round" clip-path="url(#cb3)"/>
<path d="M489 1649 L490.6 1649.2 L492 1651.3 L492.2 1649.6 L493.8 1647.6 L495.4 1650.1 L497 1649.5 L498 1649.1" stroke="#bf00bf" stroke-width="2.8" fill="none" stroke-linejoin="round" stroke-linecap="round" clip-path="url(#cb3)"/>
<path d="M502.6 1653.5 L504.2 1655.5 L505.8 1652.4 L507.4 1652.6 L509 1653.4 L510 1652.2 L510.6 1652.1 L512.2 1649.8 L513.8 1653 L515.4 1650.8 L517 1650.1 L518.6 1653.2 L520.2 1648.9 L521.8 1649.8 L522 1651.1 L523.4 1650.6 L525 1649.8 L526.6 1650.4 L528.2 1650.4 L529.8 1650.9 L531.4 1650.1 L533 1648.4 L534 1651.4 L534.6 1647.1 L536.2 1650.3 L537.8 1650.8 L539.4 1650.1 L541 1649 L542.6 1652.1 L543 1652.5 L544.2 1650.1 L545.8 1649 L547.4 1648.6 L549 1649.5 L550.6 1647.5 L552 1648.2 L552.2 1647.9 L553.8 1647.5 L555.4 1648.6 L557 1647.5 L558.6 1646.2 L560.2 1644.5 L561.8 1644.3 L563.4 1645 L564 1644.3 L565 1647.6 L566.6 1646 L568.2 1643.8 L569.8 1644.9 L571.4 1643 L573 1643.2 L574.6 1643.1 L576 1642.7 L576.2 1642.3 L577.8 1641 L579.4 1641.2 L581 1641.1 L582.6 1638.4 L584.2 1639.9 L585 1639.3 L585.8 1638.1 L587.4 1638 L589 1634.2 L589.7 1635.1 L590.6 1635.3 L592.2 1633.8 L593.8 1634.1 L595.4 1637.6 L597 1637.7 L598.6 1636.3 L600 1638.9 L600.2 1638.1 L601.8 1638.4 L603.4 1639.4 L605 1637.1 L606.6 1636.6 L608.2 1636 L609.8 1635.6 L611.4 1635.5 L612 1635.3 L613 1636.4 L614.6 1635.5 L616.2 1634.3 L617.8 1634 L619.4 1636.6 L621 1637.2 L622.6 1636.5 L624 1635.3 L624.2 1636.1 L625.8 1634 L627.4 1637.3 L629 1635.1 L630 1633.7 L630.6 1635.4 L632.2 1635.4 L633.8 1634.1 L635.4 1633.9 L637 1634.4 L638.6 1634.7 L640.2 1633.6 L641 1633.2 L641.8 1632.7 L643.4 1634.1 L645 1633.6 L646.6 1634.7 L648.2 1633.8 L649.8 1634.3 L651.4 1633.6 L652 1631.7 L653 1631.5 L654.6 1634.3 L656.2 1635.6 L657.8 1636.5 L659.4 1636.4 L660.3 1637.1 L661 1635.6 L662.6 1638.5 L664.2 1637.8 L665.8 1640.6 L667.4 1641.6 L668.5 1638.8 L669 1640.5 L670.6 1638.1 L672.2 1639 L673.8 1637.8 L675.4 1639 L677 1638.3 L678.6 1637.4 L680.2 1635.7 L681.8 1635.3 L683.4 1635 L685 1635.7 L685 1634.3 L686.6 1636.2 L688.2 1637.2 L689.8 1639.3 L691.4 1639.3 L693 1641 L694.6 1641.4 L696 1642.2 L696.2 1642.1 L697.8 1642 L699.4 1642.1 L701 1639.3 L702.6 1639.3 L704.2 1641.5 L705.8 1638.9 L707 1640.4 L707.4 1640.7 L709 1639 L710.6 1640.5 L712.2 1637.4 L713.8 1638.2 L715.4 1639.3 L717 1637.6 L718.6 1636.5 L720.2 1637.6 L720.8 1638.1 L721.8 1637.8 L723.4 1638 L725 1638.9 L726.6 1638.3 L728.2 1637.1 L729.8 1636.3 L731.4 1635.9 L733 1636.2 L734.5 1636.4 L734.6 1635.6 L736.2 1637.8 L737.8 1636 L739.4 1638.2 L741 1638.4 L742.6 1639.8 L744.2 1641.7 L745.5 1643.1 L745.8 1641.7 L747.4 1641 L749 1641.3 L750.6 1644.7 L752.2 1639.4 L753.8 1641.4 L755.4 1640.8 L756.5 1641 L757 1640.4 L758.6 1639.8 L760.2 1640 L761.8 1640.3 L763.4 1639.9 L763.4 1640 L764.8 1631.5 L765 1630.2 L766.6 1630.9 L768.2 1632.8 L769.8 1630.5 L771.4 1631.4 L773 1631.9 L773 1632.6 L774.6 1631.4 L776.2 1631.1 L777.8 1631.7 L779.4 1630.9 L781 1629.3 L781.3 1630.4 L782.6 1630.6 L784.2 1630.3 L785.8 1632.4 L787.4 1631.1 L789 1631.7 L789.5 1631.9 L790.6 1635.8 L792.2 1635.2 L793.8 1635.5 L795 1636.8 L795.4 1636.6 L797 1638.2 L798.6 1635.8 L800.2 1634.9 L801.8 1634.5 L803.3 1634.2 L803.4 1635.7 L805 1634.4 L806.6 1636 L808.2 1633.6 L809.8 1635.8 L811.4 1633.2 L811.5 1635.9 L813 1636.3 L814.6 1636 L816.2 1636.4 L817.8 1637.3 L819.4 1638.1 L821 1635.6 L822.5 1638.3 L822.6 1637.5 L824.2 1638.4 L825.8 1642.1 L827.4 1643.6 L828 1640.9 L829 1643.4 L830.6 1645.2 L832.2 1643.1 L833.5 1646 L833.8 1646.1 L835.4 1646.4 L837 1648.2 L837 1646.7" stroke="#bf00bf" stroke-width="2.8" fill="none" stroke-linejoin="round" stroke-linecap="round" clip-path="url(#cb3)"/>
<path d="M841.8 1619.3 L843 1621.6 L843.4 1627.3 L844.5 1649.2 L845 1640.1 L845.9 1620.4 L846.6 1621.9 L847.3 1621.8 L848.2 1624.4 L849.8 1624.9 L851.4 1623.8 L853 1621.9 L854.6 1623 L855.5 1623" stroke="#bf00bf" stroke-width="2.8" fill="none" stroke-linejoin="round" stroke-linecap="round" clip-path="url(#cb3)"/>
<path d="M858 1625.7 L859.6 1625 L861.2 1627.2 L862.8 1626.8 L863.8 1627.7 L864.4 1628.4 L866 1630.6 L867.6 1630.7 L869.2 1629.2 L870.8 1629.1 L872 1630.6 L872.4 1630.8 L874 1631 L875.6 1631.8 L877.2 1633.8 L878.8 1634.4 L880.3 1634.4 L880.4 1635.2 L882 1636.5 L883.6 1635.8 L885.2 1636 L886.8 1635.1 L888.4 1635 L888.5 1638.9 L890 1636.5 L891.6 1635.2 L893.2 1635.5 L894.8 1635.8 L896.4 1635.5 L898 1631.4 L898 1635" stroke="#bf00bf" stroke-width="2.8" fill="none" stroke-linejoin="round" stroke-linecap="round" clip-path="url(#cb3)"/>
<path d="M98 1642.8 L99.5 1612.6 L99.6 1613 L101 1610 L101.2 1615.1 L102.8 1645.4 L104 1661.2 L104.4 1667.4 L106 1668.9 L107 1670 L107.6 1657.2 L108.5 1630.4 L109.2 1635.4 L110.8 1647 L111.5 1649.8 L112.4 1627.4 L113 1612.3 L114 1636.7 L114.5 1649.9 L115.6 1644.8 L116 1643.6 L117.2 1624.1 L118 1609.8" stroke="#008000" stroke-width="2.8" fill="none" stroke-linejoin="round" stroke-linecap="round" clip-path="url(#cb3)"/>
<path d="M120.5 1610.2 L122 1622.7" stroke="#008000" stroke-width="2.8" fill="none" stroke-linejoin="round" stroke-linecap="round" clip-path="url(#cb3)"/>
<path d="M125 1669.7 L126 1674.1" stroke="#008000" stroke-width="2.8" fill="none" stroke-linejoin="round" stroke-linecap="round" clip-path="url(#cb3)"/>
<path d="M132.5 1680.4 L134.1 1663.2 L135.7 1645.5 L137 1630.4 L137.3 1632 L138.9 1619 L140 1614.9 L140.5 1627.4 L142.1 1677 L142.4 1686.1 L143.7 1686.1 L144.5 1686.1 L145.3 1667.9 L146.9 1633.9 L147.6 1615.9 L148.5 1611.1 L149 1611 L150.1 1615.1 L151.7 1622.4 L152 1623.3 L153.3 1622.1 L154.9 1618.9 L155 1618.3 L156.5 1637.6 L158 1655.7 L158.1 1657 L159.7 1668.2 L161 1680.1 L161.3 1674.7 L162.9 1661.8 L164 1654.9" stroke="#008000" stroke-width="2.8" fill="none" stroke-linejoin="round" stroke-linecap="round" clip-path="url(#cb3)"/>
<path d="M173 1646.8 L174.6 1654.7 L176 1661.8 L176.2 1663.5 L177.8 1657.4 L179 1651.7 L179.4 1657.6 L180.6 1675.7 L181 1683.8 L182 1708.7 L182.6 1701.2 L184.2 1676.9 L184.5 1675.6" stroke="#008000" stroke-width="2.8" fill="none" stroke-linejoin="round" stroke-linecap="round" clip-path="url(#cb3)"/>
<path d="M187 1634.9 L188.6 1623.2 L189 1624.6" stroke="#008000" stroke-width="2.8" fill="none" stroke-linejoin="round" stroke-linecap="round" clip-path="url(#cb3)"/>
<path d="M191 1646.5 L192.6 1656.2 L194 1664.4 L194.2 1668.8 L195.8 1673.6 L197 1681.2 L197.4 1686 L199 1706.9 L199.5 1713 L200.6 1706.2 L202.2 1702 L203 1698.6 L203.8 1697 L205.4 1700.9 L207 1699.8 L208.6 1703.3 L209 1705.4 L210.2 1715.7 L211.8 1725.2 L212 1726.4 L213.4 1731 L215 1740.1 L216.6 1743.5 L216.6 1741.3 L218.2 1741.9 L219.8 1738.7 L221 1736.9 L221.4 1736 L223 1732.1 L224.6 1732 L225.6 1731.1 L226.2 1727.9 L227.8 1714.2 L228.6 1708.4 L229.4 1715.6 L231 1726.4 L231.6 1730.9 L232.6 1729.4 L234.2 1729.4 L234.6 1727.2" stroke="#008000" stroke-width="2.8" fill="none" stroke-linejoin="round" stroke-linecap="round" clip-path="url(#cb3)"/>
<path d="M239 1736.6 L240.6 1735.9 L242.2 1732.3 L243.8 1734 L245 1732.5 L245.4 1732.7 L247 1738.2 L248.6 1741.1 L249.6 1745.3 L250.2 1742.6 L251.8 1738.8 L253.4 1736.2 L254 1733.4 L255 1734.9 L256.6 1736.1 L258.2 1740.8 L258.7 1740.2" stroke="#008000" stroke-width="2.8" fill="none" stroke-linejoin="round" stroke-linecap="round" clip-path="url(#cb3)"/>
<path d="M266 1729.9 L267.6 1767.2 L267.7 1767.7 L269 1736.9 L269.2 1740.2 L270.7 1769.1 L270.8 1766.8 L272 1750.1 L272.4 1756.5 L273.7 1769.3 L274 1761.9 L275 1744 L275.6 1749.7 L277.2 1762.4 L278 1766.6 L278.8 1755.7 L280.4 1736.7 L281 1728.6 L282 1746.5 L283.6 1772.8 L283.6 1771 L285.2 1763.3 L286.8 1754.3 L287 1753.3 L288.4 1750 L290 1747.8 L291.6 1748.2 L291.7 1746 L293.2 1754.7 L294.8 1758.9 L295.6 1762.9 L296.4 1753.5 L298 1732.8 L299.2 1718.6 L299.6 1719.3 L301.2 1727.5 L302.2 1734.6 L302.8 1727.5 L304.4 1716.2 L305 1712.5 L306 1708.6 L307.6 1704.5 L308.8 1701.3 L309.2 1700.3 L310.8 1706 L311.2 1707.9 L312.4 1701 L314 1685.1 L314.2 1684.8 L315.6 1693 L317.2 1703.2 L317.2 1704 L318.8 1690.1 L320.2 1682.3 L320.4 1682.1 L322 1695 L323.2 1707.8 L323.6 1708.9 L325.2 1713.3 L326.2 1715 L326.8 1712.8 L328.4 1710.5 L329.2 1709.2 L330 1716.5 L331.6 1730.3 L332.2 1736.2 L333.2 1747.5 L334.8 1763.4 L335.2 1767.1 L336.4 1767.7 L338 1768.6 L339.6 1766.7 L339.7 1767.2 L341.2 1751.4 L342.7 1739.7 L342.8 1741.8 L344.4 1728 L345.7 1719.3" stroke="#008000" stroke-width="2.8" fill="none" stroke-linejoin="round" stroke-linecap="round" clip-path="url(#cb3)"/>
<path d="M348.7 1748.7 L350.3 1748.9 L351.9 1753.7 L353.2 1749.9 L353.5 1752.6 L355.1 1749.8 L356.7 1747.3 L357.7 1745 L358.3 1739.3 L359.9 1726 L360.8 1716.1 L361.5 1709.7 L363.1 1696.2 L363.8 1690.3 L364.7 1692.8 L366.3 1707.3 L367.9 1716.4 L368.3 1720.9 L369.5 1726.3 L371.1 1731.7 L371.3 1735.2 L372.7 1719.1 L374.3 1705.1 L374.3 1700.7 L375.9 1712.3 L377.5 1721.5 L378.8 1727.2 L379.1 1727.1 L380.7 1715.5 L382.3 1707.1 L383.3 1703.5 L383.9 1707.3 L385.5 1711 L387.1 1720.3 L387.8 1724 L388.7 1723.3 L390.3 1723.1 L391.9 1724.7 L392.3 1726.3 L393.5 1726.8 L395.1 1726.9 L396 1727.5 L396.7 1724.6 L398.3 1728.1 L399.9 1730.8 L401.5 1735 L402 1733.7 L403.1 1733 L404.7 1732.6 L406.3 1732.2 L407.9 1732.1 L408 1729.9 L409.5 1736 L411.1 1737.5 L412.5 1738.9 L412.7 1738.8 L414.3 1730.8 L415.9 1726.9 L417 1717 L417.5 1723.1 L419.1 1736 L420 1744.8 L420.7 1741.8 L422.3 1743 L423.9 1744 L425.5 1744.7 L426 1746.4 L427.1 1747 L428.7 1749.9 L430.3 1751.1 L431.9 1752.7 L433.5 1753.9 L434.4 1755.2 L435.1 1753.2 L436.7 1752.3 L438.3 1749.3 L439.9 1745.7 L441 1742.8 L441.5 1746.8 L443.1 1743.5 L444.7 1746.8 L446.3 1748 L447 1747 L447.9 1745.4 L449.5 1748 L451.1 1744.6 L452.7 1742.6 L453 1743.9 L454.3 1740.1 L455.9 1737 L457.5 1736.1 L457.6 1735.2 L459.1 1737 L460.7 1738.9 L462 1741.1 L462.3 1738.5 L463.9 1739.1 L465.5 1739.1 L467.1 1736.3 L468 1737.1 L468.7 1737.3 L470.3 1738.6 L471.9 1735.2 L472.6 1736 L473.5 1736.5 L475.1 1735.9 L476.7 1740.9 L477 1741.9 L478.3 1738.1 L479.9 1734.2 L481.5 1735 L481.6 1733.4 L483.1 1733.6 L484.7 1734.7 L486 1735.7 L486.3 1735.4 L487.9 1733.3 L489 1729.5 L489.5 1729.4 L491.1 1720.3 L492 1717.7 L492.7 1720.2 L494.3 1731.2 L495.9 1740.3 L496.6 1741.2" stroke="#008000" stroke-width="2.8" fill="none" stroke-linejoin="round" stroke-linecap="round" clip-path="url(#cb3)"/>
<path d="M502.6 1740.3 L504.2 1741.4 L505.8 1744.1 L507 1745.5 L507.4 1745.4 L509 1748.5 L510.6 1750.5 L512.2 1750.6 L513 1751.1 L513.8 1750.6 L515.4 1749.3 L517 1744.7 L518.6 1744 L519 1744.7 L520.2 1741 L521.8 1743 L523.4 1740.4 L525 1738.3 L525 1739.3 L526.6 1736.3 L528.2 1734 L529.8 1732.7 L531 1729.4 L531.4 1730.3 L533 1734.3 L534.6 1733.6 L535.6 1738.3 L536.2 1739.6 L537.8 1738.8 L539.4 1736.2 L540 1735.7 L541 1735.4 L542.6 1732 L544.2 1729.2 L544.6 1725.9 L545.8 1731.5 L547.4 1736.7 L549 1742.2 L549 1743.2 L550.6 1740.9 L552.2 1738.3 L553.7 1739.1 L553.8 1737.9 L555.4 1734.9 L557 1728.2 L558 1726.2 L558.6 1732.3 L560.2 1738.5 L561.8 1745.5 L562.6 1748.2 L563.4 1750.1 L565 1746.4 L566.6 1746.6 L568.2 1744.8 L569.8 1747.3 L570 1746.1 L571.4 1743.6 L573 1749 L574.6 1748.5 L576.2 1747.7 L577.7 1750.8 L577.8 1748.1 L579.4 1749.3 L581 1748.2 L582.6 1750.3 L584.2 1747.5 L585.8 1750.5 L587.4 1749.2 L588 1749.8 L589 1749.9 L590.6 1753.7 L592.2 1751.4 L593.8 1751.1 L595.4 1748.5 L597 1751.6 L598.6 1750.3 L600 1749.7 L600.2 1749.8 L601.8 1750.5 L603.4 1751.1 L605 1751 L606.6 1752.4 L608.2 1755.4 L609.8 1751.5 L611.4 1751.1 L612 1750.7 L613 1750.7 L614.6 1752.7 L616.2 1751 L617.8 1752.1 L619.4 1749.9 L621 1753.5 L622.6 1752.8 L624 1751.4 L624.2 1750.6 L625.8 1753.3 L627.4 1753.4 L629 1754.8 L630.6 1753.9 L632.2 1756.7 L633 1757 L633.8 1755.6 L635.4 1754.3 L637 1752.8 L638.6 1750.9 L639 1748.2 L640.2 1749.1 L641.8 1749.1 L643.4 1748.4 L645 1750.4 L645 1748.7 L646.6 1745.9 L648.2 1741.6 L649.8 1738.9 L650.6 1734.6 L651.4 1736.7 L653 1742.9 L654.6 1748.1 L656 1750.5 L656.2 1750.4 L657.8 1755.1 L659.4 1756 L661 1756.8 L662.6 1761.3 L664.2 1765.9 L664.4 1764.7 L665.8 1759.5 L667.4 1753.9 L669 1749.1 L670.6 1748.2 L672.2 1739.2 L672.6 1741.6 L673.8 1737.7 L675.4 1738.3 L677 1738.2 L678.1 1739.2 L678.6 1742.3 L680.2 1749.6 L681.8 1760.7 L682.3 1760.5 L683.4 1750.1 L685 1738.9 L685 1738.2 L686.6 1743.1 L688.2 1748.5 L689.8 1753.5 L691.4 1757.1 L691.9 1760.4 L693 1762.1 L694.6 1764.3 L696.2 1771 L697.4 1771.3 L697.8 1768.4 L699.4 1764.1 L701 1760.2 L702.6 1757.6 L702.9 1756.6 L704.2 1757.9 L705.8 1765.5 L707 1769.9 L707.4 1768.5 L709 1764.4 L710.6 1761.3 L712.2 1760.8 L712.5 1758.2 L713.8 1760.2 L715.4 1757.3 L717 1755.6 L718 1756.5 L718.6 1756 L720.2 1762.2 L721.8 1766.6 L722.1 1772.1 L723.4 1761.9 L724.9 1754 L725 1752.8 L726.6 1751.5 L728.2 1748.8 L729.8 1752 L731.4 1748 L731.8 1748 L733 1745.4 L734.6 1738.8 L736.2 1734.7 L737.3 1734.4 L737.8 1735.3 L739.4 1741.4 L741 1746.3 L741.4 1750.9 L742.6 1745.1 L744.2 1745 L745.8 1739.6 L747.4 1740.4 L748.3 1736.4 L749 1736.4 L750.6 1733.6 L752.2 1728.9 L752.4 1727.2 L753.8 1716.8 L755.4 1703.3 L756.5 1695.1 L757 1701.4 L758.6 1714.1 L759.3 1720.6 L760.2 1715.2 L761.8 1706.1 L762.8 1701.8 L763.4 1711.8 L765 1738.6 L765.3 1744.5 L766.6 1742.2 L768.2 1739.4 L769.8 1735.6 L770.3 1733.7 L771.4 1739 L773 1742.5 L774.6 1747.1 L775.8 1748.9 L776.2 1750.9 L777.8 1765.1 L778.5 1771.7 L779.4 1774 L780.7 1781.1 L781 1781.9 L782.6 1778.5 L784.2 1780.2 L785.8 1781 L787.4 1779.7 L789 1781.5 L789.5 1781.9 L790.6 1779.9 L792.2 1778 L793.8 1780.4 L795.4 1781 L797 1780.8 L798.6 1782.6 L800.2 1781.8 L800.5 1783.1 L801.8 1781 L803.4 1781.5 L805 1780.5 L806.6 1780.3 L808.2 1780.3 L809.8 1780.8 L811.4 1781.7 L813 1778.8 L814.6 1781 L816.2 1781.3 L817 1779.9 L817.8 1781.8 L819.4 1781.7 L821 1781.6 L822.6 1778.4 L824.2 1779.9 L825.8 1780.1 L827.4 1776.7 L828 1775.4 L829 1776.7 L830.6 1779.4 L832.2 1776.7 L833.8 1778.1 L834 1778.9" stroke="#008000" stroke-width="2.8" fill="none" stroke-linejoin="round" stroke-linecap="round" clip-path="url(#cb3)"/>
<path d="M839 1774.9 L840.6 1774.4 L842.2 1774.5 L843.8 1773.9 L845.4 1772.9 L847 1774.6 L847.3 1772.6 L848.6 1772.2 L850.2 1770.3 L851.8 1769.1 L853.4 1768.3 L855 1766.3 L855.5 1767.3 L856.6 1768.7 L858.2 1771.9 L858.3 1772.9 L859.8 1773.1 L861.4 1773.3 L863 1770.4 L864.6 1771.2 L865.2 1772 L866.2 1770.6 L867.8 1776.5 L869.4 1778 L871 1779.1 L872 1778.3 L872.6 1774.9 L874.2 1778.9 L875.8 1775.7 L877.4 1779.1 L879 1781.4 L880.3 1779.6 L880.6 1779.5 L882.2 1779.1 L883.8 1779 L885.4 1782.1 L887 1779 L888.5 1783.6 L888.6 1781.8 L890.2 1782.1 L891.8 1784.3 L893.4 1782.3 L895 1784 L896.6 1781.2 L898 1784.9" stroke="#008000" stroke-width="2.8" fill="none" stroke-linejoin="round" stroke-linecap="round" clip-path="url(#cb3)"/>
<path d="M98 1897 L99.6 1891 L101 1885.3 L101.2 1889 L102.8 1894.5 L104 1899.3 L104.4 1899.2 L106 1895.5 L107 1890 L107.6 1894.5 L108.5 1902.4 L109.2 1897.5 L110 1892 L110.8 1892.4 L112.4 1896.1 L113 1892.7" stroke="#bf00bf" stroke-width="2.8" fill="none" stroke-linejoin="round" stroke-linecap="round" clip-path="url(#cb4)"/>
<path d="M120 1893.1 L121 1893.2" stroke="#bf00bf" stroke-width="2.8" fill="none" stroke-linejoin="round" stroke-linecap="round" clip-path="url(#cb4)"/>
<path d="M124.5 1906.7 L125.5 1905.1" stroke="#bf00bf" stroke-width="2.8" fill="none" stroke-linejoin="round" stroke-linecap="round" clip-path="url(#cb4)"/>
<path d="M132.5 1893.6 L134.1 1892.4 L135.7 1888 L137 1887.3 L137.3 1888.3 L138.9 1892 L140.5 1893.4 L142.1 1894.6 L143 1896.3 L143.7 1893 L145.3 1890.2 L146.9 1887 L147.6 1883.8 L148.5 1881.6 L150.1 1871.5 L150.6 1868.7 L151.7 1876.8 L153.3 1884.7 L153.6 1885.7 L154.9 1885.9 L156.5 1892.5 L158 1893.9 L158.1 1892.3 L159.7 1891.5 L161.3 1886.7 L162.6 1887.2" stroke="#bf00bf" stroke-width="2.8" fill="none" stroke-linejoin="round" stroke-linecap="round" clip-path="url(#cb4)"/>
<path d="M172.5 1891 L174 1890.5" stroke="#bf00bf" stroke-width="2.8" fill="none" stroke-linejoin="round" stroke-linecap="round" clip-path="url(#cb4)"/>
<path d="M179 1888.2 L180.6 1899.9 L182 1910 L182.2 1911 L183.8 1902.4 L185 1893.1 L185.4 1893 L187 1888.4 L188 1887.4 L188.6 1886.4 L190.2 1883.8 L191.8 1883.5 L192.6 1883.4 L193.4 1884.2 L195 1889.9 L195.6 1893 L196.6 1891.3 L198.2 1888 L199.8 1888.3 L200 1888.8 L201.4 1889 L203 1891.6 L204.6 1892.6 L204.6 1894.9 L206.2 1893.8 L207.8 1896.5 L209 1894.5 L209.4 1896.7 L211 1897.1 L212.6 1900.7 L214.2 1899.6 L215 1902.8 L215.8 1902.1 L217.4 1901.3 L219 1903 L220.6 1903.6 L221 1901.7 L222.2 1901.1 L223.8 1897.2 L225.4 1896.6 L227 1896.1 L227 1892.8 L228.6 1890 L229.5 1886.5 L230.2 1887.9 L231.8 1892.7 L233 1894.5 L233.4 1896.3 L235 1897.1 L236.6 1897.6 L237.6 1897.7" stroke="#bf00bf" stroke-width="2.8" fill="none" stroke-linejoin="round" stroke-linecap="round" clip-path="url(#cb4)"/>
<path d="M245 1894.5 L246.6 1893.6 L248.2 1894.5 L249.8 1894.8 L251 1897.8 L251.4 1896.8 L253 1899.8 L254.6 1898 L256.2 1899.3 L257 1900.8" stroke="#bf00bf" stroke-width="2.8" fill="none" stroke-linejoin="round" stroke-linecap="round" clip-path="url(#cb4)"/>
<path d="M263 1892.5 L264.6 1879.8 L266 1879.9 L266.2 1872.8 L267.7 1855.8 L267.8 1851 L269.4 1875.8 L269.8 1892.1 L271 1854.8 L271.6 1836 L272.6 1870.4 L273.4 1893.5 L274.2 1866.7 L275 1832.8 L275.8 1860.6 L277 1886.2 L277.4 1867.5 L278.8 1843.3 L279 1841.1 L280.6 1874.6 L281 1890.2 L282.2 1860 L282.7 1837.5 L283.8 1875.1 L284.2 1891.7 L285.4 1841.7 L285.7 1831.6 L287 1839.1 L288.6 1820.2 L288.7 1817.1 L290.2 1817.1 L291.7 1814.6 L291.8 1819.5 L293.4 1832.6 L294.7 1845.9 L295 1844.9 L296.6 1817.1 L296.8 1812.9 L298.2 1800 L299.2 1803.3 L299.8 1801.9 L301.4 1804.2 L302.2 1807.4 L303 1825.1 L303.7 1855.4 L304.6 1822 L305 1812.4 L306.2 1814.3 L307.8 1815.7 L308.2 1820.1 L309.4 1833.1 L310.6 1850.6" stroke="#bf00bf" stroke-width="2.8" fill="none" stroke-linejoin="round" stroke-linecap="round" clip-path="url(#cb4)"/>
<path d="M314.2 1855.6 L315.8 1853.6 L317.4 1852.6 L319 1844.5 L319.6 1844.2 L320.6 1847.2 L322.2 1855.6 L323.2 1859.4 L323.8 1863.7 L325.4 1867.5 L327 1875.1 L327.7 1877 L328.6 1875.7 L330.2 1881.7 L331.8 1881.7 L332.2 1881.8 L333.4 1885.7 L335 1888 L336.6 1887.9 L336.7 1888.6 L338.2 1891 L339.8 1893.9 L341.2 1897.6 L341.4 1899 L343 1892.8 L344.6 1885.7 L345.7 1881.8 L346.2 1884.8 L347.8 1889.5 L348.7 1890.5 L349.4 1888.2 L351 1876.3 L351.8 1869.3 L352.6 1876.5 L354.2 1887.7 L354.8 1894.4 L355.8 1892.5 L357.4 1887.5 L357.7 1889.3 L359 1884.9 L360.6 1880.5 L362.2 1878.4 L362.3 1876.2 L363.8 1883.8 L365.3 1890.8 L365.4 1889.7 L367 1889.1 L368.6 1890.2 L370.2 1892.2 L371.3 1892.5 L371.8 1890.6 L373.4 1888.4 L375 1885.5 L376.6 1880.2 L377.3 1880.3 L378.2 1881.2 L379.8 1886.2 L381.4 1886.8 L381.8 1886.5 L383 1895.2 L384.6 1901.2 L384.8 1903.5 L386.2 1901.7 L387.8 1902.8 L389.3 1902.8 L389.4 1903.1 L391 1902.1 L392.6 1900 L394.2 1899 L394.5 1898 L395.8 1903.9 L397.4 1908.6 L397.5 1908.3 L399 1907.2 L400.6 1906.4 L402 1908 L402.2 1907.7 L403.8 1911.8 L405.4 1915.7 L406.5 1918.6 L407 1919 L408.6 1914 L410.2 1908.7 L411 1908.2 L411.8 1910.6 L413.4 1910.5 L414 1911.9 L415 1906.3 L416.6 1895.1 L418.2 1885.8 L418.5 1881.5 L419.8 1883.3 L421.4 1883 L423 1879.6 L423 1882.6 L424.6 1879.3 L426.2 1881 L427.8 1877.6 L429 1879.1 L429.4 1878.9 L431 1878.5 L432.6 1877 L434.2 1878.9 L435 1878.6 L435.8 1877.4 L437.4 1874.5 L439 1876.6 L439.5 1874.2 L440.6 1855.6 L441 1846.5 L442.2 1874.3 L442.5 1881.3 L443.8 1882.2 L445.4 1881.5 L447 1883.4 L447 1884.7 L448.6 1883.5 L450.2 1881.7 L451.6 1883.4 L451.8 1884.2 L453.4 1887.6 L454.6 1884.6 L455 1886.3 L456.6 1883.7 L457.6 1883.1 L458.2 1889 L459.7 1902.9 L459.8 1904 L461.4 1905.7 L463 1908.6 L463.6 1907.6 L464.6 1906.8 L466.2 1908.3 L467.8 1910.6 L468 1910 L469.4 1911.9 L471 1916.9 L472.6 1917.3 L472.6 1920.2 L474.2 1925.8 L475.6 1928.1 L475.8 1931.4 L477.4 1931.1 L479 1933 L480 1934.6 L480.6 1933.6 L482.2 1932.3 L483.8 1933.7 L484 1933.9" stroke="#bf00bf" stroke-width="2.8" fill="none" stroke-linejoin="round" stroke-linecap="round" clip-path="url(#cb4)"/>
<path d="M490 1933.7 L491.6 1932.9 L493.2 1931.2 L493.6 1931.4 L494.8 1933.8 L496.4 1936.2 L496.6 1934.4" stroke="#bf00bf" stroke-width="2.8" fill="none" stroke-linejoin="round" stroke-linecap="round" clip-path="url(#cb4)"/>
<path d="M500 1934.8 L501.6 1937 L502.6 1938.2 L503.2 1936.7 L504.8 1935.8 L506.4 1935.1 L508 1936.7 L509.6 1938.8 L510 1936.9 L511.2 1937 L512.8 1937.3 L514.4 1938.2 L516 1939.8 L516 1939.1 L517.6 1933.5 L519.2 1934.3 L520.8 1931.2 L522 1932.5 L522.4 1931.9 L524 1931.6 L525.6 1931.2 L527.2 1931 L528.8 1928.5 L530.4 1929.1 L531 1928.6 L532 1928.6 L533.6 1929.5 L535.2 1929.6 L536.8 1932.7 L538.4 1930.3 L540 1932.6 L540 1934.6 L541.6 1931.8 L543.2 1934 L544.8 1933.3 L546.4 1932.9 L548 1931.6 L549 1930.5 L549.6 1932.6 L551.2 1932.4 L552.8 1932.9 L554.4 1932.3 L556 1934 L557.6 1932.8 L558 1936.2 L559.2 1935.9 L560.8 1936.8 L562.4 1935 L564 1933.3 L565.6 1936.9 L567 1936 L567.2 1935.3 L568.8 1935.7 L570.4 1935 L572 1934.6 L573.6 1932.9 L575.2 1929.9 L576 1931.2 L576.8 1929.3 L578.4 1931.9 L580 1932.3 L581.6 1939.8 L583.2 1935.1 L584.8 1934.4 L585 1935.9 L586.4 1934.7 L588 1937.5 L589.6 1939 L591.2 1935 L592.8 1937.8 L594.4 1935.6 L596 1936.4 L597 1936.5 L597.6 1937.7 L599.2 1934.9 L600.8 1933.5 L602.4 1933.3 L604 1935.4 L605.6 1931.2 L606 1933.7 L607.2 1934.8 L608.8 1933.8 L610.4 1934.9 L612 1933.3 L613.6 1931.7 L615.2 1934.3 L616.8 1934.3 L618 1934.4 L618.4 1934.8 L620 1935.3 L621.6 1935.1 L623.2 1935.4 L624.8 1935.3 L626.4 1934.8 L628 1935.1 L629.6 1934.2 L630 1936.7 L631.2 1937 L632.8 1939 L634.4 1940.2 L635.5 1940.3 L636 1937.4 L637.6 1936.9 L639.2 1935.5 L640.8 1927.9 L642.4 1927.4 L642.4 1927.7 L644 1930.2 L645.6 1934.1 L647.2 1932.3 L648.8 1934.7 L649.3 1934.1 L650.4 1936.1 L652 1933.8 L653.6 1936.8 L655.2 1935.6 L656.8 1935 L657.5 1937.4 L658.4 1936.4 L660 1938.6 L661.6 1938.7 L663.2 1936 L664.8 1942 L665.8 1938.8 L666.4 1938.9 L668 1936.6 L669.6 1934.5 L671.2 1927.7 L671.3 1931.5 L672.6 1900.8 L672.8 1910.5 L674 1939.1 L674.4 1930.1 L675.4 1904.3 L676 1908.9 L677.6 1928 L678.1 1934.1 L679.2 1937.9 L680.8 1940.2 L682.3 1944.3 L682.4 1947 L684 1938.4 L685.6 1931.3 L686.4 1930 L687.2 1929.6 L688.8 1926.9 L690.4 1929 L690.5 1930.3 L692 1933.1 L693.6 1935.8 L695.2 1939.2 L696 1939.8 L696.8 1940.4 L698.4 1932.7 L700 1931.8 L700.1 1933.1 L701.6 1925.2 L703.2 1912 L703.7 1913.1 L704.8 1914.7 L706.4 1921.8 L707.6 1924.4 L708 1924.7 L709.6 1922.3 L711.1 1918.2 L711.2 1915.4 L712.8 1914.6 L714.4 1912.8 L716 1910.2 L716.6 1912 L717.6 1910.3 L719.2 1913.8 L720.8 1917.7 L720.8 1919.1 L722.4 1916.7 L724 1915 L725.6 1911.7 L726.3 1908.7 L727.2 1907.8 L728.8 1907.2 L730.4 1907.7 L732 1905.5 L733.1 1905.3 L733.6 1899.1 L735.2 1892.1 L736.8 1884.2 L737.3 1882 L738.4 1890.2 L740 1897.3 L740 1897.6 L741.6 1895 L743.2 1889.3 L744.8 1884.6 L745.5 1885 L746.4 1881.4 L748 1880.7 L749.6 1876.7 L751.2 1872.1 L752.4 1870.8 L752.8 1870.3 L754.4 1867.7 L756 1862.5 L756.5 1863.1 L757.6 1859.5 L759.2 1855.1 L759.8 1852.1 L760.8 1854.6 L762.4 1858.9 L763.4 1860.3 L764 1874.5 L764.8 1889.7 L765.6 1890 L767.2 1888.4 L768.8 1891.3 L770.3 1890.9 L770.4 1889.7 L772 1891.1 L773.6 1889.5 L774.4 1889.1 L775.2 1895.8 L776.8 1910.1 L778.4 1922.7 L778.5 1924.8 L779.9 1947.3 L780 1947.2 L781.6 1945.4 L783.2 1941.3 L784 1939.9 L784.8 1941.5 L786.4 1942.5 L788 1943.6 L789.5 1945.7 L789.6 1943.9 L791.2 1941 L792.8 1939.3 L794.4 1938.8 L795 1938.5 L796 1935.4 L797.6 1935 L799.2 1934.7 L800.8 1935 L802.4 1933.6 L803.3 1932.9 L804 1934.9 L805.6 1941.4 L807.2 1941.7 L808.8 1946.8 L808.8 1947 L810.4 1948.7 L812 1948.7 L813.6 1946.3 L815.2 1950 L816.8 1948.3 L817 1949.7 L818.4 1947.5 L820 1942.8 L821.6 1945.1 L823.2 1940.6 L824.8 1940.1 L826.4 1940.7 L828 1935.6 L828 1938.2 L829.6 1939 L831.2 1939.6 L832.8 1944.1 L833.5 1946.1" stroke="#bf00bf" stroke-width="2.8" fill="none" stroke-linejoin="round" stroke-linecap="round" clip-path="url(#cb4)"/>
<path d="M841.8 1932.3 L843.4 1929.6 L845 1927.6 L846.6 1921.1 L847.3 1921.9 L848.2 1917.5 L849.8 1919.3 L851.4 1917.7 L852.8 1917.1 L853 1914 L854.6 1916.1 L856.2 1917.7 L857.8 1920.4 L858.3 1919 L859.4 1920.9 L861 1919.4 L862.6 1921.7 L864.2 1918.5 L865.8 1915.6 L866.5 1917.5 L867.4 1920.5 L869 1921.8 L870.6 1923.4 L872 1927.3 L872.2 1927.9 L873.8 1924.1 L875.4 1919.3 L877 1916.4 L877.5 1916.5 L878.6 1918 L880.2 1924.3 L881.8 1931.4 L883 1934.7 L883.4 1935 L885 1938.1 L886.6 1941.3 L887.2 1942.2 L888.2 1943.6 L889.8 1943.1 L891.4 1944.2 L893 1945 L894 1946.4 L894.6 1945.7 L896.2 1944.6 L897.8 1947.4 L898 1947.2" stroke="#bf00bf" stroke-width="2.8" fill="none" stroke-linejoin="round" stroke-linecap="round" clip-path="url(#cb4)"/>
<path d="M98 1931.5 L99.6 1933 L101.2 1931 L102.5 1934 L102.8 1933.7 L104.4 1934.9 L105.5 1936.1 L106 1935.7 L107.6 1933.8 L109.2 1932.9 L110 1932.3 L110.8 1931.8 L112.4 1932.7 L114 1934.2 L114.5 1932.1" stroke="#008000" stroke-width="2.8" fill="none" stroke-linejoin="round" stroke-linecap="round" clip-path="url(#cb4)"/>
<path d="M120 1930.5 L121.5 1933.3" stroke="#008000" stroke-width="2.8" fill="none" stroke-linejoin="round" stroke-linecap="round" clip-path="url(#cb4)"/>
<path d="M124.5 1932.9 L125.5 1931.9" stroke="#008000" stroke-width="2.8" fill="none" stroke-linejoin="round" stroke-linecap="round" clip-path="url(#cb4)"/>
<path d="M132.5 1938.7 L134.1 1936 L135.7 1936.1 L137 1934.8 L137.3 1936.6 L138.9 1935.8 L140.5 1936.5 L142.1 1935.8 L143 1935.6 L143.7 1936.8 L145.3 1935.2 L146.9 1932.4 L147.6 1931.6 L148.5 1929.5 L150.1 1928.7 L151.7 1929.1 L153.3 1927.7 L153.6 1929 L154.9 1930.4 L156.5 1932.3 L158 1938.7 L158.1 1936.4 L159.7 1934.4 L161.3 1937.2 L162.6 1935.5" stroke="#008000" stroke-width="2.8" fill="none" stroke-linejoin="round" stroke-linecap="round" clip-path="url(#cb4)"/>
<path d="M172 1932.4 L173.5 1933.8" stroke="#008000" stroke-width="2.8" fill="none" stroke-linejoin="round" stroke-linecap="round" clip-path="url(#cb4)"/>
<path d="M179 1936.1 L180.6 1937.5 L182 1938.8 L182.2 1938.4 L183.8 1939.2 L185.4 1938.2 L186.6 1936.9 L187 1936.8 L188.6 1937.1 L190.2 1936.9 L191.8 1941 L192.6 1939.6 L193.4 1937.9 L195 1942.2 L196.6 1940 L198.2 1941.5 L199.8 1941.6 L200 1943.2 L201.4 1941.4 L203 1941.6 L204.6 1939.5 L206.2 1941.4 L207.6 1944 L207.8 1941.4 L209.4 1944.1 L211 1946.4 L212.6 1945.9 L214.2 1941.8 L215 1944 L215.8 1945 L217.4 1944.7 L219 1945 L220.6 1947.7 L221 1948 L222.2 1948.8 L223.8 1944.9 L225.4 1944.7 L227 1943.5 L227 1944.4 L228.6 1941.6 L230 1941.1 L230.2 1938.7 L231.8 1942.5 L233.4 1943.2 L234.6 1944.3" stroke="#008000" stroke-width="2.8" fill="none" stroke-linejoin="round" stroke-linecap="round" clip-path="url(#cb4)"/>
<path d="M239 1943.3 L240.5 1944.8" stroke="#008000" stroke-width="2.8" fill="none" stroke-linejoin="round" stroke-linecap="round" clip-path="url(#cb4)"/>
<path d="M245 1948.2 L246.6 1945.1 L248.2 1948 L249.8 1949.3 L251 1948.1 L251.4 1945.5 L253 1946.7 L254.6 1943 L256.2 1946.7 L257 1943.9" stroke="#008000" stroke-width="2.8" fill="none" stroke-linejoin="round" stroke-linecap="round" clip-path="url(#cb4)"/>
<path d="M263 1949.2 L264.6 1929.8 L266 1916.1 L266.2 1917.6 L267.7 1938.5 L267.8 1935.1 L269 1911.5 L269.4 1917.5 L270.7 1939.8 L271 1936.4 L272 1911.7 L272.6 1924 L273.7 1940.3 L274.2 1932.9 L275 1915.4 L275.8 1925.4 L277.4 1938.8 L277.6 1940.7 L279 1925.8 L279.7 1917.8 L280.6 1927.3 L281.8 1938.3 L282.2 1938.3 L283.8 1941.3 L284.2 1943.4 L285.4 1917.3 L285.7 1908.1 L287 1907.4 L288.6 1907.6 L290 1906 L290.2 1906.4 L291.8 1902.5 L293.2 1899.8 L293.4 1902.2 L295 1905.2 L296 1902.1 L296.6 1899.5 L298.2 1891 L299.2 1883.2 L299.8 1885.3 L301.4 1893.5 L302.2 1897.1 L303 1895.3 L304.6 1892.1 L305 1891.2 L306.2 1890.1 L307.8 1889.3 L308.2 1889.7 L309.4 1891.5 L311 1896 L311.2 1897.6 L312.6 1892.1 L314.2 1889.5 L314.2 1888 L315.8 1892.4 L317.4 1896.3 L318.7 1898.6 L319 1897.9 L320.6 1890.6 L322.2 1886.2 L323.2 1884.4 L323.8 1882.5 L325.4 1881.5 L327 1879.1 L328.6 1875 L328.6 1874.8 L330.2 1880.3 L331.8 1881.3 L332.2 1884 L333.4 1888.7 L335 1897 L335.2 1895 L336.6 1900.9 L338.2 1901.6 L338.2 1902 L339.8 1903.2 L341.2 1906.2 L341.4 1903.6 L343 1893.1 L344.2 1885.9 L344.6 1883.5 L345.7 1876.7" stroke="#008000" stroke-width="2.8" fill="none" stroke-linejoin="round" stroke-linecap="round" clip-path="url(#cb4)"/>
<path d="M348.7 1893.7 L350.3 1894.8 L351.9 1889.3 L353.2 1895.1 L353.5 1893.6 L355.1 1892.4 L356.7 1891 L358.3 1891.2 L359.2 1889.2 L359.9 1890.5 L361.5 1892.1 L363.1 1893.5 L364.7 1890.4 L365.3 1894.7 L366.3 1894 L367.9 1894.1 L369.5 1893.6 L371.1 1890.9 L371.3 1888.7 L372.7 1889.1 L374.3 1887.7 L375.9 1889.3 L377.3 1883.7 L377.5 1883.3 L379.1 1880.5 L380.7 1874.6 L382.3 1873.8 L383.3 1869.2 L383.9 1868 L385.5 1869.7 L387.1 1869.7 L387.8 1866.5 L388.7 1869.6 L390.3 1872.9 L391.9 1873.9 L392.3 1876.4 L393 1884.3 L393.5 1879.6 L395.1 1871.3 L396 1866 L396.7 1868.1 L398.3 1870 L399.9 1876 L400.5 1878.6 L401.5 1875.3 L403.1 1871.9 L404.4 1869.9 L404.7 1868.7 L406.3 1854 L406.5 1852.5 L407.9 1871.4 L408 1875 L409.5 1881.3 L411 1890.2 L411.1 1890.6 L412.7 1899.7 L414 1904.7 L414.3 1902.9 L415.9 1895.5 L417 1891.6 L417.5 1897.9 L419.1 1914.2 L420 1921.8 L420.7 1920.7 L422.3 1923.7 L423.9 1924.7 L424.5 1924.1 L425.5 1925 L427.1 1922.4 L428.7 1926.8 L429 1926.2 L430.3 1926.6 L431.9 1931.1 L433.5 1934.1 L433.5 1934.4 L435.1 1934 L436.7 1936.7 L438.3 1937.3 L439.5 1938.1 L439.9 1936.3 L441.5 1932.2 L443.1 1924.9 L444 1922.5 L444.7 1924 L446.3 1927.2 L447.9 1930.2 L448.5 1929.4 L449.5 1928.2 L451.1 1933.2 L452.7 1934.1 L453 1932.1 L454.3 1931.8 L455.9 1924 L457.5 1917.8 L457.6 1917.4 L459.1 1912.6 L460.7 1908.3 L462 1902.6 L462.3 1903.2 L463.9 1900.5 L465 1898.2" stroke="#008000" stroke-width="2.8" fill="none" stroke-linejoin="round" stroke-linecap="round" clip-path="url(#cb4)"/>
<path d="M468 1899.3 L469.6 1899.3 L470.5 1897 L471.2 1892.4 L472.8 1883.8 L474 1878.4 L474.4 1875.1 L476 1872.1 L477 1867.7 L477.6 1862.8 L479.2 1860.3 L480 1859.9 L480.8 1858.8 L482.4 1854.3 L484 1855.1 L484.6 1851.1 L485.6 1852.2 L487.2 1853.4 L488.8 1856.6 L489 1855.3 L490.4 1850.3 L492 1844.5 L492 1846.1 L493.6 1850.4 L495 1853.7" stroke="#008000" stroke-width="2.8" fill="none" stroke-linejoin="round" stroke-linecap="round" clip-path="url(#cb4)"/>
<path d="M501 1848.7 L502.6 1851.5 L504.2 1851.1 L505.6 1852.7 L505.8 1855.8 L507.4 1857.3 L509 1856 L510.6 1860.2 L512.2 1858.8 L513 1858.9 L513.8 1860.8 L515.4 1862.2 L517 1865.2 L518.6 1864.8 L519 1868.8 L520.2 1867.9 L521.8 1867 L523.4 1870.3 L525 1870 L525 1870.2 L526.6 1874.1 L528.2 1877.4 L529.8 1880.3 L531 1881.8 L531.4 1881.6 L533 1876.7 L534.6 1873.7 L536.2 1868.2 L537 1867.8 L537.8 1865.2 L539.4 1862.3 L541 1861.7 L541.6 1859.5 L542.6 1858.2 L544.2 1851 L544.6 1850.9 L545.8 1856.7 L547.4 1868.7 L548.6 1878.1 L549 1873.5 L550.6 1868.7 L552 1865.2 L552.2 1865 L553.8 1861.4 L555.4 1859.2 L556.7 1857.2 L557 1854.8 L558.6 1860.9 L560.2 1868.5 L561 1872.9 L561.8 1871.5 L563.4 1869.9 L565 1871.5 L566.6 1871.9 L567 1870.2 L568.2 1871.8 L569.8 1875.1 L571.4 1877.6 L573 1879.5 L573 1879.1 L574.6 1880.1 L576.2 1883.7 L577.7 1886.9 L577.8 1887.9 L579.4 1883.9 L581 1885.5 L582.6 1886.3 L584.2 1887.3 L585 1885.6 L585.8 1885.6 L587.4 1889 L589 1888.1 L590.6 1889.7 L592.2 1892.4 L593.8 1892.4 L594 1893.3 L595.4 1894.4 L597 1895.9 L598.6 1896 L600 1897.9 L600.2 1900.1 L601.8 1900.5 L603.4 1902.8 L605 1907.1 L606 1903.8 L606.6 1904.6 L608.2 1906.6 L609.8 1903.9 L611.4 1907.3 L613 1906.2 L614.6 1905.6 L615 1904.1 L616.2 1902.6 L617.8 1904.3 L619.4 1904.4 L621 1907.3 L622.6 1907.6 L624 1905.8 L624.2 1906.5 L625.8 1905.8 L627.4 1905.3 L629 1905.6 L630 1906.1 L630.6 1909.5 L632.2 1904.1 L633.8 1903.7 L635.4 1905.1 L635.5 1907.3 L637 1908.2 L638.6 1908.3 L640.2 1914.2 L641 1915.8 L641.8 1914.9 L643.4 1913 L645 1910.7 L646.5 1911 L646.6 1909.9 L648.2 1903.4 L649.8 1894.7 L650.6 1890.8 L651.4 1892.1 L653 1892.9 L654.6 1894 L656.1 1897.5 L656.2 1898.8 L657.8 1901.4 L659.4 1902.7 L660.3 1906.1 L661 1907.6 L662.6 1910.1 L664.2 1911.6 L665.8 1915.2 L665.8 1916.9 L667.4 1921.9 L669 1931.4 L669.9 1939.8 L670.6 1940 L672.2 1940 L673.8 1937.1 L674 1937.4 L675.4 1928 L676.8 1914.7 L677 1913.7 L678.6 1911.9 L679.5 1908.3 L680.2 1906.9 L681.8 1902.3 L683.4 1901.5 L683.6 1899.6 L685 1901.5 L686.4 1904.5 L686.6 1905.2 L688.2 1913.2 L689.1 1917.2 L689.8 1918.6 L691.4 1922.9 L693 1926.3 L693.3 1925.1 L694.6 1929.2 L696 1934.1 L696.2 1936 L697.8 1936.6 L698.8 1939.2 L699.4 1938.8 L701 1937.6 L702.6 1940.3 L704.2 1940.4 L704.3 1937.9 L705.8 1938.2 L707.4 1937 L709 1938 L709.8 1938.9 L710.6 1939.3 L712.2 1941.1 L713.8 1939.9 L715.3 1943.1 L715.4 1941.5 L717 1943.7 L718.6 1943.7 L720.2 1943.5 L720.8 1944.8 L721.8 1944.8 L723.4 1943.8 L725 1941.2 L726.3 1941 L726.6 1941.9 L728.2 1942.1 L729.8 1943.7 L731.4 1943.7 L733 1946.4 L734.5 1945.5 L734.6 1946.5 L736.2 1947.3 L737.8 1946 L739.4 1946 L741 1947.5 L742.6 1947.8 L744.2 1945.9 L745.5 1948.1 L745.8 1947.7 L747.4 1946.8 L749 1952.4 L750.6 1948.7 L752.2 1948.4 L753.8 1950.5 L755.4 1950.6 L756.5 1951.1 L757 1949 L758.6 1947.3 L760.2 1949.1 L761.8 1948.7 L763.4 1948.9 L764.8 1946.3 L765 1947 L766.6 1943.5 L768.2 1944.2 L769.8 1945.9 L770.3 1945.3 L771.4 1943.6 L773 1944.7 L774.6 1946.5 L775.8 1948.4 L776.2 1948 L777.8 1953.1 L779.4 1956.4 L779.9 1958.6 L781 1958.1 L782.6 1958.8 L784.2 1957 L785.8 1959.7 L787.4 1961.4 L789 1961.3 L789.5 1959.5 L790.6 1958.7 L792.2 1960.2 L793.8 1960.1 L795.4 1959.5 L797 1959.8 L798.6 1959.4 L800.2 1961.3 L800.5 1961.8 L801.8 1960.4 L803.4 1960.2 L805 1957.2 L806.6 1959.4 L808.2 1960 L809.8 1956.1 L811.4 1958.3 L811.5 1957.9 L813 1956.8 L814.6 1958 L816.2 1958.9 L817.8 1957.5 L819.4 1957.2 L821 1958.2 L822.5 1957.3 L822.6 1956.8 L824.2 1955.4 L825.8 1956.6 L827.4 1955.5 L829 1953.9 L830.6 1953.6 L832.1 1954.6" stroke="#008000" stroke-width="2.8" fill="none" stroke-linejoin="round" stroke-linecap="round" clip-path="url(#cb4)"/>
<path d="M840 1950.6 L841.5 1949.9" stroke="#008000" stroke-width="2.8" fill="none" stroke-linejoin="round" stroke-linecap="round" clip-path="url(#cb4)"/>
<path d="M844.5 1948.3 L846.1 1952.5 L847.3 1958.4 L847.7 1956.6 L849.3 1956.5 L850.9 1956.8 L852.5 1957.2 L854.1 1956.8 L855.7 1956.2 L857.3 1955.2 L858.3 1959.6 L858.9 1958.3 L860.5 1957.7 L862.1 1957.7 L863.7 1957.2 L865.3 1956.1 L866.9 1960.5 L868.5 1958.6 L869.3 1958.8 L870.1 1958.1 L871.7 1957.9 L873.3 1958.4 L874.9 1959.6 L876.5 1959.1 L878.1 1960.7 L879.7 1959.4 L880.3 1959.5 L881.3 1960.2 L882.9 1959.3 L884.5 1960 L886.1 1960.1 L887.7 1960.6 L889.3 1960 L890.9 1960 L891.3 1962.5 L892.5 1961.1 L894.1 1960.6 L895.7 1959 L897.3 1961.2 L898 1961" stroke="#008000" stroke-width="2.8" fill="none" stroke-linejoin="round" stroke-linecap="round" clip-path="url(#cb4)"/>
<rect x="92.7" y="51" width="806.8" height="173.8" fill="none" stroke="#1a1a1a" stroke-width="1.7"/>
<line x1="254.1" y1="51" x2="254.1" y2="59" stroke="#1a1a1a" stroke-width="1.5"/>
<line x1="415.4" y1="51" x2="415.4" y2="59" stroke="#1a1a1a" stroke-width="1.5"/>
<line x1="576.8" y1="51" x2="576.8" y2="59" stroke="#1a1a1a" stroke-width="1.5"/>
<line x1="738.1" y1="51" x2="738.1" y2="59" stroke="#1a1a1a" stroke-width="1.5"/>
<line x1="254.1" y1="224.8" x2="254.1" y2="216.8" stroke="#1a1a1a" stroke-width="1.5"/>
<line x1="415.4" y1="224.8" x2="415.4" y2="216.8" stroke="#1a1a1a" stroke-width="1.5"/>
<line x1="576.8" y1="224.8" x2="576.8" y2="216.8" stroke="#1a1a1a" stroke-width="1.5"/>
<line x1="738.1" y1="224.8" x2="738.1" y2="216.8" stroke="#1a1a1a" stroke-width="1.5"/>
<rect x="92.7" y="224.8" width="806.8" height="174" fill="none" stroke="#1a1a1a" stroke-width="1.7"/>
<line x1="254.1" y1="224.8" x2="254.1" y2="232.8" stroke="#1a1a1a" stroke-width="1.5"/>
<line x1="415.4" y1="224.8" x2="415.4" y2="232.8" stroke="#1a1a1a" stroke-width="1.5"/>
<line x1="576.8" y1="224.8" x2="576.8" y2="232.8" stroke="#1a1a1a" stroke-width="1.5"/>
<line x1="738.1" y1="224.8" x2="738.1" y2="232.8" stroke="#1a1a1a" stroke-width="1.5"/>
<line x1="254.1" y1="398.8" x2="254.1" y2="390.8" stroke="#1a1a1a" stroke-width="1.5"/>
<line x1="415.4" y1="398.8" x2="415.4" y2="390.8" stroke="#1a1a1a" stroke-width="1.5"/>
<line x1="576.8" y1="398.8" x2="576.8" y2="390.8" stroke="#1a1a1a" stroke-width="1.5"/>
<line x1="738.1" y1="398.8" x2="738.1" y2="390.8" stroke="#1a1a1a" stroke-width="1.5"/>
<rect x="92.7" y="398.8" width="806.8" height="174" fill="none" stroke="#1a1a1a" stroke-width="1.7"/>
<line x1="254.1" y1="398.8" x2="254.1" y2="406.8" stroke="#1a1a1a" stroke-width="1.5"/>
<line x1="415.4" y1="398.8" x2="415.4" y2="406.8" stroke="#1a1a1a" stroke-width="1.5"/>
<line x1="576.8" y1="398.8" x2="576.8" y2="406.8" stroke="#1a1a1a" stroke-width="1.5"/>
<line x1="738.1" y1="398.8" x2="738.1" y2="406.8" stroke="#1a1a1a" stroke-width="1.5"/>
<line x1="254.1" y1="572.8" x2="254.1" y2="564.8" stroke="#1a1a1a" stroke-width="1.5"/>
<line x1="415.4" y1="572.8" x2="415.4" y2="564.8" stroke="#1a1a1a" stroke-width="1.5"/>
<line x1="576.8" y1="572.8" x2="576.8" y2="564.8" stroke="#1a1a1a" stroke-width="1.5"/>
<line x1="738.1" y1="572.8" x2="738.1" y2="564.8" stroke="#1a1a1a" stroke-width="1.5"/>
<rect x="92.7" y="572.8" width="806.8" height="172.8" fill="none" stroke="#1a1a1a" stroke-width="1.7"/>
<line x1="254.1" y1="745.6" x2="254.1" y2="737.6" stroke="#1a1a1a" stroke-width="1.5"/>
<line x1="415.4" y1="745.6" x2="415.4" y2="737.6" stroke="#1a1a1a" stroke-width="1.5"/>
<line x1="576.8" y1="745.6" x2="576.8" y2="737.6" stroke="#1a1a1a" stroke-width="1.5"/>
<line x1="738.1" y1="745.6" x2="738.1" y2="737.6" stroke="#1a1a1a" stroke-width="1.5"/>
<rect x="92.7" y="745.6" width="806.8" height="173.9" fill="none" stroke="#1a1a1a" stroke-width="1.7"/>
<line x1="254.1" y1="745.6" x2="254.1" y2="753.6" stroke="#1a1a1a" stroke-width="1.5"/>
<line x1="415.4" y1="745.6" x2="415.4" y2="753.6" stroke="#1a1a1a" stroke-width="1.5"/>
<line x1="576.8" y1="745.6" x2="576.8" y2="753.6" stroke="#1a1a1a" stroke-width="1.5"/>
<line x1="738.1" y1="745.6" x2="738.1" y2="753.6" stroke="#1a1a1a" stroke-width="1.5"/>
<line x1="254.1" y1="919.5" x2="254.1" y2="911.5" stroke="#1a1a1a" stroke-width="1.5"/>
<line x1="415.4" y1="919.5" x2="415.4" y2="911.5" stroke="#1a1a1a" stroke-width="1.5"/>
<line x1="576.8" y1="919.5" x2="576.8" y2="911.5" stroke="#1a1a1a" stroke-width="1.5"/>
<line x1="738.1" y1="919.5" x2="738.1" y2="911.5" stroke="#1a1a1a" stroke-width="1.5"/>
<line x1="125" y1="745.6" x2="125" y2="741.1" stroke="#1a1a1a" stroke-width="1.5"/>
<line x1="157.2" y1="745.6" x2="157.2" y2="741.1" stroke="#1a1a1a" stroke-width="1.5"/>
<line x1="189.5" y1="745.6" x2="189.5" y2="741.1" stroke="#1a1a1a" stroke-width="1.5"/>
<line x1="221.8" y1="745.6" x2="221.8" y2="741.1" stroke="#1a1a1a" stroke-width="1.5"/>
<line x1="286.3" y1="745.6" x2="286.3" y2="741.1" stroke="#1a1a1a" stroke-width="1.5"/>
<line x1="318.6" y1="745.6" x2="318.6" y2="741.1" stroke="#1a1a1a" stroke-width="1.5"/>
<line x1="350.9" y1="745.6" x2="350.9" y2="741.1" stroke="#1a1a1a" stroke-width="1.5"/>
<line x1="383.1" y1="745.6" x2="383.1" y2="741.1" stroke="#1a1a1a" stroke-width="1.5"/>
<line x1="447.7" y1="745.6" x2="447.7" y2="741.1" stroke="#1a1a1a" stroke-width="1.5"/>
<line x1="480" y1="745.6" x2="480" y2="741.1" stroke="#1a1a1a" stroke-width="1.5"/>
<line x1="512.2" y1="745.6" x2="512.2" y2="741.1" stroke="#1a1a1a" stroke-width="1.5"/>
<line x1="544.5" y1="745.6" x2="544.5" y2="741.1" stroke="#1a1a1a" stroke-width="1.5"/>
<line x1="609.1" y1="745.6" x2="609.1" y2="741.1" stroke="#1a1a1a" stroke-width="1.5"/>
<line x1="641.3" y1="745.6" x2="641.3" y2="741.1" stroke="#1a1a1a" stroke-width="1.5"/>
<line x1="673.6" y1="745.6" x2="673.6" y2="741.1" stroke="#1a1a1a" stroke-width="1.5"/>
<line x1="705.9" y1="745.6" x2="705.9" y2="741.1" stroke="#1a1a1a" stroke-width="1.5"/>
<line x1="770.4" y1="745.6" x2="770.4" y2="741.1" stroke="#1a1a1a" stroke-width="1.5"/>
<line x1="802.7" y1="745.6" x2="802.7" y2="741.1" stroke="#1a1a1a" stroke-width="1.5"/>
<line x1="835" y1="745.6" x2="835" y2="741.1" stroke="#1a1a1a" stroke-width="1.5"/>
<line x1="867.2" y1="745.6" x2="867.2" y2="741.1" stroke="#1a1a1a" stroke-width="1.5"/>
<line x1="125" y1="745.6" x2="125" y2="750.1" stroke="#1a1a1a" stroke-width="1.5"/>
<line x1="157.2" y1="745.6" x2="157.2" y2="750.1" stroke="#1a1a1a" stroke-width="1.5"/>
<line x1="189.5" y1="745.6" x2="189.5" y2="750.1" stroke="#1a1a1a" stroke-width="1.5"/>
<line x1="221.8" y1="745.6" x2="221.8" y2="750.1" stroke="#1a1a1a" stroke-width="1.5"/>
<line x1="286.3" y1="745.6" x2="286.3" y2="750.1" stroke="#1a1a1a" stroke-width="1.5"/>
<line x1="318.6" y1="745.6" x2="318.6" y2="750.1" stroke="#1a1a1a" stroke-width="1.5"/>
<line x1="350.9" y1="745.6" x2="350.9" y2="750.1" stroke="#1a1a1a" stroke-width="1.5"/>
<line x1="383.1" y1="745.6" x2="383.1" y2="750.1" stroke="#1a1a1a" stroke-width="1.5"/>
<line x1="447.7" y1="745.6" x2="447.7" y2="750.1" stroke="#1a1a1a" stroke-width="1.5"/>
<line x1="480" y1="745.6" x2="480" y2="750.1" stroke="#1a1a1a" stroke-width="1.5"/>
<line x1="512.2" y1="745.6" x2="512.2" y2="750.1" stroke="#1a1a1a" stroke-width="1.5"/>
<line x1="544.5" y1="745.6" x2="544.5" y2="750.1" stroke="#1a1a1a" stroke-width="1.5"/>
<line x1="609.1" y1="745.6" x2="609.1" y2="750.1" stroke="#1a1a1a" stroke-width="1.5"/>
<line x1="641.3" y1="745.6" x2="641.3" y2="750.1" stroke="#1a1a1a" stroke-width="1.5"/>
<line x1="673.6" y1="745.6" x2="673.6" y2="750.1" stroke="#1a1a1a" stroke-width="1.5"/>
<line x1="705.9" y1="745.6" x2="705.9" y2="750.1" stroke="#1a1a1a" stroke-width="1.5"/>
<line x1="770.4" y1="745.6" x2="770.4" y2="750.1" stroke="#1a1a1a" stroke-width="1.5"/>
<line x1="802.7" y1="745.6" x2="802.7" y2="750.1" stroke="#1a1a1a" stroke-width="1.5"/>
<line x1="835" y1="745.6" x2="835" y2="750.1" stroke="#1a1a1a" stroke-width="1.5"/>
<line x1="867.2" y1="745.6" x2="867.2" y2="750.1" stroke="#1a1a1a" stroke-width="1.5"/>
<line x1="125" y1="919.5" x2="125" y2="915" stroke="#1a1a1a" stroke-width="1.5"/>
<line x1="157.2" y1="919.5" x2="157.2" y2="915" stroke="#1a1a1a" stroke-width="1.5"/>
<line x1="189.5" y1="919.5" x2="189.5" y2="915" stroke="#1a1a1a" stroke-width="1.5"/>
<line x1="221.8" y1="919.5" x2="221.8" y2="915" stroke="#1a1a1a" stroke-width="1.5"/>
<line x1="286.3" y1="919.5" x2="286.3" y2="915" stroke="#1a1a1a" stroke-width="1.5"/>
<line x1="318.6" y1="919.5" x2="318.6" y2="915" stroke="#1a1a1a" stroke-width="1.5"/>
<line x1="350.9" y1="919.5" x2="350.9" y2="915" stroke="#1a1a1a" stroke-width="1.5"/>
<line x1="383.1" y1="919.5" x2="383.1" y2="915" stroke="#1a1a1a" stroke-width="1.5"/>
<line x1="447.7" y1="919.5" x2="447.7" y2="915" stroke="#1a1a1a" stroke-width="1.5"/>
<line x1="480" y1="919.5" x2="480" y2="915" stroke="#1a1a1a" stroke-width="1.5"/>
<line x1="512.2" y1="919.5" x2="512.2" y2="915" stroke="#1a1a1a" stroke-width="1.5"/>
<line x1="544.5" y1="919.5" x2="544.5" y2="915" stroke="#1a1a1a" stroke-width="1.5"/>
<line x1="609.1" y1="919.5" x2="609.1" y2="915" stroke="#1a1a1a" stroke-width="1.5"/>
<line x1="641.3" y1="919.5" x2="641.3" y2="915" stroke="#1a1a1a" stroke-width="1.5"/>
<line x1="673.6" y1="919.5" x2="673.6" y2="915" stroke="#1a1a1a" stroke-width="1.5"/>
<line x1="705.9" y1="919.5" x2="705.9" y2="915" stroke="#1a1a1a" stroke-width="1.5"/>
<line x1="770.4" y1="919.5" x2="770.4" y2="915" stroke="#1a1a1a" stroke-width="1.5"/>
<line x1="802.7" y1="919.5" x2="802.7" y2="915" stroke="#1a1a1a" stroke-width="1.5"/>
<line x1="835" y1="919.5" x2="835" y2="915" stroke="#1a1a1a" stroke-width="1.5"/>
<line x1="867.2" y1="919.5" x2="867.2" y2="915" stroke="#1a1a1a" stroke-width="1.5"/>
<line x1="254.1" y1="919.5" x2="254.1" y2="911.5" stroke="#1a1a1a" stroke-width="1.5"/>
<line x1="415.4" y1="919.5" x2="415.4" y2="911.5" stroke="#1a1a1a" stroke-width="1.5"/>
<line x1="576.8" y1="919.5" x2="576.8" y2="911.5" stroke="#1a1a1a" stroke-width="1.5"/>
<line x1="738.1" y1="919.5" x2="738.1" y2="911.5" stroke="#1a1a1a" stroke-width="1.5"/>
<line x1="92.7" y1="77.8" x2="101.2" y2="77.8" stroke="#1a1a1a" stroke-width="1.6"/>
<line x1="891" y1="77.8" x2="899.5" y2="77.8" stroke="#1a1a1a" stroke-width="1.6"/>
<line x1="92.7" y1="144.4" x2="101.2" y2="144.4" stroke="#1a1a1a" stroke-width="1.6"/>
<line x1="891" y1="144.4" x2="899.5" y2="144.4" stroke="#1a1a1a" stroke-width="1.6"/>
<line x1="92.7" y1="211" x2="101.2" y2="211" stroke="#1a1a1a" stroke-width="1.6"/>
<line x1="891" y1="211" x2="899.5" y2="211" stroke="#1a1a1a" stroke-width="1.6"/>
<line x1="92.7" y1="236.8" x2="101.2" y2="236.8" stroke="#1a1a1a" stroke-width="1.6"/>
<line x1="891" y1="236.8" x2="899.5" y2="236.8" stroke="#1a1a1a" stroke-width="1.6"/>
<line x1="92.7" y1="286.5" x2="101.2" y2="286.5" stroke="#1a1a1a" stroke-width="1.6"/>
<line x1="891" y1="286.5" x2="899.5" y2="286.5" stroke="#1a1a1a" stroke-width="1.6"/>
<line x1="92.7" y1="336.2" x2="101.2" y2="336.2" stroke="#1a1a1a" stroke-width="1.6"/>
<line x1="891" y1="336.2" x2="899.5" y2="336.2" stroke="#1a1a1a" stroke-width="1.6"/>
<line x1="92.7" y1="385.9" x2="101.2" y2="385.9" stroke="#1a1a1a" stroke-width="1.6"/>
<line x1="891" y1="385.9" x2="899.5" y2="385.9" stroke="#1a1a1a" stroke-width="1.6"/>
<line x1="92.7" y1="452.5" x2="101.2" y2="452.5" stroke="#1a1a1a" stroke-width="1.6"/>
<line x1="891" y1="452.5" x2="899.5" y2="452.5" stroke="#1a1a1a" stroke-width="1.6"/>
<line x1="92.7" y1="505.7" x2="101.2" y2="505.7" stroke="#1a1a1a" stroke-width="1.6"/>
<line x1="891" y1="505.7" x2="899.5" y2="505.7" stroke="#1a1a1a" stroke-width="1.6"/>
<line x1="92.7" y1="558.9" x2="101.2" y2="558.9" stroke="#1a1a1a" stroke-width="1.6"/>
<line x1="891" y1="558.9" x2="899.5" y2="558.9" stroke="#1a1a1a" stroke-width="1.6"/>
<line x1="92.7" y1="601.3" x2="101.2" y2="601.3" stroke="#1a1a1a" stroke-width="1.6"/>
<line x1="891" y1="601.3" x2="899.5" y2="601.3" stroke="#1a1a1a" stroke-width="1.6"/>
<line x1="92.7" y1="659.1" x2="101.2" y2="659.1" stroke="#1a1a1a" stroke-width="1.6"/>
<line x1="891" y1="659.1" x2="899.5" y2="659.1" stroke="#1a1a1a" stroke-width="1.6"/>
<line x1="92.7" y1="716.9" x2="101.2" y2="716.9" stroke="#1a1a1a" stroke-width="1.6"/>
<line x1="891" y1="716.9" x2="899.5" y2="716.9" stroke="#1a1a1a" stroke-width="1.6"/>
<line x1="92.7" y1="789" x2="101.2" y2="789" stroke="#1a1a1a" stroke-width="1.6"/>
<line x1="891" y1="789" x2="899.5" y2="789" stroke="#1a1a1a" stroke-width="1.6"/>
<line x1="92.7" y1="832.5" x2="101.2" y2="832.5" stroke="#1a1a1a" stroke-width="1.6"/>
<line x1="891" y1="832.5" x2="899.5" y2="832.5" stroke="#1a1a1a" stroke-width="1.6"/>
<line x1="92.7" y1="876" x2="101.2" y2="876" stroke="#1a1a1a" stroke-width="1.6"/>
<line x1="891" y1="876" x2="899.5" y2="876" stroke="#1a1a1a" stroke-width="1.6"/>
<text transform="translate(86.2 85.8) scale(1.16 1)" text-anchor="end" font-family="Liberation Sans, sans-serif" font-weight="bold" font-size="20.4">0</text>
<text transform="translate(86.2 152.4) scale(1.16 1)" text-anchor="end" font-family="Liberation Sans, sans-serif" font-weight="bold" font-size="20.4">−5</text>
<text transform="translate(86.2 219) scale(1.16 1)" text-anchor="end" font-family="Liberation Sans, sans-serif" font-weight="bold" font-size="20.4">−10</text>
<text transform="translate(86.2 244.8) scale(1.16 1)" text-anchor="end" font-family="Liberation Sans, sans-serif" font-weight="bold" font-size="20.4">40</text>
<text transform="translate(86.2 294.5) scale(1.16 1)" text-anchor="end" font-family="Liberation Sans, sans-serif" font-weight="bold" font-size="20.4">20</text>
<text transform="translate(86.2 344.2) scale(1.16 1)" text-anchor="end" font-family="Liberation Sans, sans-serif" font-weight="bold" font-size="20.4">0</text>
<text transform="translate(86.2 393.9) scale(1.16 1)" text-anchor="end" font-family="Liberation Sans, sans-serif" font-weight="bold" font-size="20.4">−20</text>
<text transform="translate(86.2 609.3) scale(1.16 1)" text-anchor="end" font-family="Liberation Sans, sans-serif" font-weight="bold" font-size="20.4">800</text>
<text transform="translate(86.2 667.1) scale(1.16 1)" text-anchor="end" font-family="Liberation Sans, sans-serif" font-weight="bold" font-size="20.4">600</text>
<text transform="translate(86.2 724.9) scale(1.16 1)" text-anchor="end" font-family="Liberation Sans, sans-serif" font-weight="bold" font-size="20.4">400</text>
<text transform="translate(86.2 753.5) scale(1.16 1)" text-anchor="end" font-family="Liberation Sans, sans-serif" font-weight="bold" font-size="20.4">20</text>
<text transform="translate(86.2 797) scale(1.16 1)" text-anchor="end" font-family="Liberation Sans, sans-serif" font-weight="bold" font-size="20.4">15</text>
<text transform="translate(86.2 840.5) scale(1.16 1)" text-anchor="end" font-family="Liberation Sans, sans-serif" font-weight="bold" font-size="20.4">10</text>
<text transform="translate(86.2 884) scale(1.16 1)" text-anchor="end" font-family="Liberation Sans, sans-serif" font-weight="bold" font-size="20.4">5</text>
<text transform="translate(907 407.6) scale(1.16 1)" text-anchor="start" font-family="Liberation Sans, sans-serif" font-weight="bold" font-size="20.4">40</text>
<text transform="translate(907 460.8) scale(1.16 1)" text-anchor="start" font-family="Liberation Sans, sans-serif" font-weight="bold" font-size="20.4">20</text>
<text transform="translate(907 514) scale(1.16 1)" text-anchor="start" font-family="Liberation Sans, sans-serif" font-weight="bold" font-size="20.4">0</text>
<text transform="translate(907 567.2) scale(1.16 1)" text-anchor="start" font-family="Liberation Sans, sans-serif" font-weight="bold" font-size="20.4">−20</text>
<text transform="translate(907 609.6) scale(1.16 1)" text-anchor="start" font-family="Liberation Sans, sans-serif" font-weight="bold" font-size="20.4">3.6</text>
<text transform="translate(907 667.4) scale(1.16 1)" text-anchor="start" font-family="Liberation Sans, sans-serif" font-weight="bold" font-size="20.4">1.8</text>
<text transform="translate(907 725.2) scale(1.16 1)" text-anchor="start" font-family="Liberation Sans, sans-serif" font-weight="bold" font-size="20.4">0</text>
<text transform="translate(907 753.8) scale(1.16 1)" text-anchor="start" font-family="Liberation Sans, sans-serif" font-weight="bold" font-size="20.4">15</text>
<text transform="translate(907 797.3) scale(1.16 1)" text-anchor="start" font-family="Liberation Sans, sans-serif" font-weight="bold" font-size="20.4">11.25</text>
<text transform="translate(907 840.8) scale(1.16 1)" text-anchor="start" font-family="Liberation Sans, sans-serif" font-weight="bold" font-size="20.4">7.5</text>
<text transform="translate(907 884.3) scale(1.16 1)" text-anchor="start" font-family="Liberation Sans, sans-serif" font-weight="bold" font-size="20.4">3.75</text>
<text transform="translate(907 927.8) scale(1.16 1)" text-anchor="start" font-family="Liberation Sans, sans-serif" font-weight="bold" font-size="20.4">0</text>
<text transform="translate(900.5 736) scale(1.16 1)" text-anchor="start" font-family="Liberation Sans, sans-serif" font-weight="bold" font-size="20.4">x 10<tspan font-size="16" dy="-10">5</tspan></text>
<text transform="translate(92.7 945.6) scale(1.16 1)" text-anchor="middle" font-family="Liberation Sans, sans-serif" font-weight="bold" font-size="20.4">23.5</text>
<text transform="translate(254.1 945.6) scale(1.16 1)" text-anchor="middle" font-family="Liberation Sans, sans-serif" font-weight="bold" font-size="20.4">24</text>
<text transform="translate(415.4 945.6) scale(1.16 1)" text-anchor="middle" font-family="Liberation Sans, sans-serif" font-weight="bold" font-size="20.4">24.5</text>
<text transform="translate(576.8 945.6) scale(1.16 1)" text-anchor="middle" font-family="Liberation Sans, sans-serif" font-weight="bold" font-size="20.4">25</text>
<text transform="translate(738.1 945.6) scale(1.16 1)" text-anchor="middle" font-family="Liberation Sans, sans-serif" font-weight="bold" font-size="20.4">25.5</text>
<text transform="translate(899.5 945.6) scale(1.16 1)" text-anchor="middle" font-family="Liberation Sans, sans-serif" font-weight="bold" font-size="20.4">26</text>
<text transform="translate(449 969.3) scale(1.16 1)" text-anchor="start" font-family="Liberation Sans, sans-serif" font-weight="bold" font-size="20.4">Day (UT)</text>
<text transform="translate(30 135.5) rotate(-90) scale(1 1.16)" text-anchor="middle" font-family="Liberation Sans, sans-serif" font-weight="bold" font-size="20.4">CR (% Variation)</text>
<text transform="translate(28.8 314.2) rotate(-90) scale(1 1.16)" text-anchor="middle" font-family="Liberation Sans, sans-serif" font-weight="bold" font-size="20.4">B (nT)</text>
<text transform="translate(20.5 660) rotate(-90) scale(1 1.16)" text-anchor="middle" font-family="Liberation Sans, sans-serif" font-weight="bold" font-size="20.4">V<tspan font-size="16" dy="11">sw</tspan><tspan dy="-11"> (km/s)</tspan></text>
<text transform="translate(43.8 833.3) rotate(-90) scale(1 1.16)" text-anchor="middle" font-family="Liberation Sans, sans-serif" font-weight="bold" font-size="20.4">N (n/cc)</text>
<text transform="translate(973.5 485.6) rotate(-90) scale(1 1.16)" text-anchor="middle" font-family="Liberation Sans, sans-serif" font-weight="bold" font-size="20.4">B (nT)</text>
<text transform="translate(967 658.7) rotate(-90) scale(1 1.16)" text-anchor="middle" font-family="Liberation Sans, sans-serif" font-weight="bold" font-size="20.4">Beta</text>
<text transform="translate(992 833) rotate(-90) scale(1 1.16)" text-anchor="middle" font-family="Liberation Sans, sans-serif" font-weight="bold" font-size="20.4">Temp (K)</text>
<rect x="98.5" y="1082.3" width="800.5" height="176.1" fill="none" stroke="#1a1a1a" stroke-width="1.7"/>
<line x1="187.4" y1="1082.3" x2="187.4" y2="1090.3" stroke="#1a1a1a" stroke-width="1.5"/>
<line x1="276.4" y1="1082.3" x2="276.4" y2="1090.3" stroke="#1a1a1a" stroke-width="1.5"/>
<line x1="365.3" y1="1082.3" x2="365.3" y2="1090.3" stroke="#1a1a1a" stroke-width="1.5"/>
<line x1="454.3" y1="1082.3" x2="454.3" y2="1090.3" stroke="#1a1a1a" stroke-width="1.5"/>
<line x1="543.2" y1="1082.3" x2="543.2" y2="1090.3" stroke="#1a1a1a" stroke-width="1.5"/>
<line x1="632.2" y1="1082.3" x2="632.2" y2="1090.3" stroke="#1a1a1a" stroke-width="1.5"/>
<line x1="721.1" y1="1082.3" x2="721.1" y2="1090.3" stroke="#1a1a1a" stroke-width="1.5"/>
<line x1="810.1" y1="1082.3" x2="810.1" y2="1090.3" stroke="#1a1a1a" stroke-width="1.5"/>
<line x1="187.4" y1="1258.4" x2="187.4" y2="1250.4" stroke="#1a1a1a" stroke-width="1.5"/>
<line x1="276.4" y1="1258.4" x2="276.4" y2="1250.4" stroke="#1a1a1a" stroke-width="1.5"/>
<line x1="365.3" y1="1258.4" x2="365.3" y2="1250.4" stroke="#1a1a1a" stroke-width="1.5"/>
<line x1="454.3" y1="1258.4" x2="454.3" y2="1250.4" stroke="#1a1a1a" stroke-width="1.5"/>
<line x1="543.2" y1="1258.4" x2="543.2" y2="1250.4" stroke="#1a1a1a" stroke-width="1.5"/>
<line x1="632.2" y1="1258.4" x2="632.2" y2="1250.4" stroke="#1a1a1a" stroke-width="1.5"/>
<line x1="721.1" y1="1258.4" x2="721.1" y2="1250.4" stroke="#1a1a1a" stroke-width="1.5"/>
<line x1="810.1" y1="1258.4" x2="810.1" y2="1250.4" stroke="#1a1a1a" stroke-width="1.5"/>
<rect x="98.5" y="1258.4" width="800.5" height="176.2" fill="none" stroke="#1a1a1a" stroke-width="1.7"/>
<line x1="187.4" y1="1258.4" x2="187.4" y2="1266.4" stroke="#1a1a1a" stroke-width="1.5"/>
<line x1="276.4" y1="1258.4" x2="276.4" y2="1266.4" stroke="#1a1a1a" stroke-width="1.5"/>
<line x1="365.3" y1="1258.4" x2="365.3" y2="1266.4" stroke="#1a1a1a" stroke-width="1.5"/>
<line x1="454.3" y1="1258.4" x2="454.3" y2="1266.4" stroke="#1a1a1a" stroke-width="1.5"/>
<line x1="543.2" y1="1258.4" x2="543.2" y2="1266.4" stroke="#1a1a1a" stroke-width="1.5"/>
<line x1="632.2" y1="1258.4" x2="632.2" y2="1266.4" stroke="#1a1a1a" stroke-width="1.5"/>
<line x1="721.1" y1="1258.4" x2="721.1" y2="1266.4" stroke="#1a1a1a" stroke-width="1.5"/>
<line x1="810.1" y1="1258.4" x2="810.1" y2="1266.4" stroke="#1a1a1a" stroke-width="1.5"/>
<line x1="187.4" y1="1434.6" x2="187.4" y2="1426.6" stroke="#1a1a1a" stroke-width="1.5"/>
<line x1="276.4" y1="1434.6" x2="276.4" y2="1426.6" stroke="#1a1a1a" stroke-width="1.5"/>
<line x1="365.3" y1="1434.6" x2="365.3" y2="1426.6" stroke="#1a1a1a" stroke-width="1.5"/>
<line x1="454.3" y1="1434.6" x2="454.3" y2="1426.6" stroke="#1a1a1a" stroke-width="1.5"/>
<line x1="543.2" y1="1434.6" x2="543.2" y2="1426.6" stroke="#1a1a1a" stroke-width="1.5"/>
<line x1="632.2" y1="1434.6" x2="632.2" y2="1426.6" stroke="#1a1a1a" stroke-width="1.5"/>
<line x1="721.1" y1="1434.6" x2="721.1" y2="1426.6" stroke="#1a1a1a" stroke-width="1.5"/>
<line x1="810.1" y1="1434.6" x2="810.1" y2="1426.6" stroke="#1a1a1a" stroke-width="1.5"/>
<rect x="98.5" y="1434.6" width="800.5" height="176.1" fill="none" stroke="#1a1a1a" stroke-width="1.7"/>
<line x1="187.4" y1="1434.6" x2="187.4" y2="1442.6" stroke="#1a1a1a" stroke-width="1.5"/>
<line x1="276.4" y1="1434.6" x2="276.4" y2="1442.6" stroke="#1a1a1a" stroke-width="1.5"/>
<line x1="365.3" y1="1434.6" x2="365.3" y2="1442.6" stroke="#1a1a1a" stroke-width="1.5"/>
<line x1="454.3" y1="1434.6" x2="454.3" y2="1442.6" stroke="#1a1a1a" stroke-width="1.5"/>
<line x1="543.2" y1="1434.6" x2="543.2" y2="1442.6" stroke="#1a1a1a" stroke-width="1.5"/>
<line x1="632.2" y1="1434.6" x2="632.2" y2="1442.6" stroke="#1a1a1a" stroke-width="1.5"/>
<line x1="721.1" y1="1434.6" x2="721.1" y2="1442.6" stroke="#1a1a1a" stroke-width="1.5"/>
<line x1="810.1" y1="1434.6" x2="810.1" y2="1442.6" stroke="#1a1a1a" stroke-width="1.5"/>
<line x1="187.4" y1="1610.7" x2="187.4" y2="1602.7" stroke="#1a1a1a" stroke-width="1.5"/>
<line x1="276.4" y1="1610.7" x2="276.4" y2="1602.7" stroke="#1a1a1a" stroke-width="1.5"/>
<line x1="365.3" y1="1610.7" x2="365.3" y2="1602.7" stroke="#1a1a1a" stroke-width="1.5"/>
<line x1="454.3" y1="1610.7" x2="454.3" y2="1602.7" stroke="#1a1a1a" stroke-width="1.5"/>
<line x1="543.2" y1="1610.7" x2="543.2" y2="1602.7" stroke="#1a1a1a" stroke-width="1.5"/>
<line x1="632.2" y1="1610.7" x2="632.2" y2="1602.7" stroke="#1a1a1a" stroke-width="1.5"/>
<line x1="721.1" y1="1610.7" x2="721.1" y2="1602.7" stroke="#1a1a1a" stroke-width="1.5"/>
<line x1="810.1" y1="1610.7" x2="810.1" y2="1602.7" stroke="#1a1a1a" stroke-width="1.5"/>
<rect x="98.5" y="1610.7" width="800.5" height="176" fill="none" stroke="#1a1a1a" stroke-width="1.7"/>
<line x1="187.4" y1="1786.7" x2="187.4" y2="1778.7" stroke="#1a1a1a" stroke-width="1.5"/>
<line x1="276.4" y1="1786.7" x2="276.4" y2="1778.7" stroke="#1a1a1a" stroke-width="1.5"/>
<line x1="365.3" y1="1786.7" x2="365.3" y2="1778.7" stroke="#1a1a1a" stroke-width="1.5"/>
<line x1="454.3" y1="1786.7" x2="454.3" y2="1778.7" stroke="#1a1a1a" stroke-width="1.5"/>
<line x1="543.2" y1="1786.7" x2="543.2" y2="1778.7" stroke="#1a1a1a" stroke-width="1.5"/>
<line x1="632.2" y1="1786.7" x2="632.2" y2="1778.7" stroke="#1a1a1a" stroke-width="1.5"/>
<line x1="721.1" y1="1786.7" x2="721.1" y2="1778.7" stroke="#1a1a1a" stroke-width="1.5"/>
<line x1="810.1" y1="1786.7" x2="810.1" y2="1778.7" stroke="#1a1a1a" stroke-width="1.5"/>
<rect x="98.5" y="1786.7" width="800.5" height="176.1" fill="none" stroke="#1a1a1a" stroke-width="1.7"/>
<line x1="187.4" y1="1786.7" x2="187.4" y2="1794.7" stroke="#1a1a1a" stroke-width="1.5"/>
<line x1="276.4" y1="1786.7" x2="276.4" y2="1794.7" stroke="#1a1a1a" stroke-width="1.5"/>
<line x1="365.3" y1="1786.7" x2="365.3" y2="1794.7" stroke="#1a1a1a" stroke-width="1.5"/>
<line x1="454.3" y1="1786.7" x2="454.3" y2="1794.7" stroke="#1a1a1a" stroke-width="1.5"/>
<line x1="543.2" y1="1786.7" x2="543.2" y2="1794.7" stroke="#1a1a1a" stroke-width="1.5"/>
<line x1="632.2" y1="1786.7" x2="632.2" y2="1794.7" stroke="#1a1a1a" stroke-width="1.5"/>
<line x1="721.1" y1="1786.7" x2="721.1" y2="1794.7" stroke="#1a1a1a" stroke-width="1.5"/>
<line x1="810.1" y1="1786.7" x2="810.1" y2="1794.7" stroke="#1a1a1a" stroke-width="1.5"/>
<line x1="187.4" y1="1962.8" x2="187.4" y2="1954.8" stroke="#1a1a1a" stroke-width="1.5"/>
<line x1="276.4" y1="1962.8" x2="276.4" y2="1954.8" stroke="#1a1a1a" stroke-width="1.5"/>
<line x1="365.3" y1="1962.8" x2="365.3" y2="1954.8" stroke="#1a1a1a" stroke-width="1.5"/>
<line x1="454.3" y1="1962.8" x2="454.3" y2="1954.8" stroke="#1a1a1a" stroke-width="1.5"/>
<line x1="543.2" y1="1962.8" x2="543.2" y2="1954.8" stroke="#1a1a1a" stroke-width="1.5"/>
<line x1="632.2" y1="1962.8" x2="632.2" y2="1954.8" stroke="#1a1a1a" stroke-width="1.5"/>
<line x1="721.1" y1="1962.8" x2="721.1" y2="1954.8" stroke="#1a1a1a" stroke-width="1.5"/>
<line x1="810.1" y1="1962.8" x2="810.1" y2="1954.8" stroke="#1a1a1a" stroke-width="1.5"/>
<line x1="116.3" y1="1786.7" x2="116.3" y2="1782.2" stroke="#1a1a1a" stroke-width="1.5"/>
<line x1="134.1" y1="1786.7" x2="134.1" y2="1782.2" stroke="#1a1a1a" stroke-width="1.5"/>
<line x1="151.9" y1="1786.7" x2="151.9" y2="1782.2" stroke="#1a1a1a" stroke-width="1.5"/>
<line x1="169.7" y1="1786.7" x2="169.7" y2="1782.2" stroke="#1a1a1a" stroke-width="1.5"/>
<line x1="205.2" y1="1786.7" x2="205.2" y2="1782.2" stroke="#1a1a1a" stroke-width="1.5"/>
<line x1="223" y1="1786.7" x2="223" y2="1782.2" stroke="#1a1a1a" stroke-width="1.5"/>
<line x1="240.8" y1="1786.7" x2="240.8" y2="1782.2" stroke="#1a1a1a" stroke-width="1.5"/>
<line x1="258.6" y1="1786.7" x2="258.6" y2="1782.2" stroke="#1a1a1a" stroke-width="1.5"/>
<line x1="294.2" y1="1786.7" x2="294.2" y2="1782.2" stroke="#1a1a1a" stroke-width="1.5"/>
<line x1="312" y1="1786.7" x2="312" y2="1782.2" stroke="#1a1a1a" stroke-width="1.5"/>
<line x1="329.8" y1="1786.7" x2="329.8" y2="1782.2" stroke="#1a1a1a" stroke-width="1.5"/>
<line x1="347.5" y1="1786.7" x2="347.5" y2="1782.2" stroke="#1a1a1a" stroke-width="1.5"/>
<line x1="383.1" y1="1786.7" x2="383.1" y2="1782.2" stroke="#1a1a1a" stroke-width="1.5"/>
<line x1="400.9" y1="1786.7" x2="400.9" y2="1782.2" stroke="#1a1a1a" stroke-width="1.5"/>
<line x1="418.7" y1="1786.7" x2="418.7" y2="1782.2" stroke="#1a1a1a" stroke-width="1.5"/>
<line x1="436.5" y1="1786.7" x2="436.5" y2="1782.2" stroke="#1a1a1a" stroke-width="1.5"/>
<line x1="472.1" y1="1786.7" x2="472.1" y2="1782.2" stroke="#1a1a1a" stroke-width="1.5"/>
<line x1="489.9" y1="1786.7" x2="489.9" y2="1782.2" stroke="#1a1a1a" stroke-width="1.5"/>
<line x1="507.6" y1="1786.7" x2="507.6" y2="1782.2" stroke="#1a1a1a" stroke-width="1.5"/>
<line x1="525.4" y1="1786.7" x2="525.4" y2="1782.2" stroke="#1a1a1a" stroke-width="1.5"/>
<line x1="561" y1="1786.7" x2="561" y2="1782.2" stroke="#1a1a1a" stroke-width="1.5"/>
<line x1="578.8" y1="1786.7" x2="578.8" y2="1782.2" stroke="#1a1a1a" stroke-width="1.5"/>
<line x1="596.6" y1="1786.7" x2="596.6" y2="1782.2" stroke="#1a1a1a" stroke-width="1.5"/>
<line x1="614.4" y1="1786.7" x2="614.4" y2="1782.2" stroke="#1a1a1a" stroke-width="1.5"/>
<line x1="650" y1="1786.7" x2="650" y2="1782.2" stroke="#1a1a1a" stroke-width="1.5"/>
<line x1="667.7" y1="1786.7" x2="667.7" y2="1782.2" stroke="#1a1a1a" stroke-width="1.5"/>
<line x1="685.5" y1="1786.7" x2="685.5" y2="1782.2" stroke="#1a1a1a" stroke-width="1.5"/>
<line x1="703.3" y1="1786.7" x2="703.3" y2="1782.2" stroke="#1a1a1a" stroke-width="1.5"/>
<line x1="738.9" y1="1786.7" x2="738.9" y2="1782.2" stroke="#1a1a1a" stroke-width="1.5"/>
<line x1="756.7" y1="1786.7" x2="756.7" y2="1782.2" stroke="#1a1a1a" stroke-width="1.5"/>
<line x1="774.5" y1="1786.7" x2="774.5" y2="1782.2" stroke="#1a1a1a" stroke-width="1.5"/>
<line x1="792.3" y1="1786.7" x2="792.3" y2="1782.2" stroke="#1a1a1a" stroke-width="1.5"/>
<line x1="827.8" y1="1786.7" x2="827.8" y2="1782.2" stroke="#1a1a1a" stroke-width="1.5"/>
<line x1="845.6" y1="1786.7" x2="845.6" y2="1782.2" stroke="#1a1a1a" stroke-width="1.5"/>
<line x1="863.4" y1="1786.7" x2="863.4" y2="1782.2" stroke="#1a1a1a" stroke-width="1.5"/>
<line x1="881.2" y1="1786.7" x2="881.2" y2="1782.2" stroke="#1a1a1a" stroke-width="1.5"/>
<line x1="116.3" y1="1786.7" x2="116.3" y2="1791.2" stroke="#1a1a1a" stroke-width="1.5"/>
<line x1="134.1" y1="1786.7" x2="134.1" y2="1791.2" stroke="#1a1a1a" stroke-width="1.5"/>
<line x1="151.9" y1="1786.7" x2="151.9" y2="1791.2" stroke="#1a1a1a" stroke-width="1.5"/>
<line x1="169.7" y1="1786.7" x2="169.7" y2="1791.2" stroke="#1a1a1a" stroke-width="1.5"/>
<line x1="205.2" y1="1786.7" x2="205.2" y2="1791.2" stroke="#1a1a1a" stroke-width="1.5"/>
<line x1="223" y1="1786.7" x2="223" y2="1791.2" stroke="#1a1a1a" stroke-width="1.5"/>
<line x1="240.8" y1="1786.7" x2="240.8" y2="1791.2" stroke="#1a1a1a" stroke-width="1.5"/>
<line x1="258.6" y1="1786.7" x2="258.6" y2="1791.2" stroke="#1a1a1a" stroke-width="1.5"/>
<line x1="294.2" y1="1786.7" x2="294.2" y2="1791.2" stroke="#1a1a1a" stroke-width="1.5"/>
<line x1="312" y1="1786.7" x2="312" y2="1791.2" stroke="#1a1a1a" stroke-width="1.5"/>
<line x1="329.8" y1="1786.7" x2="329.8" y2="1791.2" stroke="#1a1a1a" stroke-width="1.5"/>
<line x1="347.5" y1="1786.7" x2="347.5" y2="1791.2" stroke="#1a1a1a" stroke-width="1.5"/>
<line x1="383.1" y1="1786.7" x2="383.1" y2="1791.2" stroke="#1a1a1a" stroke-width="1.5"/>
<line x1="400.9" y1="1786.7" x2="400.9" y2="1791.2" stroke="#1a1a1a" stroke-width="1.5"/>
<line x1="418.7" y1="1786.7" x2="418.7" y2="1791.2" stroke="#1a1a1a" stroke-width="1.5"/>
<line x1="436.5" y1="1786.7" x2="436.5" y2="1791.2" stroke="#1a1a1a" stroke-width="1.5"/>
<line x1="472.1" y1="1786.7" x2="472.1" y2="1791.2" stroke="#1a1a1a" stroke-width="1.5"/>
<line x1="489.9" y1="1786.7" x2="489.9" y2="1791.2" stroke="#1a1a1a" stroke-width="1.5"/>
<line x1="507.6" y1="1786.7" x2="507.6" y2="1791.2" stroke="#1a1a1a" stroke-width="1.5"/>
<line x1="525.4" y1="1786.7" x2="525.4" y2="1791.2" stroke="#1a1a1a" stroke-width="1.5"/>
<line x1="561" y1="1786.7" x2="561" y2="1791.2" stroke="#1a1a1a" stroke-width="1.5"/>
<line x1="578.8" y1="1786.7" x2="578.8" y2="1791.2" stroke="#1a1a1a" stroke-width="1.5"/>
<line x1="596.6" y1="1786.7" x2="596.6" y2="1791.2" stroke="#1a1a1a" stroke-width="1.5"/>
<line x1="614.4" y1="1786.7" x2="614.4" y2="1791.2" stroke="#1a1a1a" stroke-width="1.5"/>
<line x1="650" y1="1786.7" x2="650" y2="1791.2" stroke="#1a1a1a" stroke-width="1.5"/>
<line x1="667.7" y1="1786.7" x2="667.7" y2="1791.2" stroke="#1a1a1a" stroke-width="1.5"/>
<line x1="685.5" y1="1786.7" x2="685.5" y2="1791.2" stroke="#1a1a1a" stroke-width="1.5"/>
<line x1="703.3" y1="1786.7" x2="703.3" y2="1791.2" stroke="#1a1a1a" stroke-width="1.5"/>
<line x1="738.9" y1="1786.7" x2="738.9" y2="1791.2" stroke="#1a1a1a" stroke-width="1.5"/>
<line x1="756.7" y1="1786.7" x2="756.7" y2="1791.2" stroke="#1a1a1a" stroke-width="1.5"/>
<line x1="774.5" y1="1786.7" x2="774.5" y2="1791.2" stroke="#1a1a1a" stroke-width="1.5"/>
<line x1="792.3" y1="1786.7" x2="792.3" y2="1791.2" stroke="#1a1a1a" stroke-width="1.5"/>
<line x1="827.8" y1="1786.7" x2="827.8" y2="1791.2" stroke="#1a1a1a" stroke-width="1.5"/>
<line x1="845.6" y1="1786.7" x2="845.6" y2="1791.2" stroke="#1a1a1a" stroke-width="1.5"/>
<line x1="863.4" y1="1786.7" x2="863.4" y2="1791.2" stroke="#1a1a1a" stroke-width="1.5"/>
<line x1="881.2" y1="1786.7" x2="881.2" y2="1791.2" stroke="#1a1a1a" stroke-width="1.5"/>
<line x1="116.3" y1="1962.8" x2="116.3" y2="1958.3" stroke="#1a1a1a" stroke-width="1.5"/>
<line x1="134.1" y1="1962.8" x2="134.1" y2="1958.3" stroke="#1a1a1a" stroke-width="1.5"/>
<line x1="151.9" y1="1962.8" x2="151.9" y2="1958.3" stroke="#1a1a1a" stroke-width="1.5"/>
<line x1="169.7" y1="1962.8" x2="169.7" y2="1958.3" stroke="#1a1a1a" stroke-width="1.5"/>
<line x1="205.2" y1="1962.8" x2="205.2" y2="1958.3" stroke="#1a1a1a" stroke-width="1.5"/>
<line x1="223" y1="1962.8" x2="223" y2="1958.3" stroke="#1a1a1a" stroke-width="1.5"/>
<line x1="240.8" y1="1962.8" x2="240.8" y2="1958.3" stroke="#1a1a1a" stroke-width="1.5"/>
<line x1="258.6" y1="1962.8" x2="258.6" y2="1958.3" stroke="#1a1a1a" stroke-width="1.5"/>
<line x1="294.2" y1="1962.8" x2="294.2" y2="1958.3" stroke="#1a1a1a" stroke-width="1.5"/>
<line x1="312" y1="1962.8" x2="312" y2="1958.3" stroke="#1a1a1a" stroke-width="1.5"/>
<line x1="329.8" y1="1962.8" x2="329.8" y2="1958.3" stroke="#1a1a1a" stroke-width="1.5"/>
<line x1="347.5" y1="1962.8" x2="347.5" y2="1958.3" stroke="#1a1a1a" stroke-width="1.5"/>
<line x1="383.1" y1="1962.8" x2="383.1" y2="1958.3" stroke="#1a1a1a" stroke-width="1.5"/>
<line x1="400.9" y1="1962.8" x2="400.9" y2="1958.3" stroke="#1a1a1a" stroke-width="1.5"/>
<line x1="418.7" y1="1962.8" x2="418.7" y2="1958.3" stroke="#1a1a1a" stroke-width="1.5"/>
<line x1="436.5" y1="1962.8" x2="436.5" y2="1958.3" stroke="#1a1a1a" stroke-width="1.5"/>
<line x1="472.1" y1="1962.8" x2="472.1" y2="1958.3" stroke="#1a1a1a" stroke-width="1.5"/>
<line x1="489.9" y1="1962.8" x2="489.9" y2="1958.3" stroke="#1a1a1a" stroke-width="1.5"/>
<line x1="507.6" y1="1962.8" x2="507.6" y2="1958.3" stroke="#1a1a1a" stroke-width="1.5"/>
<line x1="525.4" y1="1962.8" x2="525.4" y2="1958.3" stroke="#1a1a1a" stroke-width="1.5"/>
<line x1="561" y1="1962.8" x2="561" y2="1958.3" stroke="#1a1a1a" stroke-width="1.5"/>
<line x1="578.8" y1="1962.8" x2="578.8" y2="1958.3" stroke="#1a1a1a" stroke-width="1.5"/>
<line x1="596.6" y1="1962.8" x2="596.6" y2="1958.3" stroke="#1a1a1a" stroke-width="1.5"/>
<line x1="614.4" y1="1962.8" x2="614.4" y2="1958.3" stroke="#1a1a1a" stroke-width="1.5"/>
<line x1="650" y1="1962.8" x2="650" y2="1958.3" stroke="#1a1a1a" stroke-width="1.5"/>
<line x1="667.7" y1="1962.8" x2="667.7" y2="1958.3" stroke="#1a1a1a" stroke-width="1.5"/>
<line x1="685.5" y1="1962.8" x2="685.5" y2="1958.3" stroke="#1a1a1a" stroke-width="1.5"/>
<line x1="703.3" y1="1962.8" x2="703.3" y2="1958.3" stroke="#1a1a1a" stroke-width="1.5"/>
<line x1="738.9" y1="1962.8" x2="738.9" y2="1958.3" stroke="#1a1a1a" stroke-width="1.5"/>
<line x1="756.7" y1="1962.8" x2="756.7" y2="1958.3" stroke="#1a1a1a" stroke-width="1.5"/>
<line x1="774.5" y1="1962.8" x2="774.5" y2="1958.3" stroke="#1a1a1a" stroke-width="1.5"/>
<line x1="792.3" y1="1962.8" x2="792.3" y2="1958.3" stroke="#1a1a1a" stroke-width="1.5"/>
<line x1="827.8" y1="1962.8" x2="827.8" y2="1958.3" stroke="#1a1a1a" stroke-width="1.5"/>
<line x1="845.6" y1="1962.8" x2="845.6" y2="1958.3" stroke="#1a1a1a" stroke-width="1.5"/>
<line x1="863.4" y1="1962.8" x2="863.4" y2="1958.3" stroke="#1a1a1a" stroke-width="1.5"/>
<line x1="881.2" y1="1962.8" x2="881.2" y2="1958.3" stroke="#1a1a1a" stroke-width="1.5"/>
<line x1="98.5" y1="1096" x2="107" y2="1096" stroke="#1a1a1a" stroke-width="1.6"/>
<line x1="890.5" y1="1096" x2="899" y2="1096" stroke="#1a1a1a" stroke-width="1.6"/>
<line x1="98.5" y1="1124.2" x2="107" y2="1124.2" stroke="#1a1a1a" stroke-width="1.6"/>
<line x1="890.5" y1="1124.2" x2="899" y2="1124.2" stroke="#1a1a1a" stroke-width="1.6"/>
<line x1="98.5" y1="1152.4" x2="107" y2="1152.4" stroke="#1a1a1a" stroke-width="1.6"/>
<line x1="890.5" y1="1152.4" x2="899" y2="1152.4" stroke="#1a1a1a" stroke-width="1.6"/>
<line x1="98.5" y1="1180.6" x2="107" y2="1180.6" stroke="#1a1a1a" stroke-width="1.6"/>
<line x1="890.5" y1="1180.6" x2="899" y2="1180.6" stroke="#1a1a1a" stroke-width="1.6"/>
<line x1="98.5" y1="1208.8" x2="107" y2="1208.8" stroke="#1a1a1a" stroke-width="1.6"/>
<line x1="890.5" y1="1208.8" x2="899" y2="1208.8" stroke="#1a1a1a" stroke-width="1.6"/>
<line x1="98.5" y1="1237" x2="107" y2="1237" stroke="#1a1a1a" stroke-width="1.6"/>
<line x1="890.5" y1="1237" x2="899" y2="1237" stroke="#1a1a1a" stroke-width="1.6"/>
<line x1="98.5" y1="1270.4" x2="107" y2="1270.4" stroke="#1a1a1a" stroke-width="1.6"/>
<line x1="890.5" y1="1270.4" x2="899" y2="1270.4" stroke="#1a1a1a" stroke-width="1.6"/>
<line x1="98.5" y1="1320.8" x2="107" y2="1320.8" stroke="#1a1a1a" stroke-width="1.6"/>
<line x1="890.5" y1="1320.8" x2="899" y2="1320.8" stroke="#1a1a1a" stroke-width="1.6"/>
<line x1="98.5" y1="1371.2" x2="107" y2="1371.2" stroke="#1a1a1a" stroke-width="1.6"/>
<line x1="890.5" y1="1371.2" x2="899" y2="1371.2" stroke="#1a1a1a" stroke-width="1.6"/>
<line x1="98.5" y1="1421.6" x2="107" y2="1421.6" stroke="#1a1a1a" stroke-width="1.6"/>
<line x1="890.5" y1="1421.6" x2="899" y2="1421.6" stroke="#1a1a1a" stroke-width="1.6"/>
<line x1="98.5" y1="1488.4" x2="107" y2="1488.4" stroke="#1a1a1a" stroke-width="1.6"/>
<line x1="890.5" y1="1488.4" x2="899" y2="1488.4" stroke="#1a1a1a" stroke-width="1.6"/>
<line x1="98.5" y1="1542.7" x2="107" y2="1542.7" stroke="#1a1a1a" stroke-width="1.6"/>
<line x1="890.5" y1="1542.7" x2="899" y2="1542.7" stroke="#1a1a1a" stroke-width="1.6"/>
<line x1="98.5" y1="1597" x2="107" y2="1597" stroke="#1a1a1a" stroke-width="1.6"/>
<line x1="890.5" y1="1597" x2="899" y2="1597" stroke="#1a1a1a" stroke-width="1.6"/>
<line x1="98.5" y1="1640.2" x2="107" y2="1640.2" stroke="#1a1a1a" stroke-width="1.6"/>
<line x1="890.5" y1="1640.2" x2="899" y2="1640.2" stroke="#1a1a1a" stroke-width="1.6"/>
<line x1="98.5" y1="1698.7" x2="107" y2="1698.7" stroke="#1a1a1a" stroke-width="1.6"/>
<line x1="890.5" y1="1698.7" x2="899" y2="1698.7" stroke="#1a1a1a" stroke-width="1.6"/>
<line x1="98.5" y1="1757.3" x2="107" y2="1757.3" stroke="#1a1a1a" stroke-width="1.6"/>
<line x1="890.5" y1="1757.3" x2="899" y2="1757.3" stroke="#1a1a1a" stroke-width="1.6"/>
<line x1="98.5" y1="1831" x2="107" y2="1831" stroke="#1a1a1a" stroke-width="1.6"/>
<line x1="890.5" y1="1831" x2="899" y2="1831" stroke="#1a1a1a" stroke-width="1.6"/>
<line x1="98.5" y1="1875" x2="107" y2="1875" stroke="#1a1a1a" stroke-width="1.6"/>
<line x1="890.5" y1="1875" x2="899" y2="1875" stroke="#1a1a1a" stroke-width="1.6"/>
<line x1="98.5" y1="1919" x2="107" y2="1919" stroke="#1a1a1a" stroke-width="1.6"/>
<line x1="890.5" y1="1919" x2="899" y2="1919" stroke="#1a1a1a" stroke-width="1.6"/>
<text transform="translate(91.8 1104) scale(1.16 1)" text-anchor="end" font-family="Liberation Sans, sans-serif" font-weight="bold" font-size="20.4">2</text>
<text transform="translate(91.8 1132.2) scale(1.16 1)" text-anchor="end" font-family="Liberation Sans, sans-serif" font-weight="bold" font-size="20.4">0</text>
<text transform="translate(91.8 1160.4) scale(1.16 1)" text-anchor="end" font-family="Liberation Sans, sans-serif" font-weight="bold" font-size="20.4">−2</text>
<text transform="translate(91.8 1188.6) scale(1.16 1)" text-anchor="end" font-family="Liberation Sans, sans-serif" font-weight="bold" font-size="20.4">−4</text>
<text transform="translate(91.8 1216.8) scale(1.16 1)" text-anchor="end" font-family="Liberation Sans, sans-serif" font-weight="bold" font-size="20.4">−6</text>
<text transform="translate(91.8 1245) scale(1.16 1)" text-anchor="end" font-family="Liberation Sans, sans-serif" font-weight="bold" font-size="20.4">−8</text>
<text transform="translate(91.8 1278.4) scale(1.16 1)" text-anchor="end" font-family="Liberation Sans, sans-serif" font-weight="bold" font-size="20.4">40</text>
<text transform="translate(91.8 1328.8) scale(1.16 1)" text-anchor="end" font-family="Liberation Sans, sans-serif" font-weight="bold" font-size="20.4">20</text>
<text transform="translate(91.8 1379.2) scale(1.16 1)" text-anchor="end" font-family="Liberation Sans, sans-serif" font-weight="bold" font-size="20.4">0</text>
<text transform="translate(91.8 1429.6) scale(1.16 1)" text-anchor="end" font-family="Liberation Sans, sans-serif" font-weight="bold" font-size="20.4">−20</text>
<text transform="translate(91.8 1648.2) scale(1.16 1)" text-anchor="end" font-family="Liberation Sans, sans-serif" font-weight="bold" font-size="20.4">800</text>
<text transform="translate(91.8 1706.7) scale(1.16 1)" text-anchor="end" font-family="Liberation Sans, sans-serif" font-weight="bold" font-size="20.4">600</text>
<text transform="translate(91.8 1765.3) scale(1.16 1)" text-anchor="end" font-family="Liberation Sans, sans-serif" font-weight="bold" font-size="20.4">400</text>
<text transform="translate(91.8 1795) scale(1.16 1)" text-anchor="end" font-family="Liberation Sans, sans-serif" font-weight="bold" font-size="20.4">20</text>
<text transform="translate(91.8 1839) scale(1.16 1)" text-anchor="end" font-family="Liberation Sans, sans-serif" font-weight="bold" font-size="20.4">15</text>
<text transform="translate(91.8 1883) scale(1.16 1)" text-anchor="end" font-family="Liberation Sans, sans-serif" font-weight="bold" font-size="20.4">10</text>
<text transform="translate(91.8 1927) scale(1.16 1)" text-anchor="end" font-family="Liberation Sans, sans-serif" font-weight="bold" font-size="20.4">5</text>
<text transform="translate(906 1442.4) scale(1.16 1)" text-anchor="start" font-family="Liberation Sans, sans-serif" font-weight="bold" font-size="20.4">40</text>
<text transform="translate(906 1496.7) scale(1.16 1)" text-anchor="start" font-family="Liberation Sans, sans-serif" font-weight="bold" font-size="20.4">20</text>
<text transform="translate(906 1551) scale(1.16 1)" text-anchor="start" font-family="Liberation Sans, sans-serif" font-weight="bold" font-size="20.4">0</text>
<text transform="translate(906 1605.3) scale(1.16 1)" text-anchor="start" font-family="Liberation Sans, sans-serif" font-weight="bold" font-size="20.4">−20</text>
<text transform="translate(906 1619.2) scale(1.16 1)" text-anchor="start" font-family="Liberation Sans, sans-serif" font-weight="bold" font-size="20.4">1.5</text>
<text transform="translate(906 1707) scale(1.16 1)" text-anchor="start" font-family="Liberation Sans, sans-serif" font-weight="bold" font-size="20.4">0.75</text>
<text transform="translate(906 1795.3) scale(1.16 1)" text-anchor="start" font-family="Liberation Sans, sans-serif" font-weight="bold" font-size="20.4">15</text>
<text transform="translate(906 1839.3) scale(1.16 1)" text-anchor="start" font-family="Liberation Sans, sans-serif" font-weight="bold" font-size="20.4">11.25</text>
<text transform="translate(906 1883.3) scale(1.16 1)" text-anchor="start" font-family="Liberation Sans, sans-serif" font-weight="bold" font-size="20.4">7.5</text>
<text transform="translate(906 1927.3) scale(1.16 1)" text-anchor="start" font-family="Liberation Sans, sans-serif" font-weight="bold" font-size="20.4">3.75</text>
<text transform="translate(906 1971.3) scale(1.16 1)" text-anchor="start" font-family="Liberation Sans, sans-serif" font-weight="bold" font-size="20.4">0</text>
<text transform="translate(900 1776.5) scale(1.16 1)" text-anchor="start" font-family="Liberation Sans, sans-serif" font-weight="bold" font-size="20.4">x 10<tspan font-size="16" dy="-10">5</tspan></text>
<text transform="translate(98.5 1990) scale(1.16 1)" text-anchor="middle" font-family="Liberation Sans, sans-serif" font-weight="bold" font-size="20.4">23.9</text>
<text transform="translate(187.4 1990) scale(1.16 1)" text-anchor="middle" font-family="Liberation Sans, sans-serif" font-weight="bold" font-size="20.4">23.95</text>
<text transform="translate(276.4 1990) scale(1.16 1)" text-anchor="middle" font-family="Liberation Sans, sans-serif" font-weight="bold" font-size="20.4">24</text>
<text transform="translate(365.3 1990) scale(1.16 1)" text-anchor="middle" font-family="Liberation Sans, sans-serif" font-weight="bold" font-size="20.4">24.05</text>
<text transform="translate(454.3 1990) scale(1.16 1)" text-anchor="middle" font-family="Liberation Sans, sans-serif" font-weight="bold" font-size="20.4">24.1</text>
<text transform="translate(543.2 1990) scale(1.16 1)" text-anchor="middle" font-family="Liberation Sans, sans-serif" font-weight="bold" font-size="20.4">24.15</text>
<text transform="translate(632.2 1990) scale(1.16 1)" text-anchor="middle" font-family="Liberation Sans, sans-serif" font-weight="bold" font-size="20.4">24.2</text>
<text transform="translate(721.1 1990) scale(1.16 1)" text-anchor="middle" font-family="Liberation Sans, sans-serif" font-weight="bold" font-size="20.4">24.25</text>
<text transform="translate(810.1 1990) scale(1.16 1)" text-anchor="middle" font-family="Liberation Sans, sans-serif" font-weight="bold" font-size="20.4">24.3</text>
<text transform="translate(899 1990) scale(1.16 1)" text-anchor="middle" font-family="Liberation Sans, sans-serif" font-weight="bold" font-size="20.4">24.35</text>
<text transform="translate(452 2010) scale(1.16 1)" text-anchor="start" font-family="Liberation Sans, sans-serif" font-weight="bold" font-size="20.4">Day (UT)</text>
<text transform="translate(48.8 1169) rotate(-90) scale(1 1.16)" text-anchor="middle" font-family="Liberation Sans, sans-serif" font-weight="bold" font-size="20.4">CR (% Variation)</text>
<text transform="translate(29 1348.5) rotate(-90) scale(1 1.16)" text-anchor="middle" font-family="Liberation Sans, sans-serif" font-weight="bold" font-size="20.4">B (nT)</text>
<text transform="translate(27 1698.7) rotate(-90) scale(1 1.16)" text-anchor="middle" font-family="Liberation Sans, sans-serif" font-weight="bold" font-size="20.4">V<tspan font-size="16" dy="11">sw</tspan><tspan dy="-11"> (km/s)</tspan></text>
<text transform="translate(50 1875) rotate(-90) scale(1 1.16)" text-anchor="middle" font-family="Liberation Sans, sans-serif" font-weight="bold" font-size="20.4">N (n/cc)</text>
<text transform="translate(972 1523) rotate(-90) scale(1 1.16)" text-anchor="middle" font-family="Liberation Sans, sans-serif" font-weight="bold" font-size="20.4">B (nT)</text>
<text transform="translate(978.5 1699) rotate(-90) scale(1 1.16)" text-anchor="middle" font-family="Liberation Sans, sans-serif" font-weight="bold" font-size="20.4">Beta</text>
<text transform="translate(992 1873.6) rotate(-90) scale(1 1.16)" text-anchor="middle" font-family="Liberation Sans, sans-serif" font-weight="bold" font-size="20.4">Temp (K)</text>
<rect x="145" y="11" width="687.6" height="38.2" fill="#fff" stroke="#1a1a1a" stroke-width="1.6"/>
<line x1="158.8" y1="29.5" x2="229.6" y2="29.5" stroke="#ff00ff" stroke-width="1.5"/>
<text transform="translate(238 37.5) scale(1.16 1)" text-anchor="start" font-family="Liberation Sans, sans-serif" font-weight="bold" font-size="20.4">Mean</text>
<line x1="314" y1="29.5" x2="383.6" y2="29.5" stroke="#008000" stroke-width="1.5"/>
<text transform="translate(392 37.5) scale(1.16 1)" text-anchor="start" font-family="Liberation Sans, sans-serif" font-weight="bold" font-size="20.4">0–2GV</text>
<line x1="477" y1="29.5" x2="546.7" y2="29.5" stroke="#0000ff" stroke-width="1.5"/>
<text transform="translate(555 37.5) scale(1.16 1)" text-anchor="start" font-family="Liberation Sans, sans-serif" font-weight="bold" font-size="20.4">2–4.5GV</text>
<line x1="659.6" y1="29.5" x2="730" y2="29.5" stroke="#ff0000" stroke-width="1.5"/>
<text transform="translate(739.5 37.5) scale(1.16 1)" text-anchor="start" font-family="Liberation Sans, sans-serif" font-weight="bold" font-size="20.4">&gt;4.5GV</text>
<rect x="636.5" y="230.9" width="253.5" height="45.9" fill="#fff" stroke="#1a1a1a" stroke-width="1.6"/>
<line x1="651" y1="253" x2="721" y2="253" stroke="#ff00ff" stroke-width="1.5"/>
<text transform="translate(730 252.4) scale(1.16 1)" text-anchor="start" font-family="Liberation Sans, sans-serif" font-weight="bold" font-size="20.4">B<tspan font-size="16" dy="10">T</tspan></text>
<line x1="772.6" y1="253" x2="842" y2="253" stroke="#008000" stroke-width="1.5"/>
<text transform="translate(851 252.4) scale(1.16 1)" text-anchor="start" font-family="Liberation Sans, sans-serif" font-weight="bold" font-size="20.4">B<tspan font-size="16" dy="10">X</tspan></text>
<rect x="636.5" y="402" width="253.5" height="46.4" fill="#fff" stroke="#1a1a1a" stroke-width="1.6"/>
<line x1="651" y1="425" x2="721" y2="425" stroke="#0000ff" stroke-width="1.5"/>
<text transform="translate(729 424) scale(1.16 1)" text-anchor="start" font-family="Liberation Sans, sans-serif" font-weight="bold" font-size="20.4">B<tspan font-size="16" dy="10">Y</tspan></text>
<line x1="772.6" y1="425" x2="842" y2="425" stroke="#ff0000" stroke-width="1.5"/>
<text transform="translate(851 424) scale(1.16 1)" text-anchor="start" font-family="Liberation Sans, sans-serif" font-weight="bold" font-size="20.4">B<tspan font-size="16" dy="10">Z</tspan></text>
<rect x="590" y="563" width="247.8" height="37" fill="#fff" stroke="#1a1a1a" stroke-width="1.6"/>
<line x1="604.4" y1="582" x2="674.7" y2="582" stroke="#008000" stroke-width="1.5"/>
<text transform="translate(683.7 589) scale(1.16 1)" text-anchor="start" font-family="Liberation Sans, sans-serif" font-weight="bold" font-size="20.4">Plasma Beta</text>
<rect x="572.6" y="601" width="271.2" height="37" fill="#fff" stroke="#1a1a1a" stroke-width="1.6"/>
<line x1="587" y1="619.6" x2="658.2" y2="619.6" stroke="#bf00bf" stroke-width="1.5"/>
<text transform="translate(665.7 626.8) scale(1.16 1)" text-anchor="start" font-family="Liberation Sans, sans-serif" font-weight="bold" font-size="20.4">Plasma Speed</text>
<rect x="644" y="750" width="249.7" height="37.6" fill="#fff" stroke="#1a1a1a" stroke-width="1.6"/>
<line x1="658" y1="768.4" x2="729" y2="768.4" stroke="#008000" stroke-width="1.5"/>
<text transform="translate(737.5 775.6) scale(1.16 1)" text-anchor="start" font-family="Liberation Sans, sans-serif" font-weight="bold" font-size="20.4">Temperature</text>
<rect x="616.5" y="803" width="276.3" height="38" fill="#fff" stroke="#1a1a1a" stroke-width="1.6"/>
<line x1="631" y1="822" x2="701.5" y2="822" stroke="#bf00bf" stroke-width="1.5"/>
<text transform="translate(709.6 829.2) scale(1.16 1)" text-anchor="start" font-family="Liberation Sans, sans-serif" font-weight="bold" font-size="20.4">Proton Density</text>
<rect x="213.7" y="1082.3" width="682.3" height="38.4" fill="#fff" stroke="#1a1a1a" stroke-width="1.6"/>
<line x1="228" y1="1101" x2="296.4" y2="1101" stroke="#ff00ff" stroke-width="2.5"/>
<text transform="translate(305 1109) scale(1.16 1)" text-anchor="start" font-family="Liberation Sans, sans-serif" font-weight="bold" font-size="20.4">Mean</text>
<line x1="380.6" y1="1101" x2="450.7" y2="1101" stroke="#008000" stroke-width="2.5"/>
<text transform="translate(458 1109) scale(1.16 1)" text-anchor="start" font-family="Liberation Sans, sans-serif" font-weight="bold" font-size="20.4">0–2GV</text>
<line x1="543" y1="1101" x2="611.5" y2="1101" stroke="#0000ff" stroke-width="2.5"/>
<text transform="translate(619.6 1109) scale(1.16 1)" text-anchor="start" font-family="Liberation Sans, sans-serif" font-weight="bold" font-size="20.4">2–4.5GV</text>
<line x1="725" y1="1101" x2="793.7" y2="1101" stroke="#ff0000" stroke-width="2.5"/>
<text transform="translate(802 1109) scale(1.16 1)" text-anchor="start" font-family="Liberation Sans, sans-serif" font-weight="bold" font-size="20.4">&gt;4.5GV</text>
<rect x="637.7" y="1259" width="251.3" height="46.3" fill="#fff" stroke="#1a1a1a" stroke-width="1.6"/>
<line x1="652" y1="1281.7" x2="720.8" y2="1281.7" stroke="#ff00ff" stroke-width="2.5"/>
<text transform="translate(729.6 1281) scale(1.16 1)" text-anchor="start" font-family="Liberation Sans, sans-serif" font-weight="bold" font-size="20.4">B<tspan font-size="16" dy="10">T</tspan></text>
<line x1="771.6" y1="1281.7" x2="841.8" y2="1281.7" stroke="#008000" stroke-width="2.5"/>
<text transform="translate(850 1281) scale(1.16 1)" text-anchor="start" font-family="Liberation Sans, sans-serif" font-weight="bold" font-size="20.4">B<tspan font-size="16" dy="10">X</tspan></text>
<rect x="636.9" y="1435.5" width="251.6" height="46.8" fill="#fff" stroke="#1a1a1a" stroke-width="1.6"/>
<line x1="651.5" y1="1458" x2="720.8" y2="1458" stroke="#0000ff" stroke-width="2.5"/>
<text transform="translate(729 1458) scale(1.16 1)" text-anchor="start" font-family="Liberation Sans, sans-serif" font-weight="bold" font-size="20.4">B<tspan font-size="16" dy="10">Y</tspan></text>
<line x1="773" y1="1458" x2="843" y2="1458" stroke="#ff0000" stroke-width="2.5"/>
<text transform="translate(851.4 1458) scale(1.16 1)" text-anchor="start" font-family="Liberation Sans, sans-serif" font-weight="bold" font-size="20.4">B<tspan font-size="16" dy="10">Z</tspan></text>
<rect x="198.3" y="1612.3" width="266.5" height="36.2" fill="#fff" stroke="#1a1a1a" stroke-width="1.6"/>
<line x1="212" y1="1630.5" x2="281.2" y2="1630.5" stroke="#bf00bf" stroke-width="2.5"/>
<text transform="translate(290 1637.6) scale(1.16 1)" text-anchor="start" font-family="Liberation Sans, sans-serif" font-weight="bold" font-size="20.4">Plasma Speed</text>
<rect x="636.9" y="1654.5" width="244.7" height="37.1" fill="#fff" stroke="#1a1a1a" stroke-width="1.6"/>
<line x1="650.6" y1="1672.4" x2="720.8" y2="1672.4" stroke="#008000" stroke-width="2.5"/>
<text transform="translate(728.5 1679.6) scale(1.16 1)" text-anchor="start" font-family="Liberation Sans, sans-serif" font-weight="bold" font-size="20.4">Plasma Beta</text>
<rect x="334.3" y="1795" width="272.5" height="38.5" fill="#fff" stroke="#1a1a1a" stroke-width="1.6"/>
<line x1="348" y1="1813.6" x2="417" y2="1813.6" stroke="#bf00bf" stroke-width="2.5"/>
<text transform="translate(426 1820.8) scale(1.16 1)" text-anchor="start" font-family="Liberation Sans, sans-serif" font-weight="bold" font-size="20.4">Proton Density</text>
<rect x="645" y="1791" width="247.6" height="38" fill="#fff" stroke="#1a1a1a" stroke-width="1.6"/>
<line x1="658.9" y1="1808.9" x2="729" y2="1808.9" stroke="#008000" stroke-width="2.5"/>
<text transform="translate(737.3 1816.1) scale(1.16 1)" text-anchor="start" font-family="Liberation Sans, sans-serif" font-weight="bold" font-size="20.4">Temperature</text>
<line x1="248.6" y1="51" x2="248.6" y2="919.5" stroke="#ff0000" stroke-width="3.0" stroke-dasharray="12.2 12.2" stroke-dashoffset="19.8"/>
<line x1="344.4" y1="51" x2="344.4" y2="919.5" stroke="#ff0000" stroke-width="3.0" stroke-dasharray="12.2 12.2" stroke-dashoffset="23.8"/>
<line x1="369.5" y1="51" x2="369.5" y2="919.5" stroke="#000" stroke-width="3.0" stroke-dasharray="12.2 12.2" stroke-dashoffset="22.2"/>
<line x1="264" y1="1082.3" x2="264" y2="1962.8" stroke="#ff0000" stroke-width="2.6" stroke-dasharray="12.3 12.3" stroke-dashoffset="22.3"/>
<line x1="722" y1="1082.3" x2="722" y2="1962.8" stroke="#ff0000" stroke-width="2.6" stroke-dasharray="12.3 12.3" stroke-dashoffset="22.3"/>
<line x1="416" y1="1082.3" x2="416" y2="1962.8" stroke="#000" stroke-width="3.0" stroke-dasharray="12.3 12.3" stroke-dashoffset="23.5"/>
<line x1="516" y1="1082.3" x2="516" y2="1962.8" stroke="#000" stroke-width="3.0" stroke-dasharray="12.3 12.3" stroke-dashoffset="22.1"/>
<line x1="878.5" y1="1082.3" x2="878.5" y2="1962.8" stroke="#000" stroke-width="3.0" stroke-dasharray="12.3 12.3" stroke-dashoffset="22.5"/>
<text transform="translate(344.2 1078.3) scale(1.16 1)" text-anchor="middle" font-family="Liberation Sans, sans-serif" font-weight="bold" font-size="20.4">1</text>
<text transform="translate(462.8 1078.3) scale(1.16 1)" text-anchor="middle" font-family="Liberation Sans, sans-serif" font-weight="bold" font-size="20.4">2</text>
<text transform="translate(614.6 1078.3) scale(1.16 1)" text-anchor="middle" font-family="Liberation Sans, sans-serif" font-weight="bold" font-size="20.4">3</text>
<text transform="translate(787.3 1078.3) scale(1.16 1)" text-anchor="middle" font-family="Liberation Sans, sans-serif" font-weight="bold" font-size="20.4">4</text>
<text transform="translate(86.6 31.7) scale(1.0 1)" text-anchor="start" font-family="DejaVu Sans, sans-serif" font-weight="normal" font-size="40.3">(A)</text>
<text transform="translate(149.2 1066) scale(1.0 1)" text-anchor="start" font-family="DejaVu Sans, sans-serif" font-weight="normal" font-size="39.4">(B)</text>
<polyline points="222,948 222,971.2 98.8,1082" fill="none" stroke="#1a1a1a" stroke-width="1.6"/>
<polyline points="379.2,948 379.2,971.2 899,1082" fill="none" stroke="#1a1a1a" stroke-width="1.6"/>
</svg>
</body></html>
